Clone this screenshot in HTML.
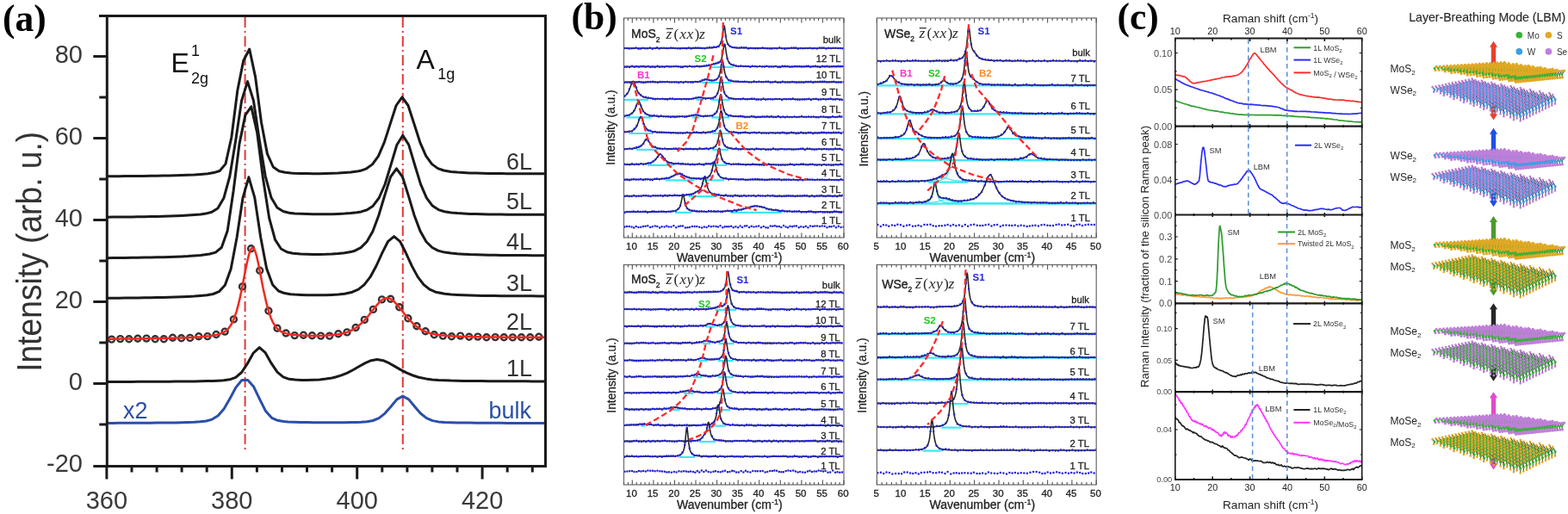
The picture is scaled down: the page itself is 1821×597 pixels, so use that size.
<!DOCTYPE html>
<html><head><meta charset="utf-8"><title>Raman figure</title>
<style>html,body{margin:0;padding:0;background:#fff;overflow:hidden}svg{display:block}</style></head>
<body><svg width="1821" height="597" viewBox="0 0 1821 597">
<rect width="1821" height="597" fill="#fff"/>
<line x1="284.6" y1="20" x2="284.6" y2="523" stroke="#e23a3a" stroke-width="2" stroke-dasharray="12,4,2,4"/>
<line x1="467.8" y1="20" x2="467.8" y2="523" stroke="#e23a3a" stroke-width="2" stroke-dasharray="12,4,2,4"/>
<path d="M123.9,204.8 131.2,204.8 138.4,204.7 145.7,204.6 153.0,204.5 160.2,204.5 167.5,204.4 174.8,204.3 182.1,204.2 189.3,204.0 196.6,203.9 203.9,203.7 211.1,203.5 218.4,203.2 225.7,202.9 232.9,202.4 241.3,201.7 248.2,200.6 255.1,198.5 262.0,190.4 268.9,159.2 275.8,105.2 282.7,70.5 289.7,57.0 296.6,89.4 303.5,142.3 310.4,178.6 317.3,194.0 324.2,198.7 331.1,200.2 338.0,200.9 342.0,201.2 349.3,201.5 356.5,201.6 363.8,201.7 371.1,201.7 378.4,201.5 385.6,201.3 392.9,201.1 400.2,200.6 407.4,200.0 414.7,199.1 418.7,198.3 425.6,195.8 432.5,190.9 439.4,181.3 446.3,165.4 453.2,143.9 460.1,122.5 467.0,112.8 474.0,122.5 480.9,143.8 487.8,165.3 494.7,181.1 501.6,190.6 508.5,195.6 515.4,198.0 523.8,199.4 531.0,200.1 538.3,200.5 545.6,200.9 552.8,201.1 560.1,201.3 567.4,201.4 574.6,201.6 581.9,201.6 589.2,201.7 596.4,201.7 603.7,201.8 611.0,201.8 618.3,201.8 625.5,201.8 632.8,201.8" fill="none" stroke="#1a1a1a" stroke-width="3" stroke-linejoin="round"/>
<path d="M123.9,252.2 131.2,252.1 138.4,252.1 145.7,252.0 153.0,251.9 160.2,251.8 167.5,251.7 174.8,251.5 182.1,251.4 189.3,251.2 196.6,251.0 203.9,250.8 211.1,250.5 218.4,250.1 225.7,249.6 232.9,249.0 239.1,248.1 246.0,246.3 252.9,241.9 259.8,230.3 266.8,205.0 273.7,163.3 280.6,116.9 287.5,94.6 294.4,116.8 301.3,163.0 308.2,204.6 315.1,229.8 322.0,241.2 328.9,245.5 335.8,247.2 342.0,247.9 349.3,248.3 356.5,248.6 363.8,248.8 371.1,248.8 378.4,248.8 385.6,248.7 392.9,248.4 400.2,248.1 407.4,247.6 414.7,246.7 419.4,245.9 426.3,243.8 433.2,239.2 440.1,230.0 447.1,214.0 454.0,191.4 460.9,168.2 467.8,157.3 474.7,168.1 481.6,191.3 488.5,213.9 495.4,229.9 502.3,239.1 509.2,243.6 516.1,245.7 523.8,246.9 531.0,247.6 538.3,248.0 545.6,248.4 552.8,248.6 560.1,248.8 567.4,248.9 574.6,249.0 581.9,249.1 589.2,249.2 596.4,249.2 603.7,249.3 611.0,249.3 618.3,249.3 625.5,249.3 632.8,249.3" fill="none" stroke="#1a1a1a" stroke-width="3" stroke-linejoin="round"/>
<path d="M123.9,299.7 131.2,299.6 138.4,299.5 145.7,299.4 153.0,299.3 160.2,299.2 167.5,299.1 174.8,299.0 182.1,298.8 189.3,298.7 196.6,298.5 203.9,298.2 211.1,297.9 218.4,297.6 225.7,297.1 232.9,296.5 243.5,295.0 250.4,293.1 257.3,287.5 264.2,268.1 271.1,221.8 278.0,167.1 284.9,133.6 291.8,123.8 298.7,154.5 305.6,208.0 312.6,253.0 319.5,278.4 326.4,289.0 333.3,292.8 340.2,294.2 349.3,295.0 356.5,295.3 363.8,295.5 371.1,295.4 378.4,295.3 385.6,295.0 392.9,294.5 400.2,293.8 407.4,292.6 412.2,291.2 419.1,287.6 426.0,280.8 432.9,268.7 439.8,250.3 446.7,227.2 453.6,205.4 460.5,195.8 467.4,205.3 474.3,227.1 481.2,250.3 488.1,268.6 495.0,280.7 501.9,287.5 508.8,291.1 516.5,293.1 523.8,294.1 531.0,294.8 538.3,295.2 545.6,295.6 552.8,295.8 560.1,296.0 567.4,296.2 574.6,296.3 581.9,296.4 589.2,296.5 596.4,296.6 603.7,296.6 611.0,296.6 618.3,296.7 625.5,296.7 632.8,296.7" fill="none" stroke="#1a1a1a" stroke-width="3" stroke-linejoin="round"/>
<path d="M123.9,346.3 131.2,346.2 138.4,346.2 145.7,346.1 153.0,346.0 160.2,345.9 167.5,345.8 174.8,345.7 182.1,345.6 189.3,345.4 196.6,345.3 203.9,345.1 211.1,344.8 218.4,344.5 225.7,344.1 232.9,343.5 240.6,342.7 247.5,341.5 254.4,338.7 261.3,331.2 268.2,312.2 275.1,275.8 282.0,229.8 288.9,205.8 295.8,229.7 302.7,275.5 309.6,311.8 316.6,330.7 323.5,338.0 330.4,340.6 337.3,341.7 342.0,342.1 349.3,342.5 356.5,342.8 363.8,342.8 371.1,342.8 378.4,342.7 385.6,342.4 392.9,342.0 400.2,341.2 409.2,339.2 416.2,336.2 423.1,330.7 430.0,321.7 436.9,309.0 443.8,293.9 450.7,280.3 457.6,274.6 464.5,280.3 471.4,293.8 478.3,308.9 485.2,321.6 492.1,330.6 499.0,336.1 505.9,339.2 516.5,341.3 523.8,342.1 531.0,342.5 538.3,342.8 545.6,343.1 552.8,343.3 560.1,343.4 567.4,343.5 574.6,343.6 581.9,343.7 589.2,343.7 596.4,343.8 603.7,343.8 611.0,343.8 618.3,343.8 625.5,343.9 632.8,343.9" fill="none" stroke="#1a1a1a" stroke-width="3" stroke-linejoin="round"/>
<path d="M123.9,491.4 131.2,491.4 138.4,491.3 145.7,491.3 153.0,491.3 160.2,491.3 167.5,491.2 174.8,491.2 182.1,491.1 189.3,491.1 196.6,491.0 203.9,490.9 211.1,490.7 218.4,490.5 225.7,490.3 232.6,489.8 239.5,489.0 246.4,487.1 253.3,482.8 260.2,474.7 267.1,462.8 274.0,449.9 280.9,441.5 287.8,441.5 294.7,449.3 301.7,463.9 308.6,477.6 315.5,485.3 322.4,488.3 329.3,489.5 334.7,489.9 342.0,490.2 349.3,490.4 356.5,490.6 363.8,490.7 371.1,490.8 378.4,490.8 385.6,490.8 392.9,490.8 400.2,490.7 407.4,490.6 414.7,490.5 419.4,490.3 426.3,489.7 433.2,488.5 440.1,485.6 447.1,480.1 454.0,472.2 460.9,463.9 467.8,460.1 474.7,463.9 481.6,472.2 488.5,480.2 495.4,485.6 502.3,488.6 509.2,489.9 516.1,490.4 523.8,490.7 531.0,490.9 538.3,491.0 545.6,491.1 552.8,491.2 560.1,491.2 567.4,491.3 574.6,491.3 581.9,491.3 589.2,491.4 596.4,491.4 603.7,491.4 611.0,491.4 618.3,491.4 625.5,491.4 632.8,491.4" fill="none" stroke="#2a4fa8" stroke-width="3" stroke-linejoin="round"/>
<path d="M123.9,443.4 131.2,443.4 138.4,443.4 145.7,443.4 153.0,443.4 160.2,443.3 167.5,443.3 174.8,443.3 182.1,443.2 189.3,443.2 196.6,443.2 203.9,443.1 211.1,443.1 218.4,443.0 225.7,442.9 232.9,442.8 240.2,442.6 247.5,442.4 252.9,442.2 259.8,441.8 266.8,440.8 273.7,438.3 280.6,432.5 287.5,422.1 294.4,409.8 301.3,403.6 308.2,409.7 315.1,421.9 322.0,432.2 328.9,437.9 335.8,440.3 342.7,441.1 349.6,441.4 356.5,441.4 363.8,441.2 371.1,440.9 378.4,440.1 385.6,439.0 389.6,438.0 396.5,435.9 403.4,433.1 410.3,429.5 417.2,425.5 424.2,421.6 431.1,418.7 438.0,417.5 444.9,418.7 451.8,421.7 458.7,425.6 465.6,429.6 472.5,433.1 479.4,436.0 486.3,438.2 494.7,439.9 501.9,440.9 509.2,441.5 516.5,441.8 523.8,442.1 531.0,442.2 538.3,442.4 545.6,442.5 552.8,442.5 560.1,442.6 567.4,442.7 574.6,442.7 581.9,442.7 589.2,442.8 596.4,442.8 603.7,442.8 611.0,442.8 618.3,442.9 625.5,442.9 632.8,442.9" fill="none" stroke="#1a1a1a" stroke-width="3" stroke-linejoin="round"/>
<circle cx="129.6" cy="394.1" r="3.5" fill="none" stroke="#333" stroke-width="2.4"/>
<circle cx="139.7" cy="393.6" r="3.5" fill="none" stroke="#333" stroke-width="2.4"/>
<circle cx="149.8" cy="393.7" r="3.5" fill="none" stroke="#333" stroke-width="2.4"/>
<circle cx="160.0" cy="393.3" r="3.5" fill="none" stroke="#333" stroke-width="2.4"/>
<circle cx="170.1" cy="393.1" r="3.5" fill="none" stroke="#333" stroke-width="2.4"/>
<circle cx="180.2" cy="393.8" r="3.5" fill="none" stroke="#333" stroke-width="2.4"/>
<circle cx="190.3" cy="393.7" r="3.5" fill="none" stroke="#333" stroke-width="2.4"/>
<circle cx="200.5" cy="392.2" r="3.5" fill="none" stroke="#333" stroke-width="2.4"/>
<circle cx="210.6" cy="392.8" r="3.5" fill="none" stroke="#333" stroke-width="2.4"/>
<circle cx="220.7" cy="392.4" r="3.5" fill="none" stroke="#333" stroke-width="2.4"/>
<circle cx="230.8" cy="390.7" r="3.5" fill="none" stroke="#333" stroke-width="2.4"/>
<circle cx="241.0" cy="390.6" r="3.5" fill="none" stroke="#333" stroke-width="2.4"/>
<circle cx="251.1" cy="388.5" r="3.5" fill="none" stroke="#333" stroke-width="2.4"/>
<circle cx="261.2" cy="385.1" r="3.5" fill="none" stroke="#333" stroke-width="2.4"/>
<circle cx="271.4" cy="370.9" r="3.5" fill="none" stroke="#333" stroke-width="2.4"/>
<circle cx="281.5" cy="332.9" r="3.5" fill="none" stroke="#333" stroke-width="2.4"/>
<circle cx="291.6" cy="288.8" r="3.5" fill="none" stroke="#333" stroke-width="2.4"/>
<circle cx="301.7" cy="314.2" r="3.5" fill="none" stroke="#333" stroke-width="2.4"/>
<circle cx="311.9" cy="361.0" r="3.5" fill="none" stroke="#333" stroke-width="2.4"/>
<circle cx="322.0" cy="381.3" r="3.5" fill="none" stroke="#333" stroke-width="2.4"/>
<circle cx="332.1" cy="387.0" r="3.5" fill="none" stroke="#333" stroke-width="2.4"/>
<circle cx="342.2" cy="389.6" r="3.5" fill="none" stroke="#333" stroke-width="2.4"/>
<circle cx="352.4" cy="389.3" r="3.5" fill="none" stroke="#333" stroke-width="2.4"/>
<circle cx="362.5" cy="389.8" r="3.5" fill="none" stroke="#333" stroke-width="2.4"/>
<circle cx="372.6" cy="390.1" r="3.5" fill="none" stroke="#333" stroke-width="2.4"/>
<circle cx="382.7" cy="390.1" r="3.5" fill="none" stroke="#333" stroke-width="2.4"/>
<circle cx="392.9" cy="387.8" r="3.5" fill="none" stroke="#333" stroke-width="2.4"/>
<circle cx="403.0" cy="385.9" r="3.5" fill="none" stroke="#333" stroke-width="2.4"/>
<circle cx="413.1" cy="380.5" r="3.5" fill="none" stroke="#333" stroke-width="2.4"/>
<circle cx="423.3" cy="371.4" r="3.5" fill="none" stroke="#333" stroke-width="2.4"/>
<circle cx="433.4" cy="359.4" r="3.5" fill="none" stroke="#333" stroke-width="2.4"/>
<circle cx="443.5" cy="347.9" r="3.5" fill="none" stroke="#333" stroke-width="2.4"/>
<circle cx="453.6" cy="347.3" r="3.5" fill="none" stroke="#333" stroke-width="2.4"/>
<circle cx="463.8" cy="356.7" r="3.5" fill="none" stroke="#333" stroke-width="2.4"/>
<circle cx="473.9" cy="369.8" r="3.5" fill="none" stroke="#333" stroke-width="2.4"/>
<circle cx="484.0" cy="378.8" r="3.5" fill="none" stroke="#333" stroke-width="2.4"/>
<circle cx="494.1" cy="384.7" r="3.5" fill="none" stroke="#333" stroke-width="2.4"/>
<circle cx="504.3" cy="388.8" r="3.5" fill="none" stroke="#333" stroke-width="2.4"/>
<circle cx="514.4" cy="390.1" r="3.5" fill="none" stroke="#333" stroke-width="2.4"/>
<circle cx="524.5" cy="390.8" r="3.5" fill="none" stroke="#333" stroke-width="2.4"/>
<circle cx="534.7" cy="390.1" r="3.5" fill="none" stroke="#333" stroke-width="2.4"/>
<circle cx="544.8" cy="391.2" r="3.5" fill="none" stroke="#333" stroke-width="2.4"/>
<circle cx="554.9" cy="391.1" r="3.5" fill="none" stroke="#333" stroke-width="2.4"/>
<circle cx="565.0" cy="391.8" r="3.5" fill="none" stroke="#333" stroke-width="2.4"/>
<circle cx="575.2" cy="391.6" r="3.5" fill="none" stroke="#333" stroke-width="2.4"/>
<circle cx="585.3" cy="391.8" r="3.5" fill="none" stroke="#333" stroke-width="2.4"/>
<circle cx="595.4" cy="391.9" r="3.5" fill="none" stroke="#333" stroke-width="2.4"/>
<circle cx="605.5" cy="391.7" r="3.5" fill="none" stroke="#333" stroke-width="2.4"/>
<circle cx="615.7" cy="391.7" r="3.5" fill="none" stroke="#333" stroke-width="2.4"/>
<circle cx="625.8" cy="391.2" r="3.5" fill="none" stroke="#333" stroke-width="2.4"/>
<path d="M123.9,393.8 125.7,393.8 127.5,393.7 129.4,393.7 131.2,393.7 133.0,393.7 134.8,393.7 136.6,393.7 138.4,393.7 140.3,393.6 142.1,393.6 143.9,393.6 145.7,393.6 147.5,393.6 149.3,393.5 151.2,393.5 153.0,393.5 154.8,393.5 156.6,393.5 158.4,393.4 160.2,393.4 162.1,393.4 163.9,393.4 165.7,393.4 167.5,393.3 169.3,393.3 171.2,393.3 173.0,393.3 174.8,393.2 176.6,393.2 178.4,393.2 180.2,393.1 182.1,393.1 183.9,393.1 185.7,393.0 187.5,393.0 189.3,393.0 191.1,392.9 193.0,392.9 194.8,392.9 196.6,392.8 198.4,392.8 200.2,392.7 202.1,392.7 203.9,392.6 205.7,392.6 207.5,392.5 209.3,392.5 211.1,392.4 213.0,392.3 214.8,392.3 216.6,392.2 218.4,392.1 220.2,392.0 222.0,391.9 223.9,391.9 225.7,391.7 227.5,391.6 229.3,391.5 231.1,391.4 232.9,391.3 234.8,391.1 236.6,391.0 238.4,390.8 240.2,390.6 242.0,390.4 243.9,390.2 245.7,389.9 247.5,389.6 249.3,389.3 251.1,388.9 252.9,388.5 254.8,388.0 256.6,387.4 258.4,386.7 260.2,385.7 262.0,384.5 263.8,383.0 265.7,381.1 267.5,378.6 269.3,375.5 271.1,371.7 272.9,366.9 274.8,361.3 276.6,354.7 278.4,347.1 280.2,338.7 282.0,329.6 283.8,320.2 285.7,310.8 287.5,302.2 289.3,294.9 291.1,289.9 292.9,287.6 294.7,288.6 296.6,292.5 298.4,298.9 300.2,307.1 302.0,316.2 303.8,325.6 305.6,334.9 307.5,343.5 309.3,351.4 311.1,358.4 312.9,364.4 314.7,369.4 316.6,373.6 318.4,376.9 320.2,379.6 322.0,381.7 323.8,383.3 325.6,384.6 327.5,385.5 329.3,386.3 331.1,386.9 332.9,387.4 334.7,387.8 336.5,388.2 338.4,388.5 340.2,388.7 342.0,388.9 343.8,389.1 345.6,389.3 347.5,389.4 349.3,389.5 351.1,389.6 352.9,389.7 354.7,389.8 356.5,389.8 358.4,389.9 360.2,389.9 362.0,389.9 363.8,389.9 365.6,390.0 367.4,389.9 369.3,389.9 371.1,389.9 372.9,389.9 374.7,389.8 376.5,389.7 378.4,389.7 380.2,389.6 382.0,389.5 383.8,389.3 385.6,389.2 387.4,389.0 389.3,388.8 391.1,388.6 392.9,388.3 394.7,388.0 396.5,387.7 398.3,387.2 400.2,386.8 402.0,386.2 403.8,385.6 405.6,384.9 407.4,384.1 409.2,383.1 411.1,382.1 412.9,381.0 414.7,379.7 416.5,378.3 418.3,376.8 420.2,375.1 422.0,373.3 423.8,371.4 425.6,369.3 427.4,367.2 429.2,364.9 431.1,362.6 432.9,360.3 434.7,358.0 436.5,355.7 438.3,353.6 440.1,351.6 442.0,349.8 443.8,348.3 445.6,347.2 447.4,346.4 449.2,346.1 451.0,346.2 452.9,346.8 454.7,347.8 456.5,349.2 458.3,350.8 460.1,352.8 462.0,354.9 463.8,357.1 465.6,359.4 467.4,361.7 469.2,364.1 471.0,366.3 472.9,368.5 474.7,370.6 476.5,372.6 478.3,374.4 480.1,376.2 481.9,377.8 483.8,379.2 485.6,380.6 487.4,381.8 489.2,382.9 491.0,383.8 492.9,384.7 494.7,385.5 496.5,386.1 498.3,386.7 500.1,387.2 501.9,387.7 503.8,388.1 505.6,388.4 507.4,388.7 509.2,389.0 511.0,389.2 512.8,389.5 514.7,389.6 516.5,389.8 518.3,389.9 520.1,390.1 521.9,390.2 523.8,390.3 525.6,390.4 527.4,390.5 529.2,390.6 531.0,390.7 532.8,390.7 534.7,390.8 536.5,390.9 538.3,390.9 540.1,391.0 541.9,391.0 543.7,391.1 545.6,391.1 547.4,391.2 549.2,391.2 551.0,391.2 552.8,391.3 554.6,391.3 556.5,391.3 558.3,391.4 560.1,391.4 561.9,391.4 563.7,391.5 565.6,391.5 567.4,391.5 569.2,391.5 571.0,391.5 572.8,391.6 574.6,391.6 576.5,391.6 578.3,391.6 580.1,391.6 581.9,391.6 583.7,391.7 585.5,391.7 587.4,391.7 589.2,391.7 591.0,391.7 592.8,391.7 594.6,391.7 596.4,391.7 598.3,391.7 600.1,391.8 601.9,391.8 603.7,391.8 605.5,391.8 607.4,391.8 609.2,391.8 611.0,391.8 612.8,391.8 614.6,391.8 616.4,391.8 618.3,391.8 620.1,391.8 621.9,391.8 623.7,391.8 625.5,391.8 627.3,391.8 629.2,391.8 631.0,391.8 632.8,391.8" fill="none" stroke="#ee2a22" stroke-width="2.5" stroke-linejoin="round"/>
<g stroke="#1a1a1a" stroke-width="3" fill="none" stroke-linecap="butt">
<path d="M115,18.5 H633.5 V541.5 H124.3 V18.5"/>
<line x1="108.3" y1="541.5" x2="124.3" y2="541.5"/>
<line x1="115.3" y1="493.0" x2="124.3" y2="493.0"/>
<line x1="108.3" y1="445.5" x2="124.3" y2="445.5"/>
<line x1="115.3" y1="398.0" x2="124.3" y2="398.0"/>
<line x1="108.3" y1="350.5" x2="124.3" y2="350.5"/>
<line x1="115.3" y1="303.0" x2="124.3" y2="303.0"/>
<line x1="108.3" y1="255.5" x2="124.3" y2="255.5"/>
<line x1="115.3" y1="208.0" x2="124.3" y2="208.0"/>
<line x1="108.3" y1="160.5" x2="124.3" y2="160.5"/>
<line x1="115.3" y1="113.0" x2="124.3" y2="113.0"/>
<line x1="108.3" y1="65.5" x2="124.3" y2="65.5"/>
<line x1="123.9" y1="541.5" x2="123.9" y2="556.5"/>
<line x1="153.0" y1="541.5" x2="153.0" y2="548.5"/>
<line x1="182.1" y1="541.5" x2="182.1" y2="548.5"/>
<line x1="211.1" y1="541.5" x2="211.1" y2="548.5"/>
<line x1="240.2" y1="541.5" x2="240.2" y2="548.5"/>
<line x1="269.3" y1="541.5" x2="269.3" y2="556.5"/>
<line x1="298.4" y1="541.5" x2="298.4" y2="548.5"/>
<line x1="327.5" y1="541.5" x2="327.5" y2="548.5"/>
<line x1="356.5" y1="541.5" x2="356.5" y2="548.5"/>
<line x1="385.6" y1="541.5" x2="385.6" y2="548.5"/>
<line x1="414.7" y1="541.5" x2="414.7" y2="556.5"/>
<line x1="443.8" y1="541.5" x2="443.8" y2="548.5"/>
<line x1="472.9" y1="541.5" x2="472.9" y2="548.5"/>
<line x1="501.9" y1="541.5" x2="501.9" y2="548.5"/>
<line x1="531.0" y1="541.5" x2="531.0" y2="548.5"/>
<line x1="560.1" y1="541.5" x2="560.1" y2="556.5"/>
<line x1="589.2" y1="541.5" x2="589.2" y2="548.5"/>
<line x1="618.3" y1="541.5" x2="618.3" y2="548.5"/>
</g>
<g font-family="Liberation Sans, Arial, sans-serif" font-size="29" fill="#3a3a3a">
<text x="96" y="547.7" text-anchor="end">-20</text>
<text x="96" y="452.7" text-anchor="end">0</text>
<text x="96" y="357.7" text-anchor="end">20</text>
<text x="96" y="262.7" text-anchor="end">40</text>
<text x="96" y="167.7" text-anchor="end">60</text>
<text x="96" y="72.7" text-anchor="end">80</text>
<text x="123.9" y="591" text-anchor="middle">360</text>
<text x="269.3" y="591" text-anchor="middle">380</text>
<text x="414.7" y="591" text-anchor="middle">400</text>
<text x="560.1" y="591" text-anchor="middle">420</text>
</g>
<g font-family="Liberation Sans, Arial, sans-serif" font-size="27" fill="#333">
<text x="618" y="197" text-anchor="end">6L</text>
<text x="618" y="242.5" text-anchor="end">5L</text>
<text x="618" y="290" text-anchor="end">4L</text>
<text x="618" y="337.5" text-anchor="end">3L</text>
<text x="618" y="383" text-anchor="end">2L</text>
<text x="618" y="437" text-anchor="end">1L</text>
</g>
<text x="617" y="486" text-anchor="end" font-family="Liberation Sans, Arial, sans-serif" font-size="27" fill="#2a4fa8">bulk</text>
<text x="143" y="486" font-family="Liberation Sans, Arial, sans-serif" font-size="27" fill="#2a4fa8">x2</text>
<g font-family="Liberation Sans, Arial, sans-serif" fill="#111">
<text x="198.5" y="83.6" font-size="32">E</text>
<text x="222" y="64.8" font-size="18">1</text>
<text x="222" y="97" font-size="18">2g</text>
<text x="483.5" y="79.5" font-size="32">A</text>
<text x="508.3" y="91.6" font-size="18">1g</text>
</g>
<text transform="translate(47.6,292.3) rotate(-90)" text-anchor="middle" font-family="Liberation Sans, Arial, sans-serif" font-size="40.5" fill="#333" textLength="279" lengthAdjust="spacingAndGlyphs">Intensity (arb. u.)</text>
<text x="3" y="36.3" font-family="Liberation Serif, Times New Roman, serif" font-weight="bold" font-size="43.5" fill="#000">(a)</text>
<defs><clipPath id="cb1"><rect x="724.5" y="21" width="255.5" height="255"/></clipPath><clipPath id="cb2"><rect x="1018.4" y="21" width="254.8" height="255"/></clipPath><clipPath id="cb3"><rect x="724.5" y="307.5" width="255.5" height="255.5"/></clipPath><clipPath id="cb4"><rect x="1018.4" y="307.5" width="254.8" height="255.5"/></clipPath></defs>
<g clip-path="url(#cb1)">
<path d="M724.5,56l2.9,0 3,0 2.9,0 3,0 2.9,0 3,0 2.9,0 3,0 2.9,0 3,0 2.9,0 3,0 2.9,0 3,0 2.9,0 3,0 2.9,0 3,0 2.9,0 3,0 2.9,0 3,0 2.9,0 3-.1 2.9,0 2.9,0 3,0 2.9,0 3,0 2.9,0 3-.1 2.9,0 3-.1 2.9-.1 3-.2 2.9-.4 1.1-.2 1-.4 .9-.3 .1-.1 1.1-.7 1-1 .7-1 .3-.6 1.1-2.9 .5-2.1 .5-3 .5-3.7 .1-.5 .4-3.7 .5-3.7 .5-1.6 .6,1.6 .5,3.7 .4,3.7 .1,.5 .5,3.7 .5,3 .5,2.1 .6,1.7 .5,1.2 .3,.6 .7,1 1,1.1 1.1,.6 .1,.1 .9,.3 1,.4 1.1,.2 2.9,.4 3,.2 2.9,.1 3,.1 2.9,0 3,.1 2.9,0 3,0 2.9,0 2.9,0 3,0 2.9,0 3,.1 2.9,0 3,0 2.9,0 3,0 2.9,0 3,0 2.9,0 3,0 2.9,0 3,0 2.9,0 3,0 2.9,0 3,0 2.9,0 3,0 2.9,0 3,0 2.9,0 3,0 2.9,0 3,0 2.9,0 2.9,0 3,0 2.9,0 3,0 2.9,0 3,0 2.9,0" fill="none" stroke="#262626" stroke-width="1.6" stroke-linejoin="round"/>
<path d="M725.5,56.1h0m2.7,0h0m2.5,.3h0m2.9-.2h0m2.5-.2h0m2.6-.4h0m2.9,1.1h0m2.5-.2h0m2.7-.7h0m2.6,.4h0m2.7,0h0m2.8-.7h0m2.8,1.2h0m3-.6h0m2.4-.8h0m2.5,1.3h0m2.6-.8h0m2.9-.1h0m2.8,.2h0m2.4,.2h0m2.9-.6h0m2.5,.3h0m2.5,.2h0m2.9,.2h0m2.7,.3h0m2.5-.5h0m2.6,.1h0m2.5,.2h0m2.4-.8h0m2.9,1h0m2.7-.7h0m2.5-.2h0m2.8-.2h0m2.5,.4h0m2.5,.2h0m2.8,.2h0m2.7-.7h0m2.7-.6h0m2.8,.3h0m2.6-.6h0m2.7,.2h0m2.6-.8h0m2.8-5.1h0m2.7-15.3h0m2.7,8.2h0m2.5,9.3h0m2.7,2.7h0m2.6,1.2h0m2.7,.3h0m2.5,.1h0m3,.1h0m2.4-.5h0m2.8,.2h0m2.4,.1h0m2.7,1.2h0m2.7-.7h0m2.6,.1h0m2.7,.3h0m3,0h0m2.6-.1h0m3-.6h0m2.5,.6h0m2.8,.1h0m2.8,.2h0m2.6,0h0m3-.5h0m2.9,.4h0m3-1h0m2.9,1h0m3,.4h0m2.6-.5h0m2.5-.1h0m2.9-.5h0m2.6-.2h0m2.5,.2h0m2.5,1.1h0m2.9-.8h0m2.9,.4h0m2.7-.4h0m2.8,.2h0m2.5-.3h0m2.8,.4h0m2.5-.1h0m3,.4h0m2.8-1.1h0m2.6,0h0m2.4,.2h0m2.7,.8h0m2.8-.7h0m2.8,.3h0m2.7-.3h0m2.7,.1h0m2.8,.2h0m2.7,0h0m2.7,.3h0" stroke="#2323dc" stroke-width="2.5" stroke-linecap="round" fill="none"/>
<line x1="823.8" y1="78.0" x2="851.8" y2="78.0" stroke="#3de8f4" stroke-width="2.2"/>
<path d="M724.5,77.4l2.9,0 3,0 2.9,0 3,0 2.9,0 3,0 2.9,0 3,0 2.9,0 3,0 2.9,0 3,0 2.9,0 3,0 2.9,0 3,0 2.9-.1 3,0 2.9,0 3,0 2.9,0 3,0 2.9,0 3,0 2.9,0 2.9-.1 3,0 1.5,0 1.4,0 1-.1 2,0 .5,0 2.4-.1 2.5-.1 .5,0 2-.1 .9-.1 1.5-.1 1.5-.2 1-.2 1.2-.3 .7-.2 .5-.1 1.3-.5 1.2-.5 1.2-.5 .3-.1 .9-.3 .3,0 .2-.1 .8,0 .2,0 1-.1 .2,0 .8-.1 .2-.1 .3,0 1-.5 .2-.2 1-1 .2-.3 1-2 .3-.6 .6-2.1 .3-1.6 .3-1.2 .5-2.8 .1-.8 .4-2.4 .2-1.7 .6-3.6 .6-1.5 .7,1.6 .3,2 .3,1.7 .6,4.2 .6,3.6 .6,2.9 .4,1.4 .2,.8 .3,.7 .3,.9 .7,1.2 .9,1.4 .3,.2 .7,.7 .5,.3 1,.6 .2,.1 1.3,.4 .9,.3 .3,.1 1.2,.2 .5,.1 .5,0 2.5,.3 2.9,.2 3,.1 2.9,.1 3,.1 2.9,0 3,0 2.9,.1 2.9,0 3,0 2.9,0 3,0 2.9,0 3,0 2.9,0 3,0 2.9,0 3,.1 2.9,0 3,0 2.9,0 3,0 2.9,0 3,0 2.9,0 3,0 2.9,0 3,0 2.9,0 3,0 2.9,0 3,0 2.9,0 3,0 2.9,0 2.9,0 3,0 2.9,0 3,0 2.9,0 3,0 2.9,0" fill="none" stroke="#262626" stroke-width="1.6" stroke-linejoin="round"/>
<path d="M725.5,77.8h0m2.6,0h0m3,.3h0m2.9-1.3h0m2.9,1h0m2.4-.7h0m2.6,.6h0m2.7-.6h0m2.5-.2h0m2.5,.9h0m3-.8h0m2.8,1h0m2.5-.5h0m2.7,.5h0m2.9-1.3h0m2.5,1.1h0m2.8-.4h0m2.9,.3h0m2.9-.6h0m2.5,.5h0m2.4-.2h0m2.9-.2h0m2.8-.3h0m2.5,.6h0m2.9,.5h0m2.4-.1h0m2.7-.8h0m2.6,.3h0m2.7-.7h0m2.9,.8h0m2.7,0h0m3-.8h0m2.9,.8h0m2.6-.5h0m2.7-.6h0m2.7-.4h0m2.9-.4h0m2.8-.3h0m3-.9h0m2.6-1h0m2.4-.8h0m2.6-1.2h0m2.5-9.5h0m2.7-9.6h0m2.5,15.5h0m2.5,5.3h0m2.6,1.8h0m2.5,.6h0m2.7,1.3h0m2.7,.3h0m2.9-.7h0m2.9,.7h0m2.7,0h0m2.9-.1h0m2.5,.8h0m2.4-1.1h0m2.9,.3h0m2.5,.5h0m3-.4h0m2.9,.4h0m2.8-.1h0m2.4-.6h0m2.8,.8h0m2.5-.1h0m2.6-.1h0m2.7-.5h0m2.6,1.1h0m2.5-.1h0m2.7-1.1h0m2.9-.1h0m2.9,.4h0m3,.6h0m2.6-.2h0m3-.6h0m2.5,.2h0m2.9-.1h0m2.5,.5h0m2.8-.2h0m2.7-.6h0m2.4,0h0m2.5,1.1h0m2.9-.9h0m2.7-.2h0m2.6,.9h0m2.8,.3h0m2.7-1.1h0m2.7,.5h0m2.6-.6h0m2.7,.7h0m2.9-.2h0m2.4-.1h0m2.5,.2h0m2.5-.5h0m2.7,.1h0m2.5,0h0" stroke="#2323dc" stroke-width="2.5" stroke-linecap="round" fill="none"/>
<line x1="814.9" y1="96.0" x2="848.8" y2="96.0" stroke="#3de8f4" stroke-width="2.2"/>
<path d="M724.5,95.4l2.9,0 3,0 2.9,0 3,0 2.9,0 3,0 2.9,0 3,0 2.9,0 3,0 2.9,0 3,0 2.9,0 3,0 2.9,0 3-.1 2.9,0 3,0 2.9,0 3,0 2.9,0 3,0 2.9,0 3-.1 2.9,0 2,0 .9,0 1-.1 2,0 2-.1 .9,0 1-.1 2-.1 2-.2 .9-.2 1-.2 1-.2 1-.4 1-.4 1-.5 .9-.5 1-.2 1,.1 1,.4 1,.4 1,.4 .9,.2 1,.1 1,.1 1,0 .2,0 1.3-.2 .4-.1 .8-.3 .2,0 1-.5 1.2-.9 .8-.8 .5-.7 1.2-2.7 .2-.7 .4-1.3 .6-2.8 .6-3.4 .4-2.4 .3-1.6 .6-3.6 .6-1.4 .5,.9 .1,.6 .6,3.5 .6,4 .6,3.5 .7,2.8 .3,1.3 .3,.7 .6,1.6 .6,1.1 1.2,1.6 .3,.2 1,.7 1.2,.7 .7,.2 .5,.2 1.2,.3 1.3,.2 2.9,.3 3,.2 2.9,.1 3,.1 2.9,.1 3,0 2.9,0 3,.1 2.9,0 2.9,0 3,0 2.9,0 3,0 2.9,0 3,0 2.9,0 3,.1 2.9,0 3,0 2.9,0 3,0 2.9,0 3,0 2.9,0 3,0 2.9,0 3,0 2.9,0 3,0 2.9,0 3,0 2.9,0 3,0 2.9,0 3,0 2.9,0 2.9,0 3,0 2.9,0 3,0 2.9,0 3,0 2.9,0" fill="none" stroke="#262626" stroke-width="1.6" stroke-linejoin="round"/>
<path d="M725.5,95.8h0m2.9-.3h0m2.8,.2h0m2.6-.3h0m2.9,.2h0m2.7,0h0m2.7-.6h0m2.6,.6h0m2.7,.3h0m2.6-.3h0m2.5-.5h0m2.9-.2h0m2.8-.2h0m2.7,.6h0m3,.5h0m2.8-.7h0m2.8-.2h0m2.7,.3h0m2.7-.2h0m2.5,.4h0m2.8,0h0m3,0h0m2.5,.1h0m2.6,.4h0m2.4-.7h0m2.9,.7h0m2.7-.8h0m2.8,.5h0m3-.1h0m2.5,.3h0m2.9-.9h0m2.8,.3h0m3-.5h0m2.4-1.6h0m2.6-.7h0m2.6,.1h0m2.9,.6h0m2.8,.2h0m3-.3h0m2.5-.8h0m2.9-3.7h0m2.8-13h0m2.6,1.8h0m3,12.2h0m2.9,3.8h0m2.7,.1h0m2.8,1h0m2.9,0h0m2.4,.1h0m2.5,.4h0m2.6,0h0m2.7-.2h0m2.7,.3h0m2.4,.5h0m2.7,.1h0m2.9-1h0m2.9,.6h0m2.9-.4h0m2.9,.4h0m2.4,.1h0m3-.6h0m2.6,.1h0m2.4,1h0m2.7-.4h0m3-.6h0m2.9,.9h0m3,.1h0m2.6-1.1h0m3,.9h0m2.8,0h0m2.6,0h0m2.7-.6h0m2.7,.3h0m2.5,.4h0m3-.2h0m2.4-.1h0m2.8,.4h0m2.6-.8h0m2.6-.1h0m2.9-.2h0m2.7,1.1h0m2.4-.9h0m3,.2h0m2.9-.4h0m2.7,0h0m2.5,0h0m2.8,.6h0m2.6,0h0m2.8-.2h0m2.5-.4h0m2.8,.9h0m2.6-.2h0m2.9,0h0m2.9-.2h0" stroke="#2323dc" stroke-width="2.5" stroke-linecap="round" fill="none"/>
<line x1="724.5" y1="115.9" x2="753.0" y2="115.9" stroke="#3de8f4" stroke-width="2.2"/>
<line x1="808.5" y1="115.9" x2="817.4" y2="115.9" stroke="#3de8f4" stroke-width="2.2"/>
<line x1="826.2" y1="115.9" x2="847.8" y2="115.9" stroke="#3de8f4" stroke-width="2.2"/>
<path d="M724.5,112l1.5-.9 1.4-1.3 .9-1 1.2-1.7 .9-1.8 .2-.5 1.2-3 1.2-3.3 .3-1.1 .8-1.9 1.2-1.2 1,.9 .2,.3 1.1,3 1.2,3.3 .4,1.2 .8,1.8 1.1,2.3 1.1,1.6 .1,.1 1.2,1.3 1.1,1 .5,.3 1.9,1 1.1,.4 1.2,.4 1.7,.4 .6,.1 2.4,.3 2.3,.3 .6,0 1.7,.2 1.3,0 2.9,.2 3,.1 2.9,0 3,.1 2.9,0 3,.1 2.9,0 3,0 2.9,0 1.5,0 1.5,0 .9,0 2,0 .5,0 2.5-.1 2.4,0 .5,0 2-.1 .9,0 1.5-.1 1.5-.2 1-.1 1.2-.1 .7-.2 .5-.1 1.3-.3 1.2-.3 1.2-.3 1.3-.1 .4,0 .8,.1 1.2,.2 1,.3 .2,0 1.3,.3 1.2,.1 .2,0 1,.1 1.2,.1 .8,0 .5,0 2.4-.2 .5,0 1.3-.2 .7-.1 .5-.2 1.2-.4 .7-.3 .5-.3 .5-.3 .8-.7 .7-.8 .5-.8 1-2.1 .2-.6 .6-2.2 .2-.5 .5-2.3 .6-3.7 .6-4.1 .2-1.6 .4-2.1 .1-.5 .5-1 .6,1.5 .6,3.7 .7,4.2 .1,.7 .5,2.9 .6,2.9 .6,2.1 .6,1.6 .6,1.2 1.3,1.6 1.2,1 .5,.3 .7,.4 1.2,.4 1,.3 .3,0 1.2,.2 1.5,.2 2.9,.3 3,.1 2.9,.1 3,.1 2.9,.1 3,0 2.9,0 3,.1 2.9,0 2.9,0 3,0 2.9,0 3,0 2.9,0 3,0 2.9,0 3,0 2.9,0 3,0 2.9,.1 3,0 2.9,0 3,0 2.9,0 3,0 2.9,0 3,0 2.9,0 3,0 2.9,0 3,0 2.9,0 3,0 2.9,0 3,0 2.9,0 2.9,0 3,0 2.9,0 3,0 2.9,0 3,0 2.9,0" fill="none" stroke="#262626" stroke-width="1.6" stroke-linejoin="round"/>
<path d="M725.5,111.8h0m2.8-2.9h0m2.6-5.3h0m2.7-6.5h0m2.6-1.8h0m2.7,6.1h0m2.7,6.5h0m2.6,2.4h0m3,2.3h0m2.9,.1h0m2.8,.7h0m2.7,.7h0m2.6,.7h0m2.5,.4h0m2.9-.5h0m3,.2h0m2.9-.1h0m3,.4h0m2.8,.4h0m2.8-1h0m2.8-.1h0m2.7,.8h0m2.5-.4h0m2.5,0h0m2.5,.4h0m2.9-.4h0m2.9,.4h0m2.9-.1h0m2.8-.2h0m2.8-.6h0m2.9-1h0m2.8-.1h0m2.7-.1h0m3,.9h0m2.8,.6h0m2.9-.8h0m2.9,.6h0m2.8-.5h0m2.5-1.4h0m2.5-4h0m2.7-11.9h0m2.7-3.5h0m2.5,14h0m2.5,4.1h0m2.9,2.5h0m2.7,.8h0m2.6,.4h0m2.8,.2h0m2.9-.1h0m2.9,.2h0m2.7-.8h0m2.6,.7h0m2.4,0h0m2.7-.1h0m2.4-.5h0m2.8,.2h0m2.5,.9h0m2.4-.2h0m2.9,.3h0m2.8-1.2h0m2.7,1.1h0m2.6-.4h0m2.9,0h0m2.6,.1h0m2.7-.4h0m2.4-.1h0m3,.1h0m2.6,.9h0m2.5-1h0m2.6,.3h0m2.7-.3h0m2.5,.4h0m2.5-.7h0m2.8,1h0m2.6,.2h0m2.5,0h0m2.8-.3h0m2.5,.1h0m2.5-.3h0m2.7-.6h0m2.6,1.2h0m2.8-.9h0m3-.3h0m2.8,1h0m2.9-.2h0m2.9-.6h0m2.8,.6h0m2.8-.5h0m2.8-.4h0m2.7,.9h0m2.6-.1h0m2.4-.4h0m2.7,.7h0m2.7,.2h0" stroke="#2323dc" stroke-width="2.5" stroke-linecap="round" fill="none"/>
<line x1="727.4" y1="136.3" x2="755.9" y2="136.3" stroke="#3de8f4" stroke-width="2.2"/>
<line x1="803.6" y1="136.3" x2="812.0" y2="136.3" stroke="#3de8f4" stroke-width="2.2"/>
<line x1="826.2" y1="136.3" x2="847.3" y2="136.3" stroke="#3de8f4" stroke-width="2.2"/>
<path d="M724.5,134.7l.5-.1 2.1-.3 .3,0 1.8-.4 1.2-.4 .9-.3 2-1.1 2.1-2 .9-1.2 .2-.3 1-1.9 1.1-2.6 .6-1.8 .4-1 1.1-2.6 1-1 .5,.2 .5,.8 1.1,2.6 1,2.8 .3,.8 .8,1.8 1,1.9 1.1,1.5 .1,.2 .9,.9 1,.9 1,.6 1.1,.5 1.9,.6 .2,.1 2.1,.4 .6,.1 1.5,.2 1.5,.2 .6,0 2.1,.2 .2,0 3,.1 2.9,.1 3,.1 2.9,0 3,.1 2.9,0 2.5,0 .5,0 1.9,0 1,0 1.5,0 1.5,0 .9-.1 2,0 .5,0 2.5-.1 2.4-.1 .5,0 2-.2 .9-.2 .3,0 1.2-.2 1.3-.3 .2-.1 1-.2 1.2-.3 .7-.1 .5-.1 1.3,.2 1.2,.2 1.2,.3 1.3,.3 .4,.1 .8,.1 1.2,.1 1,.1 .2,0 1.3,0 1.4,.1 1,0 2-.1 .5-.1 2.4-.2 1.3-.2 1.2-.3 .5-.1 .7-.3 1.2-.6 1-.8 .3-.2 1.2-1.6 1.2-2.8 .3-.8 .3-1.4 .7-2.8 .6-3.6 .6-4.2 .6-3.7 .1-.5 .5-1 .6,1.5 .6,3.7 .7,4.2 .6,3.6 .6,2.9 .6,2.1 .6,1.6 .6,1.2 .5,.8 .8,.8 1.2,1 1,.6 .2,.1 1.2,.4 1.3,.3 .2,.1 1,.1 2,.3 2.9,.2 3,.2 2.9,.1 3,0 2.9,.1 3,0 2.9,0 3,.1 2.9,0 2.9,0 3,0 2.9,0 3,0 2.9,0 3,0 2.9,0 3,0 2.9,0 3,.1 2.9,0 3,0 2.9,0 3,0 2.9,0 3,0 2.9,0 3,0 2.9,0 3,0 2.9,0 3,0 2.9,0 3,0 2.9,0 3,0 2.9,0 2.9,0 3,0 2.9,0 3,0 2.9,0 3,0 2.9,0" fill="none" stroke="#262626" stroke-width="1.6" stroke-linejoin="round"/>
<path d="M725.5,135.1h0m2.7-1h0m2.6-.3h0m2.8-2.1h0m2.6-3h0m2.6-5.8h0m2.9-5.3h0m2.6,5.2h0m2.5,6.1h0m2.4,2.5h0m2.7,1.5h0m2.6,1.6h0m2.7,.2h0m2.5-.7h0m3,.5h0m2.4,1h0m2.7-1h0m2.8,.8h0m2.9,.1h0m2.5,.1h0m2.9,.5h0m2.6-.5h0m2.4,.5h0m2.5-.4h0m2.9-.3h0m3-.1h0m2.7,.5h0m2.4-.1h0m3-1.2h0m2.8-.3h0m2.5-.4h0m2.8-.4h0m2.6,.4h0m2.8,1h0m2.9,.6h0m2.4-.9h0m2.5,.1h0m2.8,0h0m2.8-.1h0m2.7-2.3h0m2.5-2.3h0m2.7-11.7h0m2.9-5h0m2.5,14.2h0m2.8,5.5h0m2.6,1.5h0m2.7,0h0m2.9,.6h0m2.9,0h0m2.9,.4h0m2.4-.5h0m2.6,.5h0m2.5,.7h0m2.7,.1h0m2.8-.2h0m2.5-1h0m2.6,.6h0m2.4,.7h0m2.6-.2h0m2.4,.1h0m2.6-.5h0m2.8,.2h0m2.5-.5h0m2.7,.4h0m2.4-.4h0m2.4,.8h0m2.8,0h0m2.8-1.1h0m2.6,1.2h0m2.7-.8h0m2.5,.8h0m2.5-.7h0m2.6,.4h0m2.9,.1h0m3-.6h0m2.8,.6h0m2.5-.2h0m2.9-.8h0m2.5,.7h0m2.8,0h0m2.9-.2h0m2.8,.2h0m2.9-.2h0m3,.7h0m2.8,.1h0m2.8-.9h0m3,.1h0m2.6,.4h0m2.7,.5h0m2.6-.1h0m2.7-1h0m2.7,.6h0m2.6-.1h0m2.7-.8h0m2.4,.5h0" stroke="#2323dc" stroke-width="2.5" stroke-linecap="round" fill="none"/>
<line x1="730.4" y1="155.0" x2="757.9" y2="155.0" stroke="#3de8f4" stroke-width="2.2"/>
<line x1="827.2" y1="155.0" x2="847.8" y2="155.0" stroke="#3de8f4" stroke-width="2.2"/>
<path d="M724.5,153.7l2-.2 .9-.1 1-.1 2-.3 2-.5 .9-.3 1-.4 2-1.2 2-2.1 .9-1.5 1-2.1 1-2.7 1-3 1-2.7 1-1.1 .9,1.1 1,2.7 1,3 1,2.7 1,2.1 .9,1.5 1,1.2 1,.9 2,1.2 1.9,.7 1,.2 1,.2 2,.4 1.9,.2 1,.1 1,0 2,.2 2.9,.1 3,.1 2.9,0 3,.1 2.9,0 3,.1 2.9,0 3,0 2.9,0 3,0 2.9,0 2.9,0 3,0 2.9,0 3-.1 2.9,0 3-.1 2.9-.1 3-.2 2.9-.3 .5,0 1.3-.3 1.2-.3 1.2-.4 1.2-.6 .5-.4 .8-.6 1.2-1.6 1-2.1 .2-.7 .6-2.2 .7-2.8 .6-3.7 .6-4.1 .2-1.6 .4-2.1 .6-1.5 .6,1.5 .6,3.7 .7,4.1 .1,.8 .5,2.9 .6,2.8 .6,2.2 .6,1.6 .6,1.2 1.3,1.6 1.2,1 .5,.3 .7,.3 1.2,.4 1,.3 .3,0 1.2,.3 1.5,.2 2.9,.2 3,.2 2.9,.1 3,0 2.9,.1 3,0 2.9,.1 3,0 2.9,0 2.9,0 3,0 2.9,0 3,0 2.9,0 3,0 2.9,0 3,0 2.9,.1 3,0 2.9,0 3,0 2.9,0 3,0 2.9,0 3,0 2.9,0 3,0 2.9,0 3,0 2.9,0 3,0 2.9,0 3,0 2.9,0 3,0 2.9,0 2.9,0 3,0 2.9,0 3,0 2.9,0 3,0 2.9,0" fill="none" stroke="#262626" stroke-width="1.6" stroke-linejoin="round"/>
<path d="M725.5,153.1h0m3,0h0m2.4-.7h0m3,0h0m2.8-2.8h0m2.8-3.7h0m2.5-6.8h0m2.8-2.7h0m2.6,7.3h0m2.7,5.4h0m2.5,2.3h0m2.8,.3h0m2.9,1.7h0m2.6-.3h0m2.4,.6h0m2.6-.3h0m2.7,0h0m2.8,.3h0m2.6,.2h0m2.6,.1h0m2.6,.5h0m2.9-.3h0m2.8,.4h0m2.6,.1h0m2.7-.3h0m2.8,.3h0m2.7-.2h0m2.5-.8h0m2.8,.9h0m2.4-.1h0m2.6-.9h0m2.9-.1h0m2.6,.8h0m2.9,.1h0m2.4-.9h0m2.6,.9h0m2.9-.8h0m2.6,0h0m2.7-1.4h0m2.7,0h0m2.8-3.8h0m2.5-9.9h0m2.9-6.5h0m2.6,13.8h0m2.8,5h0m2.9,2.1h0m2.7,.8h0m2.6-.4h0m2.6,.4h0m2.7,1h0m2.6-.1h0m2.9-.7h0m2.6-.4h0m2.8,.7h0m2.5,.6h0m2.7-.9h0m2.7-.1h0m2.5,.7h0m2.8-.7h0m2.9,.9h0m2.7-.2h0m2.7,.2h0m2.9,0h0m2.7-.4h0m2.5,.3h0m2.8,.1h0m2.7-.4h0m2.5,.3h0m2.8-.8h0m2.5,.5h0m2.5,.8h0m2.4-.5h0m3-.8h0m2.6,.5h0m3,.7h0m2.8-.3h0m2.9-.9h0m2.5,.8h0m2.9,.1h0m3-.8h0m2.5,0h0m2.8,1.1h0m2.5-.7h0m2.7,.1h0m2.5-.1h0m2.4-.6h0m2.7,.1h0m2.8,.5h0m2.7-.2h0m2.9,.1h0m2.9-.4h0m2.8,.1h0m2.9-.2h0m2.9,1.1h0m2.7-1h0" stroke="#2323dc" stroke-width="2.5" stroke-linecap="round" fill="none"/>
<line x1="739.2" y1="173.9" x2="763.3" y2="173.9" stroke="#3de8f4" stroke-width="2.2"/>
<line x1="827.2" y1="173.9" x2="845.9" y2="173.9" stroke="#3de8f4" stroke-width="2.2"/>
<path d="M724.5,173l2.9-.1 1.5-.1 1.5,0 .7-.1 2.2-.1 2.3-.2 .7-.1 1.5-.2 1.4-.3 .8-.2 2.2-.7 2.2-1.3 .7-.6 .4-.4 1.1-1.3 1.1-1.7 .4-.6 .7-1.3 1.1-1.7 1.1-.7 1.1,.7 1.1,1.7 .8,1.3 .3,.6 1.2,1.7 1.1,1.3 .3,.4 .8,.6 1.1,.7 1.1,.6 2.2,.7 .7,.2 1.5,.3 1.5,.2 .7,.1 2.2,.2 2.2,.1 .8,0 1.4,.1 1.5,.1 3,0 2.9,.1 3,0 2.9,.1 3,0 2.9,0 3,0 2.9,0 2.9,0 3,0 2.9,0 3-.1 2.9,0 3-.1 2.9-.1 3-.1 2.4-.3 .5-.1 .8-.1 1.2-.2 1-.3 .2-.1 1.3-.5 1.2-.9 .2-.2 1-1.1 1.2-2.4 .7-1.8 .1-.5 .5-1.9 .6-3.1 .6-3.5 .6-3.1 .6-1.3 .6,1.3 .7,3.1 .6,3.5 .6,3.1 .5,2 .1,.4 .6,1.8 .6,1.4 .6,1 1,1.1 .3,.2 1.2,.9 1.2,.5 .3,.1 1,.3 1.2,.2 .7,.2 .5,0 2.5,.3 2.9,.2 3,.1 2.9,0 3,.1 2.9,0 3,.1 2.9,0 3,0 2.9,0 2.9,0 3,0 2.9,0 3,0 2.9,0 3,.1 2.9,0 3,0 2.9,0 3,0 2.9,0 3,0 2.9,0 3,0 2.9,0 3,0 2.9,0 3,0 2.9,0 3,0 2.9,0 3,0 2.9,0 3,0 2.9,0 3,0 2.9,0 2.9,0 3,0 2.9,0 3,0 2.9,0 3,0 2.9,0" fill="none" stroke="#262626" stroke-width="1.6" stroke-linejoin="round"/>
<path d="M725.5,173.3h0m2.9-.2h0m2.9-.5h0m2.8,.5h0m2.5-1.2h0m2.6-.8h0m2.9-.6h0m2.4-1.3h0m2.7-2.2h0m2.6-4.4h0m3,1h0m2.7,4h0m2.8,2.8h0m2.8,.4h0m2.6,1.7h0m2.7,.3h0m2.9,.2h0m2.8-.5h0m2.7,.8h0m2.7-.3h0m2.4-.1h0m2.7-.4h0m2.6,0h0m3,.1h0m2.8,.2h0m3,.8h0m2.8-.9h0m2.4,.3h0m2.6-.3h0m3,.6h0m2.4-.3h0m2.6,.5h0m2.8-1.2h0m2.7,.6h0m2.6-.1h0m2.5-.6h0m2.6,1h0m2.4-.9h0m2.9-.3h0m2.7-2.1h0m2.7-5.9h0m2.5-11.8h0m2.9,10h0m2.7,6.8h0m2.9,1.9h0m2.5,1.2h0m2.6,.4h0m2.5,.5h0m2.5-.7h0m2.7,1.1h0m2.8,0h0m2.5-.5h0m2.8,0h0m2.6,.6h0m2.5-.1h0m2.6-.5h0m2.8,.8h0m2.5-1.1h0m2.6,.5h0m2.6,.3h0m2.7-.5h0m3,1h0m2.8-.2h0m3,0h0m2.8-1.1h0m2.5,.8h0m2.7,.3h0m2.4-.5h0m2.4-.2h0m2.7,.6h0m2.8-.1h0m2.7-.2h0m2.8,.2h0m2.5,.3h0m2.9-.2h0m2.8-.3h0m2.5-.6h0m2.5-.1h0m2.5,1.4h0m2.8-1.4h0m2.9,.1h0m2.6,.7h0m2.6,.4h0m2.7-.4h0m2.9-.3h0m2.9,.5h0m2.7-.6h0m3,.2h0m2.6,.2h0m2.6-.2h0m2.5,.2h0m2.5-.8h0m2.8,.3h0m2.4-.1h0m2.9,1.1h0" stroke="#2323dc" stroke-width="2.5" stroke-linecap="round" fill="none"/>
<line x1="752.0" y1="191.8" x2="781.5" y2="191.8" stroke="#3de8f4" stroke-width="2.2"/>
<line x1="826.2" y1="191.8" x2="843.9" y2="191.8" stroke="#3de8f4" stroke-width="2.2"/>
<path d="M724.5,191l2.9,0 3-.1 2.9,0 3-.1 2.9-.1 .5,0 2.5-.1 .2,0 2.7-.1 2.7-.2 .3,0 2.4-.3 .5-.1 2.2-.4 .8-.1 1.9-.6 1-.4 1.7-.9 1.3-.9 .1-.1 1.4-1.3 1.3-1.7 .1-.2 1.3-1.7 1.3-1.7 .4-.3 1-.4 1.3,.7 .6,.7 .8,1 1.3,1.9 .9,1.1 .5,.6 1.3,1.3 1.1,.8 .3,.2 1.3,.7 1.4,.6 2.7,.7 .2,.1 2.5,.4 .5,0 2.2,.2 .7,.1 2,.1 1,.1 1.7,.1 1.2,0 1.5,.1 1.5,0 2.9,.1 2.9,0 3,0 2.9,0 3,0 2.9,0 3-.1 2.9-.1 3-.1 1-.1 1.2-.2 .7-.1 .5-.1 1.3-.3 1.2-.5 1.2-.7 1.2-1.2 .5-.7 .8-1.3 .6-1.6 .6-2.1 .6-2.6 .4-1.8 .2-1.3 .6-2.7 .7-1.1 .6,1.1 .6,2.7 .2,1.3 .4,1.8 .6,2.6 .6,2.1 .6,1.6 .7,1.2 .1,.2 .5,.6 1.2,1.2 1.2,.7 1.3,.5 1.2,.3 .5,.1 .7,.2 1.2,.1 1,.1 3,.2 2.9,.1 3,.1 2.9,.1 3,0 2.9,0 3,.1 2.9,0 3,0 2.9,0 2.9,0 3,0 2.9,0 3,0 2.9,0 3,0 2.9,.1 3,0 2.9,0 3,0 2.9,0 3,0 2.9,0 3,0 2.9,0 3,0 2.9,0 3,0 2.9,0 3,0 2.9,0 3,0 2.9,0 3,0 2.9,0 3,0 2.9,0 2.9,0 3,0 2.9,0 3,0 2.9,0 3,0 2.9,0" fill="none" stroke="#262626" stroke-width="1.6" stroke-linejoin="round"/>
<path d="M725.5,190.8h0m2.7,.3h0m2.9,.2h0m2.9-1h0m2.8,.7h0m2.5-.4h0m2.4,.4h0m2.8-1h0m2.8,1h0m2.7-.4h0m2.8-1.2h0m2.7,.2h0m2.9-2h0m2.7-2.4h0m2.9-3.1h0m2.6-3.1h0m3,2.9h0m2.5,2.6h0m2.9,3.6h0m2.5,1.1h0m2.4,0h0m2.7,1.2h0m2.6-.4h0m2.7-.2h0m2.7,.4h0m2.5-.2h0m3,.4h0m2.8,.2h0m2.6,.7h0m2.6-.5h0m2.6,.4h0m3-.5h0m2.4-.5h0m2.8,.9h0m2.4,.3h0m2.7-1.3h0m2.5,.1h0m2.5,.4h0m2.4-1h0m2.7-1.6h0m2.7-7h0m3-7.5h0m2.7,11.2h0m2.8,3.6h0m2.5,1.8h0m2.8,.2h0m2.6,.8h0m2.6-.7h0m2.9,.2h0m2.9-.3h0m2.6,.4h0m2.9,.2h0m3,.5h0m2.8-.5h0m2.8,.3h0m2.6-.7h0m2.6,.6h0m2.6,.1h0m2.6,.4h0m2.5-.2h0m2.8,.4h0m2.9-.6h0m2.5-.7h0m2.8,1.1h0m2.8-.3h0m2.9,.2h0m2.8,.2h0m2.8,.1h0m2.4-.3h0m2.5,.3h0m3-.2h0m2.9-1h0m2.4,.4h0m2.4,.8h0m2.4-.9h0m2.6,.3h0m2.9-.6h0m2.6,0h0m2.8,.6h0m2.5,.2h0m2.5-.7h0m2.9,0h0m2.7,.8h0m2.5,.2h0m2.6-.4h0m2.6,.6h0m2.9-.9h0m2.6,.8h0m3-.2h0m2.9,.3h0m2.5-.1h0m2.8-.6h0m2.6,.4h0m2.8-1.1h0m3,.7h0" stroke="#2323dc" stroke-width="2.5" stroke-linecap="round" fill="none"/>
<line x1="772.7" y1="209.3" x2="806.6" y2="209.3" stroke="#3de8f4" stroke-width="2.2"/>
<line x1="815.9" y1="209.3" x2="840.9" y2="209.3" stroke="#3de8f4" stroke-width="2.2"/>
<path d="M724.5,208.6l2.9,0 3,0 2.9-.1 3,0 2.9,0 3,0 2.9,0 3-.1 1,0 1.9,0 2-.1 1,0 2.9,0 3-.1 1-.1 1.9,0 2-.1 1-.1 2.9-.2 3-.3 1-.2 1.9-.3 2-.4 1-.3 .9-.3 2-.8 2-1 1-.5 .9-.6 2-1 2-.4 1,.1 .9,.3 2,1 2,1.1 1,.5 .9,.4 2,.8 2,.5 .9,.3 1,.1 2,.3 2.9,.3 1,.1 2,0 2,.1 .9-.1 2,0 1-.1 .5-.1 1.5-.1 .9-.2 .5-.1 .5-.2 1-.3 1-.4 .5-.3 1.5-1.2 .9-1.3 .5-.9 .8-1.6 .7-2.2 .7-2.8 .3-1 .5-2.2 .7-2.8 .7-1.1 .8,1.1 .2,.9 .5,2 .8,3.2 .7,2.8 .7,2.2 .3,.6 .5,1 .7,1.3 .7,.9 1,.9 .5,.4 1.5,.7 1,.4 .5,.1 1.4,.4 1,.1 .5,.1 1.5,.2 1,.1 2.9,.2 3,.1 2.9,.1 3,.1 2.9,0 3,.1 2.9,0 3,0 2.9,0 3,.1 2.9,0 2.9,0 3,0 2.9,0 3,0 2.9,0 3,0 2.9,0 3,0 2.9,0 3,0 2.9,0 3,0 2.9,.1 3,0 2.9,0 3,0 2.9,0 3,0 2.9,0 3,0 2.9,0 3,0 2.9,0 3,0 2.9,0 3,0 2.9,0 2.9,0 3,0 2.9,0 3,0 2.9,0 3,0 2.9,0" fill="none" stroke="#262626" stroke-width="1.6" stroke-linejoin="round"/>
<path d="M725.5,208.7h0m2.7-.3h0m2.6,.8h0m2.5-.6h0m2.7-.7h0m2.7,.7h0m2.8,0h0m2.6-.7h0m2.8,1h0m2.6-.7h0m2.9,.1h0m2.8,.6h0m2.7,0h0m2.6-1.2h0m2.5-.2h0m2.8,.8h0m3-.7h0m2.9,0h0m2.6-.9h0m2.7,.1h0m2.5-1.6h0m2.6-1h0m2.5-1.6h0m2.4-.4h0m2.6-.7h0m2.5,.8h0m2.6,2h0m3,1.1h0m2.6,.8h0m2.7,.9h0m2.8-.1h0m2.7,.6h0m2.8-.4h0m2.4,.9h0m2.8-.8h0m2.6-.1h0m2.6-.6h0m2.7-2.3h0m2.4-6.3h0m2.6-9.5h0m2.5,7.8h0m2.5,6.2h0m3,3.4h0m2.9,1h0m2.9,.2h0m3,1.5h0m2.8-.9h0m3,.2h0m2.7,.4h0m3,.3h0m2.9-.3h0m2.5-.1h0m2.8,.7h0m2.8,.1h0m2.8-.4h0m2.6-.3h0m2.9-.3h0m2.8,.1h0m2.4,.5h0m2.8,0h0m3,.5h0m2.8-.2h0m2.9-.5h0m2.9-.4h0m3,.2h0m2.6,.2h0m2.6-.3h0m2.9,1.2h0m3-.5h0m2.5,0h0m2.9-.4h0m2.5,.5h0m2.9-.4h0m2.7,.4h0m2.7,.3h0m2.6-1h0m2.8,1h0m3-1h0m2.6,.1h0m2.7,.1h0m2.9,.2h0m2.8,.3h0m3-.4h0m2.8,.3h0m2.7-.4h0m2.6,.7h0m2.8-.2h0m2.8-.4h0m2.9,.5h0m2.9,.1h0m2.8-.1h0m2.4,.3h0m2.6-1.1h0m2.5,.7h0" stroke="#2323dc" stroke-width="2.5" stroke-linecap="round" fill="none"/>
<line x1="799.7" y1="228.2" x2="831.1" y2="228.2" stroke="#3de8f4" stroke-width="2.2"/>
<path d="M724.5,227.6l2.9,0 3,0 2.9-.1 3,0 2.9,0 3,0 2.9,0 3,0 2.9,0 3,0 2.9,0 3,0 2.9,0 3,0 2.9-.1 3,0 1.9,0 1,0 2.7,0 .3-.1 2.9,0 .5,0 2.5-.1 1.2,0 1.7,0 2-.1 1,0 2.7-.2 .2,0 3-.2 .4-.1 2.5-.2 1.2-.2 1.7-.4 .2,0 1.8-.5 .5-.1 .5-.2 .9-.3 .1,0 1.5-.7 .2-.1 .2-.1 1-.5 .6-.3 .9-.4 .5-.3 .5-.3 .5-.3 1.3-1 .2-.1 .4-.5 1-1.4 .3-.5 .5-1.1 .7-2.1 .5-1.7 .1-.5 .1-.5 .8-3.2 .7-2.8 .3-.6 .4-.5 .5,.7 .3,.7 .6,2.5 .1,.5 .8,3.5 .7,3 .2,.9 .3,.8 .2,.7 .8,1.8 .6,1.2 .1,.2 .7,1 .5,.6 .5,.4 .5,.4 1.5,.9 .5,.2 1,.4 .2,.1 1.2,.3 .5,.1 1,.2 1,.1 .5,.1 .5,.1 2.7,.2 .2,0 3,.2 .5,0 2.4,.1 1.3,.1 1.7,0 1.9,.1 1,0 3,0 2.9,.1 3,0 2.9,0 3,.1 2.9,0 3,0 2.9,0 3,0 2.9,0 2.9,0 3,0 2.9,0 3,0 2.9,0 3,0 2.9,.1 3,0 2.9,0 3,0 2.9,0 3,0 2.9,0 3,0 2.9,0 3,0 2.9,0 3,0 2.9,0 3,0 2.9,0 3,0 2.9,0 3,0 2.9,0 3,0 2.9,0 2.9,0 3,0 2.9,0 3,0 2.9,0 3,0 2.9,0" fill="none" stroke="#262626" stroke-width="1.6" stroke-linejoin="round"/>
<path d="M725.5,227.9h0m2.6-.5h0m2.6,.5h0m3,.2h0m2.5-1.1h0m2.7,1h0m2.9-.2h0m2.9-.1h0m2.7-.8h0m2.9,.2h0m2.6,.5h0m2.6,.5h0m3-1.2h0m2.9,.4h0m2.6,0h0m2.9-.2h0m3,.6h0m2.5-1h0m2.8,.8h0m2.5-.7h0m3,.4h0m2.8-.6h0m2.6,.5h0m2.6,.1h0m3-.2h0m2.9-.2h0m2.9-.7h0m2.6,0h0m2.5-.2h0m2.5-.6h0m2.5-1.7h0m3-1.5h0m2.6-1.9h0m2.7-7h0m2.9-7.9h0m2.5,10.3h0m2.8,7.4h0m2.8,1.9h0m2.8,.3h0m2.5,.8h0m2.5,.1h0m3,1h0m2.8,.3h0m2.4-.8h0m2.5,1.2h0m2.9-.1h0m2.7,.3h0m2.8-1.3h0m2.7,.5h0m2.5,.9h0m2.7-.3h0m2.5-.7h0m2.4,.7h0m2.9-.5h0m2.9,.2h0m2.8-.4h0m2.4,.9h0m3-1h0m2.5,.4h0m2.8,.1h0m3,.3h0m2.7-.9h0m2.8,.7h0m3-.5h0m2.5,.6h0m2.7,.2h0m2.5-.5h0m2.8,.7h0m2.8-.3h0m2.4-.2h0m2.5-.4h0m2.8,.3h0m2.5,0h0m2.7,.5h0m2.5-.5h0m3,.1h0m2.7-.1h0m2.5-.5h0m2.8,.2h0m3,1h0m2.7-.9h0m2.9,.9h0m2.9-.6h0m2.8-.2h0m2.5-.3h0m2.4,.6h0m2.5,.4h0m2.7-.9h0m2.6,.3h0m2.8,.4h0m2.5-.3h0m2.8,.6h0m2.9-1.3h0m2.7,.2h0" stroke="#2323dc" stroke-width="2.5" stroke-linecap="round" fill="none"/>
<line x1="784.0" y1="246.9" x2="803.1" y2="246.9" stroke="#3de8f4" stroke-width="2.2"/>
<line x1="848.3" y1="246.9" x2="907.8" y2="246.9" stroke="#3de8f4" stroke-width="2.2"/>
<path d="M724.5,246.2l2.9,0 3,0 2.9,0 3,0 2.9,0 3,0 2.9,0 3,0 2.9-.1 3,0 2.9,0 3,0 2.9,0 3-.1 2.9,0 3-.1 2.9-.1 3-.1 2.9-.3 .5,0 1.2-.2 1.3-.2 1.2-.4 1.2-.5 .5-.2 .7-.5 1.3-1.3 1-1.6 .2-.5 .6-1.7 .6-2.2 .6-2.8 .7-3.2 .2-1.2 .4-1.6 .6-1.2 .6,1.2 .6,2.8 .6,3.2 .2,.6 .4,2.2 .7,2.2 .6,1.6 .6,1.3 .6,.9 1.2,1.2 1.3,.8 .4,.2 .8,.2 1.2,.4 1,.2 .2,0 .3,0 1,.2 1.4,.1 3,.2 2,0 .9,.1 3,0 2.9,0 .5,0 2.5,0 2.9,0 2,0 1,0 2.9-.1 3-.1 .5,0 2.4,0 3-.1 1.9-.1 1-.1 3-.1 2.9-.2 .5,0 2.5-.2 2.9-.3 2-.3 1-.1 2.7-.5 .2,0 3-.6 .5-.1 2.4-.7 1.2-.3 1.8-.5 1.9-.6 1-.3 2.7-.7 .3-.1 2.9-.3 .5,0 2.4,.2 1.3,.2 1.7,.4 2,.6 .9,.3 2.7,.8 .3,.1 2.9,.8 .5,.1 2.5,.5 1.2,.3 1.7,.2 2,.3 1,.2 2.7,.3 .2,0 3,.3 .5,0 2.4,.2 3,.1 1.9,.1 1,.1 3,.1 2.9,.1 .5,0 2.5,.1 2.9,0 2,.1 1,0 2.9,0 3,.1 .5,0 2.4,0 3,0 1.9,.1 1,0 3,0 2.9,0 .5,0 2.5,0 2.9,.1 2.9,0 3,0 2.9,0 3,0 2.9,0 3,0 2.9,0" fill="none" stroke="#262626" stroke-width="1.6" stroke-linejoin="round"/>
<path d="M725.5,246.9h0m2.5-.9h0m2.6,.1h0m2.5-.2h0m2.5-.3h0m2.5,.3h0m2.8-.4h0m2.9,.6h0m2.9-.4h0m2.8-.2h0m2.5,1.2h0m2.7-.5h0m2.6-.7h0m2.4-.1h0m2.8,.7h0m2.7-.4h0m3-.3h0m2.5,.4h0m2.8,.4h0m3-.4h0m2.6,0h0m2.6-.6h0m2.9-.1h0m2.8-2.4h0m2.7-3.7h0m2.9-12.8h0m2.7,9.7h0m2.4,6.1h0m2.7,1.8h0m2.8,.8h0m2.8,.1h0m2.7,.6h0m3,.1h0m2.7-.2h0m2.9,.4h0m2.7,.5h0m2.7-1.1h0m2.9,.3h0m3-.1h0m2.4,.6h0m2.5-.3h0m2.9,.6h0m2.5-.2h0m3-.7h0m2.7-.5h0m2.5,.4h0m2.7,.3h0m2.6-1.4h0m2.6,.9h0m2.4-1.4h0m2.8,.3h0m2.6-1.4h0m2.7-.5h0m2.6-.7h0m2.7-.7h0m2.5-.8h0m2.8-.4h0m2.7,.2h0m2.9,.6h0m2.6,.4h0m2.8,.2h0m2.8,1.9h0m2.9,.6h0m2.9,.4h0m2.5,.5h0m2.4-.4h0m2.4,.5h0m2.5,1h0m2.8-.6h0m2.6,1h0m2.9,.1h0m2.7-.5h0m3,.9h0m2.8-.6h0m2.8,0h0m2.5-.2h0m2.7,1.2h0m2.8-.3h0m2.9,.3h0m2.9-1.1h0m2.6,0h0m2.8,1.2h0m2.6,.1h0m2.6-.5h0m2.6-.1h0m3,.3h0m2.4,.1h0m3-.1h0m2.8,.3h0m2.8-.1h0m2.4-1.1h0m2.5,.2h0m3,.9h0m2.4,.2h0m2.8-.9h0" stroke="#2323dc" stroke-width="2.5" stroke-linecap="round" fill="none"/>
<path d="M725.5,263.4h0m2.5-.5h0m2.7,0h0m2.9,.7h0m2.6,.9h0m2.5-1.5h0m2.7,1.1h0m2.9-.3h0m2.7-.8h0m2.6-.2h0m2.7-.6h0m2.8,1.8h0m2.6-.8h0m3-.7h0m2.6,.5h0m2.8,1.4h0m2.5-1.1h0m3,.3h0m2.6-1.1h0m2.5,1.1h0m2.8-.1h0m2.9-1.3h0m2.8,2.1h0m2.8-1.2h0m2.4-.5h0m2.6-.1h0m2.9,1.9h0m2.5-.2h0m2.5-.3h0m2.9-.8h0m2.8-.2h0m2.7,.1h0m2.9,.7h0m2.9,.8h0m2.7-1h0m2.8,.4h0m2.5-1.5h0m2.7,.9h0m2.8-.6h0m2.9,.4h0m2.4,.3h0m2.6-1.1h0m2.8,2h0m2.5-1.1h0m2.4,0h0m2.4,.1h0m2.6-.5h0m2.5,1.4h0m2.7-.9h0m2.7,1h0m2.5-1.7h0m2.5,1.5h0m2.8-1.6h0m2.4-.2h0m2.8,1.8h0m2.6-1.4h0m2.8,.7h0m2.9-.5h0m2.8-.3h0m2.8,1.7h0m2.7-1.3h0m2.7,1.3h0m2.5,.2h0m2.8-2.1h0m2.6,.3h0m2.5-.4h0m2.4,.8h0m2.6,0h0m2.5,.8h0m2.7-1.8h0m2.6,1.4h0m2.5,.8h0m2.4-1.6h0m2.6,.6h0m2.4-.9h0m2.5,.2h0m2.8,1.7h0m2.5-1h0m2.9,.4h0m2.6-1h0m2.6,1.6h0m2.7-1.7h0m2.8,.3h0m2.5-.4h0m2.7,0h0m2.9,.4h0m2.7-.3h0m3,.2h0m2.8,1.4h0m2.7-1h0m2.4,0h0m2.9-.8h0m2.5,1.9h0m2.8-1.6h0m2.8,1.3h0m3-.4h0" stroke="#2323dc" stroke-width="2.5" stroke-linecap="round" fill="none"/>
<path d="M839.8,26.0 838.5,70.0 837.0,120.0 836.0,150.0 835.0,175.0 832.0,195.0 826.0,208.0 816.0,220.0 805.0,230.0 793.5,240.0" fill="none" stroke="#ff2a2a" stroke-width="2.3" stroke-dasharray="7,3.5" stroke-linecap="butt"/>
<path d="M828.5,64.3 822.0,90.0 815.0,115.0 809.0,135.0 804.7,150.0 797.0,165.0 786.8,175.9" fill="none" stroke="#ff2a2a" stroke-width="2.3" stroke-dasharray="7,3.5" stroke-linecap="butt"/>
<path d="M735.3,94.8 741.0,118.0 746.0,138.0 751.8,160.0 758.0,172.0 767.7,182.3 778.0,193.0 788.4,203.0 805.0,214.0 821.8,223.6 840.0,231.0 860.0,239.0 878.6,244.1" fill="none" stroke="#ff2a2a" stroke-width="2.3" stroke-dasharray="7,3.5" stroke-linecap="butt"/>
<path d="M847.5,152.8 856.0,163.0 867.1,175.4 880.0,185.0 891.3,192.0 905.0,198.0 915.4,202.5 936.5,208.5" fill="none" stroke="#ff2a2a" stroke-width="2.3" stroke-dasharray="7,3.5" stroke-linecap="butt"/>
</g>
<rect x="724.5" y="21.0" width="255.5" height="255.0" fill="none" stroke="#6a6a6a" stroke-width="1.2"/>
<path d="M724.5,276.0v-3M724.5,21.0v3M729.4,276.0v-3M729.4,21.0v3M734.3,276.0v-5.5M734.3,21.0v5.5M739.2,276.0v-3M739.2,21.0v3M744.2,276.0v-3M744.2,21.0v3M749.1,276.0v-3M749.1,21.0v3M754.0,276.0v-3M754.0,21.0v3M758.9,276.0v-5.5M758.9,21.0v5.5M763.8,276.0v-3M763.8,21.0v3M768.7,276.0v-3M768.7,21.0v3M773.6,276.0v-3M773.6,21.0v3M778.5,276.0v-3M778.5,21.0v3M783.5,276.0v-5.5M783.5,21.0v5.5M788.4,276.0v-3M788.4,21.0v3M793.3,276.0v-3M793.3,21.0v3M798.2,276.0v-3M798.2,21.0v3M803.1,276.0v-3M803.1,21.0v3M808.0,276.0v-5.5M808.0,21.0v5.5M812.9,276.0v-3M812.9,21.0v3M817.9,276.0v-3M817.9,21.0v3M822.8,276.0v-3M822.8,21.0v3M827.7,276.0v-3M827.7,21.0v3M832.6,276.0v-5.5M832.6,21.0v5.5M837.5,276.0v-3M837.5,21.0v3M842.4,276.0v-3M842.4,21.0v3M847.3,276.0v-3M847.3,21.0v3M852.2,276.0v-3M852.2,21.0v3M857.2,276.0v-5.5M857.2,21.0v5.5M862.1,276.0v-3M862.1,21.0v3M867.0,276.0v-3M867.0,21.0v3M871.9,276.0v-3M871.9,21.0v3M876.8,276.0v-3M876.8,21.0v3M881.7,276.0v-5.5M881.7,21.0v5.5M886.6,276.0v-3M886.6,21.0v3M891.6,276.0v-3M891.6,21.0v3M896.5,276.0v-3M896.5,21.0v3M901.4,276.0v-3M901.4,21.0v3M906.3,276.0v-5.5M906.3,21.0v5.5M911.2,276.0v-3M911.2,21.0v3M916.1,276.0v-3M916.1,21.0v3M921.0,276.0v-3M921.0,21.0v3M926.0,276.0v-3M926.0,21.0v3M930.9,276.0v-5.5M930.9,21.0v5.5M935.8,276.0v-3M935.8,21.0v3M940.7,276.0v-3M940.7,21.0v3M945.6,276.0v-3M945.6,21.0v3M950.5,276.0v-3M950.5,21.0v3M955.4,276.0v-5.5M955.4,21.0v5.5M960.3,276.0v-3M960.3,21.0v3M965.3,276.0v-3M965.3,21.0v3M970.2,276.0v-3M970.2,21.0v3M975.1,276.0v-3M975.1,21.0v3M980.0,276.0v-5.5M980.0,21.0v5.5" stroke="#555" stroke-width="1.1" fill="none"/>
<g font-family="Liberation Sans, Arial, sans-serif" font-size="11.5" fill="#222" stroke="#222" stroke-width="0.3" text-anchor="middle">
<text x="733.5" y="289.5">10</text>
<text x="758.1" y="289.5">15</text>
<text x="782.7" y="289.5">20</text>
<text x="807.2" y="289.5">25</text>
<text x="831.8" y="289.5">30</text>
<text x="856.4" y="289.5">35</text>
<text x="880.9" y="289.5">40</text>
<text x="905.5" y="289.5">45</text>
<text x="930.1" y="289.5">50</text>
<text x="954.6" y="289.5">55</text>
<text x="979.2" y="289.5">60</text>
</g>
<text x="847.0" y="304.0" text-anchor="middle" font-family="Liberation Sans, Arial, sans-serif" font-size="14" fill="#222" stroke="#222" stroke-width="0.3">Wavenumber (cm<tspan font-size="9" dy="-5">-1</tspan><tspan dy="5">)</tspan></text>
<text transform="translate(713.6,148.0) rotate(-90)" text-anchor="middle" font-family="Liberation Sans, Arial, sans-serif" font-size="13.8" fill="#222" stroke="#222" stroke-width="0.25">Intensity (a.u.)</text>
<g font-family="Liberation Sans, Arial, sans-serif" font-size="11.3" fill="#222" stroke="#222" stroke-width="0.3" text-anchor="end">
<text x="976.5" y="49.6">bulk</text>
<text x="976.5" y="71.6">12 TL</text>
<text x="976.5" y="90.9">10 TL</text>
<text x="976.5" y="111.3">9 TL</text>
<text x="976.5" y="131.4">8 TL</text>
<text x="976.5" y="150.2">7 TL</text>
<text x="976.5" y="168.8">6 TL</text>
<text x="976.5" y="187.0">5 TL</text>
<text x="976.5" y="204.7">4 TL</text>
<text x="976.5" y="224.0">3 TL</text>
<text x="976.5" y="242.1">2 TL</text>
<text x="976.5" y="259.6">1 TL</text>
</g>
<text x="733.0" y="44.3" font-family="Liberation Sans, Arial, sans-serif" font-size="14" fill="#222" stroke="#222" stroke-width="0.35">MoS<tspan font-size="8.5" dy="4.5">2</tspan></text>
<g font-family="Liberation Serif, Times New Roman, serif" font-style="italic" font-size="17.5" fill="#2a2a2a"><text x="773.5" y="44.5">z</text><line x1="773.7" y1="33.3" x2="781.8" y2="33.3" stroke="#2a2a2a" stroke-width="1.2"/><text x="782.5" y="44.5" font-style="normal">(</text><text x="789.3" y="44.5">x</text><text x="797.5" y="44.5">x</text><text x="806.5" y="44.5" font-style="normal">)</text><text x="812.1" y="44.5">z</text></g>
<text x="848.0" y="40.4" font-family="Liberation Sans, Arial, sans-serif" font-size="11.5" font-weight="bold" fill="#2424ee">S1</text>
<text x="806.5" y="71.5" font-family="Liberation Sans, Arial, sans-serif" font-size="11.5" font-weight="bold" fill="#22c822">S2</text>
<text x="740.0" y="91.3" font-family="Liberation Sans, Arial, sans-serif" font-size="11.5" font-weight="bold" fill="#ff30d0">B1</text>
<text x="854.5" y="149.7" font-family="Liberation Sans, Arial, sans-serif" font-size="11.5" font-weight="bold" fill="#ff8a1e">B2</text>
<g clip-path="url(#cb2)">
<path d="M1018.4,70.8l3.4,0 3.4,0 3.4,0 3.4,0 3.4,0 3.4,0 3.4,0 3.4,0 3.4-.1 3.4,0 3.4,0 3.4,0 3.4,0 3.4,0 3.4,0 3.4,0 3.4,0 3.4,0 3.3-.1 3.4,0 3.4,0 3.4-.1 3.4-.1 3.4,0 3.4-.2 3.4-.2 2.3-.2 1.1-.2 1.2-.1 1.9-.5 .3,0 .9-.3 1.2-.5 .2-.1 1-.6 .1-.1 1.1-.9 .1-.1 1.1-1.4 1.1-2.3 .1-.1 1.2-4.2 .6-3.2 .4-2.8 .2-1.3 .5-5.4 .4-3.7 .2-2.3 .6-5.5 .3-1.7 .3-.7 .6,2 .3,1.8 .3,3.1 .6,5.5 .2,1.8 .4,3 .6,3.6 .1,.7 .5,1.9 .6,1.8 .1,.2 .5,1 .6,.9 .6,.7 .5,.6 .7,.8 .5,.7 .7,.9 .4,.7 .7,1 .4,.4 .8,.9 .4,.4 .8,.7 .3,.2 1.1,.7 1.2,.5 1.1,.5 2.3,.5 1.1,.2 1.1,.2 2.3,.2 2.3,.2 1.1,.1 1.1,0 2.3,.1 3.4,.1 3.4,.1 3.4,.1 3.4,0 3.4,0 3.4,0 3.4,.1 3.4,0 3.4,0 3.4,0 3.4,0 3.4,0 3.4,0 3.4,0 3.4,0 3.4,0 3.3,.1 3.4,0 3.4,0 3.4,0 3.4,0 3.4,0 3.4,0 3.4,0 3.4,0 3.4,0 3.4,0 3.4,0 3.4,0 3.4,0 3.4,0 3.4,0 3.4,0 3.4,0 3.4,0" fill="none" stroke="#262626" stroke-width="1.6" stroke-linejoin="round"/>
<path d="M1019.4,70.7h0m3.4,.7h0m3.4-.6h0m3.5-.5h0m3.4,.6h0m3.6-.7h0m3.2,0h0m3.6,.8h0m3.1,.4h0m3.7-.4h0m3.5-.7h0m3.1,.5h0m3.1-.5h0m3.3-.2h0m3.4,.5h0m3.6,.1h0m3.4,0h0m3.5-.1h0m3.3,.7h0m3.7-.2h0m3.5-.8h0m3.3,0h0m3.1,.6h0m3.4,0h0m3.3,.1h0m3.6-1.5h0m3.2,1h0m3.4-.3h0m3.3-2.1h0m3.5-1h0m3.3-7.3h0m3.3-23.7h0m3.5,15.1h0m3.3,8.2h0m3.1,5h0m3.2,2.9h0m3.4,1.1h0m3.5,.7h0m3.5,.3h0m3.4,.4h0m3.2,1.2h0m3.6-.8h0m3.6-.1h0m3.4,1h0m3.5-1.1h0m3.7,.2h0m3.2,.8h0m3.3-.6h0m3.2-.3h0m3.4,.2h0m3.5,.2h0m3.3,.9h0m3.4-.6h0m3.7-.5h0m3.1,1h0m3.6-.9h0m3.2,.7h0m3.7-.8h0m3.7,1h0m3.4-.6h0m3.2-.6h0m3.7,.3h0m3.5,0h0m3.6,.5h0m3.3-.6h0m3.5-.1h0m3.2,.7h0m3.7,0h0m3.2,.5h0m3.3-1.3h0m3.2,.6h0m3.1-.4h0m3.4,.6h0m3.1-.3h0m3.7,.9h0" stroke="#2323dc" stroke-width="2.5" stroke-linecap="round" fill="none"/>
<line x1="1018.4" y1="99.4" x2="1273.2" y2="99.4" stroke="#3de8f4" stroke-width="2.2"/>
<path d="M1018.4,97.8l1.1-.1 2.3-.4 .3-.1 2.5-.6 .6-.2 2-1 1.3-.9 .1-.2 1.1-1 1.3-1.6 1-1.4 .3-.3 1.2-1.6 1.3-.6 .6,.1 .7,.5 1.3,1.5 1.2,1.8 .2,.2 1.1,1.3 1.3,1.3 1,.7 .3,.2 1.2,.6 1.3,.5 .6,.2 2,.5 1.4,.3 1.1,.1 2.3,.3 .3,0 2.5,.2 .6,0 2,.1 1.4,0 1.1,.1 2.3,0 3.4,.1 3.4,0 3.4,0 3.4,0 3.4,0 2.2-.1 1.1,0 .3-.1 1.4,0 1.5-.1 .2,0 1.2-.2 1.4-.2 .8-.2 .6-.1 1.4-.7 .7-.4 .7-.6 .7-.8 .8-.9 .7-.8 .7-.3 .5,.2 .2,.1 .7,.7 .7,.9 .7,.7 .7,.6 .4,.3 .3,.1 .7,.3 .7,.3 1.5,.2 .2,0 1.2,.1 1.4,0 .8,0 .6,0 1.4-.2 .3,0 1.1-.2 .6-.1 .6-.2 .5-.2 1.2-.4 .5-.3 .6-.4 1.1-.9 .6-.7 .6-.8 .5-1 .6-1.4 .6-1.7 .5-2.4 .6-3.1 .6-4.1 .5-5.3 .6-6 .6-5.4 .5-2.3 .6,2 .6,5.1 .5,5.7 .6,4.9 .5,3.8 .6,2.7 .6,1.9 .5,1.3 .6,.9 .6,.6 .5,.5 .6,.4 .6,.4 .5,.5 .6,.6 .6,.6 .5,.6 .6,.6 .6,.6 .5,.5 .6,.4 1.1,.8 1.2,.6 1.1,.4 1.1,.4 2.3,.4 2.3,.3 1.1,.1 1.1,.1 2.3,.2 2.3,.1 1.1,0 1.1,.1 2.3,0 3.4,.1 3.4,0 3.4,.1 3.4,0 3.4,0 3.4,.1 3.4,0 3.4,0 3.4,0 3.4,0 3.4,0 3.4,0 3.4,0 3.4,0 3.4,0 3.4,0 3.3,0 3.4,.1 3.4,0 3.4,0 3.4,0 3.4,0 3.4,0 3.4,0 3.4,0 3.4,0 3.4,0 3.4,0 3.4,0 3.4,0 3.4,0 3.4,0 3.4,0 3.4,0 3.4,0" fill="none" stroke="#262626" stroke-width="1.6" stroke-linejoin="round"/>
<path d="M1019.4,98h0m3.5-1.4h0m3.1-1.3h0m3.6-1.6h0m3.7-5.7h0m3.5,1.1h0m3.5,4.3h0m3.7,2.2h0m3.4,1.9h0m3.7,.6h0m3.5,.3h0m3.7-.4h0m3.5,.9h0m3.6-.6h0m3.6,.6h0m3.4-.3h0m3.3-.1h0m3.5-.7h0m3.5,1.2h0m3.6-.6h0m3.3-.5h0m3.5-2.3h0m3.6-3h0m3.5,3.3h0m3.5,1.5h0m3.2,.3h0m3.4-.6h0m3.7-2h0m3.1-3.8h0m3.5-20.8h0m3.2,4h0m3.5,14.3h0m3.6,3h0m3.5,3.1h0m3.4,2.4h0m3.6,.9h0m3.4-.1h0m3.3-.4h0m3.4,1.1h0m3.6-.1h0m3.6-.5h0m3.2,.3h0m3.3-.3h0m3.4,.6h0m3.4-.4h0m3.6,.9h0m3.3-1.2h0m3.2,1.1h0m3.1-.2h0m3.4-.6h0m3.6-.4h0m3.2,.7h0m3.1,.5h0m3.2-1h0m3.2,.7h0m3.3,0h0m3.5,.3h0m3.7-.2h0m3.2-.3h0m3.2-.6h0m3.4,1h0m3.2-.7h0m3.3,.6h0m3.4-.1h0m3.6-.3h0m3.6,.7h0m3.1,.1h0m3.5-1.1h0m3.4,.6h0m3.7-.3h0m3.4,.7h0m3.6,.1h0m3.4-.4h0m3.2,.1h0m3.6-.1h0" stroke="#2323dc" stroke-width="2.5" stroke-linecap="round" fill="none"/>
<line x1="1018.4" y1="132.4" x2="1273.2" y2="132.4" stroke="#3de8f4" stroke-width="2.2"/>
<path d="M1018.4,131.4l3.4-.1 3.4-.1 2.8-.2 .6-.1 1.1-.1 1.7-.3 .6-.1 1.1-.2 1.7-.5 .6-.2 1.1-.5 1.7-1.3 .6-.6 1.1-1.6 .9-1.6 .8-2.2 .6-1.8 .3-1 .8-3.2 .9-2.8 .8-1.2 .6,.5 .3,.7 .8,2.8 .9,3.2 .8,2.8 .6,1.5 .3,.7 .8,1.6 .9,1.2 .8,.9 .6,.5 1.1,.8 1.7,.7 .6,.2 1.1,.3 1.7,.3 .6,.1 1.1,.1 1.7,.2 .6,0 .5,0 2,.1 .9,0 1.1,.1 2-.1 .3,0 1.7,0 1.7-.1 .2-.1 2-.2 1.2-.2 .8-.3 1-.3 1-.5 .6-.4 .4-.3 1-.7 1-.6 .9-.3 1,.3 1,.6 1,.7 .4,.3 .6,.3 1,.5 1,.4 .8,.2 .2,.1 1,.1 2,.3 .2,0 1.7,.1 1.7,.1 .3,0 2,0 1.1-.1 .9,0 2-.1 .5,0 3.4-.5 1.2-.2 1.2-.3 1-.4 .1,0 1.2-.7 1.2-.9 .9-1 .3-.4 1.2-2.3 1.2-4 .6-3.1 .1-.8 .5-3.2 .6-5.2 .6-6 .6-5.2 .6-2.2 .5,2 0,.2 .6,5.2 .6,5.9 .6,5.1 .6,4.1 .6,3 .4,1.6 .2,.7 .4,1.1 .2,.6 1.2,2.2 .8,1 .4,.3 .2,.2 1,.6 .7,.4 .5,.2 1.2,.3 .6,.1 .5,0 1.7,.1 .6,0 1.7-.3 1.7-.5 .6-.2 2.2-1.4 .6-.6 .6-.6 1.1-1.5 1.1-2.1 .6-1.1 .6-1.2 1.1-2 1.1-.8 .6,.2 .6,.7 1.1,2 1.1,2.4 .6,1.1 .6,1 1.1,1.6 1.1,1.2 .6,.5 .6,.4 1.1,.7 1.7,.7 .6,.2 2.2,.6 .6,.1 1.7,.3 1.7,.2 .6,0 2.2,.2 .6,0 1.7,.1 1.7,.1 3.4,.1 3.4,.1 3.4,.1 3.4,0 3.4,.1 3.4,0 3.4,0 3.4,0 3.4,.1 3.4,0 3.4,0 3.3,0 3.4,0 3.4,0 3.4,0 3.4,0 3.4,0 3.4,0 3.4,0 3.4,0 3.4,0 3.4,0 3.4,.1 3.4,0 3.4,0 3.4,0 3.4,0 3.4,0 3.4,0 3.4,0" fill="none" stroke="#262626" stroke-width="1.6" stroke-linejoin="round"/>
<path d="M1019.4,131h0m3.6,.9h0m3.7-.8h0m3.6-.6h0m3.6,0h0m3.4-2.6h0m3.3-3.6h0m3.6-11.5h0m3.1,5.5h0m3.1,8.1h0m3.2,2.3h0m3.6,1h0m3.2,1h0m3.5,.7h0m3.6,.2h0m3.3-.1h0m3.2-1.3h0m3.4-.6h0m3.6-1.6h0m3.4-.1h0m3.4,1.4h0m3.3,1.7h0m3.7-.6h0m3.6,1.1h0m3.4-.6h0m3.2-.4h0m3.4-.5h0m3.1-.8h0m3.4-5.2h0m3.6-21.8h0m3.4,9.1h0m3.2,13.7h0m3.3,4h0m3.7-.2h0m3.3-.4h0m3.4-.2h0m3.6-4.2h0m3.3-6.6h0m3.5,3.1h0m3.2,5.5h0m3.1,2h0m3.2,2h0m3.3,.2h0m3.5,.1h0m3.5,.3h0m3.4,.3h0m3.3,.5h0m3.3-.1h0m3.4,.2h0m3.2-.4h0m3.4,.7h0m3.5,.3h0m3.4,0h0m3.3-.1h0m3.6,.2h0m3.2-.8h0m3.7-.1h0m3.7,.9h0m3.2-.9h0m3.5,.1h0m3.2,.8h0m3.3-.1h0m3.2-.5h0m3.5-.5h0m3.2,.9h0m3.7,.4h0m3.2-.6h0m3.5,0h0m3.5-.5h0m3.2-.1h0m3.1,.6h0m3.4,.1h0m3.2-.6h0m3.2,.9h0m3.7,.2h0" stroke="#2323dc" stroke-width="2.5" stroke-linecap="round" fill="none"/>
<line x1="1018.4" y1="161.1" x2="1273.2" y2="161.1" stroke="#3de8f4" stroke-width="2.2"/>
<path d="M1018.4,160.3l3.4-.1 3.4,0 3.4-.1 3.4-.1 3.4-.2 3.4-.2 .6,0 1.6-.2 1.2-.2 .5-.1 1.7-.4 1.2-.3 .5-.2 .6-.2 1.1-.6 1.2-.8 .5-.5 1.7-2.2 .9-1.7 .3-.7 .5-1.6 .6-1.8 .3-1.1 .8-3.2 .9-3 .3-.6 .5-.7 .9,1.1 .8,2.6 .9,2.9 .3,.9 .5,1.6 .6,1.3 .3,.6 .8,1.2 .9,.7 .3,.2 .5,.3 .6,.2 1.1,.5 1.2,.8 .5,.5 .6,.5 1.1,.9 1.2,.8 .5,.3 .6,.3 1.1,.5 1.2,.4 .5,.1 .6,.1 2.3,.4 2.2,.3 1.2,.1 1.1,0 2.2,.1 2.3,.1 1.1,0 1.2,0 2.2,0 3.4,0 3.4-.1 3.4-.1 3.4-.3 2.3-.4 1.1-.3 .1-.1 1.2-.4 1.2-.6 .9-.7 .3-.2 1.1-1.4 1.2-2.3 .8-2.4 .4-1.6 .6-3 .6-4.1 .6-5.2 .6-5.9 .6-5.2 0-.2 .6-2 .6,2.2 .6,5.2 .6,5.9 .6,5.2 .4,3.2 .2,.9 .6,3 .6,2.3 .5,1.7 1.2,2.3 .3,.4 .9,1 1.2,.9 1.2,.6 .1,0 1.1,.4 1.2,.3 1.1,.3 3.4,.4 3.4,.1 3.4,.1 3.4,0 1.7,0 1.7,0 .8,0 2.6-.2 2.5-.1 .9-.1 1.7-.2 1.7-.3 .8-.2 2.6-.7 2.5-1.4 .9-.6 .4-.4 1.3-1.4 1.3-1.7 .4-.7 .8-1.3 1.3-1.8 1.3-.7 1.3,.7 1.2,1.8 .9,1.4 .4,.6 1.3,1.8 1.3,1.3 .4,.4 .8,.7 1.3,.7 1.3,.6 2.5,.8 .9,.2 1.7,.3 1.7,.2 .8,.1 2.6,.2 2.5,.2 .9,0 1.7,.1 1.7,0 3.4,.1 3.4,.1 3.4,0 3.3,.1 3.4,0 3.4,0 3.4,0 3.4,.1 3.4,0 3.4,0 3.4,0 3.4,0 3.4,0 3.4,0 3.4,0 3.4,0 3.4,0 3.4,0 3.4,0 3.4,0 3.4,.1 3.4,0" fill="none" stroke="#262626" stroke-width="1.6" stroke-linejoin="round"/>
<path d="M1019.4,159.6h0m3.7,.6h0m3.5-.3h0m3.4,.2h0m3.4,0h0m3.1,0h0m3.6-1.1h0m3.4,.3h0m3.3-1.8h0m3.2-1.9h0m3.1-5.6h0m3.6-10h0m3.6,10.1h0m3.3,3.1h0m3.4,2.8h0m3.6,1.5h0m3.7,1.8h0m3.5,.6h0m3.4,.3h0m3.6-.1h0m3.6,.1h0m3.3,0h0m3.2-.6h0m3.3-.6h0m3.4,.6h0m3.4-1h0m3.7-.6h0m3.3-3.3h0m3.4-15.6h0m3.4-6.7h0m3.5,20.8h0m3.5,5h0m3.1,.7h0m3.6,.1h0m3.3,0h0m3.2,.5h0m3.2-.1h0m3.6,.4h0m3.4,.5h0m3.5-.2h0m3.5-.6h0m3.1-.9h0m3.6-2.2h0m3.6-3.2h0m3.4-4.9h0m3.4,1.5h0m3.1,5.1h0m3.4,2.3h0m3.5,1.1h0m3.2,1.1h0m3.5-.1h0m3.5,.2h0m3.1,.1h0m3.1,0h0m3.6,.4h0m3.6,.6h0m3.1,.3h0m3.7-1.2h0m3.7,.5h0m3.3,.8h0m3.3-.6h0m3.6,.3h0m3.4,.4h0m3.6-.6h0m3.2,.1h0m3.4-.6h0m3.1,.5h0m3.2-.2h0m3.5,.1h0m3.2,.1h0m3.4,.3h0m3.4,.3h0m3.7-.3h0m3.2-.9h0m3.6,1h0" stroke="#2323dc" stroke-width="2.5" stroke-linecap="round" fill="none"/>
<line x1="1018.4" y1="186.2" x2="1273.2" y2="186.2" stroke="#3de8f4" stroke-width="2.2"/>
<path d="M1018.4,185.4l3.4,0 3.4,0 3.4,0 3.4-.1 3.4,0 3.4-.1 3.4-.1 3.4-.1 3.4-.1 1.1-.1 2.3-.2 2.2-.2 1.2-.1 1.1-.2 2.3-.5 2.2-.7 1.2-.5 1.1-.7 2.3-2 1.1-1.6 1.1-2.1 1.2-2.7 1.1-3 1.1-2.7 1.2-1.1 1.1,1.1 1.1,2.6 1.2,3.1 1.1,2.6 1.1,2.1 1.2,1.6 1.1,1.1 1.1,.9 1.1,.6 1.2,.5 2.2,.7 2.3,.4 1.1,.2 1.2,.1 2.2,.1 2.3,0 1.1,0 3.4-.2 .9-.1 1.3-.2 1.2-.4 1.3-.4 1.3-.8 .8-.7 .5-.4 1.2-1.9 1.3-3.3 .4-1.7 .2-.9 .7-3.4 .6-4.3 .7-5 .6-4.4 .6-1.8 .7,1.9 .6,4.3 .6,5 .7,4.4 .6,3.4 .2,.9 .4,1.6 .7,2 .6,1.4 1.3,1.9 .4,.5 .9,.7 1.2,.8 1.3,.5 1.3,.4 1.3,.2 .8,.2 3.4,.4 3.4,.2 3.4,.1 3.4,.1 3.4,0 3.4,.1 3.4,0 3.4,0 3.4,0 3.4,0 3.4,0 3.4-.1 1.1,0 2.3,0 .5,0 2.9-.1 2.8-.1 .6,0 2.2-.2 1.2-.1 1.7-.1 1.7-.3 1.1-.2 2.3-.5 .5-.2 1.4-.6 1.5-.8 1.4-.9 1.4-1.2 .6-.4 .8-.5 1.4-.5 1.2,.3 .2,.2 1.5,.9 1.4,1.2 .3,.2 1.1,.8 1.4,.7 .9,.4 .5,.2 1.4,.4 1.5,.4 2.8,.4 .5,.1 2.3,.2 1.1,0 1.7,.1 1.7,.1 1.2,.1 2.2,0 .6,0 2.8,.1 3.4,.1 3.4,0 3.4,0 3.4,0 3.4,.1 3.4,0 3.4,0 3.4,0 3.4,0 3.4,0 3.4,0 3.4,0 3.4,0 3.4,0" fill="none" stroke="#262626" stroke-width="1.6" stroke-linejoin="round"/>
<path d="M1019.4,185.2h0m3.3,.5h0m3.4-.2h0m3.5,.2h0m3.2-.7h0m3.7,.8h0m3.6-1.2h0m3.1,.2h0m3.4,.4h0m3.2-.3h0m3.1-.9h0m3.5,.2h0m3.5-1h0m3.4-1.6h0m3.3-2.4h0m3.6-8.7h0m3.2-3.3h0m3.4,8.1h0m3.3,4.7h0m3.2,2.8h0m3.3,.9h0m3.7,.1h0m3.5,.8h0m3.6-.5h0m3.3-.8h0m3.7-.9h0m3.1-1.8h0m3.4-10.1h0m3.3-13.8h0m3.1,18.7h0m3.5,6h0m3.3,2.6h0m3.5,.1h0m3.2,.5h0m3.5,.2h0m3.2,.6h0m3.5,.4h0m3.6,0h0m3.4-.1h0m3.3-.7h0m3.3,.9h0m3.6-.9h0m3.4,.1h0m3.3,0h0m3.3-.3h0m3.4,.8h0m3.5,0h0m3.4-1.1h0m3.6,.7h0m3.2-1.6h0m3.4-.1h0m3.5-1.1h0m3.5-2.9h0m3.1-.4h0m3.6,2h0m3.1,2.5h0m3.7,.1h0m3.5,.5h0m3.5,1h0m3.2-.5h0m3.6,.6h0m3.6-.1h0m3.3,.8h0m3.5-.6h0m3.4,.3h0m3.5,.3h0m3.4-.1h0m3.5,.1h0m3.6,0h0m3.6,.2h0m3.5-.6h0m3.5,.3h0m3.3-.5h0m3.2,.5h0m3.7-.5h0" stroke="#2323dc" stroke-width="2.5" stroke-linecap="round" fill="none"/>
<line x1="1077.9" y1="211.6" x2="1124.3" y2="211.6" stroke="#3de8f4" stroke-width="2.2"/>
<path d="M1018.4,211l.6,0 .5,0 .6,0 .6,0 .5,0 .6-.1 .6,0 .5,0 .6,0 .6,0 .5,0 .6,0 .6,0 .5,0 .6,0 .6,0 .5,0 .6,0 .6,0 .5,0 .6,0 .6,0 .5,0 .6,0 .6,0 .5,0 .6,0 .6,0 .5,0 .6,0 .6,0 .5,0 .6,0 .6,0 .5,0 .6,0 .6,0 .5,0 .6,0 .5,0 .6,0 .6,0 .5,0 .6,0 .6,0 .5,0 .6,0 .6,0 .5,0 .6,0 .6,0 .5,0 .6,0 .6,0 .5,0 .6,0 .6,0 .5,0 .6,0 .6,0 .5,0 .6,0 .6,0 .5,0 .6,0 .6,0 .5,0 .6,0 .6-.1 .5,0 .6,0 .6,0 .5,0 .6,0 .6,0 .5,0 .6,0 .6,0 .5,0 .6,0 .6,0 .5,0 .6,0 .6,0 .5,0 .6,0 .6,0 .5,0 .6-.1 .6,0 .5,0 .6,0 .6,0 .5,0 .6,0 .6,0 .5,0 .6,0 .6-.1 .5,0 .6,0 .6,0 .5,0 .6,0 .6,0 .5-.1 .6,0 .6,0 .5,0 .6,0 .6-.1 .5,0 .6,0 .5,0 .6-.1 .6,0 .5-.1 .6,0 .6,0 .5-.1 .6,0 .6-.1 .5-.1 .6,0 .6-.1 .5-.1 .6-.1 .6-.1 .5-.1 .6-.1 .6-.1 .5-.2 .6-.1 .6-.2 .5-.3 .6-.2 .6-.3 .5-.3 .6-.4 .6-.5 .5-.5 .6-.6 .6-.8 .5-.9 .6-1.1 .6-1.3 .5-1.7 .6-1.9 .6-2.4 .5-2.8 .6-3.2 .6-3.3 .5-3.1 .6-2.3 .6-.8 .5,.8 .6,2.3 .6,3.1 .5,3.3 .6,3.2 .6,2.8 .5,2.4 .6,1.9 .6,1.7 .5,1.3 .6,1.1 .6,.9 .5,.8 .6,.6 .6,.5 .5,.5 .6,.4 .6,.3 .5,.3 .6,.2 .6,.3 .5,.2 .6,.1 .6,.2 .5,.1 .6,.1 .6,.1 .5,.1 .6,.1 .6,.1 .5,.1 .6,0 .5,.1 .6,.1 .6,0 .5,.1 .6,0 .6,0 .5,.1 .6,0 .6,.1 .5,0 .6,0 .6,0 .5,.1 .6,0 .6,0 .5,0 .6,0 .6,.1 .5,0 .6,0 .6,0 .5,0 .6,0 .6,0 .5,.1 .6,0 .6,0 .5,0 .6,0 .6,0 .5,0 .6,0 .6,0 .5,0 .6,.1 .6,0 .5,0 .6,0 .6,0 .5,0 .6,0 .6,0 .5,0 .6,0 .6,0 .5,0 .6,0 .6,0 .5,0 .6,0 .6,0 .5,0 .6,0 .6,0 .5,.1 .6,0 .6,0 .5,0 .6,0 .6,0 .5,0 .6,0 .6,0 .5,0 .6,0 .6,0 .5,0 .6,0 .6,0 .5,0 .6,0 .6,0 .5,0 .6,0 .6,0 .5,0 .6,0 .5,0 .6,0 .6,0 .5,0 .6,0 .6,0 .5,0 .6,0 .6,0 .5,0 .6,0 .6,0 .5,0 .6,0 .6,0 .5,0 .6,0 .6,0 .5,0 .6,0 .6,0 .5,0 .6,0 .6,0 .5,0 .6,0 .6,0 .5,0 .6,0 .6,0 .5,0 .6,0 .6,0 .5,0 .6,0 .6,0 .5,0 .6,0 .6,0 .5,0 .6,.1 .6,0 .5,0 .6,0 .6,0 .5,0 .6,0 .6,0 .5,0 .6,0 .6,0 .5,0 .6,0 .6,0 .5,0 .6,0 .6,0 .5,0 .6,0 .6,0 .5,0 .6,0 .6,0 .5,0 .6,0 .6,0 .5,0 .6,0 .6,0 .5,0 .6,0 .6,0 .5,0 .6,0 .5,0 .6,0 .6,0 .5,0 .6,0 .6,0 .5,0 .6,0 .6,0 .5,0 .6,0 .6,0 .5,0 .6,0 .6,0 .5,0 .6,0 .6,0 .5,0 .6,0 .6,0 .5,0 .6,0 .6,0 .5,0 .6,0 .6,0 .5,0 .6,0 .6,0 .5,0 .6,0 .6,0 .5,0 .6,0 .6,0 .5,0 .6,0 .6,0 .5,0 .6,0 .6,0 .5,0 .6,0 .6,0 .5,0 .6,0 .6,0 .5,0 .6,0 .6,0 .5,0 .6,0 .6,0 .5,0 .6,0 .6,0 .5,0 .6,0 .6,0 .5,0 .6,0 .6,0 .5,0 .6,0 .6,0 .5,0 .6,0 .6,0 .5,0 .6,0 .6,0 .5,0 .6,0 .5,0 .6,0 .6,0 .5,0 .6,0 .6,0 .5,0 .6,0 .6,0 .5,0 .6,0 .6,0 .5,0 .6,0 .6,0 .5,0 .6,0 .6,0 .5,0 .6,0 .6,0 .5,0 .6,0 .6,0 .5,0 .6,0 .6,0 .5,0 .6,0 .6,0 .5,0 .6,0 .6,0 .5,0 .6,0 .6,0 .5,0 .6,0" fill="none" stroke="#3de8f4" stroke-width="1.2"/>
<path d="M1018.4,210.9l.6,0 .5,0 .6,0 .6,0 .5,0 .6,0 .6,0 .5,0 .6,0 .6,0 .5,0 .6,0 .6,0 .5,0 .6,0 .6,0 .5,0 .6,0 .6,0 .5,0 .6,0 .6,0 .5,0 .6,0 .6,0 .5,0 .6,0 .6,0 .5,0 .6,0 .6,0 .5,0 .6,0 .6,0 .5,0 .6,0 .6,0 .5,0 .6,0 .5,0 .6,0 .6,0 .5,0 .6,0 .6,0 .5,0 .6,0 .6,0 .5,0 .6-.1 .6,0 .5,0 .6,0 .6,0 .5,0 .6,0 .6,0 .5,0 .6,0 .6,0 .5,0 .6,0 .6,0 .5,0 .6,0 .6,0 .5,0 .6,0 .6,0 .5-.1 .6,0 .6,0 .5,0 .6,0 .6,0 .5,0 .6,0 .6,0 .5,0 .6,0 .6-.1 .5,0 .6,0 .6,0 .5,0 .6,0 .6,0 .5-.1 .6,0 .6,0 .5,0 .6,0 .6-.1 .5,0 .6,0 .6,0 .5-.1 .6,0 .6,0 .5-.1 .6,0 .6-.1 .5,0 .6,0 .6-.1 .5-.1 .6,0 .6-.1 .5,0 .6-.1 .6-.1 .5-.1 .6-.1 .5-.1 .6-.1 .6-.1 .5-.1 .6-.2 .6-.1 .5-.2 .6-.2 .6-.2 .5-.1 .6-.3 .6-.2 .5-.2 .6-.2 .6-.2 .5-.2 .6-.2 .6-.2 .5-.1 .6-.1 .6-.1 .5,0 .6,0 .6,.1 .5,.1 .6,.1 .6,.2 .5,.2 .6,.2 .6,.2 .5,.2 .6,.2 .6,.2 .5,.3 .6,.1 .6,.2 .5,.2 .6,.2 .6,.1 .5,.2 .6,.1 .6,.1 .5,.1 .6,.1 .6,.1 .5,.1 .6,.1 .6,.1 .5,0 .6,.1 .6,0 .5,.1 .6,.1 .6,0 .5,0 .6,.1 .6,0 .5,.1 .6,0 .6,0 .5,.1 .6,0 .6,0 .5,0 .6,.1 .6,0 .5,0 .6,0 .6,0 .5,.1 .6,0 .6,0 .5,0 .6,0 .5,0 .6,0 .6,.1 .5,0 .6,0 .6,0 .5,0 .6,0 .6,0 .5,0 .6,0 .6,0 .5,0 .6,.1 .6,0 .5,0 .6,0 .6,0 .5,0 .6,0 .6,0 .5,0 .6,0 .6,0 .5,0 .6,0 .6,0 .5,0 .6,0 .6,0 .5,0 .6,0 .6,0 .5,.1 .6,0 .6,0 .5,0 .6,0 .6,0 .5,0 .6,0 .6,0 .5,0 .6,0 .6,0 .5,0 .6,0 .6,0 .5,0 .6,0 .6,0 .5,0 .6,0 .6,0 .5,0 .6,0 .6,0 .5,0 .6,0 .6,0 .5,0 .6,0 .6,0 .5,0 .6,0 .6,0 .5,0 .6,0 .6,0 .5,0 .6,0 .6,0 .5,0 .6,0 .6,0 .5,0 .6,0 .5,0 .6,0 .6,0 .5,0 .6,0 .6,0 .5,0 .6,0 .6,0 .5,0 .6,0 .6,0 .5,0 .6,0 .6,0 .5,0 .6,0 .6,0 .5,0 .6,0 .6,.1 .5,0 .6,0 .6,0 .5,0 .6,0 .6,0 .5,0 .6,0 .6,0 .5,0 .6,0 .6,0 .5,0 .6,0 .6,0 .5,0 .6,0 .6,0 .5,0 .6,0 .6,0 .5,0 .6,0 .6,0 .5,0 .6,0 .6,0 .5,0 .6,0 .6,0 .5,0 .6,0 .6,0 .5,0 .6,0 .6,0 .5,0 .6,0 .6,0 .5,0 .6,0 .6,0 .5,0 .6,0 .6,0 .5,0 .6,0 .6,0 .5,0 .6,0 .6,0 .5,0 .6,0 .5,0 .6,0 .6,0 .5,0 .6,0 .6,0 .5,0 .6,0 .6,0 .5,0 .6,0 .6,0 .5,0 .6,0 .6,0 .5,0 .6,0 .6,0 .5,0 .6,0 .6,0 .5,0 .6,0 .6,0 .5,0 .6,0 .6,0 .5,0 .6,0 .6,0 .5,0 .6,0 .6,0 .5,0 .6,0 .6,0 .5,0 .6,0 .6,0 .5,0 .6,0 .6,0 .5,0 .6,0 .6,0 .5,0 .6,0 .6,0 .5,0 .6,0 .6,0 .5,0 .6,0 .6,0 .5,0 .6,0 .6,0 .5,0 .6,0 .6,0 .5,0 .6,0 .6,0 .5,0 .6,0 .6,0 .5,0 .6,0 .6,0 .5,0 .6,0 .6,0 .5,0 .6,0 .5,0 .6,0 .6,0 .5,0 .6,0 .6,0 .5,0 .6,0 .6,0 .5,0 .6,0 .6,0 .5,0 .6,0 .6,0 .5,0 .6,0 .6,0 .5,0 .6,0 .6,0 .5,0 .6,0 .6,0 .5,0 .6,0 .6,0 .5,0 .6,0 .6,0 .5,0 .6,0 .6,0 .5,0 .6,0 .6,0 .5,0 .6,0" fill="none" stroke="#3de8f4" stroke-width="1.2"/>
<path d="M1018.4,210.9l3.4,0 3.4,0 3.4,0 3.4-.1 3.4,0 3.4,0 3.4,0 3.4,0 3.4-.1 3.4,0 3.4-.1 .8,0 2.6,0 1.7-.1 1.7,0 2.5-.1 .9,0 3.4-.2 3.4-.2 .8,0 2.6-.2 1.7-.2 1.7-.3 2.5-.4 .8-.2 1.3-.4 2.1-.7 2.2-.9 .7-.4 .5-.2 .9-.5 .3-.2 1.7-.9 .1-.1 .4-.2 1.2-.5 .5-.3 1.2-.4 .5-.2 .5-.2 .7-.4 1.4-1 .3-.3 .5-.7 1.2-2 .1-.3 .7-1.9 .9-3.2 .5-2.6 .3-1.5 .9-4.7 .8-4.2 .2-.5 .7-1.1 .5,.9 .3,1.1 .6,2.8 .3,1.7 .8,5.1 .9,4.5 .1,.6 .4,1.8 .3,1.1 .9,2.6 .5,1.4 .3,.6 .9,1.5 .5,.8 1.2,1.2 1.4,1.1 .3,.2 .5,.3 1.2,.6 1.7,.6 .5,.1 1.2,.3 1.7,.3 .5,.1 .9,.1 2.5,.3 1.7,.1 1.7,.1 2.6,.2 .8,0 3.4,.1 3.4,.1 3.4,.1 3.4,.1 3.4,0 3.4,0 3.4,.1 3.4,0 3.4,0 3.4,0 3.4,.1 3.4,0 3.4,0 3.4,0 3.4,0 3.4,0 3.4,0 3.4,0 3.4,0 3.4,0 3.4,0 3.4,0 3.3,0 3.4,0 3.4,0 3.4,.1 3.4,0 3.4,0 3.4,0 3.4,0 3.4,0 3.4,0 3.4,0 3.4,0 3.4,0 3.4,0 3.4,0 3.4,0 3.4,0 3.4,0 3.4,0" fill="none" stroke="#262626" stroke-width="1.6" stroke-linejoin="round"/>
<path d="M1019.4,210.5h0m3.4,.1h0m3.6-.3h0m3.3,0h0m3.5,.9h0m3.2-1h0m3.4,.7h0m3.6-.8h0m3.2,.2h0m3.2,0h0m3.6,.5h0m3.2-.6h0m3.3-.1h0m3.5,.1h0m3.5,.6h0m3.3-.9h0m3.7,.6h0m3.3-.8h0m3.7-.6h0m3.2-1.4h0m3.7-.2h0m3.3-2.1h0m3.4-2.1h0m3.7-1.2h0m3.2-5.4h0m3.4-14.7h0m3.6,6.2h0m3.5,13.2h0m3.1,4.6h0m3.3,2.7h0m3.4,.6h0m3.7,.1h0m3.4,.1h0m3.6,0h0m3.6,1.4h0m3.6-1h0m3.2,1h0m3.2-.3h0m3.4,.7h0m3.4-.1h0m3.3,0h0m3.4,.2h0m3.1-.1h0m3.2-.4h0m3.5-.5h0m3.6,.2h0m3.2-.3h0m3.3,.5h0m3.6-.1h0m3.5-.3h0m3.3,.5h0m3.7,.5h0m3.5-1.2h0m3.3,1h0m3.2-.2h0m3.4-.7h0m3.7,1.1h0m3.2-.3h0m3.3-.3h0m3.4-.1h0m3.3,.1h0m3.5-.2h0m3.3,.7h0m3.3,.3h0m3.4-.3h0m3.3,.1h0m3.2-.9h0m3.1,.7h0m3.5-.7h0m3.4,.9h0m3.4-1h0m3.3,.1h0m3.1,.3h0m3.2,.8h0m3.3-.6h0" stroke="#2323dc" stroke-width="2.5" stroke-linecap="round" fill="none"/>
<line x1="1018.4" y1="236.6" x2="1273.2" y2="236.6" stroke="#3de8f4" stroke-width="2.2"/>
<path d="M1018.4,236l.6,0 .5,0 .6,0 .6,0 .5,0 .6,0 .6,0 .5,0 .6,0 .6,0 .5,0 .6,0 .6,0 .5,0 .6,0 .6,0 .5,0 .6,0 .6,0 .5,0 .6,0 .6,0 .5,0 .6,0 .6-.1 .5,0 .6,0 .6,0 .5,0 .6,0 .6,0 .5,0 .6,0 .6,0 .5,0 .6,0 .6,0 .5,0 .6,0 .5,0 .6,0 .6,0 .5,0 .6,0 .6,0 .5,0 .6,0 .6,0 .5,0 .6,0 .6,0 .5,0 .6,0 .6,0 .5,0 .6,0 .6,0 .5,0 .6,0 .6,0 .5,0 .6,0 .6,0 .5,0 .6-.1 .6,0 .5,0 .6,0 .6,0 .5,0 .6,0 .6,0 .5,0 .6,0 .6,0 .5,0 .6,0 .6-.1 .5,0 .6,0 .6,0 .5,0 .6,0 .6-.1 .5,0 .6,0 .6,0 .5-.1 .6,0 .6,0 .5-.1 .6,0 .6,0 .5-.1 .6,0 .6-.1 .5-.1 .6-.1 .6-.1 .5-.1 .6-.1 .6-.1 .5-.2 .6-.2 .6-.3 .5-.3 .6-.3 .6-.5 .5-.5 .6-.7 .6-.9 .5-1.1 .6-1.5 .5-1.9 .6-2.5 .6-2.9 .5-3.2 .6-2.6 .6-1 .5,1 .6,2.6 .6,3.2 .5,2.9 .6,2.5 .6,1.9 .5,1.5 .6,1.1 .6,.9 .5,.7 .6,.5 .6,.5 .5,.3 .6,.3 .6,.3 .5,.2 .6,.2 .6,.1 .5,.1 .6,.1 .6,.1 .5,.1 .6,.1 .6,.1 .5,0 .6,.1 .6,0 .5,0 .6,.1 .6,0 .5,0 .6,.1 .6,0 .5,0 .6,0 .6,.1 .5,0 .6,0 .6,0 .5,0 .6,0 .6,.1 .5,0 .6,0 .6,0 .5,0 .6,0 .6,0 .5,0 .6,0 .6,0 .5,0 .6,0 .6,0 .5,.1 .6,0 .6,0 .5,0 .6,0 .6,0 .5,0 .6,0 .6,0 .5,0 .6,0 .6,0 .5,0 .6,0 .5,0 .6,0 .6,0 .5,0 .6,0 .6,0 .5,0 .6,0 .6,0 .5,0 .6,0 .6,0 .5,0 .6,0 .6,0 .5,0 .6,0 .6,0 .5,0 .6,0 .6,0 .5,0 .6,0 .6,0 .5,0 .6,0 .6,.1 .5,0 .6,0 .6,0 .5,0 .6,0 .6,0 .5,0 .6,0 .6,0 .5,0 .6,0 .6,0 .5,0 .6,0 .6,0 .5,0 .6,0 .6,0 .5,0 .6,0 .6,0 .5,0 .6,0 .6,0 .5,0 .6,0 .6,0 .5,0 .6,0 .6,0 .5,0 .6,0 .6,0 .5,0 .6,0 .6,0 .5,0 .6,0 .6,0 .5,0 .6,0 .6,0 .5,0 .6,0 .6,0 .5,0 .6,0 .6,0 .5,0 .6,0 .5,0 .6,0 .6,0 .5,0 .6,0 .6,0 .5,0 .6,0 .6,0 .5,0 .6,0 .6,0 .5,0 .6,0 .6,0 .5,0 .6,0 .6,0 .5,0 .6,0 .6,0 .5,0 .6,0 .6,0 .5,0 .6,0 .6,0 .5,0 .6,0 .6,0 .5,0 .6,0 .6,0 .5,0 .6,0 .6,0 .5,0 .6,0 .6,0 .5,0 .6,0 .6,0 .5,0 .6,0 .6,0 .5,0 .6,0 .6,0 .5,0 .6,0 .6,0 .5,0 .6,0 .6,0 .5,0 .6,0 .6,0 .5,0 .6,0 .6,0 .5,0 .6,0 .6,0 .5,0 .6,0 .6,0 .5,0 .6,0 .6,0 .5,0 .6,0 .6,0 .5,0 .6,0 .5,0 .6,0 .6,0 .5,0 .6,0 .6,0 .5,0 .6,0 .6,0 .5,0 .6,0 .6,0 .5,0 .6,0 .6,0 .5,0 .6,0 .6,0 .5,0 .6,0 .6,0 .5,0 .6,0 .6,0 .5,0 .6,0 .6,0 .5,0 .6,0 .6,0 .5,0 .6,0 .6,0 .5,0 .6,0 .6,0 .5,0 .6,0 .6,0 .5,0 .6,0 .6,0 .5,0 .6,0 .6,0 .5,0 .6,0 .6,0 .5,0 .6,0 .6,0 .5,0 .6,0 .6,0 .5,0 .6,0 .6,0 .5,0 .6,0 .6,0 .5,0 .6,0 .6,0 .5,0 .6,0 .6,0 .5,0 .6,0 .6,0 .5,0 .6,0 .6,0 .5,0 .6,0 .5,0 .6,0 .6,0 .5,0 .6,0 .6,0 .5,0 .6,0 .6,0 .5,0 .6,0 .6,0 .5,0 .6,0 .6,0 .5,0 .6,0 .6,0 .5,0 .6,0 .6,0 .5,0 .6,0 .6,0 .5,0 .6,0 .6,0 .5,0 .6,0 .6,0 .5,0 .6,0 .6,0 .5,0 .6,0 .6,0 .5,0 .6,0" fill="none" stroke="#3de8f4" stroke-width="1.2"/>
<path d="M1018.4,236l.6,0 .5,0 .6,0 .6,0 .5,0 .6,0 .6-.1 .5,0 .6,0 .6,0 .5,0 .6,0 .6,0 .5,0 .6,0 .6,0 .5,0 .6,0 .6,0 .5,0 .6,0 .6,0 .5,0 .6,0 .6,0 .5,0 .6,0 .6,0 .5,0 .6,0 .6,0 .5,0 .6,0 .6,0 .5,0 .6,0 .6,0 .5,0 .6,0 .5,0 .6,0 .6,0 .5,0 .6,0 .6,0 .5,0 .6,0 .6,0 .5,0 .6,0 .6,0 .5,0 .6,0 .6,0 .5,0 .6,0 .6,0 .5,0 .6,0 .6,0 .5,0 .6,0 .6,0 .5,0 .6-.1 .6,0 .5,0 .6,0 .6,0 .5,0 .6,0 .6,0 .5,0 .6,0 .6,0 .5,0 .6,0 .6,0 .5,0 .6,0 .6,0 .5-.1 .6,0 .6,0 .5,0 .6,0 .6,0 .5,0 .6,0 .6,0 .5,0 .6-.1 .6,0 .5,0 .6,0 .6,0 .5,0 .6-.1 .6,0 .5,0 .6,0 .6,0 .5-.1 .6,0 .6,0 .5-.1 .6,0 .6,0 .5-.1 .6,0 .6,0 .5-.1 .6,0 .5-.1 .6-.1 .6,0 .5-.1 .6-.1 .6-.1 .5,0 .6-.1 .6-.1 .5-.2 .6-.1 .6-.1 .5-.1 .6-.2 .6-.1 .5-.2 .6-.2 .6-.1 .5-.2 .6-.2 .6-.1 .5-.2 .6-.1 .6-.1 .5-.1 .6-.1 .6,0 .5,0 .6,.1 .6,.1 .5,.1 .6,.1 .6,.2 .5,.1 .6,.2 .6,.2 .5,.1 .6,.2 .6,.2 .5,.1 .6,.2 .6,.1 .5,.1 .6,.1 .6,.2 .5,.1 .6,.1 .6,0 .5,.1 .6,.1 .6,.1 .5,0 .6,.1 .6,.1 .5,0 .6,.1 .6,0 .5,0 .6,.1 .6,0 .5,0 .6,.1 .6,0 .5,0 .6,.1 .6,0 .5,0 .6,0 .6,0 .5,.1 .6,0 .6,0 .5,0 .6,0 .5,0 .6,.1 .6,0 .5,0 .6,0 .6,0 .5,0 .6,0 .6,0 .5,0 .6,0 .6,.1 .5,0 .6,0 .6,0 .5,0 .6,0 .6,0 .5,0 .6,0 .6,0 .5,0 .6,0 .6,0 .5,0 .6,0 .6,0 .5,0 .6,.1 .6,0 .5,0 .6,0 .6,0 .5,0 .6,0 .6,0 .5,0 .6,0 .6,0 .5,0 .6,0 .6,0 .5,0 .6,0 .6,0 .5,0 .6,0 .6,0 .5,0 .6,0 .6,0 .5,0 .6,0 .6,0 .5,0 .6,0 .6,0 .5,0 .6,0 .6,0 .5,0 .6,0 .6,0 .5,0 .6,0 .6,0 .5,0 .6,0 .6,0 .5,0 .6,0 .6,0 .5,0 .6,0 .6,0 .5,0 .6,0 .5,0 .6,0 .6,0 .5,0 .6,0 .6,0 .5,0 .6,0 .6,0 .5,.1 .6,0 .6,0 .5,0 .6,0 .6,0 .5,0 .6,0 .6,0 .5,0 .6,0 .6,0 .5,0 .6,0 .6,0 .5,0 .6,0 .6,0 .5,0 .6,0 .6,0 .5,0 .6,0 .6,0 .5,0 .6,0 .6,0 .5,0 .6,0 .6,0 .5,0 .6,0 .6,0 .5,0 .6,0 .6,0 .5,0 .6,0 .6,0 .5,0 .6,0 .6,0 .5,0 .6,0 .6,0 .5,0 .6,0 .6,0 .5,0 .6,0 .6,0 .5,0 .6,0 .6,0 .5,0 .6,0 .6,0 .5,0 .6,0 .6,0 .5,0 .6,0 .6,0 .5,0 .6,0 .5,0 .6,0 .6,0 .5,0 .6,0 .6,0 .5,0 .6,0 .6,0 .5,0 .6,0 .6,0 .5,0 .6,0 .6,0 .5,0 .6,0 .6,0 .5,0 .6,0 .6,0 .5,0 .6,0 .6,0 .5,0 .6,0 .6,0 .5,0 .6,0 .6,0 .5,0 .6,0 .6,0 .5,0 .6,0 .6,0 .5,0 .6,0 .6,0 .5,0 .6,0 .6,0 .5,0 .6,0 .6,0 .5,0 .6,0 .6,0 .5,0 .6,0 .6,0 .5,0 .6,0 .6,0 .5,0 .6,0 .6,0 .5,0 .6,0 .6,0 .5,0 .6,0 .6,0 .5,0 .6,0 .6,0 .5,0 .6,0 .6,0 .5,0 .6,0 .6,0 .5,0 .6,0 .5,0 .6,0 .6,0 .5,0 .6,0 .6,0 .5,0 .6,0 .6,0 .5,0 .6,0 .6,0 .5,0 .6,0 .6,0 .5,0 .6,0 .6,0 .5,0 .6,0 .6,0 .5,0 .6,0 .6,0 .5,0 .6,0 .6,0 .5,0 .6,0 .6,0 .5,0 .6,0 .6,0 .5,0 .6,0 .6,0 .5,0 .6,0" fill="none" stroke="#3de8f4" stroke-width="1.2"/>
<path d="M1018.4,235.8l3.4,0 3.4,0 3.4,0 3.4-.1 3.4,0 3.4,0 3.4,0 3.4-.1 3.4,0 3.4-.1 2.8,0 .6,0 3.4-.1 .3,0 3.1-.2 1.1,0 2.3-.1 1.9-.1 1.5-.2 2.8-.3 .6-.1 .2,0 1.3-.3 1.3-.3 .6-.2 .2-.1 .5-.1 1.2-.6 1.3-1 .2-.1 1.1-1.3 1.3-2.5 .6-1.9 .3-1.3 .3-1.2 .7-3.1 .6-3.7 .4-2.2 .2-.9 .7-1.5 .5,1 .1,.2 .7,3 .6,3.4 .6,2.9 .7,2.3 .2,.6 .4,1.1 .1,.3 .5,.8 .7,.9 .4,.4 .9,.5 .9,.4 .3,.1 1.3,.1 .8,0 .5,.1 .5,0 .7,0 .5,.1 .8,.1 1.3,.3 .1,.1 2,.6 1.4,.4 .7,.3 2.2,.5 .5,.1 1.6,.3 1.8,.2 .3,0 2.1,.2 1,0 .6,0 .6,0 2.2,0 1.2-.1 .8,0 1.4-.1 1.7-.2 1.2-.2 .5-.1 2.3-.4 1.1-.3 .3-.1 2.5-.8 .6-.2 1.1-.5 2.3-1.3 2-1.5 1.4-1.3 .6-.7 2-2.7 .2-.4 .6-1 1.1-2.2 2-4.6 .3-.7 1.7-4.6 1.7-4.1 .3-.5 2-1.9 1.1,.6 .8,1.3 2,4.7 .6,1.5 1.4,3.8 2,4.6 2,3.6 1.4,2.1 .6,.7 1.9,2 .9,.7 1.1,.8 2.3,1.3 1.7,.8 1.7,.6 2.2,.6 1.2,.3 2.8,.5 .6,.1 3.4,.5 3.4,.3 .5,.1 2.9,.2 1.1,.1 2.3,.1 3.4,.2 3.4,.1 3.4,.1 3.4,.1 3.4,.1 3.3,0 3.4,.1 3.4,0 3.4,.1 3.4,0 3.4,0 3.4,.1 3.4,0 3.4,0 3.4,0 3.4,.1 3.4,0 3.4,0 3.4,0 3.4,0 3.4,0 3.4,0 3.4,0 3.4,.1" fill="none" stroke="#262626" stroke-width="1.6" stroke-linejoin="round"/>
<path d="M1019.4,236.2h0m3.6-.6h0m3.3,0h0m3.1,0h0m3.5,.8h0m3.6-.5h0m3.5-.9h0m3.3,.4h0m3.4-.3h0m3.4,.5h0m3.5,.4h0m3.5-1.1h0m3.6,1h0m3.4-.9h0m3.4-.5h0m3.5,.8h0m3.4-.9h0m3.6-2h0m3.7-3.7h0m3.2-14.8h0m3.3,8.2h0m3.5,6.9h0m3.7,.9h0m3.3,0h0m3.7,1.1h0m3.7,1.6h0m3.4,.6h0m3.3,.8h0m3.6-.2h0m3.5-1.1h0m3.6-.2h0m3.6-.9h0m3.5-.3h0m3.2-2h0m3.1-3.3h0m3.2-2.9h0m3.7-8.2h0m3.3-8.5h0m3.5-3.3h0m3.5,7.8h0m3.1,7h0m3.4,6h0m3.3,4.2h0m3.2,2.2h0m3.3,1.5h0m3.3,1.1h0m3.1,.7h0m3.2,.9h0m3.4-.3h0m3.4,.5h0m3.5,.4h0m3.6-.2h0m3.7,.6h0m3.6-.4h0m3.3,.3h0m3.7,0h0m3.4-.1h0m3.6-.1h0m3.2,.7h0m3.6,0h0m3.5,.1h0m3.2-.2h0m3.2-.7h0m3.4,.6h0m3.3-.6h0m3.5,.7h0m3.3-.3h0m3.3-.1h0m3.1,1h0m3.7-.4h0m3.6-.3h0m3.6-.3h0m3.6,.5h0m3.6-.6h0" stroke="#2323dc" stroke-width="2.5" stroke-linecap="round" fill="none"/>
<path d="M1019.4,260.9h0m3.4,2h0m3.1-1.7h0m3.3,.2h0m3.1,1.3h0m3.6-1.1h0m3.3,.4h0m3.2-1.3h0m3.6,.6h0m3.4,1.5h0m3.7-1.1h0m3.2-.4h0m3.7,1.5h0m3.2-.2h0m3.3-.9h0m3.2,1h0m3.7-1.6h0m3.5,0h0m3.6-.4h0m3.2,1.6h0m3.3,.5h0m3.6-.5h0m3.2,0h0m3.6-.6h0m3.2-.6h0m3.3,1.2h0m3.2-1.3h0m3.2,1.2h0m3.6-.7h0m3.5,1.2h0m3.4-1.6h0m3.3,1.7h0m3.5-1.5h0m3.5-.5h0m3.7,.9h0m3.4,.2h0m3.1,.1h0m3.3-.8h0m3.6-.4h0m3.3,1.6h0m3.2-1.1h0m3.4-.3h0m3.7,2h0m3.1-1.3h0m3.6-.2h0m3.6,.3h0m3.2,.1h0m3.5-.4h0m3.5,1h0m3.4-.7h0m3.6,.4h0m3.4,.7h0m3.2-.4h0m3.2-.4h0m3.3-.4h0m3.5,.8h0m3.6-1.3h0m3.4-.1h0m3.5,.7h0m3.1,.2h0m3.5,0h0m3.6-1h0m3.2-.4h0m3.4,1h0m3.4-.4h0m3.6-.4h0m3.6,1.2h0m3.4,.5h0m3.3-1.5h0m3.3-.3h0m3.2,1.4h0m3.5-.9h0m3.4-.4h0m3.6,.2h0m3.3,0h0" stroke="#2323dc" stroke-width="2.5" stroke-linecap="round" fill="none"/>
<path d="M1125.0,28.3 1123.0,60.0 1120.0,95.0 1117.0,125.0 1113.5,155.0 1108.2,188.1 1095.0,205.0 1074.9,223.6" fill="none" stroke="#ff2a2a" stroke-width="2.3" stroke-dasharray="7,3.5" stroke-linecap="butt"/>
<path d="M1036.3,81.6 1040.0,95.0 1045.5,115.0 1050.0,130.0 1056.3,145.0 1064.0,158.0 1073.0,170.0 1085.0,180.0 1104.0,193.0 1130.0,203.0 1157.0,210.3" fill="none" stroke="#ff2a2a" stroke-width="2.3" stroke-dasharray="7,3.5" stroke-linecap="butt"/>
<path d="M1097.1,88.2 1093.0,105.0 1088.0,118.0 1082.9,130.4 1075.0,142.0 1064.7,154.8" fill="none" stroke="#ff2a2a" stroke-width="2.3" stroke-dasharray="7,3.5" stroke-linecap="butt"/>
<path d="M1128.2,86.0 1134.0,102.0 1146.8,117.0 1158.0,130.0 1171.2,146.0 1185.0,162.0 1205.9,183.7" fill="none" stroke="#ff2a2a" stroke-width="2.3" stroke-dasharray="7,3.5" stroke-linecap="butt"/>
</g>
<rect x="1018.4" y="21.0" width="254.8" height="255.0" fill="none" stroke="#6a6a6a" stroke-width="1.2"/>
<path d="M1018.4,276.0v-5.5M1018.4,21.0v5.5M1024.1,276.0v-3M1024.1,21.0v3M1029.7,276.0v-3M1029.7,21.0v3M1035.4,276.0v-3M1035.4,21.0v3M1041.0,276.0v-3M1041.0,21.0v3M1046.7,276.0v-5.5M1046.7,21.0v5.5M1052.4,276.0v-3M1052.4,21.0v3M1058.0,276.0v-3M1058.0,21.0v3M1063.7,276.0v-3M1063.7,21.0v3M1069.4,276.0v-3M1069.4,21.0v3M1075.0,276.0v-5.5M1075.0,21.0v5.5M1080.7,276.0v-3M1080.7,21.0v3M1086.3,276.0v-3M1086.3,21.0v3M1092.0,276.0v-3M1092.0,21.0v3M1097.7,276.0v-3M1097.7,21.0v3M1103.3,276.0v-5.5M1103.3,21.0v5.5M1109.0,276.0v-3M1109.0,21.0v3M1114.7,276.0v-3M1114.7,21.0v3M1120.3,276.0v-3M1120.3,21.0v3M1126.0,276.0v-3M1126.0,21.0v3M1131.6,276.0v-5.5M1131.6,21.0v5.5M1137.3,276.0v-3M1137.3,21.0v3M1143.0,276.0v-3M1143.0,21.0v3M1148.6,276.0v-3M1148.6,21.0v3M1154.3,276.0v-3M1154.3,21.0v3M1160.0,276.0v-5.5M1160.0,21.0v5.5M1165.6,276.0v-3M1165.6,21.0v3M1171.3,276.0v-3M1171.3,21.0v3M1176.9,276.0v-3M1176.9,21.0v3M1182.6,276.0v-3M1182.6,21.0v3M1188.3,276.0v-5.5M1188.3,21.0v5.5M1193.9,276.0v-3M1193.9,21.0v3M1199.6,276.0v-3M1199.6,21.0v3M1205.3,276.0v-3M1205.3,21.0v3M1210.9,276.0v-3M1210.9,21.0v3M1216.6,276.0v-5.5M1216.6,21.0v5.5M1222.2,276.0v-3M1222.2,21.0v3M1227.9,276.0v-3M1227.9,21.0v3M1233.6,276.0v-3M1233.6,21.0v3M1239.2,276.0v-3M1239.2,21.0v3M1244.9,276.0v-5.5M1244.9,21.0v5.5M1250.6,276.0v-3M1250.6,21.0v3M1256.2,276.0v-3M1256.2,21.0v3M1261.9,276.0v-3M1261.9,21.0v3M1267.5,276.0v-3M1267.5,21.0v3M1273.2,276.0v-5.5M1273.2,21.0v5.5" stroke="#555" stroke-width="1.1" fill="none"/>
<g font-family="Liberation Sans, Arial, sans-serif" font-size="11.5" fill="#222" stroke="#222" stroke-width="0.3" text-anchor="middle">
<text x="1017.6" y="289.5">5</text>
<text x="1045.9" y="289.5">10</text>
<text x="1074.2" y="289.5">15</text>
<text x="1102.5" y="289.5">20</text>
<text x="1130.8" y="289.5">25</text>
<text x="1159.2" y="289.5">30</text>
<text x="1187.5" y="289.5">35</text>
<text x="1215.8" y="289.5">40</text>
<text x="1244.1" y="289.5">45</text>
<text x="1272.4" y="289.5">50</text>
</g>
<text x="1140.8" y="304.0" text-anchor="middle" font-family="Liberation Sans, Arial, sans-serif" font-size="14" fill="#222" stroke="#222" stroke-width="0.3">Wavenumber (cm<tspan font-size="9" dy="-5">-1</tspan><tspan dy="5">)</tspan></text>
<text transform="translate(1007.6,149.7) rotate(-90)" text-anchor="middle" font-family="Liberation Sans, Arial, sans-serif" font-size="13.8" fill="#222" stroke="#222" stroke-width="0.25">Intensity (a.u.)</text>
<g font-family="Liberation Sans, Arial, sans-serif" font-size="11.3" fill="#222" stroke="#222" stroke-width="0.3" text-anchor="end">
<text x="1266.0" y="64.7">bulk</text>
<text x="1266.0" y="95.0">7 TL</text>
<text x="1266.0" y="127.4">6 TL</text>
<text x="1266.0" y="155.0">5 TL</text>
<text x="1266.0" y="180.8">4 TL</text>
<text x="1266.0" y="206.6">3 TL</text>
<text x="1266.0" y="231.3">2 TL</text>
<text x="1266.0" y="257.1">1 TL</text>
</g>
<text x="1027.0" y="43.6" font-family="Liberation Sans, Arial, sans-serif" font-size="14" fill="#222" stroke="#222" stroke-width="0.35">WSe<tspan font-size="8.5" dy="4.5">2</tspan></text>
<g font-family="Liberation Serif, Times New Roman, serif" font-style="italic" font-size="17.5" fill="#2a2a2a"><text x="1067.5" y="43.8">z</text><line x1="1067.7" y1="32.6" x2="1075.8" y2="32.6" stroke="#2a2a2a" stroke-width="1.2"/><text x="1076.5" y="43.8" font-style="normal">(</text><text x="1083.3" y="43.8">x</text><text x="1091.5" y="43.8">x</text><text x="1100.5" y="43.8" font-style="normal">)</text><text x="1106.1" y="43.8">z</text></g>
<text x="1135.5" y="40.2" font-family="Liberation Sans, Arial, sans-serif" font-size="11.5" font-weight="bold" fill="#2424ee">S1</text>
<text x="1045.0" y="88.7" font-family="Liberation Sans, Arial, sans-serif" font-size="11.5" font-weight="bold" fill="#ff30d0">B1</text>
<text x="1077.9" y="89.4" font-family="Liberation Sans, Arial, sans-serif" font-size="11.5" font-weight="bold" fill="#22c822">S2</text>
<text x="1137.0" y="88.7" font-family="Liberation Sans, Arial, sans-serif" font-size="11.5" font-weight="bold" fill="#ff8a1e">B2</text>
<g clip-path="url(#cb3)">
<path d="M724.5,339.6l2.9,0 3,0 2.9,0 3,0 2.9,0 3,0 2.9,0 3,0 2.9,0 3,0 2.9,0 3,0 2.9,0 3,0 2.9,0 3,0 2.9,0 3,0 2.9,0 3,0 2.9,0 3,0 2.9,0 3,0 2.9,0 2.9-.1 3,0 2.9,0 3,0 2.9,0 3,0 2.9,0 3-.1 2.9,0 3-.1 2.9-.2 3-.2 1.5-.2 1-.2 .4-.1 .6-.2 1-.4 1.1-.6 .3-.2 .7-.7 1-1.5 1.1-2.6 .1-.5 .4-1.5 .5-2.6 .5-3.4 .5-3.8 .6-3.4 .5-1.4 .5,1.4 .5,3.4 .5,3.8 .5,3.4 .6,2.6 .3,1.5 .2,.5 .5,1.5 .5,1.1 1,1.5 .8,.7 .3,.2 1,.6 1,.4 .6,.2 .5,.1 1,.2 1.5,.2 2.9,.2 3,.2 2.9,.1 3,0 2.9,.1 3,0 2.9,0 2.9,0 3,0 2.9,0 3,0 2.9,.1 3,0 2.9,0 3,0 2.9,0 3,0 2.9,0 3,0 2.9,0 3,0 2.9,0 3,0 2.9,0 3,0 2.9,0 3,0 2.9,0 3,0 2.9,0 3,0 2.9,0 3,0 2.9,0 2.9,0 3,0 2.9,0 3,0 2.9,0 3,0 2.9,0" fill="none" stroke="#262626" stroke-width="1.6" stroke-linejoin="round"/>
<path d="M725.5,339.6h0m2.8,.2h0m2.5-.9h0m2.6,.4h0m2.9,.6h0m2.8-.2h0m2.7-.6h0m2.7,0h0m3-.1h0m2.8,0h0m2.9,.4h0m2.6,.7h0m2.4-1.1h0m3,.6h0m2.4,.7h0m3-1.3h0m2.6,.1h0m2.6,.7h0m2.5,.1h0m2.5-.8h0m2.8,.3h0m2.7,.3h0m2.7-.3h0m2.4,.5h0m3,.3h0m2.8-.8h0m2.6,.4h0m2.8-.8h0m2.5,.4h0m2.7,.6h0m2.7-1.1h0m2.9,.5h0m2.8-.3h0m2.6,.2h0m2.9-.4h0m2.7,.1h0m2.8-.3h0m2.6,.4h0m2.8-.5h0m2.6,.1h0m2.6,.1h0m3-.5h0m3-2h0m2.9-5.9h0m2.5-14.3h0m3,14.4h0m2.5,6.4h0m2.6,.8h0m2.4,.3h0m2.8,1.7h0m3-.5h0m2.4-.1h0m2.9,.7h0m2.8-.8h0m2.7,.4h0m2.8-.2h0m3,.9h0m2.4-.9h0m3,0h0m2.9,.4h0m2.9,.2h0m2.5-.5h0m2.5,.5h0m2.9-.8h0m2.9,.5h0m2.5,0h0m3,.2h0m2.8,.5h0m3-.3h0m2.6-.2h0m3,.3h0m2.7-.6h0m2.6,.5h0m2.8-1h0m2.8,1.3h0m2.9-.1h0m2.9-.5h0m2.9-.2h0m2.5,0h0m2.5,.8h0m2.9-.6h0m2.7-.5h0m2.7,.8h0m2.7-.7h0m2.6,.1h0m2.8-.2h0m2.5,.2h0m2.8,.7h0m2.8,.2h0m2.6-1.3h0m2.7,.6h0m2.5,.3h0m2.6-.6h0m2.6,1h0" stroke="#2323dc" stroke-width="2.5" stroke-linecap="round" fill="none"/>
<line x1="830.6" y1="359.9" x2="855.2" y2="359.9" stroke="#3de8f4" stroke-width="2.2"/>
<path d="M724.5,359.3l2.9,0 3,0 2.9,0 3,0 2.9,0 3,0 2.9,0 3,0 2.9,0 3,0 2.9,0 3,0 2.9,0 3,0 2.9,0 3,0 2.9,0 3,0 2.9,0 3,0 2.9-.1 3,0 2.9,0 3,0 2.9,0 2.9,0 3,0 2.9,0 3-.1 2.9,0 3,0 .5,0 1.9-.1 .5,0 1.5-.1 1.5,0 .5,0 1.9-.1 .5-.1 1.5-.1 1.5-.2 .5-.1 1.9-.4 .5-.1 .5-.2 1-.4 1-.5 .5-.3 .5-.3 1-.5 .9-.4 .2,0 .3-.1 .5,0 .3,.1 .7,0 .4,.1 .6,0 .5-.1 .5-.2 .6-.3 .3-.3 .8-.9 .2-.4 .5-1 .4-.9 .1-.4 .4-1.5 .6-2.6 .6-3.3 .5-3.8 .4-2.4 .2-.9 .3-1.1 .2-.3 .6,1.4 .5,3.5 .6,3.8 0,.4 .5,3 .6,2.7 .5,2 .4,1 .2,.5 .5,1.1 .8,1.1 .3,.4 .2,.1 .9,.8 1,.6 .1,0 .4,.2 .8,.3 .7,.2 .4,.1 1.1,.2 2.9,.3 3,.2 2.9,.2 3,0 2.9,.1 3,0 2.9,.1 2.9,0 3,0 2.9,0 3,0 2.9,0 3,0 2.9,0 3,.1 2.9,0 3,0 2.9,0 3,0 2.9,0 3,0 2.9,0 3,0 2.9,0 3,0 2.9,0 3,0 2.9,0 3,0 2.9,0 3,0 2.9,0 3,0 2.9,0 2.9,0 3,0 2.9,0 3,0 2.9,0 3,0 2.9,0" fill="none" stroke="#262626" stroke-width="1.6" stroke-linejoin="round"/>
<path d="M725.5,359.1h0m2.6-.2h0m2.6,0h0m3,.4h0m2.8-.5h0m2.7,.6h0m2.9-.5h0m2.7,.9h0m2.9-.9h0m2.7,.7h0m2.6-.1h0m2.8,.4h0m2.7-.4h0m2.7,.1h0m2.6-.3h0m2.6-.3h0m2.4-.1h0m2.8,0h0m2.4,.8h0m2.6,.2h0m2.7-.8h0m3,.7h0m2.5-1.1h0m2.8,1h0m2.8-.1h0m2.6-.2h0m2.6-.3h0m2.6,0h0m2.7,.5h0m2.5-.8h0m2.5,1h0m2.7-1.3h0m2.9,1.1h0m2.9-.7h0m2.9-.1h0m2.5,.7h0m2.9-1.1h0m2.9-.4h0m2.6-.3h0m2.5-.4h0m2.8-1.1h0m2.5-1.4h0m2.6,1h0m2.8-2.4h0m2.8-8.2h0m2.6-7.8h0m2.8,15.3h0m2.7,3.9h0m2.7,1.4h0m2.7,.2h0m2.7,.8h0m2.5,.4h0m2.7,0h0m2.8,.3h0m2.9-.7h0m2.6,.3h0m2.8,.3h0m2.5-1h0m2.5,0h0m2.4-.1h0m2.6,.2h0m2.8,.7h0m3,.5h0m2.8,0h0m2.4-1h0m3,.3h0m2.5,.4h0m2.7-.3h0m2.6-.4h0m2.4,.5h0m3,.5h0m2.8,0h0m2.7-.9h0m2.9,.4h0m2.8-.8h0m2.5,.7h0m2.9,.4h0m2.8-.6h0m2.7,.7h0m3-.5h0m2.5,.2h0m2.7-.4h0m2.5,0h0m2.8-.3h0m2.7,1.1h0m2.9-1h0m2.6-.2h0m2.9,.8h0m2.5-.1h0m2.7,0h0m2.7-.4h0m2.6,1h0m2.6-.7h0m2.6-.5h0m2.7,.1h0" stroke="#2323dc" stroke-width="2.5" stroke-linecap="round" fill="none"/>
<line x1="819.8" y1="379.5" x2="830.1" y2="379.5" stroke="#3de8f4" stroke-width="2.2"/>
<line x1="835.1" y1="379.5" x2="854.2" y2="379.5" stroke="#3de8f4" stroke-width="2.2"/>
<path d="M724.5,378.9l2.9,0 3,0 2.9,0 3,0 2.9,0 3,0 2.9,0 3,0 2.9,0 3,0 2.9,0 3,0 2.9,0 3,0 2.9,0 3,0 2.9,0 3,0 2.9-.1 3,0 2.9,0 3,0 2.9,0 3,0 2.9,0 2.9,0 3-.1 .5,0 2,0 .4,0 1.5-.1 1.5,0 .5,0 2-.1 .4,0 1.5-.1 1.5-.2 .5,0 1.9-.4 .5-.1 .5-.1 1-.4 1-.4 .5-.3 .5-.2 1-.5 .9-.2 .5,.1 .5,.1 1,.4 1,.4 .5,.2 .5,.2 1,.3 .9,.2 .5,0 .5,.1 1,.1 1.5-.1 .5,0 .2,0 1.1-.2 .6-.1 .5-.1 1.1-.3 .4-.2 .7-.4 .8-.5 .3-.4 .2-.1 .9-1.4 1-2.2 .2-.3 .3-1.3 .2-.7 .6-2.6 .5-3.4 .2-1.2 .4-2.6 .5-3.4 .6-1.4 .5,1.4 .6,3.4 .5,3.9 .6,3.3 .5,2.7 .2,.7 .4,1.2 .5,1.5 .6,1.1 1.1,1.5 .4,.4 .7,.5 1.1,.6 1.1,.4 1.1,.3 1.1,.2 .8,.1 2.9,.3 3,.2 2.9,.1 3,.1 2.9,0 3,0 2.9,.1 2.9,0 3,0 2.9,0 3,0 2.9,0 3,0 2.9,.1 3,0 2.9,0 3,0 2.9,0 3,0 2.9,0 3,0 2.9,0 3,0 2.9,0 3,0 2.9,0 3,0 2.9,0 3,0 2.9,0 3,0 2.9,0 3,0 2.9,0 2.9,0 3,0 2.9,0 3,0 2.9,0 3,0 2.9,0" fill="none" stroke="#262626" stroke-width="1.6" stroke-linejoin="round"/>
<path d="M725.5,378.7h0m2.6,.8h0m2.6-.8h0m2.8,0h0m2.7,.4h0m2.4,0h0m2.5-.6h0m2.9,1.1h0m2.8-1.2h0m2.6,.2h0m3-.1h0m2.5,.6h0m2.8-.1h0m2.6,.5h0m2.7,0h0m2.7-.7h0m2.6,.4h0m2.8-.7h0m2.7,.7h0m2.7-.1h0m2.8,.1h0m2.6-.6h0m2.4,.8h0m2.9-.7h0m3,.7h0m2.5-.1h0m2.6-.8h0m2.6,.2h0m2.4-.6h0m2.5,.4h0m2.5-.3h0m2.9,.3h0m2.7,.2h0m2.9-.8h0m2.6,.8h0m2.9-.5h0m2.7-2h0m2.5,0h0m2.9,.6h0m2.9,.4h0m2.7,1h0m2.5-.6h0m2.5-.4h0m2.9-2.9h0m2.6-10.5h0m2.7-6h0m2.7,13.6h0m2.9,5h0m2.8,1.6h0m2.9,.2h0m2.7,.6h0m2.7,.3h0m2.4-.1h0m2.7-.2h0m3-.5h0m2.6,.9h0m2.9-.4h0m2.8,.2h0m3,0h0m2.6-.5h0m2.4-.2h0m2.5,1.2h0m2.4-.5h0m2.5,.5h0m2.7-1.1h0m2.9,1h0m3-.9h0m2.7,.6h0m2.5-.1h0m2.9,.2h0m2.8,0h0m2.6,0h0m2.7-.8h0m2.4,.6h0m2.6-.7h0m2.7,.5h0m2.6,.2h0m2.7-.1h0m3,.5h0m2.6,0h0m2.6,.1h0m2.4-.9h0m3,.5h0m2.8-.6h0m2.5,1h0m2.4-1.1h0m2.7,.9h0m2.8,.3h0m2.8-.8h0m3-.2h0m2.4,.9h0m3-.4h0m2.6-.6h0m2.6-.2h0m2.4,.6h0" stroke="#2323dc" stroke-width="2.5" stroke-linecap="round" fill="none"/>
<line x1="815.9" y1="399.1" x2="825.2" y2="399.1" stroke="#3de8f4" stroke-width="2.2"/>
<line x1="834.6" y1="399.1" x2="852.7" y2="399.1" stroke="#3de8f4" stroke-width="2.2"/>
<path d="M724.5,398.5l2.9,0 3,0 2.9,0 3,0 2.9,0 3,0 2.9,0 3,0 2.9,0 3,0 2.9,0 3,0 2.9,0 3,0 2.9,0 3,0 2.9,0 3-.1 2.9,0 3,0 2.9,0 3,0 2.9,0 3,0 2.9,0 2.5-.1 .4,0 1.5,0 1.5,0 .5-.1 2,0 .4,0 1.5-.1 1.5-.1 .5,0 2-.2 .4-.1 1.5-.3 1-.2 .5-.2 .5-.2 1-.4 .9-.5 .5-.2 .5-.2 1-.2 1,.1 .5,.2 .5,.3 1,.4 .9,.4 .5,.2 .5,.1 1,.2 1,.1 .5,.1 .5,0 1.9,.1 .5,0 1.5-.1 .7-.1 .8-.1 .3-.1 .2,0 1-.2 .9-.3 .2-.1 .3-.1 .8-.5 .7-.5 .4-.3 1.1-1.5 .5-1 .6-1.6 .5-2 .6-2.6 .5-3.3 .2-1.3 .4-2.6 .5-3.4 .6-1.4 .5,1.4 .6,3.4 .4,2.6 .2,1.3 .5,3.3 .6,2.7 .5,2 .6,1.4 .5,1.1 1.1,1.5 1.1,1 .8,.4 .3,.1 1.1,.4 1.1,.3 .4,.1 .8,.1 2.2,.3 2.9,.2 3,.2 2.9,0 3,.1 2.9,0 3,.1 2.9,0 2.9,0 3,0 2.9,0 3,0 2.9,0 3,0 2.9,.1 3,0 2.9,0 3,0 2.9,0 3,0 2.9,0 3,0 2.9,0 3,0 2.9,0 3,0 2.9,0 3,0 2.9,0 3,0 2.9,0 3,0 2.9,0 3,0 2.9,0 2.9,0 3,0 2.9,0 3,0 2.9,0 3,0 2.9,0" fill="none" stroke="#262626" stroke-width="1.6" stroke-linejoin="round"/>
<path d="M725.5,399.1h0m2.7-.4h0m2.7,.2h0m2.8,.3h0m2.9-.5h0m2.8-.7h0m2.7,.4h0m2.5-.3h0m2.6-.1h0m2.8,.2h0m3,.5h0m2.7-.3h0m2.6-.3h0m3,.9h0m2.8-.3h0m2.5-.2h0m2.5-.3h0m2.7-.2h0m2.6,.8h0m2.6,.2h0m2.5-1.1h0m3,.7h0m2.8-.1h0m2.5,.6h0m2.7-.1h0m2.5-.9h0m2.7-.1h0m2.9,0h0m2.5-.2h0m2.6,1.1h0m2.9-.5h0m2.6-1h0m2.9-.1h0m2.6,0h0m2.9-1.4h0m2.4,0h0m2.4,.3h0m2.5,.4h0m2.5,.7h0m3,.7h0m2.7-1.3h0m2.5-.3h0m2.9-.9h0m2.4-5.8h0m3-15.8h0m2.4,13.3h0m3,7.4h0m2.8,1.7h0m2.8,.8h0m2.7,1.1h0m3-.2h0m3,0h0m2.9,.8h0m3-1h0m2.6,.8h0m2.9-.6h0m2.9,.4h0m2.4-.6h0m2.4,.2h0m2.9,.7h0m3,.3h0m2.6-.3h0m2.8,0h0m2.4,.3h0m2.5-.6h0m2.9,.4h0m2.8-.6h0m2.6,.6h0m2.5,.2h0m2.5-.7h0m2.6,.5h0m2.5-.8h0m2.5,0h0m2.8,1.2h0m2.4-.8h0m2.6-.2h0m2.6-.3h0m2.6,.3h0m2.5-.2h0m2.9,.8h0m3,.1h0m2.9-.8h0m2.4,1.1h0m2.8-.4h0m2.5,.1h0m2.7-1h0m2.6,1.2h0m2.7-1.2h0m2.5,.9h0m2.6-.3h0m2.5-.5h0m2.7,.4h0m2.5-.4h0m2.7,0h0m2.4,.5h0" stroke="#2323dc" stroke-width="2.5" stroke-linecap="round" fill="none"/>
<line x1="811.0" y1="419.1" x2="821.3" y2="419.1" stroke="#3de8f4" stroke-width="2.2"/>
<line x1="833.6" y1="419.1" x2="851.8" y2="419.1" stroke="#3de8f4" stroke-width="2.2"/>
<path d="M724.5,418.5l2.9,0 3,0 2.9,0 3,0 2.9,0 3,0 2.9,0 3,0 2.9,0 3,0 2.9,0 3,0 2.9,0 3,0 2.9,0 3-.1 2.9,0 3,0 2.9,0 3,0 2.9,0 3,0 2.9,0 1.5-.1 1.5,0 .7,0 2.2,0 2.2-.1 .7,0 1.5-.1 1.5,0 .7-.1 2.2-.2 2.3-.3 .7-.2 .4-.1 1.1-.3 1.1-.4 .3-.2 .8-.3 1.1-.5 1.1-.2 1.1,.2 1.1,.4 .7,.3 .4,.2 1.1,.4 1.1,.3 .4,.1 .7,.1 1.1,.2 1.1,.1 2.2,0 .8,0 1.5,0 1.4-.1 .8-.1 .5,0 1.1-.2 .6-.2 .5-.1 1.1-.4 .6-.2 .5-.3 .2-.2 .9-.7 .6-.8 .5-.7 1-2.2 .1-.4 .6-2 .5-2.6 .6-3.4 .5-3.8 .6-3.4 0-.3 .5-1.1 .6,1.4 .5,3.4 .6,3.9 .5,3.3 .3,1.3 .3,1.4 .5,2 .6,1.4 .5,1.1 1,1.4 .1,.1 1.1,.9 1.2,.6 .6,.3 .5,.1 1.1,.3 1.1,.2 .2,.1 3,.3 2.9,.2 3,.1 2.9,.1 3,0 2.9,0 3,.1 2.9,0 2.9,0 3,0 2.9,0 3,0 2.9,0 3,0 2.9,.1 3,0 2.9,0 3,0 2.9,0 3,0 2.9,0 3,0 2.9,0 3,0 2.9,0 3,0 2.9,0 3,0 2.9,0 3,0 2.9,0 3,0 2.9,0 3,0 2.9,0 2.9,0 3,0 2.9,0 3,0 2.9,0 3,0 2.9,0" fill="none" stroke="#262626" stroke-width="1.6" stroke-linejoin="round"/>
<path d="M725.5,418.8h0m2.9,0h0m2.9-.8h0m2.7,.4h0m2.4,.6h0m2.5,.2h0m2.8,0h0m2.4-.2h0m3-.1h0m2.7-.2h0m2.7,.3h0m2.8-.5h0m2.6,.1h0m2.8,.5h0m2.8-.9h0m2.8-.1h0m2.7,.4h0m2.9-.7h0m2.5,.2h0m2.7,0h0m2.8,1h0m2.6-1h0m2.8,.3h0m2.6-.4h0m2.9,.2h0m2.9,.2h0m2.9,.6h0m2.9-1.3h0m3,0h0m3,.8h0m2.5-.4h0m2.8-1h0m2.7-1h0m2.8-.4h0m2.4,.8h0m2.9,1.2h0m2.7,0h0m2.5-.4h0m2.9-.2h0m2.9-.3h0m2.7,0h0m2.4-2h0m2.9-7.8h0m2.5-13h0m2.9,16h0m2.8,5.8h0m2.6,1.3h0m2.8,.2h0m2.6,1.3h0m2.5-.5h0m2.7,.5h0m2.9,.1h0m2.8-.3h0m2.4,.1h0m2.7,.3h0m2.6-.9h0m2.6,1.1h0m2.7-.3h0m2.5-.6h0m2.5,.4h0m2.5,.7h0m2.6-1.4h0m2.5,.7h0m2.8,.5h0m2.5,.2h0m2.9-.6h0m2.8-.3h0m2.5-.4h0m2.9,1.2h0m2.7-.4h0m2.7,.1h0m2.4,.1h0m2.5-.2h0m2.8,.4h0m2.8-1h0m2.9,.3h0m2.7,.6h0m3-1h0m2.7,.3h0m2.9,.1h0m2.9,.6h0m2.7,0h0m2.8-.9h0m2.6,0h0m2.9,.3h0m2.5,.5h0m3-.8h0m2.9,.1h0m2.8,.7h0m2.9-.2h0m2.5,.4h0m2.4-.4h0m3-.4h0m2.7,.5h0" stroke="#2323dc" stroke-width="2.5" stroke-linecap="round" fill="none"/>
<line x1="804.6" y1="438.1" x2="815.4" y2="438.1" stroke="#3de8f4" stroke-width="2.2"/>
<line x1="834.1" y1="438.1" x2="851.8" y2="438.1" stroke="#3de8f4" stroke-width="2.2"/>
<path d="M724.5,437.5l2.9,0 3,0 2.9,0 3,0 2.9,0 3,0 2.9,0 3,0 2.9,0 3,0 2.9,0 3,0 2.9-.1 3,0 2.9,0 3,0 2.9,0 3,0 2.9,0 3,0 1.9-.1 1,0 1.5,0 1.5,0 .9,0 2-.1 .5,0 2.5-.1 2.4-.1 .5,0 2-.2 .9-.1 1.5-.2 1.3-.2 .2-.1 1-.3 1.2-.4 .7-.3 .5-.2 1.3-.4 1.2-.2 1.2,.2 1.3,.4 .4,.2 .8,.2 1.2,.5 1,.2 .2,.1 1.3,.2 1.2,.2 .2,0 1,.1 2,.1 .5,0 2.4,.1 2.5-.1 .5,0 1.9-.1 1-.1 1.3-.2 .2,0 .9-.2 .6-.1 .5-.1 .5-.2 .6-.2 1.1-.6 .2-.2 .9-.7 1.1-1.5 1-2.2 .1-.4 .6-2 .5-2.6 .6-3.3 .5-3.9 .6-3.4 0-.2 .5-1.2 .6,1.4 .5,3.4 .6,3.9 .5,3.3 .3,1.3 .3,1.4 .5,2 .6,1.4 .5,1.1 1,1.4 .1,.1 1.1,1 1.2,.5 .6,.3 .5,.1 1.1,.3 1.1,.2 .2,.1 3,.3 2.9,.2 3,.1 2.9,.1 3,0 2.9,0 3,.1 2.9,0 2.9,0 3,0 2.9,0 3,0 2.9,0 3,0 2.9,.1 3,0 2.9,0 3,0 2.9,0 3,0 2.9,0 3,0 2.9,0 3,0 2.9,0 3,0 2.9,0 3,0 2.9,0 3,0 2.9,0 3,0 2.9,0 3,0 2.9,0 2.9,0 3,0 2.9,0 3,0 2.9,0 3,0 2.9,0" fill="none" stroke="#262626" stroke-width="1.6" stroke-linejoin="round"/>
<path d="M725.5,437.2h0m2.6,.8h0m2.9-1h0m2.8,1h0m2.7,0h0m2.6-.8h0m2.9-.1h0m2.5-.1h0m2.9,.9h0m2.6-.1h0m2.5-.2h0m2.4,0h0m2.8-.1h0m2.8-.6h0m2.7,.9h0m2.6,0h0m2.8,.1h0m2.8-.7h0m2.9,.7h0m2.7-.2h0m2.6-.2h0m2.6-.2h0m2.6,.6h0m2.7-.4h0m2.8-.3h0m2.5,.2h0m2.6-.5h0m2.7-.4h0m2.8,.6h0m2.7-1.3h0m2.9-.2h0m2.6-1.7h0m2.8,.5h0m2.9,1.7h0m2.6,.2h0m2.4,0h0m2.8,1.1h0m2.6,.1h0m2.6-1.3h0m2.9,.2h0m2.5-.3h0m2.8-1.3h0m2.5-2h0m2.8-10.7h0m2.5-5.1h0m2.6,13.7h0m3,3.7h0m2.6,1.6h0m2.8,.3h0m2.6,.2h0m2.7,.3h0m3,.9h0m2.8-.6h0m2.9,.3h0m2.9,.6h0m2.4-.3h0m3-.4h0m2.6-.6h0m2.9,.3h0m2.4-.2h0m2.7,.9h0m3,0h0m2.4,.3h0m3-.1h0m2.9,0h0m2.8-.1h0m2.4,.3h0m2.4-.7h0m2.8,.1h0m2.6,0h0m2.6,.2h0m2.4-.4h0m2.8,.1h0m2.4,0h0m2.9,.1h0m2.9-.2h0m3,.2h0m2.9,.2h0m2.8-.4h0m3,.9h0m2.9-.1h0m2.7-.8h0m2.9,.6h0m2.8-.3h0m2.4,0h0m2.4-.1h0m2.5,.1h0m2.5-.4h0m2.9,.4h0m2.5,.6h0m2.4-.8h0m2.8,.2h0m2.8,.5h0m2.5-.6h0m2.5,.1h0" stroke="#2323dc" stroke-width="2.5" stroke-linecap="round" fill="none"/>
<line x1="794.3" y1="456.8" x2="805.1" y2="456.8" stroke="#3de8f4" stroke-width="2.2"/>
<line x1="832.6" y1="456.8" x2="850.3" y2="456.8" stroke="#3de8f4" stroke-width="2.2"/>
<path d="M724.5,456.2l2.9,0 3,0 2.9,0 3,0 2.9,0 3,0 2.9,0 3,0 2.9-.1 3,0 2.9,0 3,0 2.9,0 3,0 2.9,0 1.5,0 1.5,0 1.4,0 1.5-.1 1.5,0 1.5,0 1.4,0 1.5,0 1.5-.1 1.5,0 1.4-.1 1.5-.1 1.5,0 1.5-.2 1.4-.1 1.5-.2 1.5-.3 1.5-.4 1.4-.4 1.5-.3 1.5-.2 1.4,.2 1.5,.3 1.5,.4 1.5,.4 1.4,.2 1.5,.2 1.5,.2 1.5,.1 1.4,0 1.5,.1 1.5,0 1.5,0 1.4,.1 1.5,0 1.5-.1 1.5,0 1.4,0 1.5-.1 1.5-.1 1.5-.1 1.2-.2 .2-.1 .9-.1 1.1-.3 1-.3 .1-.1 1.1-.6 1.1-.9 .6-.7 .5-.8 1.1-2.5 .6-2 .5-2.7 .3-1.4 .3-1.9 .5-3.9 .6-3.4 .5-1.3 .6,1.4 .4,2.5 .1,.9 .6,3.8 .6,3.4 .5,2.6 .6,2 .5,1.4 .1,.2 .5,1 1.1,1.5 1.1,.9 .2,.1 .9,.5 1.1,.4 1,.2 .1,0 1.1,.2 1.7,.3 3,.2 2.9,.1 3,.1 2.9,.1 3,0 2.9,.1 3,0 2.9,0 2.9,0 3,0 2.9,0 3,0 2.9,0 3,.1 2.9,0 3,0 2.9,0 3,0 2.9,0 3,0 2.9,0 3,0 2.9,0 3,0 2.9,0 3,0 2.9,0 3,0 2.9,0 3,0 2.9,0 3,0 2.9,0 3,0 2.9,0 2.9,0 3,0 2.9,0 3,0 2.9,0 3,0 2.9,0" fill="none" stroke="#262626" stroke-width="1.6" stroke-linejoin="round"/>
<path d="M725.5,456.4h0m2.9-.2h0m2.6,.1h0m2.5,.4h0m2.7-.5h0m2.9,.4h0m3-.1h0m2.7-.4h0m2.9,.2h0m2.4-.1h0m2.8-.3h0m2.9,.6h0m2.9-.7h0m2.8,.4h0m2.6-.4h0m2.4,.8h0m2.6-.7h0m2.6,.2h0m2.7,.5h0m2.4-.8h0m2.9,.6h0m2.5-.6h0m2.9,.7h0m2.6-.5h0m2.6-1.2h0m3-.3h0m3-.3h0m2.9-.6h0m2.9,.7h0m2.5-.3h0m2.5,1.3h0m2.5-.5h0m2.6,.2h0m2.6,.9h0m2.5,.3h0m2.6-.6h0m2.6,.6h0m2.5-.1h0m2.4,.1h0m2.8-.6h0m2.7-.7h0m2.8-2.3h0m2.5-3.5h0m2.5-15.1h0m2.5,7.5h0m2.8,9.5h0m3,2.7h0m2.6,1.4h0m2.6,.1h0m2.7,.9h0m2.5-.7h0m3,.2h0m2.5,1h0m3-1h0m2.7,1h0m2.6-.8h0m2.4-.2h0m2.7,.5h0m2.9-.1h0m2.6,0h0m2.5,.1h0m2.8-.4h0m2.8,1.1h0m2.8-.9h0m2.8-.3h0m2.4,1h0m2.9-.3h0m2.7-.3h0m2.9,.2h0m2.9,.3h0m2.6,.1h0m2.6-.3h0m2.9,.5h0m2.8-1h0m2.5,.8h0m2.6-.9h0m2.7,.4h0m2.8-.4h0m2.8,1.1h0m2.5-.8h0m2.6-.3h0m2.5,.2h0m2.7-.2h0m2.8,.3h0m2.6,.7h0m2.8-.6h0m2.6,.1h0m2.8,.4h0m2.8-1.1h0m2.5,1.4h0m2.7-.7h0m2.5,.4h0m2.8-.7h0m2.6-.3h0m2.6,.6h0" stroke="#2323dc" stroke-width="2.5" stroke-linecap="round" fill="none"/>
<line x1="777.6" y1="476.1" x2="789.4" y2="476.1" stroke="#3de8f4" stroke-width="2.2"/>
<line x1="830.6" y1="476.1" x2="848.3" y2="476.1" stroke="#3de8f4" stroke-width="2.2"/>
<path d="M724.5,475.5l2.9,0 3-.1 2.9,0 3,0 2.9,0 3,0 2.9,0 3,0 1,0 1.9,0 1.5,0 1.5,0 1.9-.1 1,0 2.5,0 .5,0 2.9-.1 3,0 .5-.1 2.4-.1 1,0 2-.2 1.4-.1 1.5-.2 .3,0 1.7-.3 1-.2 .7-.1 1.7-.4 .5-.1 1.2-.3 1.8-.1 1.7,.1 1.2,.2 .5,.2 1.7,.4 .8,.1 .9,.2 1.8,.3 .2,0 1.5,.2 1.5,.1 .2,0 1.7,.1 1,.1 2.5,.1 .4,0 3,.1 2.9,0 .5,0 2.5,0 1,0 1.9,0 1.5,0 1.5,0 2,0 .9-.1 3,0 2.9-.2 3-.3 .7-.1 1.1-.2 1.1-.3 1.1-.4 1.1-.5 .8-.6 .3-.4 1.2-1.4 1.1-2.6 .3-1.3 .2-.7 .6-2.6 .5-3.4 .6-3.8 .5-3.4 .6-1.4 .5,1.4 .6,3.4 .5,3.8 .6,3.4 .5,2.6 .2,.7 .4,1.3 .5,1.5 .6,1.1 1.1,1.5 .4,.3 .7,.6 1.1,.6 1.1,.4 1.1,.2 1.1,.3 .8,.1 2.9,.2 3,.2 2.9,.1 3,.1 2.9,0 3,0 2.9,.1 3,0 2.9,0 2.9,0 3,0 2.9,0 3,0 2.9,0 3,.1 2.9,0 3,0 2.9,0 3,0 2.9,0 3,0 2.9,0 3,0 2.9,0 3,0 2.9,0 3,0 2.9,0 3,0 2.9,0 3,0 2.9,0 3,0 2.9,0 3,0 2.9,0 2.9,0 3,0 2.9,0 3,0 2.9,0 3,0 2.9,0" fill="none" stroke="#262626" stroke-width="1.6" stroke-linejoin="round"/>
<path d="M725.5,474.8h0m2.5,.3h0m2.9,1h0m2.9-.7h0m2.6,.6h0m2.8-.4h0m2.9,.4h0m2.7-.9h0m2.8,.9h0m2.6-.8h0m2.8,.6h0m2.4,0h0m2.6-1h0m2.4,.4h0m2.7-.4h0m2.8-.1h0m3,1h0m2.6-1.5h0m2.4,.5h0m2.6-.1h0m2.7-1.3h0m2.5,.5h0m2.8-.5h0m2.6,.1h0m2.8,.9h0m2.6,0h0m2.9-.1h0m2.8,1.1h0m2.7-.1h0m2.9-.3h0m2.9,.6h0m2.8-.9h0m2.8,.4h0m2.5,.8h0m2.6-.7h0m2.6-.5h0m2.5,.6h0m2.8,0h0m2.5-.9h0m2.9-.3h0m2.8-1.5h0m2.7-5.2h0m2.9-14.6h0m2.8,11.6h0m2.8,7.8h0m2.6,1.4h0m2.9,.7h0m2.8,0h0m2.4,.2h0m2.6,1.3h0m2.7-.5h0m2.5,.2h0m2.5-.7h0m2.6,.3h0m2.9,.5h0m2.7-.4h0m2.7-.2h0m2.6,1.2h0m2.8-.9h0m2.7,.8h0m2.9-.5h0m2.5-.7h0m2.5,1.1h0m2.8-.2h0m2.9-.7h0m2.7-.2h0m2.4,.8h0m2.4-.3h0m2.6,.7h0m2.7-.9h0m2.8-.1h0m2.9,1.1h0m3-.5h0m2.5-.5h0m2.9,.3h0m2.8-.3h0m2.7,.9h0m2.6-.1h0m2.5-.2h0m2.4-.6h0m2.5,0h0m2.7,.8h0m2.9,.2h0m2.5,0h0m2.7-.4h0m2.8-.5h0m2.6,.2h0m2.6,.4h0m2.9-.1h0m2.4,.2h0m2.9,.3h0m2.5-.1h0m2.6-.5h0m2.6-.5h0m2.6,.5h0" stroke="#2323dc" stroke-width="2.5" stroke-linecap="round" fill="none"/>
<line x1="744.2" y1="494.7" x2="749.1" y2="494.7" stroke="#3de8f4" stroke-width="2.2"/>
<line x1="825.2" y1="494.7" x2="842.9" y2="494.7" stroke="#3de8f4" stroke-width="2.2"/>
<path d="M724.5,493.8l2.5,0 .4,0 3-.1 1.5-.1 1.4,0 1-.1 2-.1 .5-.1 2.4-.2 2.5-.2 .5-.1 2-.1 .9-.1 1.5,0 1.5,0 1,.1 1.9,.1 .5,.1 2.5,.2 2.4,.2 .5,.1 2,.1 1,0 1.5,.1 1.4,.1 1,0 2,.1 .5,0 2.4,0 2.5,.1 .5,0 2.9,0 1.5,0 1.5,0 2.9,0 .5,0 2.5,.1 2.4,0 .5,0 3,0 1.4,0 1.5,0 3,0 .4,0 2.5,0 2.9-.1 3,0 2.9,0 3,0 2.9-.1 3-.1 2.9-.1 3-.3 1.2-.1 1.1-.3 .6-.1 .5-.1 1.1-.4 1.1-.6 .3-.2 .8-.7 1.1-1.5 1-2.2 .2-.4 .5-2 .6-2.6 .5-3.4 .6-3.8 .5-3.4 .1-.3 .5-1.1 .5,1.4 .6,3.4 .5,3.8 .6,3.4 .2,1.2 .3,1.4 .6,2 .5,1.5 .6,1.1 1,1.3 .1,.2 1.1,.9 1.1,.6 .6,.2 .5,.2 1.1,.3 1.1,.2 .3,0 2.9,.3 3,.2 2.9,.1 3,.1 2.9,0 3,.1 2.9,0 3,0 2.9,0 3,0 2.9,0 2.9,0 3,0 2.9,.1 3,0 2.9,0 3,0 2.9,0 3,0 2.9,0 3,0 2.9,0 3,0 2.9,0 3,0 2.9,0 3,0 2.9,0 3,0 2.9,0 3,0 2.9,0 3,0 2.9,0 3,0 2.9,0 3,0 2.9,0 2.9,0 3,0 2.9,0 3,0 2.9,0 3,0 2.9,0" fill="none" stroke="#262626" stroke-width="1.6" stroke-linejoin="round"/>
<path d="M725.5,493.9h0m2.7-.5h0m2.7,0h0m2.5-.2h0m2.6,.4h0m2.5,.1h0m2.4-.1h0m2.4-1.1h0m2.6,.3h0m2.5-.6h0m2.9,1.2h0m2.4-.9h0m2.6,.6h0m2.8,1h0m2.8-.7h0m2.5-.3h0m2.5,1.2h0m2.9-.6h0m2.5,.7h0m2.6-.6h0m2.9-.5h0m2.6,.2h0m2.7,1.1h0m3-.3h0m2.9-.5h0m2.8,.5h0m2.9-.5h0m3-.3h0m2.7,1.1h0m2.9-.3h0m2.5-.6h0m2.7,.6h0m2.5-.4h0m2.9,.1h0m2.5-.9h0m2.7,0h0m2.7,.3h0m2.4,.1h0m3-2.1h0m2.5-1.6h0m2.5-9.9h0m2.6-7.1h0m2.4,13.4h0m2.9,5.2h0m2.6,1.4h0m2.9,.4h0m2.5,.5h0m2.9-.6h0m2.8,.6h0m2.5-.1h0m2.4,.7h0m2.8-.5h0m2.9,.6h0m2.6-1.1h0m2.8,.3h0m2.7-.1h0m2.9,1h0m2.5,0h0m2.5-1h0m2.7,.2h0m2.6,.2h0m2.9,.5h0m2.9-.7h0m2.6,.8h0m2.6-1h0m2.7,.2h0m2.8,.2h0m2.5,.5h0m2.9-.8h0m2.6,.5h0m2.5,.6h0m2.6-1.2h0m2.6,.2h0m2.5,.5h0m2.9-.3h0m2.8,.8h0m2.7-.8h0m2.9,.4h0m2.6,.2h0m2.6-1h0m2.5,.4h0m2.9-.2h0m2.5-.2h0m2.9,.6h0m2.9-.2h0m2.5-.3h0m2.9,.5h0m2.9,.6h0m2.7-1.2h0m2.9,1.1h0m2.7-.5h0m2.9-.2h0m2.4,.8h0m2.7-.8h0m2.9,.8h0" stroke="#2323dc" stroke-width="2.5" stroke-linecap="round" fill="none"/>
<line x1="811.5" y1="513.0" x2="831.6" y2="513.0" stroke="#3de8f4" stroke-width="2.2"/>
<path d="M724.5,512.4l2.9,0 3,0 2.9,0 3,0 2.9,0 3,0 2.9,0 3,0 2.9,0 3,0 2.9,0 3,0 2.9,0 3,0 2.9,0 3-.1 2.9,0 3,0 2.9,0 3,0 2.9,0 3,0 2.9-.1 3,0 2.9-.1 2.9,0 2-.1 1-.1 .5,0 1.5-.1 .9-.1 .5,0 1.5-.2 1-.2 .5-.1 1.2-.4 .3,0 .8-.4 .1-.1 .5-.2 .5-.4 .3-.2 .7-.6 .1-.2 .6-.7 .3-.3 .2-.4 .3-.3 .7-1.2 .1-.1 .7-.8 .4-.6 .3-.3 .2-.2 .5-.7 .2-.3 .5-1.2 .1-.2 .5-1.7 .2-1 .3-1.6 .4-2.3 .2-.7 .1-.7 .4-2 .1-.2 .5-.9 .2,.4 .3,1 .5,2.4 .1,.7 .5,3.5 .3,1.7 .3,1.3 .2,1.2 .3,1.2 .6,1.8 .5,1.3 .1,.2 .5,.8 .5,.7 .5,.6 .1,.1 1.1,.9 .2,.1 .9,.4 .1,.1 .5,.1 .5,.2 1,.2 .1,.1 .9,.1 .2,.1 2.7,.3 3,.2 2.9,.1 3,.1 2.9,0 3,0 2.9,.1 3,0 2.9,0 3,0 2.9,0 3,0 2.9,0 3,.1 2.9,0 2.9,0 3,0 2.9,0 3,0 2.9,0 3,0 2.9,0 3,0 2.9,0 3,0 2.9,0 3,0 2.9,0 3,0 2.9,0 3,0 2.9,0 3,0 2.9,0 3,0 2.9,0 3,0 2.9,0 3,0 2.9,0 3,0 2.9,0 2.9,0 3,0 2.9,0 3,0 2.9,0 3,0 2.9,0" fill="none" stroke="#262626" stroke-width="1.6" stroke-linejoin="round"/>
<path d="M725.5,512.7h0m3-.3h0m2.7,.6h0m2.5-.3h0m2.5-.6h0m2.9-.3h0m2.9,.9h0m3,.2h0m2.7-.7h0m2.5,.8h0m2.9-.9h0m2.5,.9h0m2.6-1.1h0m2.6,.8h0m2.9-.7h0m2.8,.5h0m2.8-.6h0m2.8-.1h0m2.5,.7h0m2.9,.1h0m3,.2h0m2.8,.1h0m2.9-.1h0m2.5-.8h0m2.7,.3h0m2.7,.5h0m2.8,0h0m3-1.3h0m2.5,1.2h0m2.5-1h0m2.5,.2h0m2.7-.1h0m2.9-1h0m2.6-2.6h0m3-4.3h0m2.7-7h0m2.7-1.8h0m2.8,11.5h0m2.4,3.8h0m2.8,.6h0m3,.2h0m2.4,0h0m2.7,.5h0m2.8,1.1h0m2.7-.2h0m2.5-.1h0m2.5,.2h0m2.7-.6h0m2.7-.2h0m2.8,.4h0m2.5-.3h0m2.6,0h0m2.5,.4h0m2.8-.8h0m2.8,.3h0m2.7,.9h0m2.6,0h0m2.5-.7h0m2.4-.2h0m2.8,1.1h0m2.9-1h0m2.7,.6h0m2.6-.8h0m2.9,1.2h0m2.6-1.2h0m2.9,.1h0m2.4,1.2h0m2.5-1.1h0m2.8,.7h0m2.8-.8h0m3,.3h0m2.5,.6h0m2.5-.5h0m2.6,.1h0m2.8-.5h0m3,.5h0m2.9-.1h0m2.7,.2h0m2.4-.5h0m2.5-.1h0m2.5,0h0m3-.1h0m2.5,0h0m2.8,1.1h0m2.7-.7h0m2.9,.3h0m2.8,.2h0m2.6-.9h0m2.6,.2h0m2.8,.9h0m2.4-.4h0m2.8-.2h0m2.5,.8h0m2.9-.3h0m2.9,.2h0" stroke="#2323dc" stroke-width="2.5" stroke-linecap="round" fill="none"/>
<line x1="788.4" y1="530.9" x2="807.0" y2="530.9" stroke="#3de8f4" stroke-width="2.2"/>
<path d="M724.5,530.3l2.9,0 3,0 2.9,0 3,0 2.9,0 3,0 2.9,0 3-.1 2.9,0 3,0 2.9,0 3,0 2.9,0 3,0 2.9-.1 3,0 2.9,0 3-.1 2.9-.1 3-.2 2.9-.4 1.5-.3 1-.3 .5-.2 .4-.2 1-.6 1-.8 .5-.6 .5-.7 1-2.1 1-3.7 .5-2.8 .4-3.7 .5-4.8 .5-5.4 .5-4.8 .5-2 .5,2 .5,4.8 .5,5.4 .5,4.8 .5,3.7 .5,2.8 .4,2.1 .5,1.6 1,2.1 1,1.3 .5,.5 .5,.3 1,.6 1,.4 .4,.2 .5,.1 2.5,.5 2.9,.2 3,.2 2.9,.1 3,.1 2.9,0 3,.1 2.9,0 3,0 2.9,0 3,0 2.9,0 3,0 2.9,0 3,.1 2.9,0 3,0 2.9,0 3,0 2.9,0 3,0 2.9,0 3,0 2.9,0 2.9,0 3,0 2.9,0 3,0 2.9,0 3,0 2.9,0 3,0 2.9,0 3,0 2.9,0 3,0 2.9,0 3,0 2.9,0 3,0 2.9,0 3,0 2.9,0 3,0 2.9,0 3,0 2.9,0 3,0 2.9,0 3,0 2.9,0 2.9,0 3,0 2.9,0 3,0 2.9,0 3,0 2.9,0" fill="none" stroke="#262626" stroke-width="1.6" stroke-linejoin="round"/>
<path d="M725.5,530.7h0m2.8-1.1h0m2.6,.4h0m2.9-.4h0m2.8,.6h0m2.5-.1h0m2.5,.4h0m2.6-.6h0m2.9,.2h0m2.8-.4h0m2.7,.1h0m2.5,.4h0m2.9,0h0m2.9-.2h0m2.5,.7h0m2.6-.8h0m2.8,.9h0m2.7-.7h0m2.5-.6h0m2.6,.1h0m2.8-.2h0m2.5,.1h0m2.4,.5h0m2.7-.5h0m2.8-.9h0m2.7-3h0m2.8-8.9h0m2.5-19.8h0m3,23.9h0m2.9,6.3h0m2.9,1.8h0m2.9,.1h0m2.6,.1h0m2.6,1.4h0m2.7-.8h0m2.8,.1h0m2.8,.6h0m2.8-.1h0m2.6-.6h0m2.5-.1h0m2.6,1.1h0m2.9-.9h0m2.9,.2h0m2.6,.8h0m2.8-.5h0m2.9-.3h0m2.6-.3h0m2.6,.9h0m2.4-.3h0m2.5,0h0m2.4,.2h0m2.7,.3h0m2.5-1h0m2.8,.2h0m3,.5h0m2.9-.1h0m2.8-.5h0m2.7,0h0m2.8,.3h0m3,.2h0m2.8-.7h0m3,1h0m2.5-.2h0m2.8-.4h0m2.6-.4h0m2.5,.4h0m2.6-.2h0m2.9,0h0m2.6-.2h0m2.7,0h0m2.5,1.1h0m2.7-.3h0m2.8-.1h0m2.5-.8h0m2.7,.3h0m2.4,.9h0m2.8-.1h0m2.5-.8h0m2.9,0h0m2.6,1h0m2.8-.2h0m2.9-1h0m2.4,.2h0m3,1h0m2.5-.6h0m2.4,0h0m2.9-.1h0m2.5-.3h0m2.9,.4h0m2.4-.4h0m2.5,.3h0m2.5,0h0m2.4,.8h0m2.9-1.3h0m2.8,0h0" stroke="#2323dc" stroke-width="2.5" stroke-linecap="round" fill="none"/>
<path d="M725.5,547.8h0m2.9-.3h0m2.8-.2h0m2.8-.3h0m2.5,1.1h0m2.9-.2h0m2.6-1h0m2.5,.6h0m2.6-.4h0m2.8,.4h0m2.5-.9h0m2.8,.2h0m2.8-.1h0m2.6,.5h0m2.9-.4h0m2.9,.4h0m2.6,.4h0m2.9,.2h0m2.5,.8h0m2.5-.3h0m2.9,.4h0m3-.8h0m2.8,.5h0m2.9-1.2h0m2.9,.6h0m2.8-.5h0m2.7,.1h0m2.6,.5h0m2.5-.4h0m2.9,.6h0m2.5,.6h0m2.4-1.8h0m2.4,1.6h0m2.6-1.9h0m2.6,1.3h0m2.6-1.4h0m2.6,1.4h0m2.9,.7h0m3-.9h0m2.5-.5h0m2.9,.7h0m2.8,.4h0m2.6-.9h0m2.7-.6h0m2.9,1.4h0m2.6-.2h0m2.6-1.2h0m2.4,.4h0m2.6,1.2h0m2.8,.2h0m2.8-1.5h0m2.7,1.4h0m2.5-1.7h0m2.5,1.3h0m3,.4h0m2.9-1.5h0m3,.2h0m2.6,0h0m3,0h0m2.8-.2h0m2.9,1.6h0m2.7-.5h0m2.9-1.1h0m2.7,.1h0m2.5-.5h0m2.7,.1h0m2.7,1.2h0m2.6,.3h0m2.5,0h0m2.8-1.3h0m2.7-.5h0m2.8,.5h0m3-.4h0m2.7,.9h0m2.7,1h0m2.6-.3h0m3,.4h0m2.8,.3h0m2.9-1.3h0m2.5-.8h0m2.5,1.3h0m2.7-.4h0m2.5-.2h0m2.6-.9h0m2.7,.4h0m2.6,.5h0m2.6-.5h0m2.9,1.8h0m2.7-.1h0m3-2.1h0m2.8,2.3h0m2.6-.6h0m2.7,.5h0m2.7-.2h0" stroke="#2323dc" stroke-width="2.5" stroke-linecap="round" fill="none"/>
<path d="M844.3,315.0 843.0,360.0 841.0,400.0 839.5,440.0 837.6,477.5 832.0,490.0 823.0,499.7 812.0,506.0 799.9,510.8" fill="none" stroke="#ff2a2a" stroke-width="2.3" stroke-dasharray="7,3.5" stroke-linecap="butt"/>
<path d="M837.6,351.0 832.0,365.0 826.5,377.7 820.0,398.0 815.4,417.6 809.0,437.0 802.1,453.1 791.0,466.0 777.7,477.5 762.0,487.0 746.6,495.3" fill="none" stroke="#ff2a2a" stroke-width="2.3" stroke-dasharray="7,3.5" stroke-linecap="butt"/>
</g>
<rect x="724.5" y="307.5" width="255.5" height="255.5" fill="none" stroke="#6a6a6a" stroke-width="1.2"/>
<path d="M724.5,563.0v-3M724.5,307.5v3M729.4,563.0v-3M729.4,307.5v3M734.3,563.0v-5.5M734.3,307.5v5.5M739.2,563.0v-3M739.2,307.5v3M744.2,563.0v-3M744.2,307.5v3M749.1,563.0v-3M749.1,307.5v3M754.0,563.0v-3M754.0,307.5v3M758.9,563.0v-5.5M758.9,307.5v5.5M763.8,563.0v-3M763.8,307.5v3M768.7,563.0v-3M768.7,307.5v3M773.6,563.0v-3M773.6,307.5v3M778.5,563.0v-3M778.5,307.5v3M783.5,563.0v-5.5M783.5,307.5v5.5M788.4,563.0v-3M788.4,307.5v3M793.3,563.0v-3M793.3,307.5v3M798.2,563.0v-3M798.2,307.5v3M803.1,563.0v-3M803.1,307.5v3M808.0,563.0v-5.5M808.0,307.5v5.5M812.9,563.0v-3M812.9,307.5v3M817.9,563.0v-3M817.9,307.5v3M822.8,563.0v-3M822.8,307.5v3M827.7,563.0v-3M827.7,307.5v3M832.6,563.0v-5.5M832.6,307.5v5.5M837.5,563.0v-3M837.5,307.5v3M842.4,563.0v-3M842.4,307.5v3M847.3,563.0v-3M847.3,307.5v3M852.2,563.0v-3M852.2,307.5v3M857.2,563.0v-5.5M857.2,307.5v5.5M862.1,563.0v-3M862.1,307.5v3M867.0,563.0v-3M867.0,307.5v3M871.9,563.0v-3M871.9,307.5v3M876.8,563.0v-3M876.8,307.5v3M881.7,563.0v-5.5M881.7,307.5v5.5M886.6,563.0v-3M886.6,307.5v3M891.6,563.0v-3M891.6,307.5v3M896.5,563.0v-3M896.5,307.5v3M901.4,563.0v-3M901.4,307.5v3M906.3,563.0v-5.5M906.3,307.5v5.5M911.2,563.0v-3M911.2,307.5v3M916.1,563.0v-3M916.1,307.5v3M921.0,563.0v-3M921.0,307.5v3M926.0,563.0v-3M926.0,307.5v3M930.9,563.0v-5.5M930.9,307.5v5.5M935.8,563.0v-3M935.8,307.5v3M940.7,563.0v-3M940.7,307.5v3M945.6,563.0v-3M945.6,307.5v3M950.5,563.0v-3M950.5,307.5v3M955.4,563.0v-5.5M955.4,307.5v5.5M960.3,563.0v-3M960.3,307.5v3M965.3,563.0v-3M965.3,307.5v3M970.2,563.0v-3M970.2,307.5v3M975.1,563.0v-3M975.1,307.5v3M980.0,563.0v-5.5M980.0,307.5v5.5" stroke="#555" stroke-width="1.1" fill="none"/>
<g font-family="Liberation Sans, Arial, sans-serif" font-size="11.5" fill="#222" stroke="#222" stroke-width="0.3" text-anchor="middle">
<text x="733.5" y="576.5">10</text>
<text x="758.1" y="576.5">15</text>
<text x="782.7" y="576.5">20</text>
<text x="807.2" y="576.5">25</text>
<text x="831.8" y="576.5">30</text>
<text x="856.4" y="576.5">35</text>
<text x="880.9" y="576.5">40</text>
<text x="905.5" y="576.5">45</text>
<text x="930.1" y="576.5">50</text>
<text x="954.6" y="576.5">55</text>
<text x="979.2" y="576.5">60</text>
</g>
<text x="847.3" y="591.0" text-anchor="middle" font-family="Liberation Sans, Arial, sans-serif" font-size="14" fill="#222" stroke="#222" stroke-width="0.3">Wavenumber (cm<tspan font-size="9" dy="-5">-1</tspan><tspan dy="5">)</tspan></text>
<text transform="translate(715.1,436.0) rotate(-90)" text-anchor="middle" font-family="Liberation Sans, Arial, sans-serif" font-size="13.8" fill="#222" stroke="#222" stroke-width="0.25">Intensity (a.u.)</text>
<g font-family="Liberation Sans, Arial, sans-serif" font-size="11.3" fill="#222" stroke="#222" stroke-width="0.3" text-anchor="end">
<text x="975.6" y="334.8">bulk</text>
<text x="975.6" y="357.0">12 TL</text>
<text x="975.6" y="376.3">10 TL</text>
<text x="975.6" y="395.5">9 TL</text>
<text x="975.6" y="414.8">8 TL</text>
<text x="975.6" y="434.9">7 TL</text>
<text x="975.6" y="453.3">6 TL</text>
<text x="975.6" y="472.5">5 TL</text>
<text x="975.6" y="491.8">4 TL</text>
<text x="975.6" y="510.2">3 TL</text>
<text x="975.6" y="527.6">2 TL</text>
<text x="975.6" y="545.2">1 TL</text>
</g>
<text x="733.0" y="329.3" font-family="Liberation Sans, Arial, sans-serif" font-size="14" fill="#222" stroke="#222" stroke-width="0.35">MoS<tspan font-size="8.5" dy="4.5">2</tspan></text>
<g font-family="Liberation Serif, Times New Roman, serif" font-style="italic" font-size="17.5" fill="#2a2a2a"><text x="773.5" y="329.5">z</text><line x1="773.7" y1="318.3" x2="781.8" y2="318.3" stroke="#2a2a2a" stroke-width="1.2"/><text x="782.5" y="329.5" font-style="normal">(</text><text x="789.3" y="329.5">x</text><text x="797.5" y="329.5">y</text><text x="806.5" y="329.5" font-style="normal">)</text><text x="812.1" y="329.5">z</text></g>
<text x="855.4" y="329.0" font-family="Liberation Sans, Arial, sans-serif" font-size="11.5" font-weight="bold" fill="#2424ee">S1</text>
<text x="811.0" y="356.6" font-family="Liberation Sans, Arial, sans-serif" font-size="11.5" font-weight="bold" fill="#22c822">S2</text>
<g clip-path="url(#cb4)">
<path d="M1018.4,356.6l3.4,0 3.4,0 3.4,0 3.4,0 3.4,0 3.4,0 3.4,0 3.4,0 3.4,0 3.4,0 3.4,0 3.4,0 3.4,0 3.4-.1 3.4,0 3.4,0 3.4,0 3.4,0 3.3,0 3.4,0 3.4-.1 3.4,0 3.4-.1 3.4,0 3.4-.2 3.4-.2 3.4-.3 2.3-.5 1.1-.4 1-.4 1.1-.7 1.1-.9 .2-.3 .9-1.2 1-2.5 1.1-4.3 .4-2.3 .2-.9 .5-4.4 .5-5.5 .6-6.3 .5-5.6 .6-2.3 .5,2.3 0,.3 .5,5.3 .6,6.3 .5,5.5 .5,4.4 .6,3.2 .5,2.5 .2,.7 .4,1.1 1,2.5 1.1,1.5 .9,.8 .2,.1 1.1,.7 1,.4 1.1,.4 3.4,.6 3.4,.3 3.4,.2 3.4,.1 3.4,.1 3.4,0 3.4,0 3.4,.1 3.4,0 3.4,0 3.4,0 3.4,0 3.4,0 3.4,0 3.4,.1 3.4,0 3.4,0 3.4,0 3.4,0 3.4,0 3.4,0 3.4,0 3.3,0 3.4,0 3.4,0 3.4,0 3.4,0 3.4,0 3.4,0 3.4,0 3.4,0 3.4,0 3.4,0 3.4,0 3.4,0 3.4,0 3.4,0 3.4,0 3.4,0 3.4,0 3.4,0" fill="none" stroke="#262626" stroke-width="1.6" stroke-linejoin="round"/>
<path d="M1019.4,356.2h0m3.5,.6h0m3.6-.7h0m3.3,0h0m3.2,.8h0m3.2-.3h0m3.2-.3h0m3.4,.7h0m3.4-1.1h0m3.3,.2h0m3.6,.9h0m3.6,0h0m3.5,.2h0m3.6-1h0m3.6,.3h0m3.6,.1h0m3.3-.3h0m3.4,0h0m3.2,.6h0m3.5,.3h0m3.6-.7h0m3.5-.6h0m3.5,.4h0m3.2-.4h0m3.4,0h0m3.4,.3h0m3.4-.9h0m3.3-.4h0m3.3-1.3h0m3.3-4.1h0m3.5-20.6h0m3.3,6.6h0m3.7,15.4h0m3.2,3.9h0m3.6,.8h0m3.2,.1h0m3.6,1h0m3.6-.9h0m3.6,.4h0m3.5-.3h0m3.7,.7h0m3.5-.5h0m3.5,.5h0m3.5-.3h0m3.5,0h0m3.3-.2h0m3.5-.1h0m3.2-.1h0m3.5,.7h0m3.4-.7h0m3.4,.4h0m3.2-.4h0m3.7,.1h0m3.2,.2h0m3.5-.2h0m3.4,.4h0m3.6-.5h0m3.3,.7h0m3.7,0h0m3.3,.2h0m3.3-.9h0m3.4,1.3h0m3.6-1h0m3.5,.9h0m3.2-.4h0m3.3-.5h0m3.3,0h0m3.3-.3h0m3.4,.1h0m3.5,.7h0m3.1,.3h0m3.2-.4h0m3.5-.2h0m3.2,.1h0m3.2,.6h0" stroke="#2323dc" stroke-width="2.5" stroke-linecap="round" fill="none"/>
<line x1="1018.4" y1="388.2" x2="1273.2" y2="388.2" stroke="#3de8f4" stroke-width="2.2"/>
<path d="M1018.4,387.6l3.4,0 3.4-.1 3.4,0 3.4,0 3.4,0 3.4,0 3.4,0 3.4,0 3.4,0 3.4,0 3.4-.1 3.4,0 3.4,0 3.4-.1 3.4,0 3.4-.2 1.9,0 1.5-.1 .5-.1 2-.1 .9-.1 1.1-.2 2-.3 .2-.1 1.7-.6 1.7-.8 .3-.2 1-.8 1-1 1-1.4 .1-.2 .9-1.3 1-1.4 1-.6 .5,.2 .5,.4 1,1.3 .9,1.5 1,1.3 1,1 1,.8 1,.5 .4,.2 .6,.2 2,.5 .8,.1 1.2,.1 1.9,0 .3,0 1.7-.2 1.2-.2 .5-.2 .3,0 .2-.1 1.1-.5 .7-.3 .4-.3 .7-.7 .4-.3 1-1.6 1.1-2.6 .9-3.6 .2-.9 .5-3.4 .6-4.6 .5-5.9 .5-6.7 .6-5.9 .5-2.5 .6,2.5 .5,5.9 .5,6.7 .6,5.9 .5,4.7 .5,3.4 .2,.9 .4,1.7 .5,2 1.1,2.6 1.1,1.6 .3,.3 .8,.7 1,.7 1.1,.5 .5,.2 .6,.2 2.8,.6 3.4,.4 3.4,.2 3.4,.1 3.4,.1 3.4,0 3.4,.1 3.4,0 3.4,.1 3.4,0 3.4,0 3.4,0 3.4,0 3.4,0 3.4,0 3.4,0 3.4,0 3.4,0 3.4,.1 3.4,0 3.4,0 3.4,0 3.4,0 3.3,0 3.4,0 3.4,0 3.4,0 3.4,0 3.4,0 3.4,0 3.4,0 3.4,0 3.4,0 3.4,0 3.4,0 3.4,0 3.4,0 3.4,0 3.4,0 3.4,0 3.4,0 3.4,0" fill="none" stroke="#262626" stroke-width="1.6" stroke-linejoin="round"/>
<path d="M1019.4,388h0m3.2-.7h0m3.4-.4h0m3.1,.4h0m3.4,.8h0m3.7-1.2h0m3.4,.1h0m3.6,.3h0m3.6,.3h0m3.2-.8h0m3.3,1.2h0m3.2-.6h0m3.3-.2h0m3.6-.2h0m3.5,.5h0m3.6-.2h0m3.7-.3h0m3.4,0h0m3.6,0h0m3.2-1.9h0m3.4-1.2h0m3.5-5.4h0m3.6,1.5h0m3.2,3.3h0m3.1,2.4h0m3.2,.5h0m3.6,.3h0m3.6-1.8h0m3.4-2.9h0m3.6-20.1h0m3.5,.7h0m3.3,19.4h0m3.4,2.8h0m3.6,1.5h0m3.1-.1h0m3.2,.7h0m3.7,.1h0m3.6,1h0m3.4,.2h0m3.5-.6h0m3.3,0h0m3.6,.1h0m3.2-.2h0m3.4-.3h0m3.5-.2h0m3.5,.3h0m3.2,.5h0m3.3,.5h0m3.4-.5h0m3.6-.5h0m3.5,.7h0m3.4,.4h0m3.1-.1h0m3.2-.1h0m3.2-1.1h0m3.4,1.3h0m3.2-.7h0m3.5-.3h0m3.4-.3h0m3.4,1h0m3.3-.7h0m3.1,.7h0m3.4,.3h0m3.5-1.2h0m3.7,1.2h0m3.6-.2h0m3.5-.1h0m3.5-.2h0m3.2-.6h0m3.6,.6h0m3.1,.1h0m3.5-.2h0m3.5,.5h0m3.4-.1h0m3.4-.3h0" stroke="#2323dc" stroke-width="2.5" stroke-linecap="round" fill="none"/>
<line x1="1018.4" y1="415.6" x2="1273.2" y2="415.6" stroke="#3de8f4" stroke-width="2.2"/>
<path d="M1018.4,414.9l3.4,0 3.4,0 3.4,0 3.4,0 3.4,0 3.4,0 3.4,0 3.4,0 3.4-.1 3.4,0 2.8,0 .6,0 2-.1 1.4,0 1.1,0 2.3-.1 .2,0 2.6-.2 .6,0 1.9-.2 1.5-.1 1.1-.2 2.3-.5 .2,0 1.3-.4 1.3-.6 .6-.3 .7-.4 1.2-.8 1.3-.7 .2-.1 1.1-.2 1.3,.3 .9,.5 .3,.1 1.3,.8 1.3,.7 .5,.3 .8,.3 1.2,.4 1.3,.2 .1,.1 1.2,.2 2.2,.2 .3,0 2.6,.1 .5,0 2,.1 1.4-.1 1.2,0 2.2-.1 .3-.1 2.6-.3 .5-.1 1.2-.2 1-.4 1.1-.5 .1,0 1-.6 1.1-1 1-1.6 .3-.5 .8-2 1.1-4.4 .5-3.4 .6-4.5 .4-4.8 .1-.9 .5-6.6 .6-5.8 .5-2.4 .6,2.4 .5,5.8 .5,6.6 .1,1 .5,4.7 .5,4.5 .5,3.4 .6,2.5 .5,1.9 .8,2 .3,.6 1.1,1.5 1.1,1 .9,.7 .1,0 1.1,.5 1.1,.4 1.1,.2 3.4,.6 3.4,.2 3.4,.2 3.4,.1 3.4,0 3.4,.1 3.4,0 3.4,.1 3.4,0 3.4,0 3.4,0 3.4,0 3.4,0 3.4,0 3.4,0 3.4,0 3.4,0 3.4,.1 3.4,0 3.4,0 3.4,0 3.4,0 3.4,0 3.3,0 3.4,0 3.4,0 3.4,0 3.4,0 3.4,0 3.4,0 3.4,0 3.4,0 3.4,0 3.4,0 3.4,0 3.4,0 3.4,0 3.4,0 3.4,0 3.4,0 3.4,0 3.4,0" fill="none" stroke="#262626" stroke-width="1.6" stroke-linejoin="round"/>
<path d="M1019.4,415.6h0m3.4,0h0m3.3-.4h0m3.6,0h0m3.3-.9h0m3.4,.5h0m3.6,.5h0m3.7-.5h0m3.4,.1h0m3.5-.7h0m3.2,.1h0m3.3,.1h0m3.7-.2h0m3.7,0h0m3.2,.7h0m3.1-1.6h0m3.2-.8h0m3.4-1.5h0m3.2-1.8h0m3.5,1.5h0m3.2,2.3h0m3.6,1h0m3.6,.4h0m3.5,.3h0m3.2-1.2h0m3.5,.4h0m3.4-.3h0m3.2-1.7h0m3.4-6.5h0m3.2-27.9h0m3.5,22h0m3.6,11h0m3.5,2h0m3.5,.9h0m3.7,1.6h0m3.2-.1h0m3.2-.5h0m3.2,.2h0m3.2,.4h0m3.4-.3h0m3.5-.2h0m3.3,.2h0m3.1,.7h0m3.2-1.1h0m3.6,1.1h0m3.3-.6h0m3.2-.6h0m3.4,.4h0m3.2,.9h0m3.1-.7h0m3.6,.5h0m3.1,0h0m3.5-.2h0m3.7,.3h0m3.4-.1h0m3.4-.3h0m3.6,.1h0m3.3-.8h0m3.6,.4h0m3.4,0h0m3.4,.1h0m3.6,.3h0m3.4,.3h0m3.4-.4h0m3.5,.3h0m3.6,.2h0m3.4-.4h0m3.2-.5h0m3.4,.4h0m3.6-.7h0m3.3,1h0m3.4,.2h0m3.2-.1h0m3.4-.3h0m3.1-.2h0" stroke="#2323dc" stroke-width="2.5" stroke-linecap="round" fill="none"/>
<line x1="1018.4" y1="441.2" x2="1273.2" y2="441.2" stroke="#3de8f4" stroke-width="2.2"/>
<path d="M1018.4,440.5l3.4,0 3.4,0 3.4,0 3.4-.1 3.4,0 1.7,0 1.7,0 1.1-.1 2.3,0 .5,0 2.9-.1 2.8-.1 .6-.1 2.2-.1 1.2-.1 1.7-.2 1.7-.3 1.1-.3 1.4-.4 .9-.3 .5-.3 1.4-.7 1.5-.8 1.4-.7 1.4-.3 .6,.1 .8,.2 1.4,.7 1.2,.7 .2,.1 1.5,.7 1.4,.6 .3,.1 1.1,.3 1.4,.3 .9,.1 .5,.1 2.9,.3 2.8,.2 .5,0 2.3,0 1.1,.1 1.7,0 1.7,0 1.2,0 2.2,0 .6,0 2.8-.1 3.4-.1 3.4-.3 2.9-.6 .5-.1 .5-.2 1.1-.4 1.1-.6 .7-.6 .4-.4 1-1.4 1.1-2.4 .9-3.2 .2-.9 .5-3.1 .6-4.2 .5-5.3 .5-6.1 .6-5.3 .5-2.3 .6,2.3 .5,5.3 .5,6.1 .6,5.3 .5,4.2 .6,3.2 .1,.8 .4,1.5 .5,1.7 1.1,2.4 1.1,1.5 .3,.3 .8,.6 1,.6 1.1,.5 .5,.1 .6,.2 2.8,.5 3.4,.4 3.4,.2 3.4,.1 3.4,0 3.4,.1 3.4,0 3.4,.1 3.4,0 3.4,0 3.4,0 3.4,0 3.4,0 3.4,0 3.4,0 3.4,0 3.4,.1 3.4,0 3.4,0 3.4,0 3.4,0 3.4,0 3.4,0 3.4,0 3.3,0 3.4,0 3.4,0 3.4,0 3.4,0 3.4,0 3.4,0 3.4,0 3.4,0 3.4,0 3.4,0 3.4,0 3.4,0 3.4,0 3.4,0 3.4,0 3.4,0 3.4,0 3.4,0" fill="none" stroke="#262626" stroke-width="1.6" stroke-linejoin="round"/>
<path d="M1019.4,440.8h0m3.4-.4h0m3.2,.4h0m3.3,0h0m3.5-.5h0m3.6-.4h0m3.7-.1h0m3.7,.6h0m3.3,.3h0m3.5-.8h0m3.1,.1h0m3.5-1.4h0m3.1-.9h0m3.7-1.4h0m3.4-.9h0m3.6,2.2h0m3.5,1.5h0m3.7,.1h0m3.6,1h0m3.1-.1h0m3.3,.3h0m3.6-.1h0m3.4-.1h0m3.3-.3h0m3.2,.2h0m3.1-.7h0m3.2-.9h0m3.1-3.2h0m3.5-12.1h0m3.6-10h0m3.7,20.9h0m3.5,4.4h0m3.2,.3h0m3.3,1h0m3.5,.6h0m3.5-.8h0m3.5,.7h0m3.2,.2h0m3.3-.4h0m3.3,.7h0m3.2-.4h0m3.2,.3h0m3.6-.5h0m3.6,.3h0m3.2-.3h0m3.4,.8h0m3.5-1.2h0m3.5,.9h0m3.4-.5h0m3.4,.6h0m3.2-.8h0m3.7,.5h0m3.1,.6h0m3.2-.7h0m3.4,.4h0m3.7-.7h0m3.4,1h0m3.4-.2h0m3.4,0h0m3.6-.5h0m3.6,0h0m3.6,.5h0m3.6,.2h0m3.5,.1h0m3.2-.5h0m3.1,0h0m3.5-.4h0m3.6,.2h0m3.3-.3h0m3.4,.2h0m3.1-.1h0m3.7,.2h0m3.5,0h0m3.2,.2h0m3.2-.6h0" stroke="#2323dc" stroke-width="2.5" stroke-linecap="round" fill="none"/>
<line x1="1102.2" y1="469.0" x2="1124.8" y2="469.0" stroke="#3de8f4" stroke-width="2.2"/>
<path d="M1018.4,468.4l3.4,0 3.4,0 3.4,0 3.4,0 3.4,0 3.4,0 3.4,0 3.4,0 3.4,0 3.4-.1 3.4,0 3.4,0 3.4,0 3.4,0 3.4,0 3.4,0 3.4,0 3.4-.1 3.3,0 3.4-.1 3.4,0 3.4-.2 3.4-.2 3.4-.3 2.9-.6 .5-.2 .5-.2 1.1-.5 1.1-.7 .7-.6 .4-.4 1-1.6 1.1-2.6 .9-3.6 .2-.9 .5-3.5 .6-4.6 .5-5.9 .5-6.7 .6-5.9 .5-2.5 .6,2.5 .5,5.9 .5,6.7 .6,5.9 .5,4.6 .6,3.5 .1,.9 .4,1.7 .5,1.9 1.1,2.6 1.1,1.6 .3,.4 .8,.6 1,.7 1.1,.5 .5,.2 .6,.2 2.8,.6 3.4,.3 3.4,.2 3.4,.2 3.4,0 3.4,.1 3.4,0 3.4,.1 3.4,0 3.4,0 3.4,0 3.4,0 3.4,0 3.4,0 3.4,0 3.4,.1 3.4,0 3.4,0 3.4,0 3.4,0 3.4,0 3.4,0 3.4,0 3.4,0 3.4,0 3.3,0 3.4,0 3.4,0 3.4,0 3.4,0 3.4,0 3.4,0 3.4,0 3.4,0 3.4,0 3.4,0 3.4,0 3.4,0 3.4,0 3.4,0 3.4,0 3.4,0 3.4,0 3.4,0" fill="none" stroke="#262626" stroke-width="1.6" stroke-linejoin="round"/>
<path d="M1019.4,468.6h0m3.1,.4h0m3.1-1.1h0m3.3,.9h0m3.6-.1h0m3.3,.2h0m3.2,.1h0m3.1-1.1h0m3.6,.8h0m3.5-.7h0m3.6,.4h0m3.2-.6h0m3.7-.1h0m3.3,.4h0m3.6,.7h0m3.6-.3h0m3.1,.1h0m3.2,.3h0m3.7-1.3h0m3.5,.2h0m3.2,.9h0m3.4-.9h0m3.4-.5h0m3.4,.6h0m3.6-1.2h0m3.6-1h0m3.2-2.3h0m3.2-11.2h0m3.5-21.9h0m3.2,28.4h0m3.2,6.4h0m3.7,1.6h0m3.3,.6h0m3.4,.3h0m3.2,.1h0m3.5,.3h0m3.1-.4h0m3.6,.4h0m3.6,.4h0m3.5-.3h0m3.5,.1h0m3.4,.7h0m3.1-1h0m3.7,1h0m3.6-.1h0m3.1-.2h0m3.2,.2h0m3.3-.5h0m3.4-.4h0m3.5,1h0m3.4-.6h0m3.3-.4h0m3.2,.9h0m3.7-.6h0m3.3-.1h0m3.6-.1h0m3.2,.1h0m3.2-.2h0m3.2,.7h0m3.7-.6h0m3.2,.5h0m3.2-.7h0m3.4,.5h0m3.3,0h0m3.1-.2h0m3.2-.1h0m3.2,.8h0m3.1-.5h0m3.2-.3h0m3.6,1h0m3.6-.8h0m3.5,.1h0m3.1,0h0m3.5-.1h0m3.5,.1h0m3.3,.6h0" stroke="#2323dc" stroke-width="2.5" stroke-linecap="round" fill="none"/>
<line x1="1093.1" y1="496.6" x2="1116.9" y2="496.6" stroke="#3de8f4" stroke-width="2.2"/>
<path d="M1018.4,496l3.4,0 3.4,0 3.4,0 3.4,0 3.4,0 3.4,0 3.4-.1 3.4,0 3.4,0 3.4,0 3.4,0 3.4,0 3.4,0 3.4,0 3.4-.1 3.4,0 3.4-.1 3.4,0 3.3-.1 3.4-.2 3.4-.3 3.4-.6 .6-.1 1.1-.4 1.2-.4 .5-.4 .6-.3 1.1-1 1.2-1.6 .5-1.1 .6-1.5 1.1-4.5 .6-3.4 .6-4.5 .5-5.9 .6-6.6 .6-5.9 .5-2.4 .6,2.4 .6,5.9 .5,6.6 .6,5.8 .6,4.6 .5,3.4 .6,2.6 .6,1.9 .5,1.5 .6,1.1 1.1,1.6 1.2,1 .5,.3 .6,.4 1.1,.4 1.2,.4 .5,.1 3.4,.6 3.4,.3 3.4,.2 3.4,.1 3.4,0 3.4,.1 3.4,0 3.4,.1 3.4,0 3.4,0 3.4,0 3.4,0 3.4,0 3.4,0 3.4,0 3.4,.1 3.4,0 3.4,0 3.4,0 3.4,0 3.4,0 3.4,0 3.4,0 3.4,0 3.4,0 3.4,0 3.4,0 3.3,0 3.4,0 3.4,0 3.4,0 3.4,0 3.4,0 3.4,0 3.4,0 3.4,0 3.4,0 3.4,0 3.4,0 3.4,0 3.4,0 3.4,0 3.4,0 3.4,0 3.4,0 3.4,0" fill="none" stroke="#262626" stroke-width="1.6" stroke-linejoin="round"/>
<path d="M1019.4,495.6h0m3.6,.3h0m3.5,0h0m3.6,.4h0m3.4-.5h0m3.5,.6h0m3.5,.1h0m3.4-.7h0m3.3-.2h0m3.2,.9h0m3.4-1.2h0m3.3,.5h0m3.5,.6h0m3.6-.8h0m3.4,.9h0m3.3-.5h0m3.1-.2h0m3.4,.5h0m3.7-.3h0m3.3,0h0m3.7-1.3h0m3.3,.3h0m3.3-1.3h0m3.6-2.3h0m3.4-9.2h0m3.4-27h0m3.1,26.1h0m3.6,11.1h0m3.4,1.4h0m3.3,1.4h0m3.4,0h0m3.6-.3h0m3.3,1.3h0m3.6-.5h0m3.6,.6h0m3.4-1h0m3.2,.8h0m3.3-.2h0m3.1,.6h0m3.3-.4h0m3.5-.4h0m3.2,.3h0m3.3-.7h0m3.2,0h0m3.6,.2h0m3.7,.6h0m3.6-.2h0m3.3-.5h0m3.5,.8h0m3.5,.3h0m3.1-.3h0m3.6,.4h0m3.2,0h0m3.1-.5h0m3.3-.1h0m3.2-.2h0m3.3,.1h0m3.4-.3h0m3.2,.3h0m3.7,.6h0m3.2-.3h0m3.2-.5h0m3.7,.1h0m3.1,.3h0m3.5-.1h0m3.6,0h0m3.4-.4h0m3.4,.7h0m3.4-.5h0m3.3,.7h0m3.6-.4h0m3.6-.4h0m3.2-.3h0m3.4,1.2h0m3.6-.4h0" stroke="#2323dc" stroke-width="2.5" stroke-linecap="round" fill="none"/>
<line x1="1071.6" y1="523.6" x2="1093.1" y2="523.6" stroke="#3de8f4" stroke-width="2.2"/>
<path d="M1018.4,523l3.4-.1 3.4,0 3.4,0 3.4,0 3.4,0 3.4,0 3.4,0 3.4,0 3.4-.1 3.4,0 3.4-.1 3.4,0 3.4-.2 3.4-.2 3.4-.4 1.7-.3 1.1-.3 .6-.2 .5-.2 1.2-.6 1.1-.9 .6-.6 .5-.8 1.2-2.2 1.1-3.9 .6-2.9 .5-4 .6-5 .6-5.8 .5-5.1 .6-2.1 .5,2.1 .6,5.1 .6,5.8 .5,5 .6,4 .6,2.9 .5,2.2 .6,1.7 1.1,2.2 1.2,1.4 .5,.5 .6,.4 1.1,.6 1.2,.4 .5,.2 .6,.1 2.8,.5 3.4,.3 3.4,.2 3.4,.1 3.4,.1 3.4,0 3.4,0 3.4,.1 3.4,0 3.4,0 3.4,0 3.4,0 3.4,0 3.4,0 3.4,.1 3.4,0 3.4,0 3.4,0 3.4,0 3.4,0 3.4,0 3.4,0 3.4,0 3.4,0 3.4,0 3.4,0 3.4,0 3.4,0 3.4,0 3.4,0 3.4,0 3.4,0 3.4,0 3.4,0 3.3,0 3.4,0 3.4,0 3.4,0 3.4,0 3.4,0 3.4,0 3.4,0 3.4,0 3.4,0 3.4,0 3.4,0 3.4,0 3.4,0 3.4,0 3.4,0 3.4,0 3.4,0 3.4,0" fill="none" stroke="#262626" stroke-width="1.6" stroke-linejoin="round"/>
<path d="M1019.4,522.8h0m3.4-.2h0m3.6,.6h0m3.4,.1h0m3.6-1h0m3.2,.6h0m3.6-.4h0m3.3,.6h0m3.3,0h0m3.2-.4h0m3.4,.6h0m3.4-.4h0m3.5-.1h0m3.4-.6h0m3.2,.6h0m3.6-.8h0m3.5-1.7h0m3.2-3.1h0m3.4-16.2h0m3.6,.1h0m3.3,16.4h0m3.7,3.4h0m3.4,1.5h0m3.7-.8h0m3.7,.4h0m3.4,.7h0m3.7-.3h0m3.1,1h0m3.4-.6h0m3.3-.2h0m3.2,.4h0m3.2-.1h0m3.7,.7h0m3.3-.9h0m3.1,.4h0m3.3-.7h0m3.6,.6h0m3.6-.4h0m3.2,.5h0m3.6-.6h0m3.4,.6h0m3.4-.4h0m3.3-.3h0m3.2,0h0m3.6,.2h0m3.5-.2h0m3.6-.1h0m3.6,.7h0m3.6,.5h0m3.2-1.1h0m3.2-.1h0m3.6,.2h0m3.5,1.1h0m3.6,.1h0m3.4-.9h0m3.7-.2h0m3.5,.3h0m3.4-.2h0m3.7,1h0m3.5-.7h0m3.6,.6h0m3.2-.1h0m3.1-1.1h0m3.3,.4h0m3.4,.8h0m3.2-.4h0m3.4-.7h0m3.7,1.1h0m3.3-.1h0m3.4-.3h0m3.6,0h0m3.3-.8h0m3.4,.7h0m3.3,0h0m3.1-.5h0" stroke="#2323dc" stroke-width="2.5" stroke-linecap="round" fill="none"/>
<path d="M1019.4,549.3h0m3.5-.6h0m3.3,1.2h0m3.3-1.4h0m3.4,.4h0m3.5,1.5h0m3.7-.4h0m3.7,0h0m3.3,.3h0m3.1-1.7h0m3.5-.2h0m3.4,1h0m3.2,.5h0m3.2-.6h0m3.3,1.1h0m3.1-1.4h0m3.6-.2h0m3.6-.4h0m3.1-.3h0m3.4,1.2h0m3.5-.1h0m3.6-.6h0m3.2,.1h0m3.6,1.3h0m3.1-1.9h0m3.7,2.3h0m3.3-1h0m3.1-.1h0m3.2,.4h0m3.2-.2h0m3.3-.2h0m3.7,.1h0m3.7,.4h0m3.2-1.1h0m3.6,1.3h0m3.2,0h0m3.3-.5h0m3.6,.8h0m3.2-1.9h0m3.3,1.2h0m3.7,.1h0m3.5,.4h0m3.4-1.1h0m3.6,.6h0m3.6,.9h0m3.4-1.6h0m3.2,.6h0m3.3-.6h0m3.4,.9h0m3.5-.6h0m3.5,.4h0m3.6,.1h0m3.6-1h0m3.6-.6h0m3.6,0h0m3.5,.7h0m3.2,1.1h0m3.2-.2h0m3.1-1.1h0m3.3,.9h0m3.5-.5h0m3.7-.8h0m3.2,.8h0m3.4,.7h0m3.7-.8h0m3.5,.9h0m3.2-.8h0m3.3,.5h0m3.4-1.1h0m3.3,.5h0m3.1,1.1h0m3.6-.1h0m3.3-.4h0m3.1-.9h0m3.3,.9h0" stroke="#2323dc" stroke-width="2.5" stroke-linecap="round" fill="none"/>
<path d="M1121.5,313.3 1119.5,360.0 1117.0,400.0 1113.5,433.2 1108.0,450.0 1103.8,462.0 1092.0,478.0 1077.1,493.1" fill="none" stroke="#ff2a2a" stroke-width="2.3" stroke-dasharray="7,3.5" stroke-linecap="butt"/>
<path d="M1094.9,373.2 1089.0,390.0 1081.6,406.5 1072.0,422.0 1059.4,437.6" fill="none" stroke="#ff2a2a" stroke-width="2.3" stroke-dasharray="7,3.5" stroke-linecap="butt"/>
</g>
<rect x="1018.4" y="307.5" width="254.8" height="255.5" fill="none" stroke="#6a6a6a" stroke-width="1.2"/>
<path d="M1018.4,563.0v-5.5M1018.4,307.5v5.5M1024.1,563.0v-3M1024.1,307.5v3M1029.7,563.0v-3M1029.7,307.5v3M1035.4,563.0v-3M1035.4,307.5v3M1041.0,563.0v-3M1041.0,307.5v3M1046.7,563.0v-5.5M1046.7,307.5v5.5M1052.4,563.0v-3M1052.4,307.5v3M1058.0,563.0v-3M1058.0,307.5v3M1063.7,563.0v-3M1063.7,307.5v3M1069.4,563.0v-3M1069.4,307.5v3M1075.0,563.0v-5.5M1075.0,307.5v5.5M1080.7,563.0v-3M1080.7,307.5v3M1086.3,563.0v-3M1086.3,307.5v3M1092.0,563.0v-3M1092.0,307.5v3M1097.7,563.0v-3M1097.7,307.5v3M1103.3,563.0v-5.5M1103.3,307.5v5.5M1109.0,563.0v-3M1109.0,307.5v3M1114.7,563.0v-3M1114.7,307.5v3M1120.3,563.0v-3M1120.3,307.5v3M1126.0,563.0v-3M1126.0,307.5v3M1131.6,563.0v-5.5M1131.6,307.5v5.5M1137.3,563.0v-3M1137.3,307.5v3M1143.0,563.0v-3M1143.0,307.5v3M1148.6,563.0v-3M1148.6,307.5v3M1154.3,563.0v-3M1154.3,307.5v3M1160.0,563.0v-5.5M1160.0,307.5v5.5M1165.6,563.0v-3M1165.6,307.5v3M1171.3,563.0v-3M1171.3,307.5v3M1176.9,563.0v-3M1176.9,307.5v3M1182.6,563.0v-3M1182.6,307.5v3M1188.3,563.0v-5.5M1188.3,307.5v5.5M1193.9,563.0v-3M1193.9,307.5v3M1199.6,563.0v-3M1199.6,307.5v3M1205.3,563.0v-3M1205.3,307.5v3M1210.9,563.0v-3M1210.9,307.5v3M1216.6,563.0v-5.5M1216.6,307.5v5.5M1222.2,563.0v-3M1222.2,307.5v3M1227.9,563.0v-3M1227.9,307.5v3M1233.6,563.0v-3M1233.6,307.5v3M1239.2,563.0v-3M1239.2,307.5v3M1244.9,563.0v-5.5M1244.9,307.5v5.5M1250.6,563.0v-3M1250.6,307.5v3M1256.2,563.0v-3M1256.2,307.5v3M1261.9,563.0v-3M1261.9,307.5v3M1267.5,563.0v-3M1267.5,307.5v3M1273.2,563.0v-5.5M1273.2,307.5v5.5" stroke="#555" stroke-width="1.1" fill="none"/>
<g font-family="Liberation Sans, Arial, sans-serif" font-size="11.5" fill="#222" stroke="#222" stroke-width="0.3" text-anchor="middle">
<text x="1017.6" y="576.5">5</text>
<text x="1045.9" y="576.5">10</text>
<text x="1074.2" y="576.5">15</text>
<text x="1102.5" y="576.5">20</text>
<text x="1130.8" y="576.5">25</text>
<text x="1159.2" y="576.5">30</text>
<text x="1187.5" y="576.5">35</text>
<text x="1215.8" y="576.5">40</text>
<text x="1244.1" y="576.5">45</text>
<text x="1272.4" y="576.5">50</text>
</g>
<text x="1140.8" y="591.0" text-anchor="middle" font-family="Liberation Sans, Arial, sans-serif" font-size="14" fill="#222" stroke="#222" stroke-width="0.3">Wavenumber (cm<tspan font-size="9" dy="-5">-1</tspan><tspan dy="5">)</tspan></text>
<text transform="translate(1006.4,436.0) rotate(-90)" text-anchor="middle" font-family="Liberation Sans, Arial, sans-serif" font-size="13.8" fill="#222" stroke="#222" stroke-width="0.25">Intensity (a.u.)</text>
<g font-family="Liberation Sans, Arial, sans-serif" font-size="11.3" fill="#222" stroke="#222" stroke-width="0.3" text-anchor="end">
<text x="1265.0" y="352.4">bulk</text>
<text x="1265.0" y="383.3">7 TL</text>
<text x="1265.0" y="411.5">6 TL</text>
<text x="1265.0" y="436.2">5 TL</text>
<text x="1265.0" y="463.7">4 TL</text>
<text x="1265.0" y="491.5">3 TL</text>
<text x="1265.0" y="518.6">2 TL</text>
<text x="1265.0" y="544.7">1 TL</text>
</g>
<text x="1024.2" y="334.5" font-family="Liberation Sans, Arial, sans-serif" font-size="14" fill="#222" stroke="#222" stroke-width="0.35">WSe<tspan font-size="8.5" dy="4.5">2</tspan></text>
<g font-family="Liberation Serif, Times New Roman, serif" font-style="italic" font-size="17.5" fill="#2a2a2a"><text x="1063.0" y="334.7">z</text><line x1="1063.2" y1="323.5" x2="1071.3" y2="323.5" stroke="#2a2a2a" stroke-width="1.2"/><text x="1072.0" y="334.7" font-style="normal">(</text><text x="1078.8" y="334.7">x</text><text x="1087.0" y="334.7">y</text><text x="1096.0" y="334.7" font-style="normal">)</text><text x="1101.6" y="334.7">z</text></g>
<text x="1129.5" y="325.7" font-family="Liberation Sans, Arial, sans-serif" font-size="11.5" font-weight="bold" fill="#2424ee">S1</text>
<text x="1072.7" y="376.3" font-family="Liberation Sans, Arial, sans-serif" font-size="11.5" font-weight="bold" fill="#22c822">S2</text>
<text x="663.5" y="34.3" font-family="Liberation Serif, Times New Roman, serif" font-weight="bold" font-size="43.5" fill="#000">(b)</text>
<defs><clipPath id="cc"><rect x="1365" y="44.5" width="216.5" height="512.5"/></clipPath></defs>
<g clip-path="url(#cc)" fill="none" stroke-linejoin="round">
<path d="M1364.9,116.7l.9,.4 1.2,.6 1.5,.5 1.6,.6 1.7,.5 1.8,.7 1.7,.5 1.7,.3 1.7,.7 1.7,.3 1.8,.8 1.8,.5 1.7,.2 1.8,.4 1.7,.6 1.7,.2 1.6,.4 1.5,.4 1.5,.4 1.5,.5 1.4,.5 1.5,0 1.5,.7 1.6,.1 1.6,.5 1.7,.3 1.8,0 1.7,.5 1.8,0 1.8,.3 1.7,.4 1.7,.4 1.7,.2 1.7,.1 1.6,.5 1.7,.3 1.6,0 1.6,.3 1.7,.3 1.6,.4 1.6-.1 1.5,.3 1.5,.4 1.5,0 1.6,.3 1.6,.2 1.7,0 1.8,0 1.9,.2 2,.1 2-.1 2.1,.3 2.2-.2 2.3,.1 2.3,.1 2.4,0 2.6,.1 2.7-.1 2.9-.1 2.9,.2 2.9,0 2.8,0 2.6,.1 2.3-.1 2.1,.1 1.8,.1 1.7-.1 1.6,.3 1.5,.2 1.5-.2 1.5,.4 1.6,.1 1.6-.1 1.6,.1 1.6,.3 1.6,0 1.6,.2 1.6,.2 1.5,.1 1.6,.2 1.5,0 1.6,0 1.5,0 1.5,.1 1.5,.1 1.5,.2 1.6,.2 1.6-.1 1.6,.2 1.7,.3 1.8-.1 1.7,.2 1.7,.1 1.8,.1 1.6,.1 1.7,.1 1.6,.2 1.6,0 1.5,.4 1.5,.2 1.5-.2 1.5,.3 1.6,.2 1.6,.1 1.7,.3 1.7,.4 1.8,0 1.7,.2 1.8,.6 1.7,0 1.6,.2 1.6,.2 1.4,.1 1.4,.2 1.3,0 1.2,.3 1.2,0 1.3,0 1.3,.2 1.3,.2 1.5,.3 1.6,0 1.7,.2 1.7-.1 1.6,.1 1.5,.2 1.2-.1 .9,.4" stroke="#2aa02a" stroke-width="1.7"/>
<path d="M1364.9,91.4l.5,.2 .6,.7 .7,.4 .8,.4 .9,.6 .9,.4 .9,.5 .8,.5 .8,.6 .7,.2 .8,.7 .7,.1 .8,.4 .9,.4 1,.7 1.2,.3 1.4,.6 1.5,.6 1.7,.7 1.8,.6 1.7,.5 1.8,.7 1.6,.5 1.5,.4 1.3,.8 1.2,.3 1.1,.3 1,.4 1.1,.1 1,.3 1.2,.3 1.2,.4 1.3,.5 1.4,.1 1.4,.6 1.4,.5 1.5,.3 1.5,.4 1.5,.7 1.6,.3 1.6,.8 1.6,.5 1.7,.6 1.7,.7 1.8,.6 1.7,.8 1.7,.8 1.6,.7 1.6,.5 1.7,.7 1.7,.6 1.6,.6 1.6,.8 1.6,.3 1.4,.7 1.4,.4 1.2,.3 1.2,0 1,.2 1,.2 .9,.2 1,.4 1,0 1.1,.1 1.1-.1 1.2,.3 1.2,.1 1.2,.1 1.2,.1 1.2-.2 1.4,.1 1.3,.3 1.4,.1 1.4,.2 1.5-.1 1.6,.4 1.5-.2 1.6,.5 1.6,.1 1.6-.1 1.7,.1 1.8,.3 1.8,.3 1.9,0 1.8,.1 1.7,.3 1.6,.4 1.4-.1 1.2,.6 1.1,0 1,.3 .9,.2 .9,.7 .7,.2 .8,.1 .7,.1 .6,.5 .5,.3 .4-.1 .4,.5 .5,.3 .5,0 .6,.2 .9,.3 1.1,0 1.2,.2 1.3,.3 1.5,.1 1.5,.1 1.6,.1 1.7,.4 1.7-.2 1.7,.3 1.9,.1 1.8-.1 2-.1 2,.1 2,0 2.1,.2 2.2,0 2.2,.3 2.4,.1 2.4,.2 2.4,.2 2.5,.2 2.5,.1 2.4,.1 2.5,.3 2.5,.1 2.6,0 2.6,.4 2.7,.1 2.5,.3 2.4,.2 2.3,0 2,.2 1.7,0 1.5,0 1.3-.1 1.2,0 1.1,.4 1.1-.2 1.2-.1 1.3,0 1.5-.3 1.6,0 1.7,0 1.7-.3 1.6-.3 1.5,0 1.2-.1 .9-.5" stroke="#2b2bff" stroke-width="1.7"/>
<path d="M1364.9,86.9l.4,.2 .5-.1 .6,.3 .6,0 .8,0 .7,.3 .8,.1 .7-.1 .8,.4 .8,.2 .9,.1 .8,.4 .9,.1 .9,.1 .8,.3 .7,.3 .7,.6 .5,.4 .6,.5 .5,.4 .5,.6 .5,.4 .6,.6 .5,.4 .5,.6 .6,.5 .5,.5 .5,.3 .6,.3 .6,.5 .6,.4 .8,.1 .9,.2 .9-.2 1-.2 1,0 1.1-.5 1.1-.3 1.2,0 1.1-.2 1.2-.3 1.2-.2 1.2-.3 1.3-.1 1.3-.2 1.2-.2 1.2-.3 1.2-.3 1.1,0 1-.4 1-.2 1-.1 1-.3 1-.3 1-.1 1.1-.3 1.2-.1 1.2-.4 1.3-.3 1.3-.2 1.3-.4 1.3-.4 1.2,0 1.2-.2 1.1-.5 1.1-.2 1,.2 .9-.1 1-.3 1-.1 .9,0 1,0 1-.5 1,0 1-.1 1-.3 .9-.1 1-.3 .9-.2 .8-.4 .8-.4 .7-.3 .7-.6 .7-.5 .6-.5 .6-.5 .7-.7 .6-.5 .6-.9 .7-.9 .6-1 .7-.9 .6-.8 .6-1.2 .6-.9 .6-.9 .6-.9 .6-1.2 .5-.9 .6-1.1 .5-1.1 .6-1.1 .5-.9 .6-.6 .6-1 .5-.8 .5-.9 .6-.9 .5-1 .6-.8 .6-.3 .6-.2 .6,.3 .7,.5 .7,.7 .6,.7 .7,1.1 .8,.8 .7,.9 .7,1 .7,.7 .8,1.1 .8,1 .8,1 .7,.7 .8,1 .8,1.3 .8,.7 .8,1 .8,1 .7,.8 .8,1.1 .8,.9 .8,.7 .8,.8 .8,1.2 .8,.7 .9,.8 .8,.9 .9,.8 .9,1.2 .8,.7 .8,1 .8,1 .7,.6 .7,.9 .6,.4 .7,1 .6,.8 .6,.8 .7,.3 .7,.9 .7,.8 .8,.7 .8,.7 .8,.7 .8,1 .9,.7 .8,.6 .8,.7 .8,.4 .8,.3 .8,.7 .8,.2 .8,.7 .9,.4 .8,.3 .9,.5 .9,.4 .9,.6 1,.9 1,.2 1,.8 .9,.2 1,.5 1,.5 1,.3 .9,.6 1,0 1,.3 .9,.1 1,.2 1,.5 1,0 1,.3 1,.3 1.1-.1 1,.1 1.1,.4 1.1,.3 1.1-.2 1.1,.3 1.1,.3 1.1,.1 1.2,.1 1.1,0 1.2,.2 1.2-.2 1.3,.3 1.4,.3 1.5,.1 1.5,.3 1.6,.2 1.7,.3 1.7,.5 1.7,.3 1.7,0 1.6,.2 1.6,.4 1.7,.1 1.7,.1 1.7,0 1.6,.2 1.6,0 1.6,0 1.5,0 1.4,.1 1.4,.4 1.2,.1 1.3,.2 1.2-.1 1.3,.3 1.3,.2 1.3-.1 1.5,.1 1.6,.2 1.7,.2 1.7,.3 1.6,.3 1.5,.1 1.2,.1 .9,.2" stroke="#ff2b2b" stroke-width="1.7"/>
<path d="M1364.7,214.2l.5-.4 .6,0 .8-.2 .8-.5 .9-.3 .9,0 .9-.5 .9-.2 .9,0 .9-.3 1-.7 1-.3 1-.2 .9,.1 .9-.6 .8,.1 .7-.1 .7,.2 .5,.4 .6,0 .5,.4 .5,.5 .6,.3 .5,.1 .6,.4 .5,.2 .6,.5 .6,0 .6,.4 .5,.3 .5,.4 .5-.1 .5-.2 .4-.2 .4-.2 .4-.3 .4,.1 .3-.4 .4-.3 .3-.6 .3-.2 .3-.4 .3,0 .3-.4 .3-.2 .3-.6 .2-.9 .3-.8 .2-2 .3-1.6 .2-2.4 .2-2.7 .2-2.4 .2-2.3 .2-2.4 .2-2.5 .2-2 .2-2.2 .3-2.3 .2-2 .2-1.9 .2-1.9 .2-1.4 .2-1.5 .2-1 .2-1.2 .1-.5 .2-.7 .1-.1 .2-.1 .1-.3 .2,0 .2,.2 .1,.1 .2,.4 .1,.7 .2,.7 .1,.7 .2,1 .2,1 .2,1.5 .2,1.6 .2,1.6 .2,2.1 .3,2 .2,1.8 .2,2.2 .2,1.4 .2,2 .2,1.4 .2,1.8 .2,1.9 .1,1.2 .2,1.9 .2,1.6 .2,1.3 .2,1.1 .1,1 .1,1 .2,1.1 .1,.6 .2,.8 .3,1.1 .3,.5 .4,.2 .5,.5 .6,.2 .6,.4 .6-.2 .6,.3 .6,.2 .6-.1 .6,.2 .5,.3 .6,.1 .5,.3 .6,0 .6,.4 .5,0 .6,0 .6,.5 .5,.3 .5,.1 .6,.1 .5,.4 .6,.2 .6-.3 .6,.5 .6,0 .7,.4 .7,.3 .7,.4 .7,.4 .7,.3 .8-.2 .7,0 .8,.4 .7-.3 .8-.4 .8-.5 .8-.4 .8,.2 .8-.5 .9-.1 .9-.2 1-.2 1,0 1-.4 1-.1 1-.1 .9-.1 .9-.4 .8-.5 .7-.7 .7-.8 .7-.9 .6-.6 .6-.9 .6-.8 .6-.7 .6-.6 .5-.7 .5-1.1 .5-.7 .5-.5 .5-.6 .4-.9 .5-.3 .5-.8 .5-.5 .4-1.1 .5-.5 .5-.7 .4,0 .5-.5 .4,0 .4-.2 .4,0 .4,.2 .4,.4 .4,.3 .4,.4 .5,.8 .4,.4 .5,.7 .4,.7 .5,.5 .4,.9 .5,.7 .6,1 .5,1.1 .6,.8 .6,1.4 .7,1.3 .7,1.8 .8,1.5 .7,1.9 .8,1.3 .7,1.4 .8,1 .7,1 .8,.5 .7,.5 .8,0 .7,.4 .8,.6 .8,.1 .9,.7 .9,.4 1,.6 1,.5 1,.6 1,.4 1,.8 1,.3 .9,.5 .9,.5 .8,.7 .8,1 .7,.5 .8,.4 .7,.6 .8,.9 .7,.6 .8,.6 .7,.5 .7,.7 .8,1 .7,.5 .7,.6 .8,.2 .7,.6 .7-.1 .7,.1 .7,.3 .7-.5 .7-.1 .8-.1 .8,.3 .9,.1 1,.3 1.1,.5 1.1,.4 1.2,.8 1.2,.5 1.2,.3 1.1,.6 1.2,.6 1.1,.4 1.1,.7 1.1,.4 1.1,.5 1.2,.3 1.1,.2 1.1,.6 1.2,.4 1.2,.1 1.2,.3 1.2-.1 1.2,.1 1.3,.3 1.2,.2 1.3,0 1.4-.1 1.4-.1 1.5-.5 1.6-.3 1.5-.3 1.6-.2 1.6-.4 1.5-.3 1.4,0 1.4,0 1.3,.4 1.2,.2 1.3,.2 1.2,.1 1.2-.2 1.3,.3 1.2,.3 1.3-.2 1.3-.2 1.3-.7 1.4-.4 1.2-.4 1.3-.1 1.1-.2 1.1,0 .9,0 .8,.3 .7,.7 .6,.8 .7,.4 .7,.5 .8,0 .9,.3 1.1-.3 1.1-.3 1.2-.6 1.3-.5 1.3-.9 1.4-.4 1.3-.9 1.3-.3 1.4,.2 1.5,0 1.5-.2 1.6,.1 1.4,.5 1.4,0 1.1-.1 .8,.5" stroke="#2b2bff" stroke-width="1.7"/>
<path d="M1364.7,342l.9,0 1.3,0 1.5-.3 1.6,.3 1.8,.6 1.8,.3 1.7-.6 1.7,.4 1.6,.9 1.7-.6 1.6,.7 1.7-.1 1.7,.5 1.7,.4 1.7-.1 1.7,0 1.7,.1 1.7,.4 1.7,.2 1.7-.1 1.8,.2 1.7,.2 1.6-.2 1.7,.1 1.6,.5 1.6-.3 1.7,.6 1.5,.4 1.6,.1 1.6-.5 1.5,.3 1.5,.5 1.5-.5 1.4,.6 1.4-.9 1.4,.6 1.4-.9 1.4,.5 1.4,.1 1.5-.4 1.6,.1 1.6,.2 1.7,0 1.6-.8 1.7,.2 1.6-.5 1.5,.3 1.4-.4 1.3,0 1.1,.3 1.1-.6 1-.1 .9-.2 1,.6 .9-.7 1-.3 1,.3 1-.1 1.1-.3 1-.3 1-.3 .9-.1 1-.7 .8,.2 .8-.4 .7-.2 .6-.3 .7-.4 .6-.7 .6-.4 .6-.2 .6-.5 .6-1 .6,.5 .6-1.2 .6-.1 .6-.5 .6-.8 .7,.1 .7-.4 .8-.2 .8-.6 .9-.8 .9-.1 1,0 .8-.7 .9,0 .7-1 .7,.6 .5-.4 .6,0 .5,.4 .5,0 .4,.1 .5,.4 .5,.2 .5,.3 .5,.7 .5-.4 .5,.3 .4,.2 .5,.7 .6,0 .5,.6 .6,.1 .6,.3 .6,.6 .6,0 .6,1.2 .7,0 .6,.2 .7,.4 .7,.8 .7-.2 .7,.2 .7,.1 .8,.4 .7,.6 .8,.1 .8-.1 .8,.8 .8-.6 .8,.4 .8,.5 .9,.3 .9-.4 1-.3 1.1,.7 1.2-.1 1.2-.2 1.3,.4 1.3,.6 1.4-.7 1.5,.2 1.5,.1 1.6,.8 1.7-.3 1.8,.5 1.8,.2 1.9-.5 2,.6 1.9-.1 2,.9 1.9-.1 1.9,.1 1.8,.6 1.8,.2 1.9-.6 1.8,.2 1.9,.5 2,.1 2.1,.3 2.2,.2 2.2,.7 2.2-.1 2.4,.4 2.4-.2 2.4-.2 2.5,.5 2.5-.2 2.7,.6 3.1-.3 3.2,1 3.2-.5 3,.8 2.8-.5 2.3,.1 1.7,.1" stroke="#ff9a2e" stroke-width="1.7"/>
<path d="M1364.7,339.9l.6-.4 .7,.6 .9,.3 .9-.4 1.1,.6 1-.2 1.1,.1 1,.3 1,.6 .9-.3 1,.7 1-.1 1,0 1.1,.4 1.1,.2 1.3,.2 1.4,.5 1.4,.1 1.6-.7 1.6,.8 1.6-.4 1.7,.3 1.7-.1 1.6-.3 1.7-.2 1.8,.7 1.9,.2 1.9-.3 1.8-.5 1.7,.8 1.5-.1 1.2,0 1-.1 .7-.2 .6-.5 .4-.6 .4-.2 .3-.3 .3-.2 .3-.6 .4-.2 .3-.6 .2-.3 .3,0 .2-.7 .2-.6 .2-1.2 .2-2 .2-1.4 .2-2.2 .1-2.4 .2-2.6 .2-2.8 .1-2.5 .1-2.7 .2-3 .2-3.3 .1-4.1 .2-4.5 .1-3.9 .2-4.2 .1-3 .2-4.2 .1-2.8 .1-3.1 .2-2.5 .1-2.1 .1-2.5 .2-2.6 .1-1.3 .1-1.9 .1-.9 .1-2 .1-1.1 0-.2 .1-1.2 .1-.9 0,.3 .1-.1 .1-.6 .1-.3 .1,.8 .1-.1 .2,.3 .1,.4 .1,1.4 .2,0 .1,.4 .1,.8 .1,.8 .2,.8 .1-.2 .1,1 .1,.3 .2,1.4 .1,.6 .1,1.3 .1,1.3 .2,1 .1,1.3 .1,1 .1,1.6 .2,2.1 .1,1.6 .1,1.3 .1,.9 .2,2.2 .1,1.7 .1,1.6 .1,1.6 .2,1.8 .1,1.6 .2,2.2 .1,2.3 .2,2.9 .2,2.3 .1,3.1 .2,2.1 .2,2.5 .2,2.2 .2,2.5 .2,2.7 .2,2.3 .1,2.3 .2,1.2 .2,2.6 .3,1.7 .2,1.3 .3,2 .2,.9 .3,.6 .3,1.4 .4,.4 .3,.7 .3,.6 .3,.7 .3,.1 .3,1.3 .2-.1 .3,.5 .3,0 .3,.7 .4-.2 .5,.2 .5,.5 .6,1 .7,0 .6,.3 .8-.3 .7,.5 .7,.5 .8,.2 .8-.1 .7-.1 .8,.4 .8,.8 .8,0 .9-.1 .9-.2 1,.2 1-.1 1.1-.2 1.1,.2 1.2-.5 1.2-.7 1.2,.4 1.2-.3 1.3-.8 1.3,.2 1.4,.2 1.4-.5 1.4-.2 1.4-.5 1.3-.3 1.4,.3 1.2-.9 1.2-.1 1-.6 1.1,.1 1-.2 1-.2 .9,0 1-1 1-.4 1-.1 1-.3 1,.2 1-1 .9,0 1,.2 1-.9 .9-.2 .9-.4 1-.5 .9-.3 .9,.1 .9-1.2 .9-.3 .9,.4 .8-.5 .8-.7 .8-.3 .8-.4 .8-.7 .7-.2 .7-.4 .7-.1 .7-.6 .6,0 .6-.7 .6,.7 .5-1.1 .6,.3 .5-.2 .5-.3 .6,.9 .6-.5 .5-.2 .5,.3 .6,0 .5,.6 .6,.7 .6,.2 .6-.5 .7,.8 .7,.2 .7,.6 .8-.1 .8,.3 .8,.5 .7,1.2 .8-.4 .7,.3 .7,.8 .7,0 .7,.5 .7,1.1 .8-.4 .8,1 .9,.4 1,0 1,.4 1.1,.2 1.1,.5 1.1,.5 1.2,.5 1.3,.3 1.2,.2 1.3,.8 1.4-.1 1.4,.3 1.4,.4 1.4,.7 1.5,0 1.4,.5 1.3,.3 1.3-.2 1.3,.6 1.2-.4 1.2,.6 1.2,.2 1.2,.1 1.3,0 1.2,.8 1.2-.3 1.2,.2 1.2-.1 1.2,.9 1.2,.2 1.3-.5 1.4,.3 1.5,.1 1.6,.1 1.7,.8 1.9,0 1.8,.4 2,0 1.9-.1 2,.6 1.9-.5 2.1,.7 2.2,.1 2.3-.2 2.3,.4 2.2,.5 2-.2 1.7,.1 1.2,.6" stroke="#2c9a2c" stroke-width="1.7"/>
<path d="M1364.7,421.6l.2,.4 .4-.6 .4,1.2 .4,.2 .4-.3 .5,1 .5,.3 .5-.3 .5,1 .5-.4 .5,.3 .5,.4 .5,.3 .6,.2 .6-.3 .6,.4 .6-.2 .7,.3 .7,.3 .7-.2 .7,.3 .8,.5 .7-.4 .8,.3 .8-.2 .8,.8 .8-.4 .9,.2 .8,.7 .8-.2 .8,.2 .7,.1 .7-.1 .6-.1 .6-.3 .6,0 .5-.1 .6-.1 .5,0 .5,.4 .5-.8 .5-.2 .4,0 .5-.2 .4,.4 .4-.1 .3-.6 .4-.3 .3-.9 .3-.8 .3-.8 .3-.6 .2-1.3 .2-.7 .3-1.2 .2-.9 .2-1.1 .2-1.6 .2-1.8 .2-1.1 .2-1.5 .2-1.9 .2-2.3 .2-2 .2-1.8 .2-2.2 .2-2.8 .2-2.5 .3-2.9 .2-2.4 .2-3.2 .2-1.8 .2-2.4 .2-3 .2-2.3 .3-2.2 .2-1.7 .2-2 .2-2.1 .2-.7 .2-1.2 .2,.1 .2-.7 .2-.1 .1,.4 .2,.4 .2,.3 .2,.2 .2-.3 .2,.1 .2-.3 .2,.9 .1-.3 .2,.1 .2,.4 .2,1.3 .2,.7 .2,1.7 .2,2.2 .1,1.9 .2,2.2 .2,2.3 .2,1.6 .2,2.4 .2,2 .2,2.1 .1,1.7 .2,2.3 .2,1.4 .2,2.2 .2,2.4 .2,2 .2,2.2 .2,2.1 .2,1.9 .3,2.5 .2,2.1 .2,2.5 .3,1.5 .2,2.1 .2,1.2 .3,1.1 .2,1.2 .2,1.2 .3,.3 .3,.5 .3,1.4 .4,.1 .4,1.1 .5,.2 .5,.3 .6,.7 .6-.3 .6,1 .6-.2 .7,.7 .7,.6 .8,.2 .9,0 .8,.9 .9,0 .9,.1 .8,.4 .8,.1 .7,.9 .7,.1 .7,.4 .6,.6 .6-.1 .7,0 .7,.8 .7-.1 .8,.9 .8,.4 .8,.5 .9,.7 .9,0 .8,.6 .8,.2 .8,.2 .7,0 .7,0 .7,.5 .6-.2 .6-.5 .7-.2 .7-.9 .7,.1 .8,.1 .8,0 .8-1 .9,.6 .9-.2 .8-1 .9,.1 .8,.3 .8-.7 .8-.3 .8,.2 .8-.1 .8-.1 .8-.6 .7,.1 .8-.4 .7,.6 .8-.2 .7-.2 .7-.9 .7-.1 .7,.5 .8-.3 .7,.4 .7,0 .8-.3 .7,.3 .8,.9 .7,0 .8,.5 .8,.6 .9-.1 .9,.4 .9,.8 .9,0 1,.7 1,.5 1,.2 1,.4 1.1,1 1.1,.4 1.1,.2 1.1,.3 1.1,.8 1.2,0 1.1,.1 1.3,.7 1.2,.4 1.3,.4 1.2,.3 1.3,.5 1.3,0 1.4,1 1.4,.5 1.5,.2 1.5,.4 1.6,.4 1.7-.3 1.7,.1 1.7,.5 1.8-.4 1.9,.2 1.8,.4 1.9-.4 1.9,1 1.9,0 2-.3 1.9,.2 2.1-.1 2,.2 2.1-.3 2.2,.4 2.2-.1 2.4,.3 2.4,.3 2.4,.3 2.4-.6 2.4,.1 2.4,.5 2.3,.4 2.3-.2 2.2,0 2.3,.5 2.2-.5 2.1,0 2.1,.5 2.1,.1 1.9-.4 1.8,.4 1.7-.2 1.7,.1 1.5-.6 1.6-.5 1.5-.1 1.5-.3 1.5-.3 1.6-.1 1.7-.9 1.8,0 1.7-1.4 1.6,0 1.5-1.2 1.2,.1 .9-.9" stroke="#222222" stroke-width="1.7"/>
<path d="M1364.9,484l.4,1.1 .5,1.3 .6,.2 .7,.4 .7,.6 .7,.6 .8,2.4 .7,.4 .7-.1 .8,1.5 .8,1.1 .9,1.3 .8-.3 .8,.9 .8,.6 .8,1.4 .7,1.1 .7,.2 .7-.7 .7,.8 .6-.1 .7,.5 .7,.9 .8-.2 .8,.6 .9,.3 .9,.7 .9,1.2 1-.8 .9,1.1 .9,0 .8,.2 .8,.5 .7,1.3 .8,.6 .7,.3 .7,.8 .7,.2 .7-.2 .8,.3 .8,1.1 .8,.5 .8,.8 .9,.7 .8,.3 .9,.7 .9,0 .9,.4 .9,.7 1-.1 1,1 1,.6 1.1-.3 1,.2 1.1,.5 1.1,.9 1.2,.4 1.2,.4 1.2,.3 1.3,1.1 1.3,.4 1.2,1 1.2,.5 1.1-1.2 1,1.2 1,1 .9,.1 .9,.5 .8-.2 .9,.7 .9,1.4 .9,.2 1,1.1 .9,.9 1,.8 1,.9 1,.9 1,.9 1,.8 1-.3 1,.6 1,.5 1,1 .9,.7 1-.2 1.1-.1 1-.4 1.1,.4 1.1,.2 1.2,.5 1.1,0 1.2,.9 1.2,.1 1.3,1.4 1.3-1.2 1.3,.2 1.4,1.7 1.5,.3 1.5-.5 1.5,.3 1.6-.1 1.6,.4 1.6,.1 1.6-.1 1.6,1.8 1.7,0 1.7,.2 1.8-1.1 1.7,1.1 1.6-.9 1.6,1.4 1.5-.9 1.4,1.3 1.3-.5 1.2,1.8 1.2,.2 1.1-.5 1.2,1.2 1.2,.1 1.2-.8 1.3,1.6 1.2,.4 1.2-.8 1.3,1.1 1.3-.4 1.4-.2 1.4,1.1 1.5-.4 1.6,1.5 1.7-.1 1.7-.7 1.9,.4 1.8-.6 1.9,.6 1.9,.5 1.9,.5 1.9,.3 1.9-.5 2-.3 2,.8 2-.4 2,.4 2.1-.7 2.2,1 2.2-1.2 2.3,.5 2.4-.2 2.3,.3 2.5,.5 2.4,.7 2.4-1.5 2.4,1 2.5-.5 2.6,1.2 2.6,0 2.6,.5 2.6,.1 2.4-.5 2.1-.7 1.9,.8 1.5-.6 1.3-.5 1-.6 .8,1.2 .8-1.1 .7-.9 .7-.2 .9-.5 1-.5 1,.9 1-.9 1-.8 1-.4 .8-.4 .8,.1 .5-.2" stroke="#222222" stroke-width="1.7"/>
<path d="M1364.9,457l.3,1.8 .4,.7 .5-.1 .6,.6 .5,.8 .6,.7 .6,1.1 .6,.9 .6,1.9 .5-.4 .6,.8 .6,2.1 .6,.8 .7-.7 .6,1.3 .6,2.1 .6-.1 .7,1.4 .6,1.2 .7,1 .6,.1 .7,2.3 .7,1.2 .6,.4 .6,.9 .6,1.7 .6,1.6 .7,1 .6-.3 .6,2 .6,.4 .7,1.7 .7,.6 .7-.3 .7,1.2 .8,.4 .8-1.1 .7,.9 .8,1.3 .8-.9 .8,.8 .8,.7 .9-.1 .8,1.1 .9-.7 .8,1.1 .9,.2 .8-.6 .8,1.8 .8,.4 .8,.5 .8-.8 .7,1 .8-.3 .8,1.4 .8,.2 .8,.9 .9-1 .8,.6 .9,.1 .8,2 .8-.1 .8-.6 .7,1.5 .7-.1 .6,.3 .5,1.1 .6,.4 .5-.1 .5,.1 .6,.6 .5,.4 .6,.1 .5,.5 .6,1.2 .5,1.2 .6-.2 .5,0 .6-.4 .5,1.7 .5-1.3 .5-.5 .5,.2 .4-.4 .5-2 .5-.7 .4-.2 .5,1.2 .5-.8 .5-.6 .4,1.3 .5,.2 .5-.3 .4,.4 .5,1 .5,1.4 .5-.6 .4,1.4 .5-.8 .4,.3 .5-.1 .5,1.2 .5-.6 .5,1.6 .6-.5 .6-1 .6,1.1 .7-.2 .6,.2 .7-.2 .7-1.1 .6,.4 .6-.2 .7-1.4 .6,.8 .7-.9 .6-1.6 .6-1 .7-.1 .6-.3 .6-.7 .7-1.6 .6,.2 .7-.8 .6-1.5 .7-.2 .6-.6 .6-.7 .6-2 .5-1.1 .6,.1 .5-.5 .6-1.9 .5-.5 .5-2 .6-1.5 .6-.3 .6-1.9 .5-.2 .6-1.5 .6-2.5 .6-.7 .5-.2 .5-2.3 .4-.6 .5-1.1 .3,.5 .4-.1 .3-1.1 .4-.2 .3-1.8 .4,.7 .4-.2 .3-.8 .4-1.6 .3-.2 .4,.8 .3-.7 .4-.6 .4-.2 .4-.2 .4,1.8 .5,.2 .4-.2 .5,.7 .4,2.4 .5,.6 .5-.8 .5,1.1 .6,2.2 .5,.1 .6,1.7 .5,.4 .6,.8 .6,2.1 .6-.1 .6,2.2 .6,.8 .6,0 .7,2.6 .6,1.2 .6-.3 .7,2 .6,1.1 .6,.8 .6,2 .7,1.6 .6,1.1 .6,1.1 .7,.6 .7,1.6 .7,1.6 .8,.3 .7,2.1 .9,.6 .8,2.1 .9,.3 .8,1.6 1,1.2 .9,.8 1,2 1.1,2 1.1,1.4 1.2,2.2 1.1,1.3 1.1,.2 1,1.9 .9,.9 .7,0 .7,2.1 .5-.2 .5-.4 .5,.7 .5,.2 .5,.3 .6,.4 .6-.3 .7,.1 .7,.3 .7-.5 .7-.2 .7,1.5 .8,.1 .8-.9 .8,.6 .9,0 .9-.1 .9,1.2 .9-.4 1,.1 .9,.9 1,.2 1-.7 .9,.6 1-.4 .9,.1 1,.2 1,.2 1.1,0 1.1,0 1.2,1.8 1.2-.4 1.3-.1 1.4,.7 1.3,1.2 1.3-1.2 1.2,1.7 1.2-.8 1.1-.2 1,1.9 1-1 1,1.4 1-1.4 .9,.3 1,1.2 .9-.8 .9,1.3 .9-.6 .9,1.1 .8-.9 .9,.6 .9-.5 1,.2 1.1,.5 1.2-.3 1.2,.8 1.4-.3 1.4,.7 1.3-.5 1.4,.6 1.4,.3 1.3,.5 1.3,1.2 1.3,.2 1.3-.6 1.3,.7 1.3,.5 1.2,.4 1.1-.3 1-.8 .9,.8 .7-.7 .7-.7 .6-.3 .6,.7 .5-1.2 .6-.3 .6-.1 .6-.4 .6,.2 .6-.8 .6-.4 .6,.7 .6-1.2 .7,1.3 .7,0 .8-1.5 1,.9 1,.5 1.1-1 1,1.5 .9-.9 .7-.5 .6,.1" stroke="#ff33ff" stroke-width="1.7"/>
</g>
<line x1="1449.8" y1="45.5" x2="1449.8" y2="145.7" stroke="#5a8dd6" stroke-width="1.5" stroke-dasharray="5.5,4"/>
<line x1="1494.7" y1="45.5" x2="1494.7" y2="145.7" stroke="#5a8dd6" stroke-width="1.5" stroke-dasharray="5.5,4"/>
<line x1="1449.8" y1="147.7" x2="1449.8" y2="248.5" stroke="#5a8dd6" stroke-width="1.5" stroke-dasharray="5.5,4"/>
<line x1="1494.7" y1="147.7" x2="1494.7" y2="248.5" stroke="#5a8dd6" stroke-width="1.5" stroke-dasharray="5.5,4"/>
<line x1="1494.5" y1="250.5" x2="1494.5" y2="351.4" stroke="#5a8dd6" stroke-width="1.5" stroke-dasharray="5.5,4"/>
<line x1="1454.7" y1="353.4" x2="1454.7" y2="454.1" stroke="#5a8dd6" stroke-width="1.5" stroke-dasharray="5.5,4"/>
<line x1="1494.5" y1="353.4" x2="1494.5" y2="454.1" stroke="#5a8dd6" stroke-width="1.5" stroke-dasharray="5.5,4"/>
<line x1="1454.6" y1="456.1" x2="1454.6" y2="556.0" stroke="#5a8dd6" stroke-width="1.5" stroke-dasharray="5.5,4"/>
<line x1="1494.8" y1="456.1" x2="1494.8" y2="556.0" stroke="#5a8dd6" stroke-width="1.5" stroke-dasharray="5.5,4"/>
<g stroke="#1a1a1a" fill="none">
<path d="M1364.8,44.5V557.0M1581.7,44.5V557.0" stroke-width="1.6"/>
<line x1="1364.0" y1="44.5" x2="1582.5" y2="44.5" stroke-width="2.2"/>
<line x1="1364.0" y1="146.7" x2="1582.5" y2="146.7" stroke-width="2.2"/>
<line x1="1364.0" y1="249.5" x2="1582.5" y2="249.5" stroke-width="2.2"/>
<line x1="1364.0" y1="352.4" x2="1582.5" y2="352.4" stroke-width="2.2"/>
<line x1="1364.0" y1="455.1" x2="1582.5" y2="455.1" stroke-width="2.2"/>
<line x1="1364.0" y1="557.0" x2="1582.5" y2="557.0" stroke-width="2.2"/>
<path d="M1364.8,44.5V48.1M1386.5,44.5V46.5M1408.2,44.5V48.1M1429.9,44.5V46.5M1451.6,44.5V48.1M1473.2,44.5V46.5M1494.9,44.5V48.1M1516.6,44.5V46.5M1538.3,44.5V48.1M1560.0,44.5V46.5M1581.7,44.5V48.1M1364.8,144.1V149.29999999999998M1386.5,145.29999999999998V148.1M1408.2,144.1V149.29999999999998M1429.9,145.29999999999998V148.1M1451.6,144.1V149.29999999999998M1473.2,145.29999999999998V148.1M1494.9,144.1V149.29999999999998M1516.6,145.29999999999998V148.1M1538.3,144.1V149.29999999999998M1560.0,145.29999999999998V148.1M1581.7,144.1V149.29999999999998M1364.8,246.9V252.1M1386.5,248.1V250.9M1408.2,246.9V252.1M1429.9,248.1V250.9M1451.6,246.9V252.1M1473.2,248.1V250.9M1494.9,246.9V252.1M1516.6,248.1V250.9M1538.3,246.9V252.1M1560.0,248.1V250.9M1581.7,246.9V252.1M1364.8,349.79999999999995V355.0M1386.5,351.0V353.79999999999995M1408.2,349.79999999999995V355.0M1429.9,351.0V353.79999999999995M1451.6,349.79999999999995V355.0M1473.2,351.0V353.79999999999995M1494.9,349.79999999999995V355.0M1516.6,351.0V353.79999999999995M1538.3,349.79999999999995V355.0M1560.0,351.0V353.79999999999995M1581.7,349.79999999999995V355.0M1364.8,452.5V457.70000000000005M1386.5,453.70000000000005V456.5M1408.2,452.5V457.70000000000005M1429.9,453.70000000000005V456.5M1451.6,452.5V457.70000000000005M1473.2,453.70000000000005V456.5M1494.9,452.5V457.70000000000005M1516.6,453.70000000000005V456.5M1538.3,452.5V457.70000000000005M1560.0,453.70000000000005V456.5M1581.7,452.5V457.70000000000005M1364.8,553.4V557.0M1386.5,555.0V557.0M1408.2,553.4V557.0M1429.9,555.0V557.0M1451.6,553.4V557.0M1473.2,555.0V557.0M1494.9,553.4V557.0M1516.6,555.0V557.0M1538.3,553.4V557.0M1560.0,555.0V557.0M1581.7,553.4V557.0" stroke-width="1.6"/>
</g>
<text x="1361.3" y="150.7" text-anchor="end" font-family="Liberation Sans, Arial, sans-serif" font-size="11" fill="#4a4a4a">0.00</text>
<text x="1361.3" y="108.1" text-anchor="end" font-family="Liberation Sans, Arial, sans-serif" font-size="11" fill="#4a4a4a">0.05</text>
<text x="1361.3" y="65.5" text-anchor="end" font-family="Liberation Sans, Arial, sans-serif" font-size="11" fill="#4a4a4a">0.10</text>
<text x="1361.3" y="253.5" text-anchor="end" font-family="Liberation Sans, Arial, sans-serif" font-size="11" fill="#4a4a4a">0.00</text>
<text x="1361.3" y="212.5" text-anchor="end" font-family="Liberation Sans, Arial, sans-serif" font-size="11" fill="#4a4a4a">0.04</text>
<text x="1361.3" y="171.5" text-anchor="end" font-family="Liberation Sans, Arial, sans-serif" font-size="11" fill="#4a4a4a">0.08</text>
<text x="1361.3" y="356.4" text-anchor="end" font-family="Liberation Sans, Arial, sans-serif" font-size="11" fill="#4a4a4a">0.0</text>
<text x="1361.3" y="330.6" text-anchor="end" font-family="Liberation Sans, Arial, sans-serif" font-size="11" fill="#4a4a4a">0.1</text>
<text x="1361.3" y="304.8" text-anchor="end" font-family="Liberation Sans, Arial, sans-serif" font-size="11" fill="#4a4a4a">0.2</text>
<text x="1361.3" y="279.0" text-anchor="end" font-family="Liberation Sans, Arial, sans-serif" font-size="11" fill="#4a4a4a">0.3</text>
<text x="1361.3" y="458.4" text-anchor="end" font-family="Liberation Sans, Arial, sans-serif" font-size="9.3" fill="#4a4a4a">0.00</text>
<text x="1361.3" y="421.7" text-anchor="end" font-family="Liberation Sans, Arial, sans-serif" font-size="9.3" fill="#4a4a4a">0.05</text>
<text x="1361.3" y="385.0" text-anchor="end" font-family="Liberation Sans, Arial, sans-serif" font-size="9.3" fill="#4a4a4a">0.10</text>
<text x="1361.3" y="560.3" text-anchor="end" font-family="Liberation Sans, Arial, sans-serif" font-size="9.3" fill="#4a4a4a">0.00</text>
<text x="1361.3" y="502.3" text-anchor="end" font-family="Liberation Sans, Arial, sans-serif" font-size="9.3" fill="#4a4a4a">0.04</text>
<path d="M1364.8,146.7h3M1581.7,146.7h-3M1364.8,125.4h1.8M1581.7,125.4h-1.8M1364.8,104.1h3M1581.7,104.1h-3M1364.8,82.8h1.8M1581.7,82.8h-1.8M1364.8,61.5h3M1581.7,61.5h-3M1364.8,249.5h3M1581.7,249.5h-3M1364.8,229.0h1.8M1581.7,229.0h-1.8M1364.8,208.5h3M1581.7,208.5h-3M1364.8,188.0h1.8M1581.7,188.0h-1.8M1364.8,167.5h3M1581.7,167.5h-3M1364.8,352.4h3M1581.7,352.4h-3M1364.8,339.5h1.8M1581.7,339.5h-1.8M1364.8,326.6h3M1581.7,326.6h-3M1364.8,313.7h1.8M1581.7,313.7h-1.8M1364.8,300.8h3M1581.7,300.8h-3M1364.8,287.9h1.8M1581.7,287.9h-1.8M1364.8,275.0h3M1581.7,275.0h-3M1364.8,262.1h1.8M1581.7,262.1h-1.8M1364.8,455.1h3M1581.7,455.1h-3M1364.8,436.8h1.8M1581.7,436.8h-1.8M1364.8,418.4h3M1581.7,418.4h-3M1364.8,400.1h1.8M1581.7,400.1h-1.8M1364.8,381.7h3M1581.7,381.7h-3M1364.8,363.4h1.8M1581.7,363.4h-1.8M1364.8,557.0h3M1581.7,557.0h-3M1364.8,528.0h1.8M1581.7,528.0h-1.8M1364.8,499.0h3M1581.7,499.0h-3M1364.8,470.0h1.8M1581.7,470.0h-1.8" stroke="#1a1a1a" stroke-width="1.2"/>
<g font-family="Liberation Sans, Arial, sans-serif" font-size="10.8" fill="#222" text-anchor="middle">
<text x="1364.8" y="40.3">10</text>
<text x="1364.8" y="569.9">10</text>
<text x="1408.2" y="40.3">20</text>
<text x="1408.2" y="569.9">20</text>
<text x="1451.6" y="40.3">30</text>
<text x="1451.6" y="569.9">30</text>
<text x="1494.9" y="40.3">40</text>
<text x="1494.9" y="569.9">40</text>
<text x="1538.3" y="40.3">50</text>
<text x="1538.3" y="569.9">50</text>
<text x="1581.7" y="40.3">60</text>
<text x="1581.7" y="569.9">60</text>
</g>
<text x="1420" y="26.2" font-family="Liberation Sans, Arial, sans-serif" font-size="13.6" fill="#222">Raman shift (cm<tspan font-size="8.5" dy="-5">-1</tspan><tspan dy="5">)</tspan></text>
<text x="1420" y="591.4" font-family="Liberation Sans, Arial, sans-serif" font-size="13.6" fill="#222">Raman shift (cm<tspan font-size="8.5" dy="-5">-1</tspan><tspan dy="5">)</tspan></text>
<text transform="translate(1334.3,298) rotate(-90)" text-anchor="middle" font-family="Liberation Sans, Arial, sans-serif" font-size="12.6" fill="#222" textLength="304" lengthAdjust="spacingAndGlyphs">Raman Intensity (fraction of the silicon Raman peak)</text>
<g font-family="Liberation Sans, Arial, sans-serif" font-size="9.3" fill="#333">
<text x="1463.5" y="61">LBM</text>
<text x="1404.5" y="178.2">SM</text>
<text x="1455.7" y="196.9">LBM</text>
<text x="1425.6" y="273">SM</text>
<text x="1462.8" y="324.4">LBM</text>
<text x="1408.5" y="376">SM</text>
<text x="1461.8" y="431.4">LBM</text>
<text x="1469.3" y="478.1">LBM</text>
</g>
<line x1="1502.5" y1="55.3" x2="1522" y2="55.3" stroke="#2aa02a" stroke-width="2"/>
<text x="1525.3" y="58.5" font-family="Liberation Sans, Arial, sans-serif" font-size="8.8" fill="#333">1L MoS<tspan font-size="6" dy="2.2">2</tspan><tspan dy="-2.2"></tspan></text>
<line x1="1502.5" y1="69.6" x2="1522" y2="69.6" stroke="#2b2bff" stroke-width="2"/>
<text x="1525.3" y="72.8" font-family="Liberation Sans, Arial, sans-serif" font-size="8.8" fill="#333">1L WSe<tspan font-size="6" dy="2.2">2</tspan><tspan dy="-2.2"></tspan></text>
<line x1="1502.5" y1="84.4" x2="1522" y2="84.4" stroke="#ff2b2b" stroke-width="2"/>
<text x="1525.3" y="87.60000000000001" font-family="Liberation Sans, Arial, sans-serif" font-size="8.8" fill="#333">MoS<tspan font-size="6" dy="2.2">2</tspan><tspan dy="-2.2"></tspan> / WSe<tspan font-size="6" dy="2.2">2</tspan><tspan dy="-2.2"></tspan></text>
<line x1="1504" y1="168.7" x2="1523" y2="168.7" stroke="#2b2bff" stroke-width="2"/>
<text x="1526" y="171.89999999999998" font-family="Liberation Sans, Arial, sans-serif" font-size="8.8" fill="#333">2L WSe<tspan font-size="6" dy="2.2">2</tspan><tspan dy="-2.2"></tspan></text>
<line x1="1484" y1="269.5" x2="1504" y2="269.5" stroke="#2c9a2c" stroke-width="2"/>
<text x="1507" y="272.7" font-family="Liberation Sans, Arial, sans-serif" font-size="8.8" fill="#333">2L MoS<tspan font-size="6" dy="2.2">2</tspan><tspan dy="-2.2"></tspan></text>
<line x1="1484" y1="283.2" x2="1504" y2="283.2" stroke="#ff9a2e" stroke-width="2"/>
<text x="1507" y="286.4" font-family="Liberation Sans, Arial, sans-serif" font-size="8.8" fill="#333">Twisted 2L MoS<tspan font-size="6" dy="2.2">2</tspan><tspan dy="-2.2"></tspan></text>
<line x1="1502" y1="376.1" x2="1522" y2="376.1" stroke="#222" stroke-width="2"/>
<text x="1525" y="379.3" font-family="Liberation Sans, Arial, sans-serif" font-size="8.8" fill="#333">2L MoSe<tspan font-size="6" dy="2.2">2</tspan><tspan dy="-2.2"></tspan></text>
<line x1="1502.4" y1="476" x2="1521.5" y2="476" stroke="#222" stroke-width="2"/>
<text x="1525.3" y="479.2" font-family="Liberation Sans, Arial, sans-serif" font-size="8.8" fill="#333">1L MoSe<tspan font-size="6" dy="2.2">2</tspan><tspan dy="-2.2"></tspan></text>
<line x1="1502.4" y1="490.8" x2="1521.5" y2="490.8" stroke="#ff33ff" stroke-width="2"/>
<text x="1525.3" y="494.0" font-family="Liberation Sans, Arial, sans-serif" font-size="8.8" fill="#333">MoSe<tspan font-size="6" dy="2.2">2</tspan><tspan dy="-2.2"></tspan>/MoS<tspan font-size="6" dy="2.2">2</tspan><tspan dy="-2.2"></tspan></text>
<text x="1297.5" y="34.3" font-family="Liberation Serif, Times New Roman, serif" font-weight="bold" font-size="43.5" fill="#000">(c)</text>
<text x="1636.2" y="24.5" font-family="Liberation Sans, Arial, sans-serif" font-size="14.5" fill="#2a2a2a" stroke="#2a2a2a" stroke-width="0.15" textLength="182" lengthAdjust="spacingAndGlyphs">Layer-Breathing Mode (LBM)</text>
<circle cx="1764.3" cy="40.800000000000004" r="3.8" fill="#36b236"/>
<text x="1773.8" y="44.900000000000006" font-family="Liberation Sans, Arial, sans-serif" font-size="10" fill="#333">Mo</text>
<circle cx="1798.4" cy="40.800000000000004" r="3.8" fill="#e0a824"/>
<text x="1807.9" y="44.900000000000006" font-family="Liberation Sans, Arial, sans-serif" font-size="10" fill="#333">S</text>
<circle cx="1764.3" cy="59.9" r="3.8" fill="#3a9fe4"/>
<text x="1773.8" y="64.0" font-family="Liberation Sans, Arial, sans-serif" font-size="10" fill="#333">W</text>
<circle cx="1798.4" cy="59.9" r="3.8" fill="#bf7fd8"/>
<text x="1807.9" y="64.0" font-family="Liberation Sans, Arial, sans-serif" font-size="10" fill="#333">Se</text>
<path d="M1734.5,139.6L1739.1,132.6H1737.2V118H1731.8V132.6H1729.9Z" fill="#e8402e"/>
<path d="M1709.6,91.7l2.4,2.8m0,0l-.8,2.8m-5.4-4.8l2.4,2.8m0,0l-.9,2.8m-5.3-4.8l2.3,2.8m0,0l-.8,2.8m9.8-5.7l2.4,2.9m0,0l-.8,2.9m-16.8-4.9l2.4,2.8m0,0l-.8,2.8m21.1-5.9l2.5,3.1m0,0l-.8,3.1m-13-5.9l2.4,2.9m0,0l-.8,2.9m-16.8-5l2.4,2.8m0,0l-.9,2.8m9.9-5.6l2.4,2.9m0,0l-.8,2.9m9.7-6l2.5,3.1m0,0l-.8,3.1m-28.2-5.2l2.3,2.8m0,0l-.8,2.8m32.6-6l2.4,3.2m0,0l-.7,3.2m-24.4-5.9l2.4,2.9m0,0l-.8,2.9m9.7-6l2.5,3.1m0,0l-.8,3.1m-28.3-5.4l2.4,2.8m0,0l-.8,2.8m43.9-6.2l2.5,3.4m0,0l-.7,3.4m-35.9-6l2.4,2.9m0,0l-.7,2.9m21-6.1l2.5,3.2m0,0l-.7,3.2m-13.1-6.2l2.5,3.1m0,0l-.8,3.1m-28.3-5.5l2.4,2.8m0,0l-.9,2.8m44-6l2.5,3.4m0,0l-.7,3.4m-35.9-6.1l2.4,2.9m0,0l-.8,2.9m21.1-6.1l2.5,3.2m0,0l-.7,3.2m-13.1-6.2l2.4,3.1m0,0l-.7,3.1m-28.3-5.6l2.3,2.8m0,0l-.8,2.8m55.3-6.2l2.5,3.5m0,0l-.6,3.5m-47.3-6.1l2.4,2.9m0,0l-.8,2.9m32.5-6.2l2.5,3.4m0,0l-.7,3.4m-24.5-6.4l2.4,3.1m0,0l-.7,3.1m9.6-6.3l2.5,3.2m0,0l-.7,3.2m-39.8-5.8l2.4,2.8m0,0l-.8,2.8m66.6-6.4l2.6,3.6m0,0l-.6,3.6m-13.3-6.7l2.6,3.5m0,0l-.7,3.5m-47.3-6.3l2.4,2.9m0,0l-.8,2.9m9.8-5.8l2.4,3.1m0,0l-.7,3.1m21-6.5l2.5,3.4m0,0l-.7,3.4m-51.2-6.1l2.4,2.8m0,0l-.9,2.8m36.5-6l2.5,3.2m0,0l-.7,3.2m28.4-6.5l2.6,3.6m0,0l-.6,3.6m-58.8-6.3l2.4,2.9m0,0l-.7,2.9m43.8-6.2l2.6,3.5m0,0l-.7,3.5m-62.6-6.2l2.3,2.8m0,0l-.8,2.8m25.2-5.9l2.4,3.1m0,0l-.8,3.1m21.1-6.4l2.5,3.4m0,0l-.7,3.4m28.3-7.2l2.6,3.8m0,0l-.5,3.8m-43.6-6.9l2.5,3.2m0,0l-.7,3.2m-28.4-5.7l2.4,2.9m0,0l-.8,2.9m55.2-6.5l2.6,3.6m0,0l-.6,3.6m16.8-7.4l2.7,3.9m0,0l-.5,3.9m-93.1-6.6l2.4,2.8m0,0l-.8,2.8m25.1-5.8l2.5,3.1m0,0l-.8,3.1m32.4-6.5l2.6,3.5m0,0l-.6,3.5m-24.7-6.6l2.5,3.2m0,0l-.7,3.2m9.6-6.6l2.5,3.4m0,0l-.7,3.4m28.3-7l2.7,3.8m0,0l-.6,3.8m-70.2-6.6l2.4,2.9m0,0l-.8,2.9m9.8-5.6l2.5,3.1m0,0l-.8,3.1m43.8-6.7l2.6,3.6m0,0l-.6,3.6m16.7-7.3l2.7,3.9m0,0l-.5,3.9m-55-7l2.5,3.2m0,0l-.7,3.2m20.9-6.7l2.6,3.5m0,0l-.6,3.5m-13.3-6.8l2.5,3.4m0,0l-.7,3.4m-39.8-6.2l2.4,2.9m0,0l-.8,2.9m66.6-6.5l2.6,3.8m0,0l-.5,3.8m16.6-7.9l2.8,4.1m0,0l-.5,4.1m-77.8-7l2.5,3.1m0,0l-.8,3.1m43.8-6.5l2.6,3.6m0,0l-.6,3.6m-36.1-6.6l2.5,3.2m0,0l-.7,3.2m69.8-7.4l2.8,4.2m0,0l-.5,4.2m-62.5-7.5l2.5,3.4m0,0l-.6,3.4m9.5-6.9l2.5,3.5m0,0l-.6,3.5m28.2-7.4l2.7,3.9m0,0l-.6,3.9m-70.2-6.5l2.4,3.1m0,0l-.7,3.1m55.1-6.9l2.7,3.8m0,0l-.6,3.8m16.7-7.7l2.7,4.1m0,0l-.5,4.1m-66.4-7.2l2.5,3.2m0,0l-.7,3.2m32.3-6.7l2.6,3.6m0,0l-.6,3.6m-24.7-6.9l2.5,3.4m0,0l-.6,3.4m9.5-6.9l2.5,3.5m0,0l-.6,3.5m47-7.5l2.7,4.2m0,0l-.4,4.2m-21.1-8l2.7,3.9m0,0l-.5,3.9m-70.3-6.9l2.4,3.1m0,0l-.7,3.1m9.7-5.9l2.5,3.2m0,0l-.7,3.2m43.6-7l2.7,3.8m0,0l-.6,3.8m35.5-8.2l2.8,4.4m0,0l-.4,4.4m-74-7.6l2.5,3.4m0,0l-.6,3.4m20.8-7l2.6,3.6m0,0l-.6,3.6m28.1-7.7l2.8,4.1m0,0l-.5,4.1m-43.7-7.5l2.6,3.5m0,0l-.7,3.5m65.7-7.9l2.9,4.5m0,0l-.4,4.5m-39.9-8l2.7,3.9m0,0l-.6,3.9m16.6-8.1l2.8,4.2m0,0l-.4,4.2m-77.9-7.2l2.5,3.2m0,0l-.7,3.2m43.7-6.8l2.6,3.8m0,0l-.5,3.8m-36.2-7.1l2.5,3.4m0,0l-.6,3.4m9.5-6.8l2.6,3.5m0,0l-.7,3.5m9.5-7.1l2.6,3.6m0,0l-.6,3.6m46.8-8l2.8,4.4m0,0l-.4,4.4m-21.1-8.4l2.7,4.1m0,0l-.5,4.1m24-8.2l2.8,4.5m0,0l-.3,4.5m-40-8.3l2.7,3.9m0,0l-.5,3.9m16.6-7.9l2.8,4.2m0,0l-.5,4.2m-66.5-7.5l2.6,3.4m0,0l-.7,3.4m32.2-7.1l2.7,3.8m0,0l-.6,3.8m54.2-8.4l2.9,4.6m0,0l-.4,4.6m-81.5-8l2.6,3.5m0,0l-.7,3.5m9.5-7.1l2.6,3.6m0,0l-.6,3.6m28.2-7.4l2.7,4.1m0,0l-.5,4.1m16.5-8.5l2.8,4.4m0,0l-.4,4.4m23.7-9.2l3,4.8m0,0l-.3,4.8m-104.3-7.7l2.6,3.4m0,0l-.7,3.4m43.6-7.3l2.6,3.9m0,0l-.5,3.9m35.4-8.3l2.8,4.5m0,0l-.3,4.5m-74.1-7.8l2.6,3.5m0,0l-.6,3.5m20.8-7.3l2.6,3.8m0,0l-.6,3.8m28.1-8l2.7,4.2m0,0l-.4,4.2m-43.8-7.7l2.6,3.6m0,0l-.6,3.6m65.7-8l2.9,4.6m0,0l-.4,4.6m-40-8.4l2.7,4.1m0,0l-.5,4.1m16.6-8.4l2.8,4.4m0,0l-.4,4.4m23.7-9.1l3,4.8m0,0l-.3,4.8m-58.9-8.6l2.7,3.9m0,0l-.5,3.9m-36.2-7.2l2.5,3.5m0,0l-.6,3.5m9.4-7l2.6,3.6m0,0l-.6,3.6m9.4-7.4l2.6,3.8m0,0l-.5,3.8m72.9-8.7l3,4.9m0,0l-.3,4.9m-28.8-9.3l2.8,4.5m0,0l-.3,4.5m-21.3-8.6l2.8,4.2m0,0l-.4,4.2m50-9.2l3,5.1m0,0l-.3,5.1m-66.3-8.8l2.7,4.1m0,0l-.5,4.1m35.3-8.7l2.8,4.6m0,0l-.3,4.6m-21.2-8.8l2.8,4.4m0,0l-.4,4.4m-32.5-8.2l2.6,3.9m0,0l-.5,3.9m-24.8-7.4l2.6,3.6m0,0l-.6,3.6m9.3-7.3l2.7,3.8m0,0l-.6,3.8m65.6-8.6l2.9,4.8m0,0l-.3,4.8m-40.1-8.7l2.8,4.2m0,0l-.5,4.2m16.5-8.6l2.8,4.5m0,0l-.4,4.5m23.7-9.3l3,4.9m0,0l-.3,4.9m-58.9-8.7l2.7,4.1m0,0l-.4,4.1m61.4-9.1l3,5.1m0,0l-.2,5.1m-28.9-9.6l2.8,4.6m0,0l-.3,4.6m-74.1-8.1l2.6,3.6m0,0l-.6,3.6m20.7-7.5l2.7,3.9m0,0l-.5,3.9m-13.5-7.6l2.6,3.8m0,0l-.6,3.8m39.4-8.2l2.8,4.4m0,0l-.4,4.4m49.9-9.6l3.1,5.2m0,0l-.2,5.2m-28.9-9.6l2.9,4.8m0,0l-.3,4.8m-40.1-8.9l2.7,4.2m0,0l-.4,4.2m16.5-8.5l2.8,4.5m0,0l-.4,4.5m-32.5-8.4l2.7,4.1m0,0l-.5,4.1m54-9l3,4.9m0,0l-.3,4.9m-70.3-8.6l2.7,3.9m0,0l-.5,3.9m-13.5-7.6l2.6,3.8m0,0l-.5,3.8m39.4-8l2.8,4.4m0,0l-.4,4.4m16.4-9l2.8,4.6m0,0l-.3,4.6m23.6-9.7l3,5.1m0,0l-.2,5.1m4.7-9.9l3,5.2m0,0l-.2,5.2m-66.5-9.3l2.8,4.2m0,0l-.5,4.2m35.3-8.9l2.9,4.8m0,0l-.3,4.8m-51.5-8.7l2.7,4.1m0,0l-.4,4.1m27.8-8.6l2.9,4.5m0,0l-.4,4.5m-43.9-8.2l2.7,3.9m0,0l-.5,3.9m65.5-8.6l2.9,4.9m0,0l-.2,4.9m-40.2-9.1l2.8,4.4m0,0l-.4,4.4m16.4-8.8l2.8,4.6m0,0l-.3,4.6m23.6-9.6l3,5.1m0,0l-.2,5.1m-59-9.1l2.8,4.2m0,0l-.5,4.2m-13.6-8l2.7,4.1m0,0l-.5,4.1m46.7-8.9l2.9,4.8m0,0l-.3,4.8m23.5-10l3,5.2m0,0l-.1,5.2m-89.3-9l2.7,3.9m0,0l-.5,3.9m39.3-8.4l2.9,4.5m0,0l-.4,4.5m-13.7-8.3l2.8,4.4m0,0l-.5,4.4m35.2-9.3l2.9,4.9m0,0l-.2,4.9m-21.5-9.3l2.9,4.6m0,0l-.3,4.6m-32.6-8.6l2.7,4.2m0,0l-.4,4.2m-13.7-8.1l2.8,4.1m0,0l-.5,4.1m65.4-9.2l2.9,5.1m0,0l-.2,5.1m-40.2-9.3l2.8,4.5m0,0l-.3,4.5m16.3-9.2l2.9,4.8m0,0l-.3,4.8m23.5-9.9l3.1,5.2m0,0l-.2,5.2m-59.1-9.3l2.8,4.4m0,0l-.4,4.4m-13.7-8.3l2.8,4.2m0,0l-.5,4.2m46.6-9.1l2.9,4.9m0,0l-.2,4.9m-21.5-9.4l2.9,4.6m0,0l-.3,4.6m23.7-9.2l3,5.1m0,0l-.2,5.1m-40.3-9.5l2.8,4.5m0,0l-.3,4.5m16.3-9.1l2.9,4.8m0,0l-.3,4.8m-32.7-9l2.8,4.4m0,0l-.4,4.4m53.9-9.5l3,5.2m0,0l-.2,5.2m-70.4-9.2l2.7,4.2m0,0l-.4,4.2m27.8-8.6l2.9,4.6m0,0l-.3,4.6m16.2-9.5l2.9,4.9m0,0l-.2,4.9m-32.7-8.8l2.8,4.5m0,0l-.4,4.5m35.1-9.5l3,5.1m0,0l-.2,5.1m-21.5-9.7l2.9,4.8m0,0l-.3,4.8m-32.7-9.1l2.8,4.4m0,0l-.4,4.4m53.9-9.2l3,5.2m0,0l-.1,5.2m-40.4-9.6l2.9,4.6m0,0l-.3,4.6m16.2-9.4l3,4.9m0,0l-.3,4.9m-32.7-9l2.8,4.5m0,0l-.4,4.5m16.4-8.9l2.9,4.8m0,0l-.3,4.8m16.1-9.9l3,5.1m0,0l-.2,5.1m-32.8-9.1l2.9,4.6m0,0l-.3,4.6m34.9-9.8l3.1,5.2m0,0l-.2,5.2m-21.6-9.8l3,4.9m0,0l-.3,4.9m-32.8-9.2l2.9,4.5m0,0l-.4,4.5m16.4-8.8l2.9,4.8m0,0l-.3,4.8m16.2-9.8l2.9,5.1m0,0l-.2,5.1m-32.8-9.2l2.9,4.6m0,0l-.3,4.6m35-9.6l3,5.2m0,0l-.2,5.2m-21.6-9.9l3,4.9m0,0l-.3,4.9m-13.9-9.1l2.9,4.8m0,0l-.3,4.8m16.2-9.7l3,5.1m0,0l-.2,5.1m-14.1-9.2l3,4.9m0,0l-.2,4.9m16-10.1l3,5.2m0,0l-.1,5.2m-32.9-9.3l2.9,4.8m0,0l-.3,4.8m16.2-9.6l3,5.1m0,0l-.2,5.1m-14-9.3l2.9,4.9m0,0l-.2,4.9m16-10l3.1,5.2m0,0l-.2,5.2m-14.1-9.4l3,5.1m0,0l-.2,5.1m4.8-9.4l3,5.2m0,0l-.2,5.2m-14.1-9.5l3,5.1m0,0l-.2,5.1m4.8-9.3l3,5.2m0,0l-.1,5.2" stroke="#45454f" stroke-width="1.1" fill="none"/>
<g fill="none" stroke-linecap="round">
<path d="M1711.2,97.3h0m-3.9,.8h0m-3.8,.8h0m11.4,.1h0m-15.2,.7h0m22.8,.3h0m-11.4-.1h0m-15.3,.6h0m11.5,.2h0m11.4,.2h0m-26.7,.4h0m34.3,.4h0m-22.8-.1h0m11.4,.2h0m-26.7,.2h0m45.7,.6h0m-34.2-.2h0m22.8,.3h0m-11.4,0h0m-26.8,.1h0m45.8,.8h0m-34.3-.3h0m22.9,.3h0m-11.4,0h0m-26.8,0h0m57.2,.8h0m-45.7-.3h0m34.3,.6h0m-22.8-.2h0m11.4,.1h0m-38.2-.2h0m68.6,.8h0m-11.4,.3h0m-45.7-.5h0m11.5,.4h0m22.8,.3h0m-49.7-.5h0m38.3,.4h0m30.4,.7h0m-57.1-.5h0m45.7,.8h0m-61.1-.6h0m26.8,.3h0m22.9,.4h0m30.4,.4h0m-41.8-.5h0m-26.8,.1h0m57.2,.7h0m19,.4h0m-91.5-1h0m26.8,.4h0m34.4,.5h0m-22.9-.2h0m11.4,.2h0m30.4,.6h0m-68.6-.8h0m11.5,.6h0m45.8,.5h0m18.9,.5h0m-53.2-.6h0m22.9,.3h0m-11.5,0h0m-38.2-.4h0m68.7,1.1h0m18.9,.3h0m-76.1-.8h0m45.8,.7h0m-34.3-.2h0m72.1,1h0m-60.6-.7h0m11.4,.1h0m30.3,.4h0m-68.5-.3h0m57.2,.7h0m18.9,.5h0m-64.6-.8h0m34.3,.5h0m-22.8-.1h0m11.4,.1h0m49.3,.9h0m-18.9-.2h0m-68.6-.7h0m11.5,.5h0m45.7,.6h0m37.9,.6h0m-72.1-.8h0m22.8,.2h0m30.4,.5h0m-41.8-.5h0m68.2,1.1h0m-37.8-.2h0m19,.3h0m-76.1-.8h0m45.8,.8h0m-34.3-.3h0m11.4,.2h0m11.5,.1h0m49.2,.8h0m-18.9-.2h0m26.5,.8h0m-37.8-.5h0m18.9,.5h0m-64.6-.7h0m34.3,.5h0m56.7,.8h0m-79.6-1h0m11.5,.1h0m30.4,.8h0m18.9,.3h0m26.4,.4h0m-102.4-.9h0m45.7,.5h0m37.9,.7h0m-72.1-.8h0m22.8,.3h0m30.4,.4h0m-41.8-.5h0m68.2,1.2h0m-37.8-.2h0m19,.4h0m26.4,.5h0m-56.7-.8h0m-34.3-.2h0m11.4,.2h0m11.5,.2h0m75.6,1.1h0m-26.3-.3h0m-18.9-.2h0m52.7,1h0m-64.1-.6h0m37.8,.5h0m-18.8,0h0m-30.4-.4h0m-22.8-.2h0m11.4,.3h0m68.2,1h0m-37.8-.3h0m18.9,.4h0m26.4,.5h0m-56.6-.5h0m64.2,1.1h0m-26.4-.4h0m-72.1-.9h0m22.9,.3h0m-11.5,0h0m41.8,.6h0m52.8,.8h0m-26.3,0h0m-37.8-.5h0m18.9,.5h0m-30.3-.2h0m56.7,.8h0m-68.1-.8h0m-11.4,0h0m41.8,.8h0m18.9,.2h0m26.4,.5h0m7.5,.5h0m-64.2-.9h0m37.9,.7h0m-49.2-.5h0m30.3,.4h0m-41.7-.4h0m68.2,1.2h0m-37.8-.3h0m18.9,.4h0m26.4,.6h0m-56.7-.7h0m-11.4,.2h0m49.3,.7h0m26.4,.4h0m-87.1-1.2h0m41.8,.6h0m-11.4,.5h0m37.9,.5h0m-18.9-.1h0m-30.3-.2h0m-11.4,.1h0m68.1,1h0m-37.7-.3h0m18.9,.4h0m26.4,.5h0m-56.7-.5h0m-11.4,.1h0m49.3,.7h0m-18.9-.2h0m26.5,1h0m-37.8-.5h0m18.9,.5h0m-30.3-.2h0m56.7,.9h0m-68.1-.8h0m30.4,.6h0m18.9,.3h0m-30.3,.2h0m37.9,.7h0m-18.9-.1h0m-30.3-.3h0m56.8,1.2h0m-37.8-.4h0m18.9,.4h0m-30.3,0h0m19,.7h0m18.9,.3h0m-30.2,.1h0m37.8,.6h0m-18.9,0h0m-30.3-.2h0m19,.8h0m18.9,.4h0m-30.2,0h0m37.8,.8h0m-18.9-.1h0m-11.3,.5h0m19,.5h0m-11.3,.6h0m18.9,.3h0m-30.3,.3h0m19,.6h0m-11.3,.5h0m18.9,.4h0m-11.3,.8h0m7.6,1h0m-11.3,.7h0m7.7,1.1h0" stroke="#bf7fd8" stroke-width="2.7"/>
<path d="M1712,94.5h0m-3.8,.8h0m-3.9,.8h0m11.4,0h0m-15.2,.8h0m22.8,0h0m-11.4,.1h0m-15.2,.7h0m11.4,.1h0m11.4,0h0m-26.7,.7h0m34.2,0h0m-22.7,.2h0m11.4,0h0m-26.7,.5h0m45.6,0h0m-34.2,.3h0m22.8,0h0m-11.3,.1h0m-26.7,.4h0m45.6,.2h0m-34.2,.2h0m22.8,0h0m-11.4,.1h0m-26.7,.3h0m57,.1h0m-45.5,.3h0m34.2,.1h0m-22.8,.1h0m11.4,0h0m-38.1,.2h0m68.4,0h0m-11.3,.4h0m-45.6,.1h0m11.4,.2h0m22.8,0h0m-49.5,.1h0m38.1,0h0m30.3,.3h0m-57,.2h0m45.7,.2h0m-61,.1h0m26.8,0h0m22.8,.1h0m30.2,0h0m-41.6,.1h0m-26.7,.4h0m57,0h0m18.9,.1h0m-91.2,.1h0m26.8,.1h0m34.2,.1h0m-22.8,.1h0m11.4,0h0m30.3,.2h0m-68.4,.1h0m11.5,.4h0m45.6,0h0m18.8,.2h0m-53,.1h0m22.8,0h0m-11.4,.1h0m-38.1,.1h0m68.4,.2h0m18.9,0h0m-75.8,.2h0m45.6,.2h0m-34.2,.2h0m71.9,0h0m-60.5,.1h0m11.4,0h0m30.3,0h0m-68.4,.5h0m57.1,0h0m18.8,.2h0m-64.4,.1h0m34.2,.1h0m-22.8,.1h0m11.4,0h0m49.1,.2h0m-18.8,.1h0m-68.4,.1h0m11.5,.4h0m45.6,0h0m37.7,0h0m-71.9,.2h0m22.8,0h0m30.3,0h0m-41.6,.1h0m67.9,.1h0m-37.6,.4h0m18.8,0h0m-75.8,.2h0m45.6,.2h0m-34.2,.1h0m11.5,.1h0m11.4,0h0m49,0h0m-18.8,.1h0m26.3,.4h0m-37.6,.1h0m18.9,.2h0m-64.4,.1h0m34.2,.1h0m56.5,0h0m-79.3,.1h0m11.4,0h0m30.3,.3h0m18.8,0h0m26.3,0h0m-102,.5h0m45.5,0h0m37.7,.1h0m-71.8,.2h0m22.8,0h0m30.2,0h0m-41.6,.1h0m68,.2h0m-37.7,.3h0m18.9,.1h0m26.3,.1h0m-56.5,.1h0m-34.2,.2h0m11.4,.1h0m11.4,0h0m75.4,0h0m-26.3,.1h0m-18.8,.1h0m52.6,.1h0m-63.9,.4h0m37.6,0h0m-18.7,.2h0m-30.3,.1h0m-22.7,.1h0m11.4,.1h0m67.9,0h0m-37.6,.3h0m18.8,.1h0m26.3,.1h0m-56.5,.3h0m64,.1h0m-26.3,.1h0m-71.8,.1h0m22.8,0h0m-11.4,.1h0m41.6,0h0m52.6,0h0m-26.2,.4h0m-37.7,.1h0m18.9,.2h0m-30.2,.2h0m56.5,0h0m-67.9,.2h0m-11.4,.1h0m41.7,.2h0m18.8,0h0m26.3,0h0m7.5,.4h0m-63.9,.1h0m37.7,.1h0m-49.1,.2h0m30.3,0h0m-41.6,.2h0m67.9,.2h0m-37.6,.2h0m18.8,.2h0m26.3,.1h0m-56.4,.2h0m-11.4,.3h0m49.1,0h0m26.2,0h0m-86.7,.1h0m41.7,0h0m-11.3,.6h0m37.6,0h0m-18.8,.2h0m-30.2,.2h0m-11.3,.2h0m67.8,0h0m-37.6,.3h0m18.9,.1h0m26.3,.1h0m-56.5,.3h0m-11.3,.3h0m49,0h0m-18.8,.1h0m26.4,.5h0m-37.7,.1h0m18.9,.2h0m-30.2,.2h0m56.5,.1h0m-67.9,.2h0m30.3,.2h0m18.8,0h0m-30.1,.6h0m37.7,.1h0m-18.8,.2h0m-30.2,.1h0m56.5,.4h0m-37.6,.2h0m18.9,.1h0m-30.2,.4h0m18.9,.4h0m18.8,0h0m-30.1,.6h0m37.7,0h0m-18.8,.3h0m-30.2,.2h0m18.9,.5h0m18.8,.1h0m-30.1,.5h0m37.7,.2h0m-18.8,.2h0m-11.3,.6h0m18.9,.2h0m-11.3,.8h0m18.8,0h0m-30.1,.7h0m18.9,.3h0m-11.3,.7h0m18.9,.1h0m-11.3,.9h0m7.6,.9h0m-11.3,.8h0m7.6,1h0" stroke="#3a9fe4" stroke-width="3.0"/>
<path d="M1709.6,91.7h0m-3.8,.8h0m-3.8,.8h0m11.3-.1h0m-15.2,.9h0m22.7-.3h0m-11.3,.3h0m-15.2,.8h0m11.4,0h0m11.3-.2h0m-26.5,1h0m34.1-.4h0m-22.7,.5h0m11.3-.2h0m-26.6,.8h0m45.5-.6h0m-34.1,.8h0m22.7-.3h0m-11.3,.2h0m-26.6,.7h0m45.5-.4h0m-34.1,.7h0m22.7-.3h0m-11.3,.2h0m-26.6,.6h0m56.8-.6h0m-45.4,.9h0m34.1-.4h0m-22.7,.4h0m11.3-.1h0m-38,.6h0m68.2-.8h0m-11.3,.5h0m-45.4,.7h0m11.4,0h0m22.7-.3h0m-49.4,.7h0m38-.4h0m30.2-.1h0m-56.8,.9h0m45.5-.4h0m-60.7,.8h0m26.7-.3h0m22.7-.2h0m30.1-.4h0m-41.5,.7h0m-26.6,.7h0m56.8-.7h0m18.8-.2h0m-90.9,1.2h0m26.7-.2h0m34.1-.3h0m-22.7,.4h0m11.4-.2h0m30.1-.2h0m-68.1,1h0m11.4,.2h0m45.5-.5h0m18.7-.1h0m-52.8,.8h0m22.7-.3h0m-11.3,.2h0m-38,.6h0m68.2-.7h0m18.7-.3h0m-75.5,1.2h0m45.5-.3h0m-34.1,.6h0m71.6-1h0m-60.2,.9h0m11.4-.1h0m30.1-.4h0m-68.1,1.3h0m56.8-.7h0m18.8-.1h0m-64.2,1h0m34.1-.3h0m-22.7,.3h0m11.4-.1h0m48.9-.5h0m-18.8,.4h0m-68.1,.9h0m11.4,.3h0m45.4-.6h0m37.6-.6h0m-71.6,1.2h0m22.7-.2h0m30.1-.5h0m-41.4,.7h0m67.6-.9h0m-37.4,1h0m18.7-.3h0m-75.5,1.2h0m45.5-.4h0m-34.1,.5h0m11.4,0h0m11.4-.1h0m48.8-.8h0m-18.7,.4h0m26.2,0h0m-37.5,.7h0m18.8-.1h0m-64.2,.9h0m34.1-.3h0m56.3-.8h0m-79,1.2h0m11.4-.1h0m30.2-.2h0m18.7-.3h0m26.1-.4h0m-101.6,1.9h0m45.5-.5h0m37.5-.5h0m-71.6,1.2h0m22.8-.3h0m30.1-.4h0m-41.5,.7h0m67.7-.8h0m-37.5,.8h0m18.8-.2h0m26.1-.3h0m-56.2,1h0m-34,.6h0m11.3,0h0m11.4-.2h0m75-1.1h0m-26.1,.5h0m-18.8,.4h0m52.4-.8h0m-63.6,1.4h0m37.5-.5h0m-18.7,.4h0m-30.1,.6h0m-22.7,.4h0m11.3-.1h0m67.7-1h0m-37.5,.9h0m18.8-.2h0m26.1-.3h0m-56.2,1.1h0m63.7-.9h0m-26.1,.6h0m-71.6,1.1h0m22.7-.3h0m-11.3,.2h0m41.4-.6h0m52.3-.8h0m-26,.8h0m-37.5,.7h0m18.8-.1h0m-30.1,.6h0m56.2-.8h0m-67.6,1.2h0m-11.3,.2h0m41.5-.4h0m18.8-.2h0m26.1-.5h0m7.5,.3h0m-63.7,1.1h0m37.6-.5h0m-48.9,.9h0m30.1-.4h0m-41.4,.8h0m67.7-.8h0m-37.5,.7h0m18.8,0h0m26.1-.4h0m-56.2,1.1h0m-11.3,.4h0m48.9-.7h0m26.1-.4h0m-86.4,1.4h0m41.5-.6h0m-11.2,.7h0m37.5-.5h0m-18.8,.5h0m-30,.6h0m-11.4,.3h0m67.7-1h0m-37.5,.9h0m18.8-.2h0m26.1-.3h0m-56.2,1.1h0m-11.3,.5h0m48.9-.7h0m-18.8,.4h0m26.3,0h0m-37.5,.7h0m18.8-.1h0m-30.1,.6h0m56.3-.7h0m-67.6,1.2h0m30.1-.2h0m18.8-.3h0m-30,1h0m37.5-.5h0m-18.7,.5h0m-30.1,.5h0m56.3-.4h0m-37.5,.8h0m18.8-.2h0m-30,.8h0m18.8,.1h0m18.7-.3h0m-30,1.1h0m37.5-.6h0m-18.7,.6h0m-30.1,.6h0m18.9,.2h0m18.8-.2h0m-30.1,1h0m37.6-.4h0m-18.8,.5h0m-11.2,.7h0m18.8-.1h0m-11.3,1h0m18.8-.3h0m-30,1.1h0m18.8,0h0m-11.2,.9h0m18.7-.2h0m-11.2,1h0m7.6,.8h0m-11.3,.9h0m7.6,.9h0" stroke="#bf7fd8" stroke-width="2.7"/>
</g>
<path d="M1734.5,47.7L1739.1,54.7H1737.2V80H1731.8V54.7H1729.9Z" fill="#e8402e"/>
<path d="M1747.2,72.4l-2.2,2.1m0,0l1,2.1m-3-3.9l-2.2,2.1m0,0l1.1,2.1m-3-4l-2.2,2.1m0,0l1,2.1m-3-3.9l-2.2,2.1m0,0l1,2.1m-3-3.9l-2.1,2.1m0,0l1,2.1m-3-4l-2.2,2.1m0,0l1,2.1m26.9-4.4l-2.2,2.3m0,0l1,2.3m-2.8-4.4l-2.2,2.3m0,0l.9,2.3m-24.6-4.3l-2.1,2.1m0,0l1,2.1m-3-4l-2.2,2.1m0,0l1,2.1m27.2-4.4l-2.3,2.3m0,0l1,2.3m-28.9-4.1l-2.2,2.1m0,0l1.1,2.1m27.2-4.4l-2.2,2.3m0,0l1,2.3m-2.8-4.4l-2.2,2.3m0,0l1,2.3m26.3-4.8l-2.3,2.5m0,0l.9,2.5m-49.9-4.5l-2.2,2.1m0,0l1,2.1m-3-4l-2.2,2.1m0,0l1,2.1m27.6-4.4l-2.2,2.3m0,0l.9,2.3m26.5-4.8l-2.3,2.5m0,0l.9,2.5m-2.5-4.8l-2.3,2.5m0,0l.9,2.5m-50.5-4.5l-2.1,2.1m0,0l1,2.1m27.7-4.4l-2.3,2.3m0,0l1,2.3m-2.8-4.4l-2.2,2.3m0,0l1,2.3m26.7-4.8l-2.3,2.5m0,0l.9,2.5m-50.7-4.5l-2.2,2.1m0,0l1,2.1m-3-4l-2.2,2.1m0,0l1.1,2.1m27.9-4.4l-2.2,2.3m0,0l.9,2.3m26.9-4.8l-2.3,2.5m0,0l.9,2.5m-2.5-4.8l-2.3,2.5m0,0l.9,2.5m25.9-5.1l-2.3,2.6m0,0l.9,2.6m-75.7-4.6l-2.2,2.1m0,0l1,2.1m28.1-4.4l-2.2,2.3m0,0l.9,2.3m-29.8-4.2l-2.2,2.1m0,0l1.1,2.1m28.2-4.4l-2.3,2.3m0,0l1,2.3m27.1-4.8l-2.3,2.5m0,0l1,2.5m26-5.1l-2.3,2.6m0,0l.8,2.6m-2.3-5l-2.3,2.6m0,0l.9,2.6m-76.5-4.6l-2.2,2.1m0,0l1,2.1m28.3-4.4l-2.2,2.3m0,0l1,2.3m27.2-4.8l-2.3,2.5m0,0l1,2.5m-2.6-4.8l-2.3,2.5m0,0l1,2.5m26.3-5.1l-2.4,2.6m0,0l.9,2.6m-76.9-4.6l-2.2,2.1m0,0l1,2.1m28.5-4.4l-2.2,2.3m0,0l.9,2.3m72.5-5l-2.4,2.8m0,0l.8,2.8m-101.1-4.8l-2.1,2.1m0,0l1,2.1m28.6-4.4l-2.3,2.3m0,0l1,2.3m27.5-4.8l-2.3,2.5m0,0l1,2.5m26.4-5.1l-2.3,2.6m0,0l.8,2.6m-2.3-5l-2.3,2.6m0,0l.9,2.6m25.4-5.4l-2.3,2.8m0,0l.8,2.8m-101.6-4.8l-2.2,2.1m0,0l1,2.1m28.7-4.4l-2.2,2.3m0,0l1,2.3m27.6-4.8l-2.2,2.5m0,0l.9,2.5m46.9-5.2l-2.4,2.8m0,0l.9,2.8m-22.6-5.3l-2.4,2.6m0,0l.9,2.6m-50.4-4.8l-2.2,2.3m0,0l1,2.3m27.7-4.8l-2.2,2.5m0,0l.9,2.5m47.2-5.2l-2.4,2.8m0,0l.8,2.8m-74.8-5l-2.2,2.3m0,0l.9,2.3m27.9-4.8l-2.2,2.5m0,0l.9,2.5m26.8-5.1l-2.3,2.6m0,0l.9,2.6m22-5.2l-2.3,2.8m0,0l.8,2.8m-75.2-5l-2.3,2.3m0,0l1,2.3m28-4.8l-2.2,2.5m0,0l.9,2.5m26.9-5.1l-2.3,2.6m0,0l.9,2.6m45.6-5.5l-2.4,3m0,0l.7,3m-46.2-5.5l-2.4,2.6m0,0l.9,2.6m26-5.4l-2.4,2.8m0,0l.9,2.8m-75.7-5l-2.2,2.3m0,0l1,2.3m28.2-4.8l-2.3,2.5m0,0l.9,2.5m48-5.2l-2.4,2.8m0,0l.8,2.8m25.1-5.8l-2.5,3m0,0l.8,3m-72.3-5.4l-2.3,2.5m0,0l.9,2.5m27.2-5.1l-2.3,2.6m0,0l.9,2.6m46.1-5.5l-2.4,3m0,0l.7,3m-21.9-5.7l-2.4,2.8m0,0l.8,2.8m-49.2-5.2l-2.3,2.5m0,0l.9,2.5m27.3-5.1l-2.3,2.6m0,0l.9,2.6m46.4-5.5l-2.5,3m0,0l.8,3m-47-5.5l-2.3,2.6m0,0l.8,2.6m26.4-5.4l-2.4,2.8m0,0l.9,2.8m-49.5-5.2l-2.3,2.5m0,0l.9,2.5m95.4-5.7l-2.5,3.2m0,0l.7,3.2m-20.9-6.1l-2.4,3m0,0l.7,3m-73.5-5.4l-2.3,2.5m0,0l.9,2.5m27.6-5.1l-2.3,2.6m0,0l.9,2.6m26.5-5.4l-2.4,2.8m0,0l.8,2.8m44.8-5.9l-2.5,3.2m0,0l.8,3.2m-45.1-5.9l-2.4,2.8m0,0l.8,2.8m25.6-5.8l-2.5,3m0,0l.8,3m-73.9-5.4l-2.3,2.5m0,0l.9,2.5m27.8-5.1l-2.4,2.6m0,0l.9,2.6m47.2-5.5l-2.4,3m0,0l.7,3m24.6-6.2l-2.4,3.2m0,0l.7,3.2m-45.4-5.9l-2.3,2.8m0,0l.8,2.8m-23.8-5.3l-2.3,2.6m0,0l.8,2.6m70.6-5.8l-2.5,3.2m0,0l.7,3.2m-21.3-6.1l-2.5,3m0,0l.8,3m-48.1-5.5l-2.3,2.6m0,0l.9,2.6m26.9-5.4l-2.4,2.8m0,0l.8,2.8m45.6-5.9l-2.5,3.2m0,0l.8,3.2m-21.5-6.1l-2.5,3m0,0l.8,3m-48.3-5.5l-2.4,2.6m0,0l.9,2.6m27.1-5.4l-2.4,2.8m0,0l.8,2.8m68-6.2l-2.5,3.4m0,0l.7,3.4m-20.4-6.5l-2.4,3.2m0,0l.7,3.2m-46.2-5.9l-2.3,2.8m0,0l.8,2.8m26.1-5.8l-2.5,3m0,0l.8,3m-48.6-5.5l-2.3,2.6m0,0l.9,2.6m94-6l-2.6,3.4m0,0l.7,3.4m-20.4-6.5l-2.5,3.2m0,0l.7,3.2m-46.4-5.9l-2.4,2.8m0,0l.9,2.8m26.2-5.8l-2.4,3m0,0l.7,3m44.2-6.3l-2.5,3.4m0,0l.7,3.4m-44.2-6.3l-2.5,3m0,0l.8,3m25.3-6.2l-2.5,3.2m0,0l.7,3.2m-46.6-5.9l-2.4,2.8m0,0l.8,2.8m69.2-6.2l-2.5,3.4m0,0l.6,3.4m-20.7-6.5l-2.4,3.2m0,0l.7,3.2m-22-6.1l-2.4,3m0,0l.7,3m66.3-6.5l-2.6,3.5m0,0l.6,3.5m-87.6-6.2l-2.3,2.8m0,0l.8,2.8m69.6-6.2l-2.6,3.4m0,0l.7,3.4m-20.8-6.5l-2.5,3.2m0,0l.7,3.2m-47.2-5.9l-2.4,2.8m0,0l.9,2.8m26.6-5.8l-2.5,3m0,0l.8,3m66.7-6.5l-2.6,3.5m0,0l.6,3.5m-19.7-6.8l-2.5,3.4m0,0l.7,3.4m-21-6.5l-2.5,3.2m0,0l.7,3.2m-47.4-5.9l-2.4,2.8m0,0l.8,2.8m26.8-5.8l-2.4,3m0,0l.7,3m67.1-6.5l-2.6,3.5m0,0l.6,3.5m-19.8-6.8l-2.5,3.4m0,0l.6,3.4m-45.2-6.3l-2.5,3m0,0l.8,3m25.8-6.2l-2.5,3.2m0,0l.8,3.2m43.4-6.6l-2.6,3.5m0,0l.6,3.5m-43-6.6l-2.5,3.2m0,0l.7,3.2m24.8-6.6l-2.5,3.4m0,0l.7,3.4m-45.5-6.3l-2.4,3m0,0l.7,3m67.9-6.5l-2.6,3.5m0,0l.6,3.5m-20.1-6.8l-2.5,3.4m0,0l.7,3.4m-21.4-6.5l-2.5,3.2m0,0l.7,3.2m64.9-6.9l-2.6,3.7m0,0l.6,3.7m-85.5-6.6l-2.5,3m0,0l.8,3m68.2-6.5l-2.5,3.5m0,0l.6,3.5m-20.2-6.8l-2.5,3.4m0,0l.6,3.4m-21.5-6.5l-2.5,3.2m0,0l.8,3.2m65.3-6.9l-2.7,3.7m0,0l.6,3.7m-86-6.6l-2.4,3m0,0l.7,3m68.6-6.5l-2.5,3.5m0,0l.6,3.5m-20.4-6.8l-2.5,3.4m0,0l.7,3.4m-21.7-6.5l-2.4,3.2m0,0l.7,3.2m65.7-6.9l-2.6,3.7m0,0l.5,3.7m-19.2-7.1l-2.5,3.5m0,0l.6,3.5m-20.5-6.8l-2.5,3.4m0,0l.7,3.4m-21.8-6.5l-2.5,3.2m0,0l.7,3.2m66.1-6.9l-2.6,3.7m0,0l.6,3.7m-19.4-7.1l-2.5,3.5m0,0l.6,3.5m40.7-7.4l-2.7,3.9m0,0l.5,3.9m-82.9-7l-2.5,3.2m0,0l.8,3.2m25.5-6.6l-2.6,3.4m0,0l.7,3.4m42.8-7.1l-2.6,3.7m0,0l.6,3.7m-19.5-7l-2.5,3.5m0,0l.6,3.5m40.9-7.4l-2.6,3.9m0,0l.5,3.9m-83.5-7l-2.4,3.2m0,0l.7,3.2m25.6-6.6l-2.5,3.4m0,0l.7,3.4m43.1-7.1l-2.7,3.7m0,0l.6,3.7m-19.6-7.1l-2.6,3.5m0,0l.7,3.5m-20.9-6.8l-2.5,3.4m0,0l.6,3.4m64-7.3l-2.7,3.9m0,0l.5,3.9m-83.9-7l-2.5,3.2m0,0l.7,3.2m67.3-6.9l-2.6,3.7m0,0l.5,3.7m-19.7-7.1l-2.6,3.5m0,0l.7,3.5m-21-6.8l-2.6,3.4m0,0l.7,3.4m64.3-7.3l-2.6,3.9m0,0l.5,3.9m-18.6-7.5l-2.6,3.7m0,0l.6,3.7m-19.9-7.1l-2.6,3.5m0,0l.7,3.5m-21.2-6.8l-2.5,3.4m0,0l.7,3.4m64.7-7.3l-2.7,3.9m0,0l.6,3.9m-18.8-7.5l-2.6,3.7m0,0l.6,3.7m-20-7.1l-2.6,3.5m0,0l.7,3.5m42-7.4l-2.7,3.9m0,0l.5,3.9m-61.1-7.2l-2.5,3.4m0,0l.6,3.4m44.2-7l-2.7,3.7m0,0l.6,3.7m-20.1-7.1l-2.6,3.5m0,0l.7,3.5m42.2-7.4l-2.7,3.9m0,0l.6,3.9m-61.6-7.2l-2.5,3.4m0,0l.7,3.4m44.4-7l-2.6,3.7m0,0l.6,3.7m-20.3-7.1l-2.6,3.5m0,0l.6,3.5m42.6-7.4l-2.7,3.9m0,0l.5,3.9m-19.1-7.5l-2.6,3.7m0,0l.6,3.7m-20.4-7.1l-2.6,3.5m0,0l.6,3.5m42.8-7.3l-2.6,3.9m0,0l.5,3.9m-19.2-7.5l-2.7,3.7m0,0l.6,3.7m-20.5-7.1l-2.6,3.5m0,0l.6,3.5m43.1-7.3l-2.7,3.9m0,0l.5,3.9m-19.3-7.5l-2.6,3.7m0,0l.5,3.7m-20.6-7.1l-2.6,3.5m0,0l.6,3.5m43.4-7.3l-2.7,3.9m0,0l.5,3.9m-19.5-7.5l-2.6,3.7m0,0l.6,3.7m-20.8-7.1l-2.6,3.5m0,0l.6,3.5m43.6-7.3l-2.7,3.9m0,0l.6,3.9m-19.7-7.5l-2.6,3.7m0,0l.6,3.7m21-7.4l-2.7,3.9m0,0l.5,3.9m-19.7-7.5l-2.7,3.7m0,0l.6,3.7m21.1-7.4l-2.6,3.9m0,0l.5,3.9m-19.9-7.5l-2.6,3.7m0,0l.5,3.7m21.3-7.4l-2.7,3.9m0,0l.5,3.9m-20-7.5l-2.6,3.7m0,0l.6,3.7m21.3-7.5l-2.6,3.9m0,0l.5,3.9m-.7-7.5l-2.7,3.9m0,0l.6,3.9m-.7-7.5l-2.7,3.9m0,0l.5,3.9m-.7-7.5l-2.7,3.9m0,0l.6,3.9m-.7-7.5l-2.7,3.9m0,0l.5,3.9" stroke="#45454f" stroke-width="1.1" fill="none"/>
<g fill="none" stroke-linecap="round">
<path d="M1746,76.6h0m-4.1,.3h0m-4.2,.2h0m-4.2,.3h0m-4.1,.3h0m-4.2,.2h0m25.7,.2h0m-4.1,.2h0m-25.7-.1h0m-4.2,.2h0m25.9,.2h0m-30,.1h0m26,.2h0m-4,.2h0m24.9,.2h0m-51.1-.3h0m-4.2,.2h0m26.3,.2h0m25.1,.2h0m-3.9,.2h0m-51.6-.3h0m26.4,.2h0m-4,.2h0m25.3,.2h0m-51.9-.3h0m-4.1,.2h0m26.6,.2h0m25.5,.2h0m-3.9,.2h0m24.5,.1h0m-76.9-.4h0m26.8,.2h0m-30.9,0h0m26.9,.2h0m25.8,.2h0m24.5,.1h0m-3.7,.2h0m-77.7-.4h0m27.1,.2h0m25.9,.2h0m-3.9,.2h0m24.8,.1h0m-78.1-.4h0m27.2,.2h0m70.9,.6h0m-102.2-.6h0m27.3,.2h0m26.2,.2h0m24.9,.1h0m-3.7,.2h0m23.9,.2h0m-102.8-.6h0m27.5,.2h0m26.3,.2h0m45.4,.4h0m-24.1-.1h0m-51.6-.2h0m26.4,.2h0m45.6,.4h0m-76.1-.4h0m26.6,.2h0m25.4,.1h0m20.5,.4h0m-76.5-.4h0m26.7,.2h0m25.5,.1h0m43.9,.5h0m-47.7-.3h0m24.5,.2h0m-76.9-.4h0m26.8,.2h0m46.4,.4h0m23.4,.2h0m-73.7-.4h0m25.8,.1h0m44.4,.5h0m-23.5-.1h0m-50.6-.2h0m25.9,.1h0m44.7,.5h0m-48.5-.3h0m24.9,.2h0m-50.9-.2h0m93.6,.7h0m-22.6-.1h0m-74.9-.4h0m26.2,.1h0m24.9,.2h0m43.1,.5h0m-46.7-.3h0m23.9,.2h0m-75.3-.4h0m26.3,.1h0m45.5,.5h0m22.9,.2h0m-46.9-.3h0m-25.3-.1h0m68.8,.6h0m-23-.1h0m-49.5-.3h0m25.3,.2h0m43.9,.5h0m-23.2-.1h0m-49.8-.3h0m25.5,.2h0m66.2,.6h0m-22.1-.1h0m-47.7-.3h0m24.4,.2h0m-50-.3h0m92.1,.8h0m-22.2-.1h0m-47.9-.3h0m24.5,.2h0m42.4,.5h0m-45.9-.3h0m23.5,.2h0m-48.2-.3h0m67.3,.6h0m-22.4-.1h0m-23.7-.1h0m64.3,.5h0m-89.1-.6h0m67.7,.6h0m-22.6-.1h0m-48.7-.3h0m24.9,.2h0m64.7,.5h0m-21.5,0h0m-22.8-.1h0m-49-.3h0m25.1,.2h0m65.1,.5h0m-21.7,0h0m-46.9-.3h0m24.1,.2h0m41.4,.4h0m-44.8-.2h0m23,.2h0m-47.2-.3h0m65.9,.5h0m-21.9,0h0m-23.2-.1h0m62.9,.5h0m-87.2-.6h0m66.3,.5h0m-22.1,0h0m-23.2-.1h0m63.2,.5h0m-87.7-.6h0m66.7,.5h0m-22.2,0h0m-23.4-.1h0m63.6,.5h0m-21.1-.1h0m-22.3,0h0m-23.6-.1h0m64.1,.5h0m-21.3-.1h0m38.5,.4h0m-84.6-.6h0m23.6,.2h0m40.8,.3h0m-21.4,0h0m38.8,.4h0m-85.2-.6h0m23.8,.2h0m41,.3h0m-21.5-.1h0m-22.8,0h0m61.8,.5h0m-85.7-.6h0m65.2,.5h0m-21.6-.1h0m-22.9,0h0m62.2,.5h0m-20.6-.1h0m-21.8-.1h0m-23,0h0m62.6,.5h0m-20.8-.1h0m-21.9-.1h0m39.8,.4h0m-63-.4h0m42.1,.4h0m-22-.1h0m40.1,.4h0m-63.4-.4h0m42.4,.4h0m-22.3-.1h0m40.4,.4h0m-21.1-.1h0m-22.4-.1h0m40.7,.5h0m-21.3-.1h0m-22.5-.1h0m40.9,.5h0m-21.4-.1h0m-22.6-.1h0m41.2,.5h0m-21.5-.1h0m-22.8-.1h0m41.5,.5h0m-21.7-.1h0m18.8,.4h0m-21.8-.1h0m19,.4h0m-22-.1h0m19.1,.4h0m-22-.1h0m19.2,.3h0m-2.8,.3h0m-2.9,.3h0m-2.8,.3h0m-2.9,.3h0" stroke="#e0a824" stroke-width="3.2"/>
<path d="M1745,74.5h0m-4.2,.3h0m-4.1,.2h0m-4.2,.3h0m-4.1,.3h0m-4.2,.2h0m25.7,0h0m-4,.2h0m-25.8,.1h0m-4.2,.2h0m25.9,0h0m-30.1,.3h0m26.1,0h0m-4,.2h0m25,0h0m-51.2,.1h0m-4.2,.2h0m26.4,0h0m25.1,0h0m-3.9,.2h0m-51.7,.1h0m26.4,0h0m-4,.2h0m25.4,0h0m-52,.1h0m-4.2,.2h0m26.8,0h0m25.5,0h0m-3.9,.2h0m24.5,0h0m-77,.1h0m26.9,0h0m-31.1,.2h0m27,0h0m25.8,0h0m24.7,0h0m-3.8,.2h0m-77.8,.1h0m27.1,0h0m25.9,0h0m-3.9,.2h0m24.9,0h0m-78.2,.1h0m27.3,0h0m71,.1h0m-102.4,.1h0m27.3,0h0m26.2,0h0m25.1,0h0m-3.8,.2h0m24,0h0m-103,.1h0m27.5,0h0m26.4,0h0m45.4,.1h0m-24.1,.1h0m-51.7,.1h0m26.5,0h0m45.7,.1h0m-76.2,.1h0m26.6,0h0m25.4,0h0m20.6,.2h0m-76.7,.1h0m26.8,0h0m25.5,0h0m44.1,.1h0m-47.9,.1h0m24.5,0h0m-77,.1h0m26.9,0h0m46.5,.1h0m23.4,0h0m-73.8,.1h0m25.8,0h0m44.6,.1h0m-23.6,.1h0m-50.7,.1h0m25.9,0h0m44.8,.1h0m-48.5,.1h0m24.8,0h0m-50.9,.1h0m93.8,0h0m-22.6,.1h0m-75.1,.1h0m26.2,0h0m25,0h0m43.1,.1h0m-46.7,.1h0m23.9,0h0m-75.4,.1h0m26.3,0h0m45.7,.1h0m22.9,0h0m-47,.1h0m-25.3,.1h0m68.9,0h0m-23.1,.1h0m-49.6,.1h0m25.4,0h0m43.9,.1h0m-23.2,.1h0m-49.9,.1h0m25.6,0h0m66.3,0h0m-22.1,.1h0m-47.8,.1h0m24.4,0h0m-50.1,.1h0m92.3,0h0m-22.2,.1h0m-48.1,.1h0m24.7,0h0m42.4,.1h0m-46,.1h0m23.6,0h0m-48.3,.1h0m67.5,0h0m-22.5,.1h0m-23.7,.1h0m64.4,0h0m-89.3,.1h0m67.8,0h0m-22.6,.1h0m-48.9,.1h0m25,0h0m64.9,0h0m-21.6,.1h0m-22.8,.1h0m-49.1,.1h0m25.2,0h0m65.2,0h0m-21.7,.1h0m-47.1,.1h0m24.1,0h0m41.6,.1h0m-44.9,.1h0m23,0h0m-47.2,.1h0m66,0h0m-22,.1h0m-23.2,.1h0m63,0h0m-87.4,.1h0m66.5,0h0m-22.1,.1h0m-23.4,.1h0m63.4,0h0m-87.8,.1h0m66.8,0h0m-22.3,.1h0m-23.4,.1h0m63.8,0h0m-21.2,.1h0m-22.4,.1h0m-23.6,.1h0m64.2,0h0m-21.3,.1h0m38.6,0h0m-84.9,.1h0m23.7,0h0m40.9,0h0m-21.4,.2h0m38.9,0h0m-85.4,.1h0m23.8,0h0m41.1,0h0m-21.6,.1h0m-22.7,.1h0m61.9,0h0m-85.9,.1h0m65.4,0h0m-21.8,.1h0m-22.9,.1h0m62.4,0h0m-20.7,.1h0m-21.9,.1h0m-23,.1h0m62.7,0h0m-20.8,.1h0m-22,.1h0m40,0h0m-63.1,.1h0m42.1,.1h0m-22.1,.1h0m40.2,0h0m-63.5,.1h0m42.5,.1h0m-22.3,.1h0m40.5,0h0m-21.2,.1h0m-22.4,.1h0m40.8,.1h0m-21.4,.1h0m-22.5,.1h0m41,.1h0m-21.4,.1h0m-22.7,.1h0m41.3,.1h0m-21.6,.1h0m-22.8,.1h0m41.5,.1h0m-21.7,.1h0m18.9,.2h0m-21.9,.1h0m19.1,.2h0m-22,.1h0m19.1,.2h0m-22.1,.1h0m19.3,.1h0m-2.9,.3h0m-2.8,.3h0m-2.9,.3h0m-2.8,.3h0" stroke="#36b236" stroke-width="2.8"/>
<path d="M1747.2,72.4h0m-4.2,.3h0m-4.1,.2h0m-4.2,.3h0m-4.2,.3h0m-4.1,.2h0m25.7-.2h0m-4,.2h0m-25.9,.3h0m-4.1,.2h0m26-.2h0m-30.2,.5h0m26.1-.2h0m-4,.2h0m25.1-.2h0m-51.3,.5h0m-4.2,.2h0m26.4-.2h0m25.2-.2h0m-3.9,.2h0m-51.9,.5h0m26.6-.2h0m-4.1,.2h0m25.5-.2h0m-52.1,.5h0m-4.2,.2h0m26.8-.2h0m25.6-.2h0m-3.9,.2h0m24.5-.1h0m-77.1,.6h0m26.9-.2h0m-31.1,.4h0m27.1-.2h0m25.8-.2h0m24.7-.1h0m-3.8,.2h0m-77.9,.6h0m27.1-.2h0m26-.2h0m-3.9,.2h0m25-.1h0m-78.4,.6h0m27.3-.2h0m71.2-.4h0m-102.7,.8h0m27.5-.2h0m26.2-.2h0m25.1-.1h0m-3.8,.2h0m24-.2h0m-103.1,.8h0m27.5-.2h0m26.4-.2h0m45.6-.2h0m-24.1,.3h0m-51.9,.4h0m26.5-.2h0m45.9-.2h0m-76.4,.6h0m26.6-.2h0m25.5-.1h0m20.6,0h0m-76.7,.6h0m26.7-.2h0m25.6-.1h0m44.2-.3h0m-47.9,.5h0m24.5-.2h0m-77.2,.6h0m27-.2h0m46.6-.2h0m23.5-.2h0m-74,.6h0m25.8-.1h0m44.7-.3h0m-23.6,.3h0m-50.8,.4h0m25.9-.1h0m45-.3h0m-48.7,.5h0m24.9-.2h0m-51,.4h0m94-.7h0m-22.7,.3h0m-75.2,.6h0m26.2-.1h0m25.1-.2h0m43.2-.3h0m-46.8,.5h0m24-.2h0m-75.6,.6h0m26.4-.1h0m45.7-.3h0m22.9-.2h0m-47.1,.5h0m-25.3,.3h0m69.1-.6h0m-23.1,.3h0m-49.8,.5h0m25.5-.2h0m44-.3h0m-23.2,.3h0m-50,.5h0m25.6-.2h0m66.4-.6h0m-22.2,.3h0m-47.9,.5h0m24.6-.2h0m-50.3,.5h0m92.6-.8h0m-22.3,.3h0m-48.2,.5h0m24.7-.2h0m42.5-.3h0m-46,.5h0m23.6-.2h0m-48.4,.5h0m67.6-.6h0m-22.6,.3h0m-23.7,.3h0m64.6-.5h0m-89.6,.8h0m68.1-.6h0m-22.7,.3h0m-49,.5h0m25.1-.2h0m65-.5h0m-21.7,.2h0m-22.8,.3h0m-49.2,.5h0m25.2-.2h0m65.4-.5h0m-21.8,.2h0m-47.1,.5h0m24.1-.2h0m41.7-.2h0m-45,.4h0m23-.2h0m-47.3,.5h0m66.2-.5h0m-22.1,.2h0m-23.2,.3h0m63.1-.5h0m-87.5,.8h0m66.5-.5h0m-22.1,.2h0m-23.4,.3h0m63.6-.5h0m-88.1,.8h0m66.9-.5h0m-22.3,.2h0m-23.5,.3h0m64-.5h0m-21.3,.3h0m-22.4,.2h0m-23.6,.3h0m64.3-.5h0m-21.4,.3h0m38.8-.4h0m-85.1,.8h0m23.8-.2h0m40.9-.3h0m-21.5,.4h0m39-.4h0m-85.6,.8h0m23.9-.2h0m41.3-.3h0m-21.7,.3h0m-22.8,.2h0m62.1-.5h0m-86.1,.8h0m65.5-.5h0m-21.8,.3h0m-22.9,.2h0m62.4-.5h0m-20.7,.3h0m-21.9,.3h0m-23.1,.2h0m62.9-.5h0m-20.9,.3h0m-22,.3h0m40.1-.4h0m-63.3,.6h0m42.3-.2h0m-22.2,.3h0m40.3-.4h0m-63.7,.6h0m42.6-.2h0m-22.3,.3h0m40.6-.4h0m-21.3,.3h0m-22.4,.3h0m40.8-.3h0m-21.3,.3h0m-22.6,.3h0m41.1-.3h0m-21.5,.3h0m-22.7,.3h0m41.4-.3h0m-21.7,.3h0m-22.8,.3h0m41.6-.3h0m-21.8,.3h0m19,0h0m-21.9,.3h0m19,0h0m-22,.3h0m19.2,0h0m-22.2,.3h0m19.3-.1h0m-2.8,.3h0m-2.8,.3h0m-2.9,.3h0m-2.8,.3h0" stroke="#e0a824" stroke-width="3.2"/>
</g>
<text x="1614.6" y="84.1" font-family="Liberation Sans, Arial, sans-serif" font-size="12" fill="#222">MoS<tspan font-size="8" dy="2.5">2</tspan></text>
<text x="1614.6" y="108.7" font-family="Liberation Sans, Arial, sans-serif" font-size="12" fill="#222">WSe<tspan font-size="8" dy="2.5">2</tspan></text>
<path d="M1734.5,240.3L1739.1,233.3H1737.2V219H1731.8V233.3H1729.9Z" fill="#1f4fe6"/>
<path d="M1709.6,192.7l2.4,2.8m0,0l-.8,2.8m-5.4-4.8l2.4,2.8m0,0l-.9,2.8m-5.3-4.8l2.3,2.8m0,0l-.8,2.8m9.8-5.7l2.4,2.9m0,0l-.8,2.9m-16.8-4.9l2.4,2.8m0,0l-.8,2.8m21.1-5.9l2.5,3.1m0,0l-.8,3.1m-13-5.9l2.4,2.9m0,0l-.8,2.9m-16.8-5l2.4,2.8m0,0l-.9,2.8m9.9-5.6l2.4,2.9m0,0l-.8,2.9m9.7-6l2.5,3.1m0,0l-.8,3.1m-28.2-5.2l2.3,2.8m0,0l-.8,2.8m32.6-6l2.4,3.2m0,0l-.7,3.2m-24.4-5.9l2.4,2.9m0,0l-.8,2.9m9.7-6l2.5,3.1m0,0l-.8,3.1m-28.3-5.4l2.4,2.8m0,0l-.8,2.8m43.9-6.2l2.5,3.4m0,0l-.7,3.4m-35.9-6l2.4,2.9m0,0l-.7,2.9m21-6.1l2.5,3.2m0,0l-.7,3.2m-13.1-6.2l2.5,3.1m0,0l-.8,3.1m-28.3-5.5l2.4,2.8m0,0l-.9,2.8m44-6l2.5,3.4m0,0l-.7,3.4m-35.9-6.1l2.4,2.9m0,0l-.8,2.9m21.1-6.1l2.5,3.2m0,0l-.7,3.2m-13.1-6.2l2.4,3.1m0,0l-.7,3.1m-28.3-5.6l2.3,2.8m0,0l-.8,2.8m55.3-6.2l2.5,3.5m0,0l-.6,3.5m-47.3-6.1l2.4,2.9m0,0l-.8,2.9m32.5-6.2l2.5,3.4m0,0l-.7,3.4m-24.5-6.4l2.4,3.1m0,0l-.7,3.1m9.6-6.3l2.5,3.2m0,0l-.7,3.2m-39.8-5.8l2.4,2.8m0,0l-.8,2.8m66.6-6.4l2.6,3.6m0,0l-.6,3.6m-13.3-6.7l2.6,3.5m0,0l-.7,3.5m-47.3-6.3l2.4,2.9m0,0l-.8,2.9m9.8-5.8l2.4,3.1m0,0l-.7,3.1m21-6.5l2.5,3.4m0,0l-.7,3.4m-51.2-6.1l2.4,2.8m0,0l-.9,2.8m36.5-6l2.5,3.2m0,0l-.7,3.2m28.4-6.5l2.6,3.6m0,0l-.6,3.6m-58.8-6.3l2.4,2.9m0,0l-.7,2.9m43.8-6.2l2.6,3.5m0,0l-.7,3.5m-62.6-6.2l2.3,2.8m0,0l-.8,2.8m25.2-5.9l2.4,3.1m0,0l-.8,3.1m21.1-6.4l2.5,3.4m0,0l-.7,3.4m28.3-7.2l2.6,3.8m0,0l-.5,3.8m-43.6-6.9l2.5,3.2m0,0l-.7,3.2m-28.4-5.7l2.4,2.9m0,0l-.8,2.9m55.2-6.5l2.6,3.6m0,0l-.6,3.6m16.8-7.4l2.7,3.9m0,0l-.5,3.9m-93.1-6.6l2.4,2.8m0,0l-.8,2.8m25.1-5.8l2.5,3.1m0,0l-.8,3.1m32.4-6.5l2.6,3.5m0,0l-.6,3.5m-24.7-6.6l2.5,3.2m0,0l-.7,3.2m9.6-6.6l2.5,3.4m0,0l-.7,3.4m28.3-7l2.7,3.8m0,0l-.6,3.8m-70.2-6.6l2.4,2.9m0,0l-.8,2.9m9.8-5.6l2.5,3.1m0,0l-.8,3.1m43.8-6.7l2.6,3.6m0,0l-.6,3.6m16.7-7.3l2.7,3.9m0,0l-.5,3.9m-55-7l2.5,3.2m0,0l-.7,3.2m20.9-6.7l2.6,3.5m0,0l-.6,3.5m-13.3-6.8l2.5,3.4m0,0l-.7,3.4m-39.8-6.2l2.4,2.9m0,0l-.8,2.9m66.6-6.5l2.6,3.8m0,0l-.5,3.8m16.6-7.9l2.8,4.1m0,0l-.5,4.1m-77.8-7l2.5,3.1m0,0l-.8,3.1m43.8-6.5l2.6,3.6m0,0l-.6,3.6m-36.1-6.6l2.5,3.2m0,0l-.7,3.2m69.8-7.4l2.8,4.2m0,0l-.5,4.2m-62.5-7.5l2.5,3.4m0,0l-.6,3.4m9.5-6.9l2.5,3.5m0,0l-.6,3.5m28.2-7.4l2.7,3.9m0,0l-.6,3.9m-70.2-6.5l2.4,3.1m0,0l-.7,3.1m55.1-6.9l2.7,3.8m0,0l-.6,3.8m16.7-7.7l2.7,4.1m0,0l-.5,4.1m-66.4-7.2l2.5,3.2m0,0l-.7,3.2m32.3-6.7l2.6,3.6m0,0l-.6,3.6m-24.7-6.9l2.5,3.4m0,0l-.6,3.4m9.5-6.9l2.5,3.5m0,0l-.6,3.5m47-7.5l2.7,4.2m0,0l-.4,4.2m-21.1-8l2.7,3.9m0,0l-.5,3.9m-70.3-6.9l2.4,3.1m0,0l-.7,3.1m9.7-5.9l2.5,3.2m0,0l-.7,3.2m43.6-7l2.7,3.8m0,0l-.6,3.8m35.5-8.2l2.8,4.4m0,0l-.4,4.4m-74-7.6l2.5,3.4m0,0l-.6,3.4m20.8-7l2.6,3.6m0,0l-.6,3.6m28.1-7.7l2.8,4.1m0,0l-.5,4.1m-43.7-7.5l2.6,3.5m0,0l-.7,3.5m65.7-7.9l2.9,4.5m0,0l-.4,4.5m-39.9-8l2.7,3.9m0,0l-.6,3.9m16.6-8.1l2.8,4.2m0,0l-.4,4.2m-77.9-7.2l2.5,3.2m0,0l-.7,3.2m43.7-6.8l2.6,3.8m0,0l-.5,3.8m-36.2-7.1l2.5,3.4m0,0l-.6,3.4m9.5-6.8l2.6,3.5m0,0l-.7,3.5m9.5-7.1l2.6,3.6m0,0l-.6,3.6m46.8-8l2.8,4.4m0,0l-.4,4.4m-21.1-8.4l2.7,4.1m0,0l-.5,4.1m24-8.2l2.8,4.5m0,0l-.3,4.5m-40-8.3l2.7,3.9m0,0l-.5,3.9m16.6-7.9l2.8,4.2m0,0l-.5,4.2m-66.5-7.5l2.6,3.4m0,0l-.7,3.4m32.2-7.1l2.7,3.8m0,0l-.6,3.8m54.2-8.4l2.9,4.6m0,0l-.4,4.6m-81.5-8l2.6,3.5m0,0l-.7,3.5m9.5-7.1l2.6,3.6m0,0l-.6,3.6m28.2-7.4l2.7,4.1m0,0l-.5,4.1m16.5-8.5l2.8,4.4m0,0l-.4,4.4m23.7-9.2l3,4.8m0,0l-.3,4.8m-104.3-7.7l2.6,3.4m0,0l-.7,3.4m43.6-7.3l2.6,3.9m0,0l-.5,3.9m35.4-8.3l2.8,4.5m0,0l-.3,4.5m-74.1-7.8l2.6,3.5m0,0l-.6,3.5m20.8-7.3l2.6,3.8m0,0l-.6,3.8m28.1-8l2.7,4.2m0,0l-.4,4.2m-43.8-7.7l2.6,3.6m0,0l-.6,3.6m65.7-8l2.9,4.6m0,0l-.4,4.6m-40-8.4l2.7,4.1m0,0l-.5,4.1m16.6-8.4l2.8,4.4m0,0l-.4,4.4m23.7-9.1l3,4.8m0,0l-.3,4.8m-58.9-8.6l2.7,3.9m0,0l-.5,3.9m-36.2-7.2l2.5,3.5m0,0l-.6,3.5m9.4-7l2.6,3.6m0,0l-.6,3.6m9.4-7.4l2.6,3.8m0,0l-.5,3.8m72.9-8.7l3,4.9m0,0l-.3,4.9m-28.8-9.3l2.8,4.5m0,0l-.3,4.5m-21.3-8.6l2.8,4.2m0,0l-.4,4.2m50-9.2l3,5.1m0,0l-.3,5.1m-66.3-8.8l2.7,4.1m0,0l-.5,4.1m35.3-8.7l2.8,4.6m0,0l-.3,4.6m-21.2-8.8l2.8,4.4m0,0l-.4,4.4m-32.5-8.2l2.6,3.9m0,0l-.5,3.9m-24.8-7.4l2.6,3.6m0,0l-.6,3.6m9.3-7.3l2.7,3.8m0,0l-.6,3.8m65.6-8.6l2.9,4.8m0,0l-.3,4.8m-40.1-8.7l2.8,4.2m0,0l-.5,4.2m16.5-8.6l2.8,4.5m0,0l-.4,4.5m23.7-9.3l3,4.9m0,0l-.3,4.9m-58.9-8.7l2.7,4.1m0,0l-.4,4.1m61.4-9.1l3,5.1m0,0l-.2,5.1m-28.9-9.6l2.8,4.6m0,0l-.3,4.6m-74.1-8.1l2.6,3.6m0,0l-.6,3.6m20.7-7.5l2.7,3.9m0,0l-.5,3.9m-13.5-7.6l2.6,3.8m0,0l-.6,3.8m39.4-8.2l2.8,4.4m0,0l-.4,4.4m49.9-9.6l3.1,5.2m0,0l-.2,5.2m-28.9-9.6l2.9,4.8m0,0l-.3,4.8m-40.1-8.9l2.7,4.2m0,0l-.4,4.2m16.5-8.5l2.8,4.5m0,0l-.4,4.5m-32.5-8.4l2.7,4.1m0,0l-.5,4.1m54-9l3,4.9m0,0l-.3,4.9m-70.3-8.6l2.7,3.9m0,0l-.5,3.9m-13.5-7.6l2.6,3.8m0,0l-.5,3.8m39.4-8l2.8,4.4m0,0l-.4,4.4m16.4-9l2.8,4.6m0,0l-.3,4.6m23.6-9.7l3,5.1m0,0l-.2,5.1m4.7-9.9l3,5.2m0,0l-.2,5.2m-66.5-9.3l2.8,4.2m0,0l-.5,4.2m35.3-8.9l2.9,4.8m0,0l-.3,4.8m-51.5-8.7l2.7,4.1m0,0l-.4,4.1m27.8-8.6l2.9,4.5m0,0l-.4,4.5m-43.9-8.2l2.7,3.9m0,0l-.5,3.9m65.5-8.6l2.9,4.9m0,0l-.2,4.9m-40.2-9.1l2.8,4.4m0,0l-.4,4.4m16.4-8.8l2.8,4.6m0,0l-.3,4.6m23.6-9.6l3,5.1m0,0l-.2,5.1m-59-9.1l2.8,4.2m0,0l-.5,4.2m-13.6-8l2.7,4.1m0,0l-.5,4.1m46.7-8.9l2.9,4.8m0,0l-.3,4.8m23.5-10l3,5.2m0,0l-.1,5.2m-89.3-9l2.7,3.9m0,0l-.5,3.9m39.3-8.4l2.9,4.5m0,0l-.4,4.5m-13.7-8.3l2.8,4.4m0,0l-.5,4.4m35.2-9.3l2.9,4.9m0,0l-.2,4.9m-21.5-9.3l2.9,4.6m0,0l-.3,4.6m-32.6-8.6l2.7,4.2m0,0l-.4,4.2m-13.7-8.1l2.8,4.1m0,0l-.5,4.1m65.4-9.2l2.9,5.1m0,0l-.2,5.1m-40.2-9.3l2.8,4.5m0,0l-.3,4.5m16.3-9.2l2.9,4.8m0,0l-.3,4.8m23.5-9.9l3.1,5.2m0,0l-.2,5.2m-59.1-9.3l2.8,4.4m0,0l-.4,4.4m-13.7-8.3l2.8,4.2m0,0l-.5,4.2m46.6-9.1l2.9,4.9m0,0l-.2,4.9m-21.5-9.4l2.9,4.6m0,0l-.3,4.6m23.7-9.2l3,5.1m0,0l-.2,5.1m-40.3-9.5l2.8,4.5m0,0l-.3,4.5m16.3-9.1l2.9,4.8m0,0l-.3,4.8m-32.7-9l2.8,4.4m0,0l-.4,4.4m53.9-9.5l3,5.2m0,0l-.2,5.2m-70.4-9.2l2.7,4.2m0,0l-.4,4.2m27.8-8.6l2.9,4.6m0,0l-.3,4.6m16.2-9.5l2.9,4.9m0,0l-.2,4.9m-32.7-8.8l2.8,4.5m0,0l-.4,4.5m35.1-9.5l3,5.1m0,0l-.2,5.1m-21.5-9.7l2.9,4.8m0,0l-.3,4.8m-32.7-9.1l2.8,4.4m0,0l-.4,4.4m53.9-9.2l3,5.2m0,0l-.1,5.2m-40.4-9.6l2.9,4.6m0,0l-.3,4.6m16.2-9.4l3,4.9m0,0l-.3,4.9m-32.7-9l2.8,4.5m0,0l-.4,4.5m16.4-8.9l2.9,4.8m0,0l-.3,4.8m16.1-9.9l3,5.1m0,0l-.2,5.1m-32.8-9.1l2.9,4.6m0,0l-.3,4.6m34.9-9.8l3.1,5.2m0,0l-.2,5.2m-21.6-9.8l3,4.9m0,0l-.3,4.9m-32.8-9.2l2.9,4.5m0,0l-.4,4.5m16.4-8.8l2.9,4.8m0,0l-.3,4.8m16.2-9.8l2.9,5.1m0,0l-.2,5.1m-32.8-9.2l2.9,4.6m0,0l-.3,4.6m35-9.6l3,5.2m0,0l-.2,5.2m-21.6-9.9l3,4.9m0,0l-.3,4.9m-13.9-9.1l2.9,4.8m0,0l-.3,4.8m16.2-9.7l3,5.1m0,0l-.2,5.1m-14.1-9.2l3,4.9m0,0l-.2,4.9m16-10.1l3,5.2m0,0l-.1,5.2m-32.9-9.3l2.9,4.8m0,0l-.3,4.8m16.2-9.6l3,5.1m0,0l-.2,5.1m-14-9.3l2.9,4.9m0,0l-.2,4.9m16-10l3.1,5.2m0,0l-.2,5.2m-14.1-9.4l3,5.1m0,0l-.2,5.1m4.8-9.4l3,5.2m0,0l-.2,5.2m-14.1-9.5l3,5.1m0,0l-.2,5.1m4.8-9.3l3,5.2m0,0l-.1,5.2" stroke="#45454f" stroke-width="1.1" fill="none"/>
<g fill="none" stroke-linecap="round">
<path d="M1711.2,198.3h0m-3.9,.8h0m-3.8,.8h0m11.4,.1h0m-15.2,.7h0m22.8,.3h0m-11.4-.1h0m-15.3,.6h0m11.5,.2h0m11.4,.2h0m-26.7,.4h0m34.3,.4h0m-22.8-.1h0m11.4,.2h0m-26.7,.2h0m45.7,.6h0m-34.2-.2h0m22.8,.3h0m-11.4,0h0m-26.8,.1h0m45.8,.8h0m-34.3-.3h0m22.9,.3h0m-11.4,0h0m-26.8,0h0m57.2,.8h0m-45.7-.3h0m34.3,.6h0m-22.8-.2h0m11.4,.1h0m-38.2-.2h0m68.6,.8h0m-11.4,.3h0m-45.7-.5h0m11.5,.4h0m22.8,.3h0m-49.7-.5h0m38.3,.4h0m30.4,.7h0m-57.1-.5h0m45.7,.8h0m-61.1-.6h0m26.8,.3h0m22.9,.4h0m30.4,.4h0m-41.8-.5h0m-26.8,.1h0m57.2,.7h0m19,.4h0m-91.5-1h0m26.8,.4h0m34.4,.5h0m-22.9-.2h0m11.4,.2h0m30.4,.6h0m-68.6-.8h0m11.5,.6h0m45.8,.5h0m18.9,.5h0m-53.2-.6h0m22.9,.3h0m-11.5,0h0m-38.2-.4h0m68.7,1.1h0m18.9,.3h0m-76.1-.8h0m45.8,.7h0m-34.3-.2h0m72.1,1h0m-60.6-.7h0m11.4,.1h0m30.3,.4h0m-68.5-.3h0m57.2,.7h0m18.9,.5h0m-64.6-.8h0m34.3,.5h0m-22.8-.1h0m11.4,.1h0m49.3,.9h0m-18.9-.2h0m-68.6-.7h0m11.5,.5h0m45.7,.6h0m37.9,.6h0m-72.1-.8h0m22.8,.2h0m30.4,.5h0m-41.8-.5h0m68.2,1.1h0m-37.8-.2h0m19,.3h0m-76.1-.8h0m45.8,.8h0m-34.3-.3h0m11.4,.2h0m11.5,.1h0m49.2,.8h0m-18.9-.2h0m26.5,.8h0m-37.8-.5h0m18.9,.5h0m-64.6-.7h0m34.3,.5h0m56.7,.8h0m-79.6-1h0m11.5,.1h0m30.4,.8h0m18.9,.3h0m26.4,.4h0m-102.4-.9h0m45.7,.5h0m37.9,.7h0m-72.1-.8h0m22.8,.3h0m30.4,.4h0m-41.8-.5h0m68.2,1.2h0m-37.8-.2h0m19,.4h0m26.4,.5h0m-56.7-.8h0m-34.3-.2h0m11.4,.2h0m11.5,.2h0m75.6,1.1h0m-26.3-.3h0m-18.9-.2h0m52.7,1h0m-64.1-.6h0m37.8,.5h0m-18.8,0h0m-30.4-.4h0m-22.8-.2h0m11.4,.3h0m68.2,1h0m-37.8-.3h0m18.9,.4h0m26.4,.5h0m-56.6-.5h0m64.2,1.1h0m-26.4-.4h0m-72.1-.9h0m22.9,.3h0m-11.5,0h0m41.8,.6h0m52.8,.8h0m-26.3,0h0m-37.8-.5h0m18.9,.5h0m-30.3-.2h0m56.7,.8h0m-68.1-.8h0m-11.4,0h0m41.8,.8h0m18.9,.2h0m26.4,.5h0m7.5,.5h0m-64.2-.9h0m37.9,.7h0m-49.2-.5h0m30.3,.4h0m-41.7-.4h0m68.2,1.2h0m-37.8-.3h0m18.9,.4h0m26.4,.6h0m-56.7-.7h0m-11.4,.2h0m49.3,.7h0m26.4,.4h0m-87.1-1.2h0m41.8,.6h0m-11.4,.5h0m37.9,.5h0m-18.9-.1h0m-30.3-.2h0m-11.4,.1h0m68.1,1h0m-37.7-.3h0m18.9,.4h0m26.4,.5h0m-56.7-.5h0m-11.4,.1h0m49.3,.7h0m-18.9-.2h0m26.5,1h0m-37.8-.5h0m18.9,.5h0m-30.3-.2h0m56.7,.9h0m-68.1-.8h0m30.4,.6h0m18.9,.3h0m-30.3,.2h0m37.9,.7h0m-18.9-.1h0m-30.3-.3h0m56.8,1.2h0m-37.8-.4h0m18.9,.4h0m-30.3,0h0m19,.7h0m18.9,.3h0m-30.2,.1h0m37.8,.6h0m-18.9,0h0m-30.3-.2h0m19,.8h0m18.9,.4h0m-30.2,0h0m37.8,.8h0m-18.9-.1h0m-11.3,.5h0m19,.5h0m-11.3,.6h0m18.9,.3h0m-30.3,.3h0m19,.6h0m-11.3,.5h0m18.9,.4h0m-11.3,.8h0m7.6,1h0m-11.3,.7h0m7.7,1.1h0" stroke="#bf7fd8" stroke-width="2.7"/>
<path d="M1712,195.5h0m-3.8,.8h0m-3.9,.8h0m11.4,0h0m-15.2,.8h0m22.8,0h0m-11.4,.1h0m-15.2,.7h0m11.4,.1h0m11.4,0h0m-26.7,.7h0m34.2,0h0m-22.7,.2h0m11.4,0h0m-26.7,.5h0m45.6,0h0m-34.2,.3h0m22.8,0h0m-11.3,.1h0m-26.7,.4h0m45.6,.2h0m-34.2,.2h0m22.8,0h0m-11.4,.1h0m-26.7,.3h0m57,.1h0m-45.5,.3h0m34.2,.1h0m-22.8,.1h0m11.4,0h0m-38.1,.2h0m68.4,0h0m-11.3,.4h0m-45.6,.1h0m11.4,.2h0m22.8,0h0m-49.5,.1h0m38.1,0h0m30.3,.3h0m-57,.2h0m45.7,.2h0m-61,.1h0m26.8,0h0m22.8,.1h0m30.2,0h0m-41.6,.1h0m-26.7,.4h0m57,0h0m18.9,.1h0m-91.2,.1h0m26.8,.1h0m34.2,.1h0m-22.8,.1h0m11.4,0h0m30.3,.2h0m-68.4,.1h0m11.5,.4h0m45.6,0h0m18.8,.2h0m-53,.1h0m22.8,0h0m-11.4,.1h0m-38.1,.1h0m68.4,.2h0m18.9,0h0m-75.8,.2h0m45.6,.2h0m-34.2,.2h0m71.9,0h0m-60.5,.1h0m11.4,0h0m30.3,0h0m-68.4,.5h0m57.1,0h0m18.8,.2h0m-64.4,.1h0m34.2,.1h0m-22.8,.1h0m11.4,0h0m49.1,.2h0m-18.8,.1h0m-68.4,.1h0m11.5,.4h0m45.6,0h0m37.7,0h0m-71.9,.2h0m22.8,0h0m30.3,0h0m-41.6,.1h0m67.9,.1h0m-37.6,.4h0m18.8,0h0m-75.8,.2h0m45.6,.2h0m-34.2,.1h0m11.5,.1h0m11.4,0h0m49,0h0m-18.8,.1h0m26.3,.4h0m-37.6,.1h0m18.9,.2h0m-64.4,.1h0m34.2,.1h0m56.5,0h0m-79.3,.1h0m11.4,0h0m30.3,.3h0m18.8,0h0m26.3,0h0m-102,.5h0m45.5,0h0m37.7,.1h0m-71.8,.2h0m22.8,0h0m30.2,0h0m-41.6,.1h0m68,.2h0m-37.7,.3h0m18.9,.1h0m26.3,.1h0m-56.5,.1h0m-34.2,.2h0m11.4,.1h0m11.4,0h0m75.4,0h0m-26.3,.1h0m-18.8,.1h0m52.6,.1h0m-63.9,.4h0m37.6,0h0m-18.7,.2h0m-30.3,.1h0m-22.7,.1h0m11.4,.1h0m67.9,0h0m-37.6,.3h0m18.8,.1h0m26.3,.1h0m-56.5,.3h0m64,.1h0m-26.3,.1h0m-71.8,.1h0m22.8,0h0m-11.4,.1h0m41.6,0h0m52.6,0h0m-26.2,.4h0m-37.7,.1h0m18.9,.2h0m-30.2,.2h0m56.5,0h0m-67.9,.2h0m-11.4,.1h0m41.7,.2h0m18.8,0h0m26.3,0h0m7.5,.4h0m-63.9,.1h0m37.7,.1h0m-49.1,.2h0m30.3,0h0m-41.6,.2h0m67.9,.2h0m-37.6,.2h0m18.8,.2h0m26.3,.1h0m-56.4,.2h0m-11.4,.3h0m49.1,0h0m26.2,0h0m-86.7,.1h0m41.7,0h0m-11.3,.6h0m37.6,0h0m-18.8,.2h0m-30.2,.2h0m-11.3,.2h0m67.8,0h0m-37.6,.3h0m18.9,.1h0m26.3,.1h0m-56.5,.3h0m-11.3,.3h0m49,0h0m-18.8,.1h0m26.4,.5h0m-37.7,.1h0m18.9,.2h0m-30.2,.2h0m56.5,.1h0m-67.9,.2h0m30.3,.2h0m18.8,0h0m-30.1,.6h0m37.7,.1h0m-18.8,.2h0m-30.2,.1h0m56.5,.4h0m-37.6,.2h0m18.9,.1h0m-30.2,.4h0m18.9,.4h0m18.8,0h0m-30.1,.6h0m37.7,0h0m-18.8,.3h0m-30.2,.2h0m18.9,.5h0m18.8,.1h0m-30.1,.5h0m37.7,.2h0m-18.8,.2h0m-11.3,.6h0m18.9,.2h0m-11.3,.8h0m18.8,0h0m-30.1,.7h0m18.9,.3h0m-11.3,.7h0m18.9,.1h0m-11.3,.9h0m7.6,.9h0m-11.3,.8h0m7.6,1h0" stroke="#3a9fe4" stroke-width="3.0"/>
<path d="M1709.6,192.7h0m-3.8,.8h0m-3.8,.8h0m11.3-.1h0m-15.2,.9h0m22.7-.3h0m-11.3,.3h0m-15.2,.8h0m11.4,0h0m11.3-.2h0m-26.5,1h0m34.1-.4h0m-22.7,.5h0m11.3-.2h0m-26.6,.8h0m45.5-.6h0m-34.1,.8h0m22.7-.3h0m-11.3,.2h0m-26.6,.7h0m45.5-.4h0m-34.1,.7h0m22.7-.3h0m-11.3,.2h0m-26.6,.6h0m56.8-.6h0m-45.4,.9h0m34.1-.4h0m-22.7,.4h0m11.3-.1h0m-38,.6h0m68.2-.8h0m-11.3,.5h0m-45.4,.7h0m11.4,0h0m22.7-.3h0m-49.4,.7h0m38-.4h0m30.2-.1h0m-56.8,.9h0m45.5-.4h0m-60.7,.8h0m26.7-.3h0m22.7-.2h0m30.1-.4h0m-41.5,.7h0m-26.6,.7h0m56.8-.7h0m18.8-.2h0m-90.9,1.2h0m26.7-.2h0m34.1-.3h0m-22.7,.4h0m11.4-.2h0m30.1-.2h0m-68.1,1h0m11.4,.2h0m45.5-.5h0m18.7-.1h0m-52.8,.8h0m22.7-.3h0m-11.3,.2h0m-38,.6h0m68.2-.7h0m18.7-.3h0m-75.5,1.2h0m45.5-.3h0m-34.1,.6h0m71.6-1h0m-60.2,.9h0m11.4-.1h0m30.1-.4h0m-68.1,1.3h0m56.8-.7h0m18.8-.1h0m-64.2,1h0m34.1-.3h0m-22.7,.3h0m11.4-.1h0m48.9-.5h0m-18.8,.4h0m-68.1,.9h0m11.4,.3h0m45.4-.6h0m37.6-.6h0m-71.6,1.2h0m22.7-.2h0m30.1-.5h0m-41.4,.7h0m67.6-.9h0m-37.4,1h0m18.7-.3h0m-75.5,1.2h0m45.5-.4h0m-34.1,.5h0m11.4,0h0m11.4-.1h0m48.8-.8h0m-18.7,.4h0m26.2,0h0m-37.5,.7h0m18.8-.1h0m-64.2,.9h0m34.1-.3h0m56.3-.8h0m-79,1.2h0m11.4-.1h0m30.2-.2h0m18.7-.3h0m26.1-.4h0m-101.6,1.9h0m45.5-.5h0m37.5-.5h0m-71.6,1.2h0m22.8-.3h0m30.1-.4h0m-41.5,.7h0m67.7-.8h0m-37.5,.8h0m18.8-.2h0m26.1-.3h0m-56.2,1h0m-34,.6h0m11.3,0h0m11.4-.2h0m75-1.1h0m-26.1,.5h0m-18.8,.4h0m52.4-.8h0m-63.6,1.4h0m37.5-.5h0m-18.7,.4h0m-30.1,.6h0m-22.7,.4h0m11.3-.1h0m67.7-1h0m-37.5,.9h0m18.8-.2h0m26.1-.3h0m-56.2,1.1h0m63.7-.9h0m-26.1,.6h0m-71.6,1.1h0m22.7-.3h0m-11.3,.2h0m41.4-.6h0m52.3-.8h0m-26,.8h0m-37.5,.7h0m18.8-.1h0m-30.1,.6h0m56.2-.8h0m-67.6,1.2h0m-11.3,.2h0m41.5-.4h0m18.8-.2h0m26.1-.5h0m7.5,.3h0m-63.7,1.1h0m37.6-.5h0m-48.9,.9h0m30.1-.4h0m-41.4,.8h0m67.7-.8h0m-37.5,.7h0m18.8,0h0m26.1-.4h0m-56.2,1.1h0m-11.3,.4h0m48.9-.7h0m26.1-.4h0m-86.4,1.4h0m41.5-.6h0m-11.2,.7h0m37.5-.5h0m-18.8,.5h0m-30,.6h0m-11.4,.3h0m67.7-1h0m-37.5,.9h0m18.8-.2h0m26.1-.3h0m-56.2,1.1h0m-11.3,.5h0m48.9-.7h0m-18.8,.4h0m26.3,0h0m-37.5,.7h0m18.8-.1h0m-30.1,.6h0m56.3-.7h0m-67.6,1.2h0m30.1-.2h0m18.8-.3h0m-30,1h0m37.5-.5h0m-18.7,.5h0m-30.1,.5h0m56.3-.4h0m-37.5,.8h0m18.8-.2h0m-30,.8h0m18.8,.1h0m18.7-.3h0m-30,1.1h0m37.5-.6h0m-18.7,.6h0m-30.1,.6h0m18.9,.2h0m18.8-.2h0m-30.1,1h0m37.6-.4h0m-18.8,.5h0m-11.2,.7h0m18.8-.1h0m-11.3,1h0m18.8-.3h0m-30,1.1h0m18.8,0h0m-11.2,.9h0m18.7-.2h0m-11.2,1h0m7.6,.8h0m-11.3,.9h0m7.6,.9h0" stroke="#bf7fd8" stroke-width="2.7"/>
</g>
<path d="M1734.5,148.8L1739.1,155.8H1737.2V181H1731.8V155.8H1729.9Z" fill="#1f4fe6"/>
<path d="M1747.2,173.4l-2.2,2.1m0,0l1,2.1m-3-3.9l-2.2,2.1m0,0l1.1,2.1m-3-4l-2.2,2.1m0,0l1,2.1m-3-3.9l-2.2,2.1m0,0l1,2.1m-3-3.9l-2.1,2.1m0,0l1,2.1m-3-4l-2.2,2.1m0,0l1,2.1m26.9-4.4l-2.2,2.3m0,0l1,2.3m-2.8-4.4l-2.2,2.3m0,0l.9,2.3m-24.6-4.3l-2.1,2.1m0,0l1,2.1m-3-4l-2.2,2.1m0,0l1,2.1m27.2-4.4l-2.3,2.3m0,0l1,2.3m-28.9-4.1l-2.2,2.1m0,0l1.1,2.1m27.2-4.4l-2.2,2.3m0,0l1,2.3m-2.8-4.4l-2.2,2.3m0,0l1,2.3m26.3-4.8l-2.3,2.5m0,0l.9,2.5m-49.9-4.5l-2.2,2.1m0,0l1,2.1m-3-4l-2.2,2.1m0,0l1,2.1m27.6-4.4l-2.2,2.3m0,0l.9,2.3m26.5-4.8l-2.3,2.5m0,0l.9,2.5m-2.5-4.8l-2.3,2.5m0,0l.9,2.5m-50.5-4.5l-2.1,2.1m0,0l1,2.1m27.7-4.4l-2.3,2.3m0,0l1,2.3m-2.8-4.4l-2.2,2.3m0,0l1,2.3m26.7-4.8l-2.3,2.5m0,0l.9,2.5m-50.7-4.5l-2.2,2.1m0,0l1,2.1m-3-4l-2.2,2.1m0,0l1.1,2.1m27.9-4.4l-2.2,2.3m0,0l.9,2.3m26.9-4.8l-2.3,2.5m0,0l.9,2.5m-2.5-4.8l-2.3,2.5m0,0l.9,2.5m25.9-5.1l-2.3,2.6m0,0l.9,2.6m-75.7-4.6l-2.2,2.1m0,0l1,2.1m28.1-4.4l-2.2,2.3m0,0l.9,2.3m-29.8-4.2l-2.2,2.1m0,0l1.1,2.1m28.2-4.4l-2.3,2.3m0,0l1,2.3m27.1-4.8l-2.3,2.5m0,0l1,2.5m26-5.1l-2.3,2.6m0,0l.8,2.6m-2.3-5l-2.3,2.6m0,0l.9,2.6m-76.5-4.6l-2.2,2.1m0,0l1,2.1m28.3-4.4l-2.2,2.3m0,0l1,2.3m27.2-4.8l-2.3,2.5m0,0l1,2.5m-2.6-4.8l-2.3,2.5m0,0l1,2.5m26.3-5.1l-2.4,2.6m0,0l.9,2.6m-76.9-4.6l-2.2,2.1m0,0l1,2.1m28.5-4.4l-2.2,2.3m0,0l.9,2.3m72.5-5l-2.4,2.8m0,0l.8,2.8m-101.1-4.8l-2.1,2.1m0,0l1,2.1m28.6-4.4l-2.3,2.3m0,0l1,2.3m27.5-4.8l-2.3,2.5m0,0l1,2.5m26.4-5.1l-2.3,2.6m0,0l.8,2.6m-2.3-5l-2.3,2.6m0,0l.9,2.6m25.4-5.4l-2.3,2.8m0,0l.8,2.8m-101.6-4.8l-2.2,2.1m0,0l1,2.1m28.7-4.4l-2.2,2.3m0,0l1,2.3m27.6-4.8l-2.2,2.5m0,0l.9,2.5m46.9-5.2l-2.4,2.8m0,0l.9,2.8m-22.6-5.3l-2.4,2.6m0,0l.9,2.6m-50.4-4.8l-2.2,2.3m0,0l1,2.3m27.7-4.8l-2.2,2.5m0,0l.9,2.5m47.2-5.2l-2.4,2.8m0,0l.8,2.8m-74.8-5l-2.2,2.3m0,0l.9,2.3m27.9-4.8l-2.2,2.5m0,0l.9,2.5m26.8-5.1l-2.3,2.6m0,0l.9,2.6m22-5.2l-2.3,2.8m0,0l.8,2.8m-75.2-5l-2.3,2.3m0,0l1,2.3m28-4.8l-2.2,2.5m0,0l.9,2.5m26.9-5.1l-2.3,2.6m0,0l.9,2.6m45.6-5.5l-2.4,3m0,0l.7,3m-46.2-5.5l-2.4,2.6m0,0l.9,2.6m26-5.4l-2.4,2.8m0,0l.9,2.8m-75.7-5l-2.2,2.3m0,0l1,2.3m28.2-4.8l-2.3,2.5m0,0l.9,2.5m48-5.2l-2.4,2.8m0,0l.8,2.8m25.1-5.8l-2.5,3m0,0l.8,3m-72.3-5.4l-2.3,2.5m0,0l.9,2.5m27.2-5.1l-2.3,2.6m0,0l.9,2.6m46.1-5.5l-2.4,3m0,0l.7,3m-21.9-5.7l-2.4,2.8m0,0l.8,2.8m-49.2-5.2l-2.3,2.5m0,0l.9,2.5m27.3-5.1l-2.3,2.6m0,0l.9,2.6m46.4-5.5l-2.5,3m0,0l.8,3m-47-5.5l-2.3,2.6m0,0l.8,2.6m26.4-5.4l-2.4,2.8m0,0l.9,2.8m-49.5-5.2l-2.3,2.5m0,0l.9,2.5m95.4-5.7l-2.5,3.2m0,0l.7,3.2m-20.9-6.1l-2.4,3m0,0l.7,3m-73.5-5.4l-2.3,2.5m0,0l.9,2.5m27.6-5.1l-2.3,2.6m0,0l.9,2.6m26.5-5.4l-2.4,2.8m0,0l.8,2.8m44.8-5.9l-2.5,3.2m0,0l.8,3.2m-45.1-5.9l-2.4,2.8m0,0l.8,2.8m25.6-5.8l-2.5,3m0,0l.8,3m-73.9-5.4l-2.3,2.5m0,0l.9,2.5m27.8-5.1l-2.4,2.6m0,0l.9,2.6m47.2-5.5l-2.4,3m0,0l.7,3m24.6-6.2l-2.4,3.2m0,0l.7,3.2m-45.4-5.9l-2.3,2.8m0,0l.8,2.8m-23.8-5.3l-2.3,2.6m0,0l.8,2.6m70.6-5.8l-2.5,3.2m0,0l.7,3.2m-21.3-6.1l-2.5,3m0,0l.8,3m-48.1-5.5l-2.3,2.6m0,0l.9,2.6m26.9-5.4l-2.4,2.8m0,0l.8,2.8m45.6-5.9l-2.5,3.2m0,0l.8,3.2m-21.5-6.1l-2.5,3m0,0l.8,3m-48.3-5.5l-2.4,2.6m0,0l.9,2.6m27.1-5.4l-2.4,2.8m0,0l.8,2.8m68-6.2l-2.5,3.4m0,0l.7,3.4m-20.4-6.5l-2.4,3.2m0,0l.7,3.2m-46.2-5.9l-2.3,2.8m0,0l.8,2.8m26.1-5.8l-2.5,3m0,0l.8,3m-48.6-5.5l-2.3,2.6m0,0l.9,2.6m94-6l-2.6,3.4m0,0l.7,3.4m-20.4-6.5l-2.5,3.2m0,0l.7,3.2m-46.4-5.9l-2.4,2.8m0,0l.9,2.8m26.2-5.8l-2.4,3m0,0l.7,3m44.2-6.3l-2.5,3.4m0,0l.7,3.4m-44.2-6.3l-2.5,3m0,0l.8,3m25.3-6.2l-2.5,3.2m0,0l.7,3.2m-46.6-5.9l-2.4,2.8m0,0l.8,2.8m69.2-6.2l-2.5,3.4m0,0l.6,3.4m-20.7-6.5l-2.4,3.2m0,0l.7,3.2m-22-6.1l-2.4,3m0,0l.7,3m66.3-6.5l-2.6,3.5m0,0l.6,3.5m-87.6-6.2l-2.3,2.8m0,0l.8,2.8m69.6-6.2l-2.6,3.4m0,0l.7,3.4m-20.8-6.5l-2.5,3.2m0,0l.7,3.2m-47.2-5.9l-2.4,2.8m0,0l.9,2.8m26.6-5.8l-2.5,3m0,0l.8,3m66.7-6.5l-2.6,3.5m0,0l.6,3.5m-19.7-6.8l-2.5,3.4m0,0l.7,3.4m-21-6.5l-2.5,3.2m0,0l.7,3.2m-47.4-5.9l-2.4,2.8m0,0l.8,2.8m26.8-5.8l-2.4,3m0,0l.7,3m67.1-6.5l-2.6,3.5m0,0l.6,3.5m-19.8-6.8l-2.5,3.4m0,0l.6,3.4m-45.2-6.3l-2.5,3m0,0l.8,3m25.8-6.2l-2.5,3.2m0,0l.8,3.2m43.4-6.6l-2.6,3.5m0,0l.6,3.5m-43-6.6l-2.5,3.2m0,0l.7,3.2m24.8-6.6l-2.5,3.4m0,0l.7,3.4m-45.5-6.3l-2.4,3m0,0l.7,3m67.9-6.5l-2.6,3.5m0,0l.6,3.5m-20.1-6.8l-2.5,3.4m0,0l.7,3.4m-21.4-6.5l-2.5,3.2m0,0l.7,3.2m64.9-6.9l-2.6,3.7m0,0l.6,3.7m-85.5-6.6l-2.5,3m0,0l.8,3m68.2-6.5l-2.5,3.5m0,0l.6,3.5m-20.2-6.8l-2.5,3.4m0,0l.6,3.4m-21.5-6.5l-2.5,3.2m0,0l.8,3.2m65.3-6.9l-2.7,3.7m0,0l.6,3.7m-86-6.6l-2.4,3m0,0l.7,3m68.6-6.5l-2.5,3.5m0,0l.6,3.5m-20.4-6.8l-2.5,3.4m0,0l.7,3.4m-21.7-6.5l-2.4,3.2m0,0l.7,3.2m65.7-6.9l-2.6,3.7m0,0l.5,3.7m-19.2-7.1l-2.5,3.5m0,0l.6,3.5m-20.5-6.8l-2.5,3.4m0,0l.7,3.4m-21.8-6.5l-2.5,3.2m0,0l.7,3.2m66.1-6.9l-2.6,3.7m0,0l.6,3.7m-19.4-7.1l-2.5,3.5m0,0l.6,3.5m40.7-7.4l-2.7,3.9m0,0l.5,3.9m-82.9-7l-2.5,3.2m0,0l.8,3.2m25.5-6.6l-2.6,3.4m0,0l.7,3.4m42.8-7.1l-2.6,3.7m0,0l.6,3.7m-19.5-7l-2.5,3.5m0,0l.6,3.5m40.9-7.4l-2.6,3.9m0,0l.5,3.9m-83.5-7l-2.4,3.2m0,0l.7,3.2m25.6-6.6l-2.5,3.4m0,0l.7,3.4m43.1-7.1l-2.7,3.7m0,0l.6,3.7m-19.6-7.1l-2.6,3.5m0,0l.7,3.5m-20.9-6.8l-2.5,3.4m0,0l.6,3.4m64-7.3l-2.7,3.9m0,0l.5,3.9m-83.9-7l-2.5,3.2m0,0l.7,3.2m67.3-6.9l-2.6,3.7m0,0l.5,3.7m-19.7-7.1l-2.6,3.5m0,0l.7,3.5m-21-6.8l-2.6,3.4m0,0l.7,3.4m64.3-7.3l-2.6,3.9m0,0l.5,3.9m-18.6-7.5l-2.6,3.7m0,0l.6,3.7m-19.9-7.1l-2.6,3.5m0,0l.7,3.5m-21.2-6.8l-2.5,3.4m0,0l.7,3.4m64.7-7.3l-2.7,3.9m0,0l.6,3.9m-18.8-7.5l-2.6,3.7m0,0l.6,3.7m-20-7.1l-2.6,3.5m0,0l.7,3.5m42-7.4l-2.7,3.9m0,0l.5,3.9m-61.1-7.2l-2.5,3.4m0,0l.6,3.4m44.2-7l-2.7,3.7m0,0l.6,3.7m-20.1-7.1l-2.6,3.5m0,0l.7,3.5m42.2-7.4l-2.7,3.9m0,0l.6,3.9m-61.6-7.2l-2.5,3.4m0,0l.7,3.4m44.4-7l-2.6,3.7m0,0l.6,3.7m-20.3-7.1l-2.6,3.5m0,0l.6,3.5m42.6-7.4l-2.7,3.9m0,0l.5,3.9m-19.1-7.5l-2.6,3.7m0,0l.6,3.7m-20.4-7.1l-2.6,3.5m0,0l.6,3.5m42.8-7.3l-2.6,3.9m0,0l.5,3.9m-19.2-7.5l-2.7,3.7m0,0l.6,3.7m-20.5-7.1l-2.6,3.5m0,0l.6,3.5m43.1-7.3l-2.7,3.9m0,0l.5,3.9m-19.3-7.5l-2.6,3.7m0,0l.5,3.7m-20.6-7.1l-2.6,3.5m0,0l.6,3.5m43.4-7.3l-2.7,3.9m0,0l.5,3.9m-19.5-7.5l-2.6,3.7m0,0l.6,3.7m-20.8-7.1l-2.6,3.5m0,0l.6,3.5m43.6-7.3l-2.7,3.9m0,0l.6,3.9m-19.7-7.5l-2.6,3.7m0,0l.6,3.7m21-7.4l-2.7,3.9m0,0l.5,3.9m-19.7-7.5l-2.7,3.7m0,0l.6,3.7m21.1-7.4l-2.6,3.9m0,0l.5,3.9m-19.9-7.5l-2.6,3.7m0,0l.5,3.7m21.3-7.4l-2.7,3.9m0,0l.5,3.9m-20-7.5l-2.6,3.7m0,0l.6,3.7m21.3-7.5l-2.6,3.9m0,0l.5,3.9m-.7-7.5l-2.7,3.9m0,0l.6,3.9m-.7-7.5l-2.7,3.9m0,0l.5,3.9m-.7-7.5l-2.7,3.9m0,0l.6,3.9m-.7-7.5l-2.7,3.9m0,0l.5,3.9" stroke="#45454f" stroke-width="1.1" fill="none"/>
<g fill="none" stroke-linecap="round">
<path d="M1746,177.6h0m-4.1,.3h0m-4.2,.2h0m-4.2,.3h0m-4.1,.3h0m-4.2,.2h0m25.7,.2h0m-4.1,.2h0m-25.7-.1h0m-4.2,.2h0m25.9,.2h0m-30,.1h0m26,.2h0m-4,.2h0m24.9,.2h0m-51.1-.3h0m-4.2,.2h0m26.3,.2h0m25.1,.2h0m-3.9,.2h0m-51.6-.3h0m26.4,.2h0m-4,.2h0m25.3,.2h0m-51.9-.3h0m-4.1,.2h0m26.6,.2h0m25.5,.2h0m-3.9,.2h0m24.5,.1h0m-76.9-.4h0m26.8,.2h0m-30.9,0h0m26.9,.2h0m25.8,.2h0m24.5,.1h0m-3.7,.2h0m-77.7-.4h0m27.1,.2h0m25.9,.2h0m-3.9,.2h0m24.8,.1h0m-78.1-.4h0m27.2,.2h0m70.9,.6h0m-102.2-.6h0m27.3,.2h0m26.2,.2h0m24.9,.1h0m-3.7,.2h0m23.9,.2h0m-102.8-.6h0m27.5,.2h0m26.3,.2h0m45.4,.4h0m-24.1-.1h0m-51.6-.2h0m26.4,.2h0m45.6,.4h0m-76.1-.4h0m26.6,.2h0m25.4,.1h0m20.5,.4h0m-76.5-.4h0m26.7,.2h0m25.5,.1h0m43.9,.5h0m-47.7-.3h0m24.5,.2h0m-76.9-.4h0m26.8,.2h0m46.4,.4h0m23.4,.2h0m-73.7-.4h0m25.8,.1h0m44.4,.5h0m-23.5-.1h0m-50.6-.2h0m25.9,.1h0m44.7,.5h0m-48.5-.3h0m24.9,.2h0m-50.9-.2h0m93.6,.7h0m-22.6-.1h0m-74.9-.4h0m26.2,.1h0m24.9,.2h0m43.1,.5h0m-46.7-.3h0m23.9,.2h0m-75.3-.4h0m26.3,.1h0m45.5,.5h0m22.9,.2h0m-46.9-.3h0m-25.3-.1h0m68.8,.6h0m-23-.1h0m-49.5-.3h0m25.3,.2h0m43.9,.5h0m-23.2-.1h0m-49.8-.3h0m25.5,.2h0m66.2,.6h0m-22.1-.1h0m-47.7-.3h0m24.4,.2h0m-50-.3h0m92.1,.8h0m-22.2-.1h0m-47.9-.3h0m24.5,.2h0m42.4,.5h0m-45.9-.3h0m23.5,.2h0m-48.2-.3h0m67.3,.6h0m-22.4-.1h0m-23.7-.1h0m64.3,.5h0m-89.1-.6h0m67.7,.6h0m-22.6-.1h0m-48.7-.3h0m24.9,.2h0m64.7,.5h0m-21.5,0h0m-22.8-.1h0m-49-.3h0m25.1,.2h0m65.1,.5h0m-21.7,0h0m-46.9-.3h0m24.1,.2h0m41.4,.4h0m-44.8-.2h0m23,.2h0m-47.2-.3h0m65.9,.5h0m-21.9,0h0m-23.2-.1h0m62.9,.5h0m-87.2-.6h0m66.3,.5h0m-22.1,0h0m-23.2-.1h0m63.2,.5h0m-87.7-.6h0m66.7,.5h0m-22.2,0h0m-23.4-.1h0m63.6,.5h0m-21.1-.1h0m-22.3,0h0m-23.6-.1h0m64.1,.5h0m-21.3-.1h0m38.5,.4h0m-84.6-.6h0m23.6,.2h0m40.8,.3h0m-21.4,0h0m38.8,.4h0m-85.2-.6h0m23.8,.2h0m41,.3h0m-21.5-.1h0m-22.8,0h0m61.8,.5h0m-85.7-.6h0m65.2,.5h0m-21.6-.1h0m-22.9,0h0m62.2,.5h0m-20.6-.1h0m-21.8-.1h0m-23,0h0m62.6,.5h0m-20.8-.1h0m-21.9-.1h0m39.8,.4h0m-63-.4h0m42.1,.4h0m-22-.1h0m40.1,.4h0m-63.4-.4h0m42.4,.4h0m-22.3-.1h0m40.4,.4h0m-21.1-.1h0m-22.4-.1h0m40.7,.5h0m-21.3-.1h0m-22.5-.1h0m40.9,.5h0m-21.4-.1h0m-22.6-.1h0m41.2,.5h0m-21.5-.1h0m-22.8-.1h0m41.5,.5h0m-21.7-.1h0m18.8,.4h0m-21.8-.1h0m19,.4h0m-22-.1h0m19.1,.4h0m-22-.1h0m19.2,.3h0m-2.8,.3h0m-2.9,.3h0m-2.8,.3h0m-2.9,.3h0" stroke="#bf7fd8" stroke-width="3.2"/>
<path d="M1745,175.5h0m-4.2,.3h0m-4.1,.2h0m-4.2,.3h0m-4.1,.3h0m-4.2,.2h0m25.7,0h0m-4,.2h0m-25.8,.1h0m-4.2,.2h0m25.9,0h0m-30.1,.3h0m26.1,0h0m-4,.2h0m25,0h0m-51.2,.1h0m-4.2,.2h0m26.4,0h0m25.1,0h0m-3.9,.2h0m-51.7,.1h0m26.4,0h0m-4,.2h0m25.4,0h0m-52,.1h0m-4.2,.2h0m26.8,0h0m25.5,0h0m-3.9,.2h0m24.5,0h0m-77,.1h0m26.9,0h0m-31.1,.2h0m27,0h0m25.8,0h0m24.7,0h0m-3.8,.2h0m-77.8,.1h0m27.1,0h0m25.9,0h0m-3.9,.2h0m24.9,0h0m-78.2,.1h0m27.3,0h0m71,.1h0m-102.4,.1h0m27.3,0h0m26.2,0h0m25.1,0h0m-3.8,.2h0m24,0h0m-103,.1h0m27.5,0h0m26.4,0h0m45.4,.1h0m-24.1,.1h0m-51.7,.1h0m26.5,0h0m45.7,.1h0m-76.2,.1h0m26.6,0h0m25.4,0h0m20.6,.2h0m-76.7,.1h0m26.8,0h0m25.5,0h0m44.1,.1h0m-47.9,.1h0m24.5,0h0m-77,.1h0m26.9,0h0m46.5,.1h0m23.4,0h0m-73.8,.1h0m25.8,0h0m44.6,.1h0m-23.6,.1h0m-50.7,.1h0m25.9,0h0m44.8,.1h0m-48.5,.1h0m24.8,0h0m-50.9,.1h0m93.8,0h0m-22.6,.1h0m-75.1,.1h0m26.2,0h0m25,0h0m43.1,.1h0m-46.7,.1h0m23.9,0h0m-75.4,.1h0m26.3,0h0m45.7,.1h0m22.9,0h0m-47,.1h0m-25.3,.1h0m68.9,0h0m-23.1,.1h0m-49.6,.1h0m25.4,0h0m43.9,.1h0m-23.2,.1h0m-49.9,.1h0m25.6,0h0m66.3,0h0m-22.1,.1h0m-47.8,.1h0m24.4,0h0m-50.1,.1h0m92.3,0h0m-22.2,.1h0m-48.1,.1h0m24.7,0h0m42.4,.1h0m-46,.1h0m23.6,0h0m-48.3,.1h0m67.5,0h0m-22.5,.1h0m-23.7,.1h0m64.4,0h0m-89.3,.1h0m67.8,0h0m-22.6,.1h0m-48.9,.1h0m25,0h0m64.9,0h0m-21.6,.1h0m-22.8,.1h0m-49.1,.1h0m25.2,0h0m65.2,0h0m-21.7,.1h0m-47.1,.1h0m24.1,0h0m41.6,.1h0m-44.9,.1h0m23,0h0m-47.2,.1h0m66,0h0m-22,.1h0m-23.2,.1h0m63,0h0m-87.4,.1h0m66.5,0h0m-22.1,.1h0m-23.4,.1h0m63.4,0h0m-87.8,.1h0m66.8,0h0m-22.3,.1h0m-23.4,.1h0m63.8,0h0m-21.2,.1h0m-22.4,.1h0m-23.6,.1h0m64.2,0h0m-21.3,.1h0m38.6,0h0m-84.9,.1h0m23.7,0h0m40.9,0h0m-21.4,.2h0m38.9,0h0m-85.4,.1h0m23.8,0h0m41.1,0h0m-21.6,.1h0m-22.7,.1h0m61.9,0h0m-85.9,.1h0m65.4,0h0m-21.8,.1h0m-22.9,.1h0m62.4,0h0m-20.7,.1h0m-21.9,.1h0m-23,.1h0m62.7,0h0m-20.8,.1h0m-22,.1h0m40,0h0m-63.1,.1h0m42.1,.1h0m-22.1,.1h0m40.2,0h0m-63.5,.1h0m42.5,.1h0m-22.3,.1h0m40.5,0h0m-21.2,.1h0m-22.4,.1h0m40.8,.1h0m-21.4,.1h0m-22.5,.1h0m41,.1h0m-21.4,.1h0m-22.7,.1h0m41.3,.1h0m-21.6,.1h0m-22.8,.1h0m41.5,.1h0m-21.7,.1h0m18.9,.2h0m-21.9,.1h0m19.1,.2h0m-22,.1h0m19.1,.2h0m-22.1,.1h0m19.3,.1h0m-2.9,.3h0m-2.8,.3h0m-2.9,.3h0m-2.8,.3h0" stroke="#3a9fe4" stroke-width="2.8"/>
<path d="M1747.2,173.4h0m-4.2,.3h0m-4.1,.2h0m-4.2,.3h0m-4.2,.3h0m-4.1,.2h0m25.7-.2h0m-4,.2h0m-25.9,.3h0m-4.1,.2h0m26-.2h0m-30.2,.5h0m26.1-.2h0m-4,.2h0m25.1-.2h0m-51.3,.5h0m-4.2,.2h0m26.4-.2h0m25.2-.2h0m-3.9,.2h0m-51.9,.5h0m26.6-.2h0m-4.1,.2h0m25.5-.2h0m-52.1,.5h0m-4.2,.2h0m26.8-.2h0m25.6-.2h0m-3.9,.2h0m24.5-.1h0m-77.1,.6h0m26.9-.2h0m-31.1,.4h0m27.1-.2h0m25.8-.2h0m24.7-.1h0m-3.8,.2h0m-77.9,.6h0m27.1-.2h0m26-.2h0m-3.9,.2h0m25-.1h0m-78.4,.6h0m27.3-.2h0m71.2-.4h0m-102.7,.8h0m27.5-.2h0m26.2-.2h0m25.1-.1h0m-3.8,.2h0m24-.2h0m-103.1,.8h0m27.5-.2h0m26.4-.2h0m45.6-.2h0m-24.1,.3h0m-51.9,.4h0m26.5-.2h0m45.9-.2h0m-76.4,.6h0m26.6-.2h0m25.5-.1h0m20.6,0h0m-76.7,.6h0m26.7-.2h0m25.6-.1h0m44.2-.3h0m-47.9,.5h0m24.5-.2h0m-77.2,.6h0m27-.2h0m46.6-.2h0m23.5-.2h0m-74,.6h0m25.8-.1h0m44.7-.3h0m-23.6,.3h0m-50.8,.4h0m25.9-.1h0m45-.3h0m-48.7,.5h0m24.9-.2h0m-51,.4h0m94-.7h0m-22.7,.3h0m-75.2,.6h0m26.2-.1h0m25.1-.2h0m43.2-.3h0m-46.8,.5h0m24-.2h0m-75.6,.6h0m26.4-.1h0m45.7-.3h0m22.9-.2h0m-47.1,.5h0m-25.3,.3h0m69.1-.6h0m-23.1,.3h0m-49.8,.5h0m25.5-.2h0m44-.3h0m-23.2,.3h0m-50,.5h0m25.6-.2h0m66.4-.6h0m-22.2,.3h0m-47.9,.5h0m24.6-.2h0m-50.3,.5h0m92.6-.8h0m-22.3,.3h0m-48.2,.5h0m24.7-.2h0m42.5-.3h0m-46,.5h0m23.6-.2h0m-48.4,.5h0m67.6-.6h0m-22.6,.3h0m-23.7,.3h0m64.6-.5h0m-89.6,.8h0m68.1-.6h0m-22.7,.3h0m-49,.5h0m25.1-.2h0m65-.5h0m-21.7,.2h0m-22.8,.3h0m-49.2,.5h0m25.2-.2h0m65.4-.5h0m-21.8,.2h0m-47.1,.5h0m24.1-.2h0m41.7-.2h0m-45,.4h0m23-.2h0m-47.3,.5h0m66.2-.5h0m-22.1,.2h0m-23.2,.3h0m63.1-.5h0m-87.5,.8h0m66.5-.5h0m-22.1,.2h0m-23.4,.3h0m63.6-.5h0m-88.1,.8h0m66.9-.5h0m-22.3,.2h0m-23.5,.3h0m64-.5h0m-21.3,.3h0m-22.4,.2h0m-23.6,.3h0m64.3-.5h0m-21.4,.3h0m38.8-.4h0m-85.1,.8h0m23.8-.2h0m40.9-.3h0m-21.5,.4h0m39-.4h0m-85.6,.8h0m23.9-.2h0m41.3-.3h0m-21.7,.3h0m-22.8,.2h0m62.1-.5h0m-86.1,.8h0m65.5-.5h0m-21.8,.3h0m-22.9,.2h0m62.4-.5h0m-20.7,.3h0m-21.9,.3h0m-23.1,.2h0m62.9-.5h0m-20.9,.3h0m-22,.3h0m40.1-.4h0m-63.3,.6h0m42.3-.2h0m-22.2,.3h0m40.3-.4h0m-63.7,.6h0m42.6-.2h0m-22.3,.3h0m40.6-.4h0m-21.3,.3h0m-22.4,.3h0m40.8-.3h0m-21.3,.3h0m-22.6,.3h0m41.1-.3h0m-21.5,.3h0m-22.7,.3h0m41.4-.3h0m-21.7,.3h0m-22.8,.3h0m41.6-.3h0m-21.8,.3h0m19,0h0m-21.9,.3h0m19,0h0m-22,.3h0m19.2,0h0m-22.2,.3h0m19.3-.1h0m-2.8,.3h0m-2.8,.3h0m-2.9,.3h0m-2.8,.3h0" stroke="#bf7fd8" stroke-width="3.2"/>
</g>
<text x="1614.6" y="185.1" font-family="Liberation Sans, Arial, sans-serif" font-size="12" fill="#222">WSe<tspan font-size="8" dy="2.5">2</tspan></text>
<text x="1614.6" y="209.7" font-family="Liberation Sans, Arial, sans-serif" font-size="12" fill="#222">WSe<tspan font-size="8" dy="2.5">2</tspan></text>
<path d="M1734.5,343.5L1739.1,336.5H1737.2V323H1731.8V336.5H1729.9Z" fill="#4c9a2e"/>
<path d="M1709.6,296.7l2.4,2.8m0,0l-.8,2.8m-5.4-4.8l2.4,2.8m0,0l-.9,2.8m-5.3-4.8l2.3,2.8m0,0l-.8,2.8m9.8-5.7l2.4,2.9m0,0l-.8,2.9m-16.8-4.9l2.4,2.8m0,0l-.8,2.8m21.1-5.9l2.5,3.1m0,0l-.8,3.1m-13-5.9l2.4,2.9m0,0l-.8,2.9m-16.8-5l2.4,2.8m0,0l-.9,2.8m9.9-5.6l2.4,2.9m0,0l-.8,2.9m9.7-6l2.5,3.1m0,0l-.8,3.1m-28.2-5.2l2.3,2.8m0,0l-.8,2.8m32.6-6l2.4,3.2m0,0l-.7,3.2m-24.4-5.9l2.4,2.9m0,0l-.8,2.9m9.7-6l2.5,3.1m0,0l-.8,3.1m-28.3-5.4l2.4,2.8m0,0l-.8,2.8m43.9-6.2l2.5,3.4m0,0l-.7,3.4m-35.9-6l2.4,2.9m0,0l-.7,2.9m21-6.1l2.5,3.2m0,0l-.7,3.2m-13.1-6.2l2.5,3.1m0,0l-.8,3.1m-28.3-5.5l2.4,2.8m0,0l-.9,2.8m44-6l2.5,3.4m0,0l-.7,3.4m-35.9-6.1l2.4,2.9m0,0l-.8,2.9m21.1-6.1l2.5,3.2m0,0l-.7,3.2m-13.1-6.2l2.4,3.1m0,0l-.7,3.1m-28.3-5.6l2.3,2.8m0,0l-.8,2.8m55.3-6.2l2.5,3.5m0,0l-.6,3.5m-47.3-6.1l2.4,2.9m0,0l-.8,2.9m32.5-6.2l2.5,3.4m0,0l-.7,3.4m-24.5-6.4l2.4,3.1m0,0l-.7,3.1m9.6-6.3l2.5,3.2m0,0l-.7,3.2m-39.8-5.8l2.4,2.8m0,0l-.8,2.8m66.6-6.4l2.6,3.6m0,0l-.6,3.6m-13.3-6.7l2.6,3.5m0,0l-.7,3.5m-47.3-6.3l2.4,2.9m0,0l-.8,2.9m9.8-5.8l2.4,3.1m0,0l-.7,3.1m21-6.5l2.5,3.4m0,0l-.7,3.4m-51.2-6.1l2.4,2.8m0,0l-.9,2.8m36.5-6l2.5,3.2m0,0l-.7,3.2m28.4-6.5l2.6,3.6m0,0l-.6,3.6m-58.8-6.3l2.4,2.9m0,0l-.7,2.9m43.8-6.2l2.6,3.5m0,0l-.7,3.5m-62.6-6.2l2.3,2.8m0,0l-.8,2.8m25.2-5.9l2.4,3.1m0,0l-.8,3.1m21.1-6.4l2.5,3.4m0,0l-.7,3.4m28.3-7.2l2.6,3.8m0,0l-.5,3.8m-43.6-6.9l2.5,3.2m0,0l-.7,3.2m-28.4-5.7l2.4,2.9m0,0l-.8,2.9m55.2-6.5l2.6,3.6m0,0l-.6,3.6m16.8-7.4l2.7,3.9m0,0l-.5,3.9m-93.1-6.6l2.4,2.8m0,0l-.8,2.8m25.1-5.8l2.5,3.1m0,0l-.8,3.1m32.4-6.5l2.6,3.5m0,0l-.6,3.5m-24.7-6.6l2.5,3.2m0,0l-.7,3.2m9.6-6.6l2.5,3.4m0,0l-.7,3.4m28.3-7l2.7,3.8m0,0l-.6,3.8m-70.2-6.6l2.4,2.9m0,0l-.8,2.9m9.8-5.6l2.5,3.1m0,0l-.8,3.1m43.8-6.7l2.6,3.6m0,0l-.6,3.6m16.7-7.3l2.7,3.9m0,0l-.5,3.9m-55-7l2.5,3.2m0,0l-.7,3.2m20.9-6.7l2.6,3.5m0,0l-.6,3.5m-13.3-6.8l2.5,3.4m0,0l-.7,3.4m-39.8-6.2l2.4,2.9m0,0l-.8,2.9m66.6-6.5l2.6,3.8m0,0l-.5,3.8m16.6-7.9l2.8,4.1m0,0l-.5,4.1m-77.8-7l2.5,3.1m0,0l-.8,3.1m43.8-6.5l2.6,3.6m0,0l-.6,3.6m-36.1-6.6l2.5,3.2m0,0l-.7,3.2m69.8-7.4l2.8,4.2m0,0l-.5,4.2m-62.5-7.5l2.5,3.4m0,0l-.6,3.4m9.5-6.9l2.5,3.5m0,0l-.6,3.5m28.2-7.4l2.7,3.9m0,0l-.6,3.9m-70.2-6.5l2.4,3.1m0,0l-.7,3.1m55.1-6.9l2.7,3.8m0,0l-.6,3.8m16.7-7.7l2.7,4.1m0,0l-.5,4.1m-66.4-7.2l2.5,3.2m0,0l-.7,3.2m32.3-6.7l2.6,3.6m0,0l-.6,3.6m-24.7-6.9l2.5,3.4m0,0l-.6,3.4m9.5-6.9l2.5,3.5m0,0l-.6,3.5m47-7.5l2.7,4.2m0,0l-.4,4.2m-21.1-8l2.7,3.9m0,0l-.5,3.9m-70.3-6.9l2.4,3.1m0,0l-.7,3.1m9.7-5.9l2.5,3.2m0,0l-.7,3.2m43.6-7l2.7,3.8m0,0l-.6,3.8m35.5-8.2l2.8,4.4m0,0l-.4,4.4m-74-7.6l2.5,3.4m0,0l-.6,3.4m20.8-7l2.6,3.6m0,0l-.6,3.6m28.1-7.7l2.8,4.1m0,0l-.5,4.1m-43.7-7.5l2.6,3.5m0,0l-.7,3.5m65.7-7.9l2.9,4.5m0,0l-.4,4.5m-39.9-8l2.7,3.9m0,0l-.6,3.9m16.6-8.1l2.8,4.2m0,0l-.4,4.2m-77.9-7.2l2.5,3.2m0,0l-.7,3.2m43.7-6.8l2.6,3.8m0,0l-.5,3.8m-36.2-7.1l2.5,3.4m0,0l-.6,3.4m9.5-6.8l2.6,3.5m0,0l-.7,3.5m9.5-7.1l2.6,3.6m0,0l-.6,3.6m46.8-8l2.8,4.4m0,0l-.4,4.4m-21.1-8.4l2.7,4.1m0,0l-.5,4.1m24-8.2l2.8,4.5m0,0l-.3,4.5m-40-8.3l2.7,3.9m0,0l-.5,3.9m16.6-7.9l2.8,4.2m0,0l-.5,4.2m-66.5-7.5l2.6,3.4m0,0l-.7,3.4m32.2-7.1l2.7,3.8m0,0l-.6,3.8m54.2-8.4l2.9,4.6m0,0l-.4,4.6m-81.5-8l2.6,3.5m0,0l-.7,3.5m9.5-7.1l2.6,3.6m0,0l-.6,3.6m28.2-7.4l2.7,4.1m0,0l-.5,4.1m16.5-8.5l2.8,4.4m0,0l-.4,4.4m23.7-9.2l3,4.8m0,0l-.3,4.8m-104.3-7.7l2.6,3.4m0,0l-.7,3.4m43.6-7.3l2.6,3.9m0,0l-.5,3.9m35.4-8.3l2.8,4.5m0,0l-.3,4.5m-74.1-7.8l2.6,3.5m0,0l-.6,3.5m20.8-7.3l2.6,3.8m0,0l-.6,3.8m28.1-8l2.7,4.2m0,0l-.4,4.2m-43.8-7.7l2.6,3.6m0,0l-.6,3.6m65.7-8l2.9,4.6m0,0l-.4,4.6m-40-8.4l2.7,4.1m0,0l-.5,4.1m16.6-8.4l2.8,4.4m0,0l-.4,4.4m23.7-9.1l3,4.8m0,0l-.3,4.8m-58.9-8.6l2.7,3.9m0,0l-.5,3.9m-36.2-7.2l2.5,3.5m0,0l-.6,3.5m9.4-7l2.6,3.6m0,0l-.6,3.6m9.4-7.4l2.6,3.8m0,0l-.5,3.8m72.9-8.7l3,4.9m0,0l-.3,4.9m-28.8-9.3l2.8,4.5m0,0l-.3,4.5m-21.3-8.6l2.8,4.2m0,0l-.4,4.2m50-9.2l3,5.1m0,0l-.3,5.1m-66.3-8.8l2.7,4.1m0,0l-.5,4.1m35.3-8.7l2.8,4.6m0,0l-.3,4.6m-21.2-8.8l2.8,4.4m0,0l-.4,4.4m-32.5-8.2l2.6,3.9m0,0l-.5,3.9m-24.8-7.4l2.6,3.6m0,0l-.6,3.6m9.3-7.3l2.7,3.8m0,0l-.6,3.8m65.6-8.6l2.9,4.8m0,0l-.3,4.8m-40.1-8.7l2.8,4.2m0,0l-.5,4.2m16.5-8.6l2.8,4.5m0,0l-.4,4.5m23.7-9.3l3,4.9m0,0l-.3,4.9m-58.9-8.7l2.7,4.1m0,0l-.4,4.1m61.4-9.1l3,5.1m0,0l-.2,5.1m-28.9-9.6l2.8,4.6m0,0l-.3,4.6m-74.1-8.1l2.6,3.6m0,0l-.6,3.6m20.7-7.5l2.7,3.9m0,0l-.5,3.9m-13.5-7.6l2.6,3.8m0,0l-.6,3.8m39.4-8.2l2.8,4.4m0,0l-.4,4.4m49.9-9.6l3.1,5.2m0,0l-.2,5.2m-28.9-9.6l2.9,4.8m0,0l-.3,4.8m-40.1-8.9l2.7,4.2m0,0l-.4,4.2m16.5-8.5l2.8,4.5m0,0l-.4,4.5m-32.5-8.4l2.7,4.1m0,0l-.5,4.1m54-9l3,4.9m0,0l-.3,4.9m-70.3-8.6l2.7,3.9m0,0l-.5,3.9m-13.5-7.6l2.6,3.8m0,0l-.5,3.8m39.4-8l2.8,4.4m0,0l-.4,4.4m16.4-9l2.8,4.6m0,0l-.3,4.6m23.6-9.7l3,5.1m0,0l-.2,5.1m4.7-9.9l3,5.2m0,0l-.2,5.2m-66.5-9.3l2.8,4.2m0,0l-.5,4.2m35.3-8.9l2.9,4.8m0,0l-.3,4.8m-51.5-8.7l2.7,4.1m0,0l-.4,4.1m27.8-8.6l2.9,4.5m0,0l-.4,4.5m-43.9-8.2l2.7,3.9m0,0l-.5,3.9m65.5-8.6l2.9,4.9m0,0l-.2,4.9m-40.2-9.1l2.8,4.4m0,0l-.4,4.4m16.4-8.8l2.8,4.6m0,0l-.3,4.6m23.6-9.6l3,5.1m0,0l-.2,5.1m-59-9.1l2.8,4.2m0,0l-.5,4.2m-13.6-8l2.7,4.1m0,0l-.5,4.1m46.7-8.9l2.9,4.8m0,0l-.3,4.8m23.5-10l3,5.2m0,0l-.1,5.2m-89.3-9l2.7,3.9m0,0l-.5,3.9m39.3-8.4l2.9,4.5m0,0l-.4,4.5m-13.7-8.3l2.8,4.4m0,0l-.5,4.4m35.2-9.3l2.9,4.9m0,0l-.2,4.9m-21.5-9.3l2.9,4.6m0,0l-.3,4.6m-32.6-8.6l2.7,4.2m0,0l-.4,4.2m-13.7-8.1l2.8,4.1m0,0l-.5,4.1m65.4-9.2l2.9,5.1m0,0l-.2,5.1m-40.2-9.3l2.8,4.5m0,0l-.3,4.5m16.3-9.2l2.9,4.8m0,0l-.3,4.8m23.5-9.9l3.1,5.2m0,0l-.2,5.2m-59.1-9.3l2.8,4.4m0,0l-.4,4.4m-13.7-8.3l2.8,4.2m0,0l-.5,4.2m46.6-9.1l2.9,4.9m0,0l-.2,4.9m-21.5-9.4l2.9,4.6m0,0l-.3,4.6m23.7-9.2l3,5.1m0,0l-.2,5.1m-40.3-9.5l2.8,4.5m0,0l-.3,4.5m16.3-9.1l2.9,4.8m0,0l-.3,4.8m-32.7-9l2.8,4.4m0,0l-.4,4.4m53.9-9.5l3,5.2m0,0l-.2,5.2m-70.4-9.2l2.7,4.2m0,0l-.4,4.2m27.8-8.6l2.9,4.6m0,0l-.3,4.6m16.2-9.5l2.9,4.9m0,0l-.2,4.9m-32.7-8.8l2.8,4.5m0,0l-.4,4.5m35.1-9.5l3,5.1m0,0l-.2,5.1m-21.5-9.7l2.9,4.8m0,0l-.3,4.8m-32.7-9.1l2.8,4.4m0,0l-.4,4.4m53.9-9.2l3,5.2m0,0l-.1,5.2m-40.4-9.6l2.9,4.6m0,0l-.3,4.6m16.2-9.4l3,4.9m0,0l-.3,4.9m-32.7-9l2.8,4.5m0,0l-.4,4.5m16.4-8.9l2.9,4.8m0,0l-.3,4.8m16.1-9.9l3,5.1m0,0l-.2,5.1m-32.8-9.1l2.9,4.6m0,0l-.3,4.6m34.9-9.8l3.1,5.2m0,0l-.2,5.2m-21.6-9.8l3,4.9m0,0l-.3,4.9m-32.8-9.2l2.9,4.5m0,0l-.4,4.5m16.4-8.8l2.9,4.8m0,0l-.3,4.8m16.2-9.8l2.9,5.1m0,0l-.2,5.1m-32.8-9.2l2.9,4.6m0,0l-.3,4.6m35-9.6l3,5.2m0,0l-.2,5.2m-21.6-9.9l3,4.9m0,0l-.3,4.9m-13.9-9.1l2.9,4.8m0,0l-.3,4.8m16.2-9.7l3,5.1m0,0l-.2,5.1m-14.1-9.2l3,4.9m0,0l-.2,4.9m16-10.1l3,5.2m0,0l-.1,5.2m-32.9-9.3l2.9,4.8m0,0l-.3,4.8m16.2-9.6l3,5.1m0,0l-.2,5.1m-14-9.3l2.9,4.9m0,0l-.2,4.9m16-10l3.1,5.2m0,0l-.2,5.2m-14.1-9.4l3,5.1m0,0l-.2,5.1m4.8-9.4l3,5.2m0,0l-.2,5.2m-14.1-9.5l3,5.1m0,0l-.2,5.1m4.8-9.3l3,5.2m0,0l-.1,5.2" stroke="#45454f" stroke-width="1.1" fill="none"/>
<g fill="none" stroke-linecap="round">
<path d="M1711.2,302.3h0m-3.9,.8h0m-3.8,.8h0m11.4,.1h0m-15.2,.7h0m22.8,.3h0m-11.4-.1h0m-15.3,.6h0m11.5,.2h0m11.4,.2h0m-26.7,.4h0m34.3,.4h0m-22.8-.1h0m11.4,.2h0m-26.7,.2h0m45.7,.6h0m-34.2-.2h0m22.8,.3h0m-11.4,0h0m-26.8,.1h0m45.8,.8h0m-34.3-.3h0m22.9,.3h0m-11.4,0h0m-26.8,0h0m57.2,.8h0m-45.7-.3h0m34.3,.6h0m-22.8-.2h0m11.4,.1h0m-38.2-.2h0m68.6,.8h0m-11.4,.3h0m-45.7-.5h0m11.5,.4h0m22.8,.3h0m-49.7-.5h0m38.3,.4h0m30.4,.7h0m-57.1-.5h0m45.7,.8h0m-61.1-.6h0m26.8,.3h0m22.9,.4h0m30.4,.4h0m-41.8-.5h0m-26.8,.1h0m57.2,.7h0m19,.4h0m-91.5-1h0m26.8,.4h0m34.4,.5h0m-22.9-.2h0m11.4,.2h0m30.4,.6h0m-68.6-.8h0m11.5,.6h0m45.8,.5h0m18.9,.5h0m-53.2-.6h0m22.9,.3h0m-11.5,0h0m-38.2-.4h0m68.7,1.1h0m18.9,.3h0m-76.1-.8h0m45.8,.7h0m-34.3-.2h0m72.1,1h0m-60.6-.7h0m11.4,.1h0m30.3,.4h0m-68.5-.3h0m57.2,.7h0m18.9,.5h0m-64.6-.8h0m34.3,.5h0m-22.8-.1h0m11.4,.1h0m49.3,.9h0m-18.9-.2h0m-68.6-.7h0m11.5,.5h0m45.7,.6h0m37.9,.6h0m-72.1-.8h0m22.8,.2h0m30.4,.5h0m-41.8-.5h0m68.2,1.1h0m-37.8-.2h0m19,.3h0m-76.1-.8h0m45.8,.8h0m-34.3-.3h0m11.4,.2h0m11.5,.1h0m49.2,.8h0m-18.9-.2h0m26.5,.8h0m-37.8-.5h0m18.9,.5h0m-64.6-.7h0m34.3,.5h0m56.7,.8h0m-79.6-1h0m11.5,.1h0m30.4,.8h0m18.9,.3h0m26.4,.4h0m-102.4-.9h0m45.7,.5h0m37.9,.7h0m-72.1-.8h0m22.8,.3h0m30.4,.4h0m-41.8-.5h0m68.2,1.2h0m-37.8-.2h0m19,.4h0m26.4,.5h0m-56.7-.8h0m-34.3-.2h0m11.4,.2h0m11.5,.2h0m75.6,1.1h0m-26.3-.3h0m-18.9-.2h0m52.7,1h0m-64.1-.6h0m37.8,.5h0m-18.8,0h0m-30.4-.4h0m-22.8-.2h0m11.4,.3h0m68.2,1h0m-37.8-.3h0m18.9,.4h0m26.4,.5h0m-56.6-.5h0m64.2,1.1h0m-26.4-.4h0m-72.1-.9h0m22.9,.3h0m-11.5,0h0m41.8,.6h0m52.8,.8h0m-26.3,0h0m-37.8-.5h0m18.9,.5h0m-30.3-.2h0m56.7,.8h0m-68.1-.8h0m-11.4,0h0m41.8,.8h0m18.9,.2h0m26.4,.5h0m7.5,.5h0m-64.2-.9h0m37.9,.7h0m-49.2-.5h0m30.3,.4h0m-41.7-.4h0m68.2,1.2h0m-37.8-.3h0m18.9,.4h0m26.4,.6h0m-56.7-.7h0m-11.4,.2h0m49.3,.7h0m26.4,.4h0m-87.1-1.2h0m41.8,.6h0m-11.4,.5h0m37.9,.5h0m-18.9-.1h0m-30.3-.2h0m-11.4,.1h0m68.1,1h0m-37.7-.3h0m18.9,.4h0m26.4,.5h0m-56.7-.5h0m-11.4,.1h0m49.3,.7h0m-18.9-.2h0m26.5,1h0m-37.8-.5h0m18.9,.5h0m-30.3-.2h0m56.7,.9h0m-68.1-.8h0m30.4,.6h0m18.9,.3h0m-30.3,.2h0m37.9,.7h0m-18.9-.1h0m-30.3-.3h0m56.8,1.2h0m-37.8-.4h0m18.9,.4h0m-30.3,0h0m19,.7h0m18.9,.3h0m-30.2,.1h0m37.8,.6h0m-18.9,0h0m-30.3-.2h0m19,.8h0m18.9,.4h0m-30.2,0h0m37.8,.8h0m-18.9-.1h0m-11.3,.5h0m19,.5h0m-11.3,.6h0m18.9,.3h0m-30.3,.3h0m19,.6h0m-11.3,.5h0m18.9,.4h0m-11.3,.8h0m7.6,1h0m-11.3,.7h0m7.7,1.1h0" stroke="#e0a824" stroke-width="2.7"/>
<path d="M1712,299.5h0m-3.8,.8h0m-3.9,.8h0m11.4,0h0m-15.2,.8h0m22.8,0h0m-11.4,.1h0m-15.2,.7h0m11.4,.1h0m11.4,0h0m-26.7,.7h0m34.2,0h0m-22.7,.2h0m11.4,0h0m-26.7,.5h0m45.6,0h0m-34.2,.3h0m22.8,0h0m-11.3,.1h0m-26.7,.4h0m45.6,.2h0m-34.2,.2h0m22.8,0h0m-11.4,.1h0m-26.7,.3h0m57,.1h0m-45.5,.3h0m34.2,.1h0m-22.8,.1h0m11.4,0h0m-38.1,.2h0m68.4,0h0m-11.3,.4h0m-45.6,.1h0m11.4,.2h0m22.8,0h0m-49.5,.1h0m38.1,0h0m30.3,.3h0m-57,.2h0m45.7,.2h0m-61,.1h0m26.8,0h0m22.8,.1h0m30.2,0h0m-41.6,.1h0m-26.7,.4h0m57,0h0m18.9,.1h0m-91.2,.1h0m26.8,.1h0m34.2,.1h0m-22.8,.1h0m11.4,0h0m30.3,.2h0m-68.4,.1h0m11.5,.4h0m45.6,0h0m18.8,.2h0m-53,.1h0m22.8,0h0m-11.4,.1h0m-38.1,.1h0m68.4,.2h0m18.9,0h0m-75.8,.2h0m45.6,.2h0m-34.2,.2h0m71.9,0h0m-60.5,.1h0m11.4,0h0m30.3,0h0m-68.4,.5h0m57.1,0h0m18.8,.2h0m-64.4,.1h0m34.2,.1h0m-22.8,.1h0m11.4,0h0m49.1,.2h0m-18.8,.1h0m-68.4,.1h0m11.5,.4h0m45.6,0h0m37.7,0h0m-71.9,.2h0m22.8,0h0m30.3,0h0m-41.6,.1h0m67.9,.1h0m-37.6,.4h0m18.8,0h0m-75.8,.2h0m45.6,.2h0m-34.2,.1h0m11.5,.1h0m11.4,0h0m49,0h0m-18.8,.1h0m26.3,.4h0m-37.6,.1h0m18.9,.2h0m-64.4,.1h0m34.2,.1h0m56.5,0h0m-79.3,.1h0m11.4,0h0m30.3,.3h0m18.8,0h0m26.3,0h0m-102,.5h0m45.5,0h0m37.7,.1h0m-71.8,.2h0m22.8,0h0m30.2,0h0m-41.6,.1h0m68,.2h0m-37.7,.3h0m18.9,.1h0m26.3,.1h0m-56.5,.1h0m-34.2,.2h0m11.4,.1h0m11.4,0h0m75.4,0h0m-26.3,.1h0m-18.8,.1h0m52.6,.1h0m-63.9,.4h0m37.6,0h0m-18.7,.2h0m-30.3,.1h0m-22.7,.1h0m11.4,.1h0m67.9,0h0m-37.6,.3h0m18.8,.1h0m26.3,.1h0m-56.5,.3h0m64,.1h0m-26.3,.1h0m-71.8,.1h0m22.8,0h0m-11.4,.1h0m41.6,0h0m52.6,0h0m-26.2,.4h0m-37.7,.1h0m18.9,.2h0m-30.2,.2h0m56.5,0h0m-67.9,.2h0m-11.4,.1h0m41.7,.2h0m18.8,0h0m26.3,0h0m7.5,.4h0m-63.9,.1h0m37.7,.1h0m-49.1,.2h0m30.3,0h0m-41.6,.2h0m67.9,.2h0m-37.6,.2h0m18.8,.2h0m26.3,.1h0m-56.4,.2h0m-11.4,.3h0m49.1,0h0m26.2,0h0m-86.7,.1h0m41.7,0h0m-11.3,.6h0m37.6,0h0m-18.8,.2h0m-30.2,.2h0m-11.3,.2h0m67.8,0h0m-37.6,.3h0m18.9,.1h0m26.3,.1h0m-56.5,.3h0m-11.3,.3h0m49,0h0m-18.8,.1h0m26.4,.5h0m-37.7,.1h0m18.9,.2h0m-30.2,.2h0m56.5,.1h0m-67.9,.2h0m30.3,.2h0m18.8,0h0m-30.1,.6h0m37.7,.1h0m-18.8,.2h0m-30.2,.1h0m56.5,.4h0m-37.6,.2h0m18.9,.1h0m-30.2,.4h0m18.9,.4h0m18.8,0h0m-30.1,.6h0m37.7,0h0m-18.8,.3h0m-30.2,.2h0m18.9,.5h0m18.8,.1h0m-30.1,.5h0m37.7,.2h0m-18.8,.2h0m-11.3,.6h0m18.9,.2h0m-11.3,.8h0m18.8,0h0m-30.1,.7h0m18.9,.3h0m-11.3,.7h0m18.9,.1h0m-11.3,.9h0m7.6,.9h0m-11.3,.8h0m7.6,1h0" stroke="#36b236" stroke-width="3.0"/>
<path d="M1709.6,296.7h0m-3.8,.8h0m-3.8,.8h0m11.3-.1h0m-15.2,.9h0m22.7-.3h0m-11.3,.3h0m-15.2,.8h0m11.4,0h0m11.3-.2h0m-26.5,1h0m34.1-.4h0m-22.7,.5h0m11.3-.2h0m-26.6,.8h0m45.5-.6h0m-34.1,.8h0m22.7-.3h0m-11.3,.2h0m-26.6,.7h0m45.5-.4h0m-34.1,.7h0m22.7-.3h0m-11.3,.2h0m-26.6,.6h0m56.8-.6h0m-45.4,.9h0m34.1-.4h0m-22.7,.4h0m11.3-.1h0m-38,.6h0m68.2-.8h0m-11.3,.5h0m-45.4,.7h0m11.4,0h0m22.7-.3h0m-49.4,.7h0m38-.4h0m30.2-.1h0m-56.8,.9h0m45.5-.4h0m-60.7,.8h0m26.7-.3h0m22.7-.2h0m30.1-.4h0m-41.5,.7h0m-26.6,.7h0m56.8-.7h0m18.8-.2h0m-90.9,1.2h0m26.7-.2h0m34.1-.3h0m-22.7,.4h0m11.4-.2h0m30.1-.2h0m-68.1,1h0m11.4,.2h0m45.5-.5h0m18.7-.1h0m-52.8,.8h0m22.7-.3h0m-11.3,.2h0m-38,.6h0m68.2-.7h0m18.7-.3h0m-75.5,1.2h0m45.5-.3h0m-34.1,.6h0m71.6-1h0m-60.2,.9h0m11.4-.1h0m30.1-.4h0m-68.1,1.3h0m56.8-.7h0m18.8-.1h0m-64.2,1h0m34.1-.3h0m-22.7,.3h0m11.4-.1h0m48.9-.5h0m-18.8,.4h0m-68.1,.9h0m11.4,.3h0m45.4-.6h0m37.6-.6h0m-71.6,1.2h0m22.7-.2h0m30.1-.5h0m-41.4,.7h0m67.6-.9h0m-37.4,1h0m18.7-.3h0m-75.5,1.2h0m45.5-.4h0m-34.1,.5h0m11.4,0h0m11.4-.1h0m48.8-.8h0m-18.7,.4h0m26.2,0h0m-37.5,.7h0m18.8-.1h0m-64.2,.9h0m34.1-.3h0m56.3-.8h0m-79,1.2h0m11.4-.1h0m30.2-.2h0m18.7-.3h0m26.1-.4h0m-101.6,1.9h0m45.5-.5h0m37.5-.5h0m-71.6,1.2h0m22.8-.3h0m30.1-.4h0m-41.5,.7h0m67.7-.8h0m-37.5,.8h0m18.8-.2h0m26.1-.3h0m-56.2,1h0m-34,.6h0m11.3,0h0m11.4-.2h0m75-1.1h0m-26.1,.5h0m-18.8,.4h0m52.4-.8h0m-63.6,1.4h0m37.5-.5h0m-18.7,.4h0m-30.1,.6h0m-22.7,.4h0m11.3-.1h0m67.7-1h0m-37.5,.9h0m18.8-.2h0m26.1-.3h0m-56.2,1.1h0m63.7-.9h0m-26.1,.6h0m-71.6,1.1h0m22.7-.3h0m-11.3,.2h0m41.4-.6h0m52.3-.8h0m-26,.8h0m-37.5,.7h0m18.8-.1h0m-30.1,.6h0m56.2-.8h0m-67.6,1.2h0m-11.3,.2h0m41.5-.4h0m18.8-.2h0m26.1-.5h0m7.5,.3h0m-63.7,1.1h0m37.6-.5h0m-48.9,.9h0m30.1-.4h0m-41.4,.8h0m67.7-.8h0m-37.5,.7h0m18.8,0h0m26.1-.4h0m-56.2,1.1h0m-11.3,.4h0m48.9-.7h0m26.1-.4h0m-86.4,1.4h0m41.5-.6h0m-11.2,.7h0m37.5-.5h0m-18.8,.5h0m-30,.6h0m-11.4,.3h0m67.7-1h0m-37.5,.9h0m18.8-.2h0m26.1-.3h0m-56.2,1.1h0m-11.3,.5h0m48.9-.7h0m-18.8,.4h0m26.3,0h0m-37.5,.7h0m18.8-.1h0m-30.1,.6h0m56.3-.7h0m-67.6,1.2h0m30.1-.2h0m18.8-.3h0m-30,1h0m37.5-.5h0m-18.7,.5h0m-30.1,.5h0m56.3-.4h0m-37.5,.8h0m18.8-.2h0m-30,.8h0m18.8,.1h0m18.7-.3h0m-30,1.1h0m37.5-.6h0m-18.7,.6h0m-30.1,.6h0m18.9,.2h0m18.8-.2h0m-30.1,1h0m37.6-.4h0m-18.8,.5h0m-11.2,.7h0m18.8-.1h0m-11.3,1h0m18.8-.3h0m-30,1.1h0m18.8,0h0m-11.2,.9h0m18.7-.2h0m-11.2,1h0m7.6,.8h0m-11.3,.9h0m7.6,.9h0" stroke="#e0a824" stroke-width="2.7"/>
</g>
<path d="M1734.5,251.0L1739.1,258.0H1737.2V285H1731.8V258.0H1729.9Z" fill="#4c9a2e"/>
<path d="M1747.2,277.4l-2.2,2.1m0,0l1,2.1m-3-3.9l-2.2,2.1m0,0l1.1,2.1m-3-4l-2.2,2.1m0,0l1,2.1m-3-3.9l-2.2,2.1m0,0l1,2.1m-3-3.9l-2.1,2.1m0,0l1,2.1m-3-4l-2.2,2.1m0,0l1,2.1m26.9-4.4l-2.2,2.3m0,0l1,2.3m-2.8-4.4l-2.2,2.3m0,0l.9,2.3m-24.6-4.3l-2.1,2.1m0,0l1,2.1m-3-4l-2.2,2.1m0,0l1,2.1m27.2-4.4l-2.3,2.3m0,0l1,2.3m-28.9-4.1l-2.2,2.1m0,0l1.1,2.1m27.2-4.4l-2.2,2.3m0,0l1,2.3m-2.8-4.4l-2.2,2.3m0,0l1,2.3m26.3-4.8l-2.3,2.5m0,0l.9,2.5m-49.9-4.5l-2.2,2.1m0,0l1,2.1m-3-4l-2.2,2.1m0,0l1,2.1m27.6-4.4l-2.2,2.3m0,0l.9,2.3m26.5-4.8l-2.3,2.5m0,0l.9,2.5m-2.5-4.8l-2.3,2.5m0,0l.9,2.5m-50.5-4.5l-2.1,2.1m0,0l1,2.1m27.7-4.4l-2.3,2.3m0,0l1,2.3m-2.8-4.4l-2.2,2.3m0,0l1,2.3m26.7-4.8l-2.3,2.5m0,0l.9,2.5m-50.7-4.5l-2.2,2.1m0,0l1,2.1m-3-4l-2.2,2.1m0,0l1.1,2.1m27.9-4.4l-2.2,2.3m0,0l.9,2.3m26.9-4.8l-2.3,2.5m0,0l.9,2.5m-2.5-4.8l-2.3,2.5m0,0l.9,2.5m25.9-5.1l-2.3,2.6m0,0l.9,2.6m-75.7-4.6l-2.2,2.1m0,0l1,2.1m28.1-4.4l-2.2,2.3m0,0l.9,2.3m-29.8-4.2l-2.2,2.1m0,0l1.1,2.1m28.2-4.4l-2.3,2.3m0,0l1,2.3m27.1-4.8l-2.3,2.5m0,0l1,2.5m26-5.1l-2.3,2.6m0,0l.8,2.6m-2.3-5l-2.3,2.6m0,0l.9,2.6m-76.5-4.6l-2.2,2.1m0,0l1,2.1m28.3-4.4l-2.2,2.3m0,0l1,2.3m27.2-4.8l-2.3,2.5m0,0l1,2.5m-2.6-4.8l-2.3,2.5m0,0l1,2.5m26.3-5.1l-2.4,2.6m0,0l.9,2.6m-76.9-4.6l-2.2,2.1m0,0l1,2.1m28.5-4.4l-2.2,2.3m0,0l.9,2.3m72.5-5l-2.4,2.8m0,0l.8,2.8m-101.1-4.8l-2.1,2.1m0,0l1,2.1m28.6-4.4l-2.3,2.3m0,0l1,2.3m27.5-4.8l-2.3,2.5m0,0l1,2.5m26.4-5.1l-2.3,2.6m0,0l.8,2.6m-2.3-5l-2.3,2.6m0,0l.9,2.6m25.4-5.4l-2.3,2.8m0,0l.8,2.8m-101.6-4.8l-2.2,2.1m0,0l1,2.1m28.7-4.4l-2.2,2.3m0,0l1,2.3m27.6-4.8l-2.2,2.5m0,0l.9,2.5m46.9-5.2l-2.4,2.8m0,0l.9,2.8m-22.6-5.3l-2.4,2.6m0,0l.9,2.6m-50.4-4.8l-2.2,2.3m0,0l1,2.3m27.7-4.8l-2.2,2.5m0,0l.9,2.5m47.2-5.2l-2.4,2.8m0,0l.8,2.8m-74.8-5l-2.2,2.3m0,0l.9,2.3m27.9-4.8l-2.2,2.5m0,0l.9,2.5m26.8-5.1l-2.3,2.6m0,0l.9,2.6m22-5.2l-2.3,2.8m0,0l.8,2.8m-75.2-5l-2.3,2.3m0,0l1,2.3m28-4.8l-2.2,2.5m0,0l.9,2.5m26.9-5.1l-2.3,2.6m0,0l.9,2.6m45.6-5.5l-2.4,3m0,0l.7,3m-46.2-5.5l-2.4,2.6m0,0l.9,2.6m26-5.4l-2.4,2.8m0,0l.9,2.8m-75.7-5l-2.2,2.3m0,0l1,2.3m28.2-4.8l-2.3,2.5m0,0l.9,2.5m48-5.2l-2.4,2.8m0,0l.8,2.8m25.1-5.8l-2.5,3m0,0l.8,3m-72.3-5.4l-2.3,2.5m0,0l.9,2.5m27.2-5.1l-2.3,2.6m0,0l.9,2.6m46.1-5.5l-2.4,3m0,0l.7,3m-21.9-5.7l-2.4,2.8m0,0l.8,2.8m-49.2-5.2l-2.3,2.5m0,0l.9,2.5m27.3-5.1l-2.3,2.6m0,0l.9,2.6m46.4-5.5l-2.5,3m0,0l.8,3m-47-5.5l-2.3,2.6m0,0l.8,2.6m26.4-5.4l-2.4,2.8m0,0l.9,2.8m-49.5-5.2l-2.3,2.5m0,0l.9,2.5m95.4-5.7l-2.5,3.2m0,0l.7,3.2m-20.9-6.1l-2.4,3m0,0l.7,3m-73.5-5.4l-2.3,2.5m0,0l.9,2.5m27.6-5.1l-2.3,2.6m0,0l.9,2.6m26.5-5.4l-2.4,2.8m0,0l.8,2.8m44.8-5.9l-2.5,3.2m0,0l.8,3.2m-45.1-5.9l-2.4,2.8m0,0l.8,2.8m25.6-5.8l-2.5,3m0,0l.8,3m-73.9-5.4l-2.3,2.5m0,0l.9,2.5m27.8-5.1l-2.4,2.6m0,0l.9,2.6m47.2-5.5l-2.4,3m0,0l.7,3m24.6-6.2l-2.4,3.2m0,0l.7,3.2m-45.4-5.9l-2.3,2.8m0,0l.8,2.8m-23.8-5.3l-2.3,2.6m0,0l.8,2.6m70.6-5.8l-2.5,3.2m0,0l.7,3.2m-21.3-6.1l-2.5,3m0,0l.8,3m-48.1-5.5l-2.3,2.6m0,0l.9,2.6m26.9-5.4l-2.4,2.8m0,0l.8,2.8m45.6-5.9l-2.5,3.2m0,0l.8,3.2m-21.5-6.1l-2.5,3m0,0l.8,3m-48.3-5.5l-2.4,2.6m0,0l.9,2.6m27.1-5.4l-2.4,2.8m0,0l.8,2.8m68-6.2l-2.5,3.4m0,0l.7,3.4m-20.4-6.5l-2.4,3.2m0,0l.7,3.2m-46.2-5.9l-2.3,2.8m0,0l.8,2.8m26.1-5.8l-2.5,3m0,0l.8,3m-48.6-5.5l-2.3,2.6m0,0l.9,2.6m94-6l-2.6,3.4m0,0l.7,3.4m-20.4-6.5l-2.5,3.2m0,0l.7,3.2m-46.4-5.9l-2.4,2.8m0,0l.9,2.8m26.2-5.8l-2.4,3m0,0l.7,3m44.2-6.3l-2.5,3.4m0,0l.7,3.4m-44.2-6.3l-2.5,3m0,0l.8,3m25.3-6.2l-2.5,3.2m0,0l.7,3.2m-46.6-5.9l-2.4,2.8m0,0l.8,2.8m69.2-6.2l-2.5,3.4m0,0l.6,3.4m-20.7-6.5l-2.4,3.2m0,0l.7,3.2m-22-6.1l-2.4,3m0,0l.7,3m66.3-6.5l-2.6,3.5m0,0l.6,3.5m-87.6-6.2l-2.3,2.8m0,0l.8,2.8m69.6-6.2l-2.6,3.4m0,0l.7,3.4m-20.8-6.5l-2.5,3.2m0,0l.7,3.2m-47.2-5.9l-2.4,2.8m0,0l.9,2.8m26.6-5.8l-2.5,3m0,0l.8,3m66.7-6.5l-2.6,3.5m0,0l.6,3.5m-19.7-6.8l-2.5,3.4m0,0l.7,3.4m-21-6.5l-2.5,3.2m0,0l.7,3.2m-47.4-5.9l-2.4,2.8m0,0l.8,2.8m26.8-5.8l-2.4,3m0,0l.7,3m67.1-6.5l-2.6,3.5m0,0l.6,3.5m-19.8-6.8l-2.5,3.4m0,0l.6,3.4m-45.2-6.3l-2.5,3m0,0l.8,3m25.8-6.2l-2.5,3.2m0,0l.8,3.2m43.4-6.6l-2.6,3.5m0,0l.6,3.5m-43-6.6l-2.5,3.2m0,0l.7,3.2m24.8-6.6l-2.5,3.4m0,0l.7,3.4m-45.5-6.3l-2.4,3m0,0l.7,3m67.9-6.5l-2.6,3.5m0,0l.6,3.5m-20.1-6.8l-2.5,3.4m0,0l.7,3.4m-21.4-6.5l-2.5,3.2m0,0l.7,3.2m64.9-6.9l-2.6,3.7m0,0l.6,3.7m-85.5-6.6l-2.5,3m0,0l.8,3m68.2-6.5l-2.5,3.5m0,0l.6,3.5m-20.2-6.8l-2.5,3.4m0,0l.6,3.4m-21.5-6.5l-2.5,3.2m0,0l.8,3.2m65.3-6.9l-2.7,3.7m0,0l.6,3.7m-86-6.6l-2.4,3m0,0l.7,3m68.6-6.5l-2.5,3.5m0,0l.6,3.5m-20.4-6.8l-2.5,3.4m0,0l.7,3.4m-21.7-6.5l-2.4,3.2m0,0l.7,3.2m65.7-6.9l-2.6,3.7m0,0l.5,3.7m-19.2-7.1l-2.5,3.5m0,0l.6,3.5m-20.5-6.8l-2.5,3.4m0,0l.7,3.4m-21.8-6.5l-2.5,3.2m0,0l.7,3.2m66.1-6.9l-2.6,3.7m0,0l.6,3.7m-19.4-7.1l-2.5,3.5m0,0l.6,3.5m40.7-7.4l-2.7,3.9m0,0l.5,3.9m-82.9-7l-2.5,3.2m0,0l.8,3.2m25.5-6.6l-2.6,3.4m0,0l.7,3.4m42.8-7.1l-2.6,3.7m0,0l.6,3.7m-19.5-7l-2.5,3.5m0,0l.6,3.5m40.9-7.4l-2.6,3.9m0,0l.5,3.9m-83.5-7l-2.4,3.2m0,0l.7,3.2m25.6-6.6l-2.5,3.4m0,0l.7,3.4m43.1-7.1l-2.7,3.7m0,0l.6,3.7m-19.6-7.1l-2.6,3.5m0,0l.7,3.5m-20.9-6.8l-2.5,3.4m0,0l.6,3.4m64-7.3l-2.7,3.9m0,0l.5,3.9m-83.9-7l-2.5,3.2m0,0l.7,3.2m67.3-6.9l-2.6,3.7m0,0l.5,3.7m-19.7-7.1l-2.6,3.5m0,0l.7,3.5m-21-6.8l-2.6,3.4m0,0l.7,3.4m64.3-7.3l-2.6,3.9m0,0l.5,3.9m-18.6-7.5l-2.6,3.7m0,0l.6,3.7m-19.9-7.1l-2.6,3.5m0,0l.7,3.5m-21.2-6.8l-2.5,3.4m0,0l.7,3.4m64.7-7.3l-2.7,3.9m0,0l.6,3.9m-18.8-7.5l-2.6,3.7m0,0l.6,3.7m-20-7.1l-2.6,3.5m0,0l.7,3.5m42-7.4l-2.7,3.9m0,0l.5,3.9m-61.1-7.2l-2.5,3.4m0,0l.6,3.4m44.2-7l-2.7,3.7m0,0l.6,3.7m-20.1-7.1l-2.6,3.5m0,0l.7,3.5m42.2-7.4l-2.7,3.9m0,0l.6,3.9m-61.6-7.2l-2.5,3.4m0,0l.7,3.4m44.4-7l-2.6,3.7m0,0l.6,3.7m-20.3-7.1l-2.6,3.5m0,0l.6,3.5m42.6-7.4l-2.7,3.9m0,0l.5,3.9m-19.1-7.5l-2.6,3.7m0,0l.6,3.7m-20.4-7.1l-2.6,3.5m0,0l.6,3.5m42.8-7.3l-2.6,3.9m0,0l.5,3.9m-19.2-7.5l-2.7,3.7m0,0l.6,3.7m-20.5-7.1l-2.6,3.5m0,0l.6,3.5m43.1-7.3l-2.7,3.9m0,0l.5,3.9m-19.3-7.5l-2.6,3.7m0,0l.5,3.7m-20.6-7.1l-2.6,3.5m0,0l.6,3.5m43.4-7.3l-2.7,3.9m0,0l.5,3.9m-19.5-7.5l-2.6,3.7m0,0l.6,3.7m-20.8-7.1l-2.6,3.5m0,0l.6,3.5m43.6-7.3l-2.7,3.9m0,0l.6,3.9m-19.7-7.5l-2.6,3.7m0,0l.6,3.7m21-7.4l-2.7,3.9m0,0l.5,3.9m-19.7-7.5l-2.7,3.7m0,0l.6,3.7m21.1-7.4l-2.6,3.9m0,0l.5,3.9m-19.9-7.5l-2.6,3.7m0,0l.5,3.7m21.3-7.4l-2.7,3.9m0,0l.5,3.9m-20-7.5l-2.6,3.7m0,0l.6,3.7m21.3-7.5l-2.6,3.9m0,0l.5,3.9m-.7-7.5l-2.7,3.9m0,0l.6,3.9m-.7-7.5l-2.7,3.9m0,0l.5,3.9m-.7-7.5l-2.7,3.9m0,0l.6,3.9m-.7-7.5l-2.7,3.9m0,0l.5,3.9" stroke="#45454f" stroke-width="1.1" fill="none"/>
<g fill="none" stroke-linecap="round">
<path d="M1746,281.6h0m-4.1,.3h0m-4.2,.2h0m-4.2,.3h0m-4.1,.3h0m-4.2,.2h0m25.7,.2h0m-4.1,.2h0m-25.7-.1h0m-4.2,.2h0m25.9,.2h0m-30,.1h0m26,.2h0m-4,.2h0m24.9,.2h0m-51.1-.3h0m-4.2,.2h0m26.3,.2h0m25.1,.2h0m-3.9,.2h0m-51.6-.3h0m26.4,.2h0m-4,.2h0m25.3,.2h0m-51.9-.3h0m-4.1,.2h0m26.6,.2h0m25.5,.2h0m-3.9,.2h0m24.5,.1h0m-76.9-.4h0m26.8,.2h0m-30.9,0h0m26.9,.2h0m25.8,.2h0m24.5,.1h0m-3.7,.2h0m-77.7-.4h0m27.1,.2h0m25.9,.2h0m-3.9,.2h0m24.8,.1h0m-78.1-.4h0m27.2,.2h0m70.9,.6h0m-102.2-.6h0m27.3,.2h0m26.2,.2h0m24.9,.1h0m-3.7,.2h0m23.9,.2h0m-102.8-.6h0m27.5,.2h0m26.3,.2h0m45.4,.4h0m-24.1-.1h0m-51.6-.2h0m26.4,.2h0m45.6,.4h0m-76.1-.4h0m26.6,.2h0m25.4,.1h0m20.5,.4h0m-76.5-.4h0m26.7,.2h0m25.5,.1h0m43.9,.5h0m-47.7-.3h0m24.5,.2h0m-76.9-.4h0m26.8,.2h0m46.4,.4h0m23.4,.2h0m-73.7-.4h0m25.8,.1h0m44.4,.5h0m-23.5-.1h0m-50.6-.2h0m25.9,.1h0m44.7,.5h0m-48.5-.3h0m24.9,.2h0m-50.9-.2h0m93.6,.7h0m-22.6-.1h0m-74.9-.4h0m26.2,.1h0m24.9,.2h0m43.1,.5h0m-46.7-.3h0m23.9,.2h0m-75.3-.4h0m26.3,.1h0m45.5,.5h0m22.9,.2h0m-46.9-.3h0m-25.3-.1h0m68.8,.6h0m-23-.1h0m-49.5-.3h0m25.3,.2h0m43.9,.5h0m-23.2-.1h0m-49.8-.3h0m25.5,.2h0m66.2,.6h0m-22.1-.1h0m-47.7-.3h0m24.4,.2h0m-50-.3h0m92.1,.8h0m-22.2-.1h0m-47.9-.3h0m24.5,.2h0m42.4,.5h0m-45.9-.3h0m23.5,.2h0m-48.2-.3h0m67.3,.6h0m-22.4-.1h0m-23.7-.1h0m64.3,.5h0m-89.1-.6h0m67.7,.6h0m-22.6-.1h0m-48.7-.3h0m24.9,.2h0m64.7,.5h0m-21.5,0h0m-22.8-.1h0m-49-.3h0m25.1,.2h0m65.1,.5h0m-21.7,0h0m-46.9-.3h0m24.1,.2h0m41.4,.4h0m-44.8-.2h0m23,.2h0m-47.2-.3h0m65.9,.5h0m-21.9,0h0m-23.2-.1h0m62.9,.5h0m-87.2-.6h0m66.3,.5h0m-22.1,0h0m-23.2-.1h0m63.2,.5h0m-87.7-.6h0m66.7,.5h0m-22.2,0h0m-23.4-.1h0m63.6,.5h0m-21.1-.1h0m-22.3,0h0m-23.6-.1h0m64.1,.5h0m-21.3-.1h0m38.5,.4h0m-84.6-.6h0m23.6,.2h0m40.8,.3h0m-21.4,0h0m38.8,.4h0m-85.2-.6h0m23.8,.2h0m41,.3h0m-21.5-.1h0m-22.8,0h0m61.8,.5h0m-85.7-.6h0m65.2,.5h0m-21.6-.1h0m-22.9,0h0m62.2,.5h0m-20.6-.1h0m-21.8-.1h0m-23,0h0m62.6,.5h0m-20.8-.1h0m-21.9-.1h0m39.8,.4h0m-63-.4h0m42.1,.4h0m-22-.1h0m40.1,.4h0m-63.4-.4h0m42.4,.4h0m-22.3-.1h0m40.4,.4h0m-21.1-.1h0m-22.4-.1h0m40.7,.5h0m-21.3-.1h0m-22.5-.1h0m40.9,.5h0m-21.4-.1h0m-22.6-.1h0m41.2,.5h0m-21.5-.1h0m-22.8-.1h0m41.5,.5h0m-21.7-.1h0m18.8,.4h0m-21.8-.1h0m19,.4h0m-22-.1h0m19.1,.4h0m-22-.1h0m19.2,.3h0m-2.8,.3h0m-2.9,.3h0m-2.8,.3h0m-2.9,.3h0" stroke="#e0a824" stroke-width="3.2"/>
<path d="M1745,279.5h0m-4.2,.3h0m-4.1,.2h0m-4.2,.3h0m-4.1,.3h0m-4.2,.2h0m25.7,0h0m-4,.2h0m-25.8,.1h0m-4.2,.2h0m25.9,0h0m-30.1,.3h0m26.1,0h0m-4,.2h0m25,0h0m-51.2,.1h0m-4.2,.2h0m26.4,0h0m25.1,0h0m-3.9,.2h0m-51.7,.1h0m26.4,0h0m-4,.2h0m25.4,0h0m-52,.1h0m-4.2,.2h0m26.8,0h0m25.5,0h0m-3.9,.2h0m24.5,0h0m-77,.1h0m26.9,0h0m-31.1,.2h0m27,0h0m25.8,0h0m24.7,0h0m-3.8,.2h0m-77.8,.1h0m27.1,0h0m25.9,0h0m-3.9,.2h0m24.9,0h0m-78.2,.1h0m27.3,0h0m71,.1h0m-102.4,.1h0m27.3,0h0m26.2,0h0m25.1,0h0m-3.8,.2h0m24,0h0m-103,.1h0m27.5,0h0m26.4,0h0m45.4,.1h0m-24.1,.1h0m-51.7,.1h0m26.5,0h0m45.7,.1h0m-76.2,.1h0m26.6,0h0m25.4,0h0m20.6,.2h0m-76.7,.1h0m26.8,0h0m25.5,0h0m44.1,.1h0m-47.9,.1h0m24.5,0h0m-77,.1h0m26.9,0h0m46.5,.1h0m23.4,0h0m-73.8,.1h0m25.8,0h0m44.6,.1h0m-23.6,.1h0m-50.7,.1h0m25.9,0h0m44.8,.1h0m-48.5,.1h0m24.8,0h0m-50.9,.1h0m93.8,0h0m-22.6,.1h0m-75.1,.1h0m26.2,0h0m25,0h0m43.1,.1h0m-46.7,.1h0m23.9,0h0m-75.4,.1h0m26.3,0h0m45.7,.1h0m22.9,0h0m-47,.1h0m-25.3,.1h0m68.9,0h0m-23.1,.1h0m-49.6,.1h0m25.4,0h0m43.9,.1h0m-23.2,.1h0m-49.9,.1h0m25.6,0h0m66.3,0h0m-22.1,.1h0m-47.8,.1h0m24.4,0h0m-50.1,.1h0m92.3,0h0m-22.2,.1h0m-48.1,.1h0m24.7,0h0m42.4,.1h0m-46,.1h0m23.6,0h0m-48.3,.1h0m67.5,0h0m-22.5,.1h0m-23.7,.1h0m64.4,0h0m-89.3,.1h0m67.8,0h0m-22.6,.1h0m-48.9,.1h0m25,0h0m64.9,0h0m-21.6,.1h0m-22.8,.1h0m-49.1,.1h0m25.2,0h0m65.2,0h0m-21.7,.1h0m-47.1,.1h0m24.1,0h0m41.6,.1h0m-44.9,.1h0m23,0h0m-47.2,.1h0m66,0h0m-22,.1h0m-23.2,.1h0m63,0h0m-87.4,.1h0m66.5,0h0m-22.1,.1h0m-23.4,.1h0m63.4,0h0m-87.8,.1h0m66.8,0h0m-22.3,.1h0m-23.4,.1h0m63.8,0h0m-21.2,.1h0m-22.4,.1h0m-23.6,.1h0m64.2,0h0m-21.3,.1h0m38.6,0h0m-84.9,.1h0m23.7,0h0m40.9,0h0m-21.4,.2h0m38.9,0h0m-85.4,.1h0m23.8,0h0m41.1,0h0m-21.6,.1h0m-22.7,.1h0m61.9,0h0m-85.9,.1h0m65.4,0h0m-21.8,.1h0m-22.9,.1h0m62.4,0h0m-20.7,.1h0m-21.9,.1h0m-23,.1h0m62.7,0h0m-20.8,.1h0m-22,.1h0m40,0h0m-63.1,.1h0m42.1,.1h0m-22.1,.1h0m40.2,0h0m-63.5,.1h0m42.5,.1h0m-22.3,.1h0m40.5,0h0m-21.2,.1h0m-22.4,.1h0m40.8,.1h0m-21.4,.1h0m-22.5,.1h0m41,.1h0m-21.4,.1h0m-22.7,.1h0m41.3,.1h0m-21.6,.1h0m-22.8,.1h0m41.5,.1h0m-21.7,.1h0m18.9,.2h0m-21.9,.1h0m19.1,.2h0m-22,.1h0m19.1,.2h0m-22.1,.1h0m19.3,.1h0m-2.9,.3h0m-2.8,.3h0m-2.9,.3h0m-2.8,.3h0" stroke="#36b236" stroke-width="2.8"/>
<path d="M1747.2,277.4h0m-4.2,.3h0m-4.1,.2h0m-4.2,.3h0m-4.2,.3h0m-4.1,.2h0m25.7-.2h0m-4,.2h0m-25.9,.3h0m-4.1,.2h0m26-.2h0m-30.2,.5h0m26.1-.2h0m-4,.2h0m25.1-.2h0m-51.3,.5h0m-4.2,.2h0m26.4-.2h0m25.2-.2h0m-3.9,.2h0m-51.9,.5h0m26.6-.2h0m-4.1,.2h0m25.5-.2h0m-52.1,.5h0m-4.2,.2h0m26.8-.2h0m25.6-.2h0m-3.9,.2h0m24.5-.1h0m-77.1,.6h0m26.9-.2h0m-31.1,.4h0m27.1-.2h0m25.8-.2h0m24.7-.1h0m-3.8,.2h0m-77.9,.6h0m27.1-.2h0m26-.2h0m-3.9,.2h0m25-.1h0m-78.4,.6h0m27.3-.2h0m71.2-.4h0m-102.7,.8h0m27.5-.2h0m26.2-.2h0m25.1-.1h0m-3.8,.2h0m24-.2h0m-103.1,.8h0m27.5-.2h0m26.4-.2h0m45.6-.2h0m-24.1,.3h0m-51.9,.4h0m26.5-.2h0m45.9-.2h0m-76.4,.6h0m26.6-.2h0m25.5-.1h0m20.6,0h0m-76.7,.6h0m26.7-.2h0m25.6-.1h0m44.2-.3h0m-47.9,.5h0m24.5-.2h0m-77.2,.6h0m27-.2h0m46.6-.2h0m23.5-.2h0m-74,.6h0m25.8-.1h0m44.7-.3h0m-23.6,.3h0m-50.8,.4h0m25.9-.1h0m45-.3h0m-48.7,.5h0m24.9-.2h0m-51,.4h0m94-.7h0m-22.7,.3h0m-75.2,.6h0m26.2-.1h0m25.1-.2h0m43.2-.3h0m-46.8,.5h0m24-.2h0m-75.6,.6h0m26.4-.1h0m45.7-.3h0m22.9-.2h0m-47.1,.5h0m-25.3,.3h0m69.1-.6h0m-23.1,.3h0m-49.8,.5h0m25.5-.2h0m44-.3h0m-23.2,.3h0m-50,.5h0m25.6-.2h0m66.4-.6h0m-22.2,.3h0m-47.9,.5h0m24.6-.2h0m-50.3,.5h0m92.6-.8h0m-22.3,.3h0m-48.2,.5h0m24.7-.2h0m42.5-.3h0m-46,.5h0m23.6-.2h0m-48.4,.5h0m67.6-.6h0m-22.6,.3h0m-23.7,.3h0m64.6-.5h0m-89.6,.8h0m68.1-.6h0m-22.7,.3h0m-49,.5h0m25.1-.2h0m65-.5h0m-21.7,.2h0m-22.8,.3h0m-49.2,.5h0m25.2-.2h0m65.4-.5h0m-21.8,.2h0m-47.1,.5h0m24.1-.2h0m41.7-.2h0m-45,.4h0m23-.2h0m-47.3,.5h0m66.2-.5h0m-22.1,.2h0m-23.2,.3h0m63.1-.5h0m-87.5,.8h0m66.5-.5h0m-22.1,.2h0m-23.4,.3h0m63.6-.5h0m-88.1,.8h0m66.9-.5h0m-22.3,.2h0m-23.5,.3h0m64-.5h0m-21.3,.3h0m-22.4,.2h0m-23.6,.3h0m64.3-.5h0m-21.4,.3h0m38.8-.4h0m-85.1,.8h0m23.8-.2h0m40.9-.3h0m-21.5,.4h0m39-.4h0m-85.6,.8h0m23.9-.2h0m41.3-.3h0m-21.7,.3h0m-22.8,.2h0m62.1-.5h0m-86.1,.8h0m65.5-.5h0m-21.8,.3h0m-22.9,.2h0m62.4-.5h0m-20.7,.3h0m-21.9,.3h0m-23.1,.2h0m62.9-.5h0m-20.9,.3h0m-22,.3h0m40.1-.4h0m-63.3,.6h0m42.3-.2h0m-22.2,.3h0m40.3-.4h0m-63.7,.6h0m42.6-.2h0m-22.3,.3h0m40.6-.4h0m-21.3,.3h0m-22.4,.3h0m40.8-.3h0m-21.3,.3h0m-22.6,.3h0m41.1-.3h0m-21.5,.3h0m-22.7,.3h0m41.4-.3h0m-21.7,.3h0m-22.8,.3h0m41.6-.3h0m-21.8,.3h0m19,0h0m-21.9,.3h0m19,0h0m-22,.3h0m19.2,0h0m-22.2,.3h0m19.3-.1h0m-2.8,.3h0m-2.8,.3h0m-2.9,.3h0m-2.8,.3h0" stroke="#e0a824" stroke-width="3.2"/>
</g>
<text x="1614.6" y="289.1" font-family="Liberation Sans, Arial, sans-serif" font-size="12" fill="#222">MoS<tspan font-size="8" dy="2.5">2</tspan></text>
<text x="1614.6" y="313.7" font-family="Liberation Sans, Arial, sans-serif" font-size="12" fill="#222">MoS<tspan font-size="8" dy="2.5">2</tspan></text>
<path d="M1734.5,442.7L1739.1,435.7H1737.2V423H1731.8V435.7H1729.9Z" fill="#262626"/>
<path d="M1709.6,396.7l2.4,2.8m0,0l-.8,2.8m-5.4-4.8l2.4,2.8m0,0l-.9,2.8m-5.3-4.8l2.3,2.8m0,0l-.8,2.8m9.8-5.7l2.4,2.9m0,0l-.8,2.9m-16.8-4.9l2.4,2.8m0,0l-.8,2.8m21.1-5.9l2.5,3.1m0,0l-.8,3.1m-13-5.9l2.4,2.9m0,0l-.8,2.9m-16.8-5l2.4,2.8m0,0l-.9,2.8m9.9-5.6l2.4,2.9m0,0l-.8,2.9m9.7-6l2.5,3.1m0,0l-.8,3.1m-28.2-5.2l2.3,2.8m0,0l-.8,2.8m32.6-6l2.4,3.2m0,0l-.7,3.2m-24.4-5.9l2.4,2.9m0,0l-.8,2.9m9.7-6l2.5,3.1m0,0l-.8,3.1m-28.3-5.4l2.4,2.8m0,0l-.8,2.8m43.9-6.2l2.5,3.4m0,0l-.7,3.4m-35.9-6l2.4,2.9m0,0l-.7,2.9m21-6.1l2.5,3.2m0,0l-.7,3.2m-13.1-6.2l2.5,3.1m0,0l-.8,3.1m-28.3-5.5l2.4,2.8m0,0l-.9,2.8m44-6l2.5,3.4m0,0l-.7,3.4m-35.9-6.1l2.4,2.9m0,0l-.8,2.9m21.1-6.1l2.5,3.2m0,0l-.7,3.2m-13.1-6.2l2.4,3.1m0,0l-.7,3.1m-28.3-5.6l2.3,2.8m0,0l-.8,2.8m55.3-6.2l2.5,3.5m0,0l-.6,3.5m-47.3-6.1l2.4,2.9m0,0l-.8,2.9m32.5-6.2l2.5,3.4m0,0l-.7,3.4m-24.5-6.4l2.4,3.1m0,0l-.7,3.1m9.6-6.3l2.5,3.2m0,0l-.7,3.2m-39.8-5.8l2.4,2.8m0,0l-.8,2.8m66.6-6.4l2.6,3.6m0,0l-.6,3.6m-13.3-6.7l2.6,3.5m0,0l-.7,3.5m-47.3-6.3l2.4,2.9m0,0l-.8,2.9m9.8-5.8l2.4,3.1m0,0l-.7,3.1m21-6.5l2.5,3.4m0,0l-.7,3.4m-51.2-6.1l2.4,2.8m0,0l-.9,2.8m36.5-6l2.5,3.2m0,0l-.7,3.2m28.4-6.5l2.6,3.6m0,0l-.6,3.6m-58.8-6.3l2.4,2.9m0,0l-.7,2.9m43.8-6.2l2.6,3.5m0,0l-.7,3.5m-62.6-6.2l2.3,2.8m0,0l-.8,2.8m25.2-5.9l2.4,3.1m0,0l-.8,3.1m21.1-6.4l2.5,3.4m0,0l-.7,3.4m28.3-7.2l2.6,3.8m0,0l-.5,3.8m-43.6-6.9l2.5,3.2m0,0l-.7,3.2m-28.4-5.7l2.4,2.9m0,0l-.8,2.9m55.2-6.5l2.6,3.6m0,0l-.6,3.6m16.8-7.4l2.7,3.9m0,0l-.5,3.9m-93.1-6.6l2.4,2.8m0,0l-.8,2.8m25.1-5.8l2.5,3.1m0,0l-.8,3.1m32.4-6.5l2.6,3.5m0,0l-.6,3.5m-24.7-6.6l2.5,3.2m0,0l-.7,3.2m9.6-6.6l2.5,3.4m0,0l-.7,3.4m28.3-7l2.7,3.8m0,0l-.6,3.8m-70.2-6.6l2.4,2.9m0,0l-.8,2.9m9.8-5.6l2.5,3.1m0,0l-.8,3.1m43.8-6.7l2.6,3.6m0,0l-.6,3.6m16.7-7.3l2.7,3.9m0,0l-.5,3.9m-55-7l2.5,3.2m0,0l-.7,3.2m20.9-6.7l2.6,3.5m0,0l-.6,3.5m-13.3-6.8l2.5,3.4m0,0l-.7,3.4m-39.8-6.2l2.4,2.9m0,0l-.8,2.9m66.6-6.5l2.6,3.8m0,0l-.5,3.8m16.6-7.9l2.8,4.1m0,0l-.5,4.1m-77.8-7l2.5,3.1m0,0l-.8,3.1m43.8-6.5l2.6,3.6m0,0l-.6,3.6m-36.1-6.6l2.5,3.2m0,0l-.7,3.2m69.8-7.4l2.8,4.2m0,0l-.5,4.2m-62.5-7.5l2.5,3.4m0,0l-.6,3.4m9.5-6.9l2.5,3.5m0,0l-.6,3.5m28.2-7.4l2.7,3.9m0,0l-.6,3.9m-70.2-6.5l2.4,3.1m0,0l-.7,3.1m55.1-6.9l2.7,3.8m0,0l-.6,3.8m16.7-7.7l2.7,4.1m0,0l-.5,4.1m-66.4-7.2l2.5,3.2m0,0l-.7,3.2m32.3-6.7l2.6,3.6m0,0l-.6,3.6m-24.7-6.9l2.5,3.4m0,0l-.6,3.4m9.5-6.9l2.5,3.5m0,0l-.6,3.5m47-7.5l2.7,4.2m0,0l-.4,4.2m-21.1-8l2.7,3.9m0,0l-.5,3.9m-70.3-6.9l2.4,3.1m0,0l-.7,3.1m9.7-5.9l2.5,3.2m0,0l-.7,3.2m43.6-7l2.7,3.8m0,0l-.6,3.8m35.5-8.2l2.8,4.4m0,0l-.4,4.4m-74-7.6l2.5,3.4m0,0l-.6,3.4m20.8-7l2.6,3.6m0,0l-.6,3.6m28.1-7.7l2.8,4.1m0,0l-.5,4.1m-43.7-7.5l2.6,3.5m0,0l-.7,3.5m65.7-7.9l2.9,4.5m0,0l-.4,4.5m-39.9-8l2.7,3.9m0,0l-.6,3.9m16.6-8.1l2.8,4.2m0,0l-.4,4.2m-77.9-7.2l2.5,3.2m0,0l-.7,3.2m43.7-6.8l2.6,3.8m0,0l-.5,3.8m-36.2-7.1l2.5,3.4m0,0l-.6,3.4m9.5-6.8l2.6,3.5m0,0l-.7,3.5m9.5-7.1l2.6,3.6m0,0l-.6,3.6m46.8-8l2.8,4.4m0,0l-.4,4.4m-21.1-8.4l2.7,4.1m0,0l-.5,4.1m24-8.2l2.8,4.5m0,0l-.3,4.5m-40-8.3l2.7,3.9m0,0l-.5,3.9m16.6-7.9l2.8,4.2m0,0l-.5,4.2m-66.5-7.5l2.6,3.4m0,0l-.7,3.4m32.2-7.1l2.7,3.8m0,0l-.6,3.8m54.2-8.4l2.9,4.6m0,0l-.4,4.6m-81.5-8l2.6,3.5m0,0l-.7,3.5m9.5-7.1l2.6,3.6m0,0l-.6,3.6m28.2-7.4l2.7,4.1m0,0l-.5,4.1m16.5-8.5l2.8,4.4m0,0l-.4,4.4m23.7-9.2l3,4.8m0,0l-.3,4.8m-104.3-7.7l2.6,3.4m0,0l-.7,3.4m43.6-7.3l2.6,3.9m0,0l-.5,3.9m35.4-8.3l2.8,4.5m0,0l-.3,4.5m-74.1-7.8l2.6,3.5m0,0l-.6,3.5m20.8-7.3l2.6,3.8m0,0l-.6,3.8m28.1-8l2.7,4.2m0,0l-.4,4.2m-43.8-7.7l2.6,3.6m0,0l-.6,3.6m65.7-8l2.9,4.6m0,0l-.4,4.6m-40-8.4l2.7,4.1m0,0l-.5,4.1m16.6-8.4l2.8,4.4m0,0l-.4,4.4m23.7-9.1l3,4.8m0,0l-.3,4.8m-58.9-8.6l2.7,3.9m0,0l-.5,3.9m-36.2-7.2l2.5,3.5m0,0l-.6,3.5m9.4-7l2.6,3.6m0,0l-.6,3.6m9.4-7.4l2.6,3.8m0,0l-.5,3.8m72.9-8.7l3,4.9m0,0l-.3,4.9m-28.8-9.3l2.8,4.5m0,0l-.3,4.5m-21.3-8.6l2.8,4.2m0,0l-.4,4.2m50-9.2l3,5.1m0,0l-.3,5.1m-66.3-8.8l2.7,4.1m0,0l-.5,4.1m35.3-8.7l2.8,4.6m0,0l-.3,4.6m-21.2-8.8l2.8,4.4m0,0l-.4,4.4m-32.5-8.2l2.6,3.9m0,0l-.5,3.9m-24.8-7.4l2.6,3.6m0,0l-.6,3.6m9.3-7.3l2.7,3.8m0,0l-.6,3.8m65.6-8.6l2.9,4.8m0,0l-.3,4.8m-40.1-8.7l2.8,4.2m0,0l-.5,4.2m16.5-8.6l2.8,4.5m0,0l-.4,4.5m23.7-9.3l3,4.9m0,0l-.3,4.9m-58.9-8.7l2.7,4.1m0,0l-.4,4.1m61.4-9.1l3,5.1m0,0l-.2,5.1m-28.9-9.6l2.8,4.6m0,0l-.3,4.6m-74.1-8.1l2.6,3.6m0,0l-.6,3.6m20.7-7.5l2.7,3.9m0,0l-.5,3.9m-13.5-7.6l2.6,3.8m0,0l-.6,3.8m39.4-8.2l2.8,4.4m0,0l-.4,4.4m49.9-9.6l3.1,5.2m0,0l-.2,5.2m-28.9-9.6l2.9,4.8m0,0l-.3,4.8m-40.1-8.9l2.7,4.2m0,0l-.4,4.2m16.5-8.5l2.8,4.5m0,0l-.4,4.5m-32.5-8.4l2.7,4.1m0,0l-.5,4.1m54-9l3,4.9m0,0l-.3,4.9m-70.3-8.6l2.7,3.9m0,0l-.5,3.9m-13.5-7.6l2.6,3.8m0,0l-.5,3.8m39.4-8l2.8,4.4m0,0l-.4,4.4m16.4-9l2.8,4.6m0,0l-.3,4.6m23.6-9.7l3,5.1m0,0l-.2,5.1m4.7-9.9l3,5.2m0,0l-.2,5.2m-66.5-9.3l2.8,4.2m0,0l-.5,4.2m35.3-8.9l2.9,4.8m0,0l-.3,4.8m-51.5-8.7l2.7,4.1m0,0l-.4,4.1m27.8-8.6l2.9,4.5m0,0l-.4,4.5m-43.9-8.2l2.7,3.9m0,0l-.5,3.9m65.5-8.6l2.9,4.9m0,0l-.2,4.9m-40.2-9.1l2.8,4.4m0,0l-.4,4.4m16.4-8.8l2.8,4.6m0,0l-.3,4.6m23.6-9.6l3,5.1m0,0l-.2,5.1m-59-9.1l2.8,4.2m0,0l-.5,4.2m-13.6-8l2.7,4.1m0,0l-.5,4.1m46.7-8.9l2.9,4.8m0,0l-.3,4.8m23.5-10l3,5.2m0,0l-.1,5.2m-89.3-9l2.7,3.9m0,0l-.5,3.9m39.3-8.4l2.9,4.5m0,0l-.4,4.5m-13.7-8.3l2.8,4.4m0,0l-.5,4.4m35.2-9.3l2.9,4.9m0,0l-.2,4.9m-21.5-9.3l2.9,4.6m0,0l-.3,4.6m-32.6-8.6l2.7,4.2m0,0l-.4,4.2m-13.7-8.1l2.8,4.1m0,0l-.5,4.1m65.4-9.2l2.9,5.1m0,0l-.2,5.1m-40.2-9.3l2.8,4.5m0,0l-.3,4.5m16.3-9.2l2.9,4.8m0,0l-.3,4.8m23.5-9.9l3.1,5.2m0,0l-.2,5.2m-59.1-9.3l2.8,4.4m0,0l-.4,4.4m-13.7-8.3l2.8,4.2m0,0l-.5,4.2m46.6-9.1l2.9,4.9m0,0l-.2,4.9m-21.5-9.4l2.9,4.6m0,0l-.3,4.6m23.7-9.2l3,5.1m0,0l-.2,5.1m-40.3-9.5l2.8,4.5m0,0l-.3,4.5m16.3-9.1l2.9,4.8m0,0l-.3,4.8m-32.7-9l2.8,4.4m0,0l-.4,4.4m53.9-9.5l3,5.2m0,0l-.2,5.2m-70.4-9.2l2.7,4.2m0,0l-.4,4.2m27.8-8.6l2.9,4.6m0,0l-.3,4.6m16.2-9.5l2.9,4.9m0,0l-.2,4.9m-32.7-8.8l2.8,4.5m0,0l-.4,4.5m35.1-9.5l3,5.1m0,0l-.2,5.1m-21.5-9.7l2.9,4.8m0,0l-.3,4.8m-32.7-9.1l2.8,4.4m0,0l-.4,4.4m53.9-9.2l3,5.2m0,0l-.1,5.2m-40.4-9.6l2.9,4.6m0,0l-.3,4.6m16.2-9.4l3,4.9m0,0l-.3,4.9m-32.7-9l2.8,4.5m0,0l-.4,4.5m16.4-8.9l2.9,4.8m0,0l-.3,4.8m16.1-9.9l3,5.1m0,0l-.2,5.1m-32.8-9.1l2.9,4.6m0,0l-.3,4.6m34.9-9.8l3.1,5.2m0,0l-.2,5.2m-21.6-9.8l3,4.9m0,0l-.3,4.9m-32.8-9.2l2.9,4.5m0,0l-.4,4.5m16.4-8.8l2.9,4.8m0,0l-.3,4.8m16.2-9.8l2.9,5.1m0,0l-.2,5.1m-32.8-9.2l2.9,4.6m0,0l-.3,4.6m35-9.6l3,5.2m0,0l-.2,5.2m-21.6-9.9l3,4.9m0,0l-.3,4.9m-13.9-9.1l2.9,4.8m0,0l-.3,4.8m16.2-9.7l3,5.1m0,0l-.2,5.1m-14.1-9.2l3,4.9m0,0l-.2,4.9m16-10.1l3,5.2m0,0l-.1,5.2m-32.9-9.3l2.9,4.8m0,0l-.3,4.8m16.2-9.6l3,5.1m0,0l-.2,5.1m-14-9.3l2.9,4.9m0,0l-.2,4.9m16-10l3.1,5.2m0,0l-.2,5.2m-14.1-9.4l3,5.1m0,0l-.2,5.1m4.8-9.4l3,5.2m0,0l-.2,5.2m-14.1-9.5l3,5.1m0,0l-.2,5.1m4.8-9.3l3,5.2m0,0l-.1,5.2" stroke="#45454f" stroke-width="1.1" fill="none"/>
<g fill="none" stroke-linecap="round">
<path d="M1711.2,402.3h0m-3.9,.8h0m-3.8,.8h0m11.4,.1h0m-15.2,.7h0m22.8,.3h0m-11.4-.1h0m-15.3,.6h0m11.5,.2h0m11.4,.2h0m-26.7,.4h0m34.3,.4h0m-22.8-.1h0m11.4,.2h0m-26.7,.2h0m45.7,.6h0m-34.2-.2h0m22.8,.3h0m-11.4,0h0m-26.8,.1h0m45.8,.8h0m-34.3-.3h0m22.9,.3h0m-11.4,0h0m-26.8,0h0m57.2,.8h0m-45.7-.3h0m34.3,.6h0m-22.8-.2h0m11.4,.1h0m-38.2-.2h0m68.6,.8h0m-11.4,.3h0m-45.7-.5h0m11.5,.4h0m22.8,.3h0m-49.7-.5h0m38.3,.4h0m30.4,.7h0m-57.1-.5h0m45.7,.8h0m-61.1-.6h0m26.8,.3h0m22.9,.4h0m30.4,.4h0m-41.8-.5h0m-26.8,.1h0m57.2,.7h0m19,.4h0m-91.5-1h0m26.8,.4h0m34.4,.5h0m-22.9-.2h0m11.4,.2h0m30.4,.6h0m-68.6-.8h0m11.5,.6h0m45.8,.5h0m18.9,.5h0m-53.2-.6h0m22.9,.3h0m-11.5,0h0m-38.2-.4h0m68.7,1.1h0m18.9,.3h0m-76.1-.8h0m45.8,.7h0m-34.3-.2h0m72.1,1h0m-60.6-.7h0m11.4,.1h0m30.3,.4h0m-68.5-.3h0m57.2,.7h0m18.9,.5h0m-64.6-.8h0m34.3,.5h0m-22.8-.1h0m11.4,.1h0m49.3,.9h0m-18.9-.2h0m-68.6-.7h0m11.5,.5h0m45.7,.6h0m37.9,.6h0m-72.1-.8h0m22.8,.2h0m30.4,.5h0m-41.8-.5h0m68.2,1.1h0m-37.8-.2h0m19,.3h0m-76.1-.8h0m45.8,.8h0m-34.3-.3h0m11.4,.2h0m11.5,.1h0m49.2,.8h0m-18.9-.2h0m26.5,.8h0m-37.8-.5h0m18.9,.5h0m-64.6-.7h0m34.3,.5h0m56.7,.8h0m-79.6-1h0m11.5,.1h0m30.4,.8h0m18.9,.3h0m26.4,.4h0m-102.4-.9h0m45.7,.5h0m37.9,.7h0m-72.1-.8h0m22.8,.3h0m30.4,.4h0m-41.8-.5h0m68.2,1.2h0m-37.8-.2h0m19,.4h0m26.4,.5h0m-56.7-.8h0m-34.3-.2h0m11.4,.2h0m11.5,.2h0m75.6,1.1h0m-26.3-.3h0m-18.9-.2h0m52.7,1h0m-64.1-.6h0m37.8,.5h0m-18.8,0h0m-30.4-.4h0m-22.8-.2h0m11.4,.3h0m68.2,1h0m-37.8-.3h0m18.9,.4h0m26.4,.5h0m-56.6-.5h0m64.2,1.1h0m-26.4-.4h0m-72.1-.9h0m22.9,.3h0m-11.5,0h0m41.8,.6h0m52.8,.8h0m-26.3,0h0m-37.8-.5h0m18.9,.5h0m-30.3-.2h0m56.7,.8h0m-68.1-.8h0m-11.4,0h0m41.8,.8h0m18.9,.2h0m26.4,.5h0m7.5,.5h0m-64.2-.9h0m37.9,.7h0m-49.2-.5h0m30.3,.4h0m-41.7-.4h0m68.2,1.2h0m-37.8-.3h0m18.9,.4h0m26.4,.6h0m-56.7-.7h0m-11.4,.2h0m49.3,.7h0m26.4,.4h0m-87.1-1.2h0m41.8,.6h0m-11.4,.5h0m37.9,.5h0m-18.9-.1h0m-30.3-.2h0m-11.4,.1h0m68.1,1h0m-37.7-.3h0m18.9,.4h0m26.4,.5h0m-56.7-.5h0m-11.4,.1h0m49.3,.7h0m-18.9-.2h0m26.5,1h0m-37.8-.5h0m18.9,.5h0m-30.3-.2h0m56.7,.9h0m-68.1-.8h0m30.4,.6h0m18.9,.3h0m-30.3,.2h0m37.9,.7h0m-18.9-.1h0m-30.3-.3h0m56.8,1.2h0m-37.8-.4h0m18.9,.4h0m-30.3,0h0m19,.7h0m18.9,.3h0m-30.2,.1h0m37.8,.6h0m-18.9,0h0m-30.3-.2h0m19,.8h0m18.9,.4h0m-30.2,0h0m37.8,.8h0m-18.9-.1h0m-11.3,.5h0m19,.5h0m-11.3,.6h0m18.9,.3h0m-30.3,.3h0m19,.6h0m-11.3,.5h0m18.9,.4h0m-11.3,.8h0m7.6,1h0m-11.3,.7h0m7.7,1.1h0" stroke="#bf7fd8" stroke-width="2.7"/>
<path d="M1712,399.5h0m-3.8,.8h0m-3.9,.8h0m11.4,0h0m-15.2,.8h0m22.8,0h0m-11.4,.1h0m-15.2,.7h0m11.4,.1h0m11.4,0h0m-26.7,.7h0m34.2,0h0m-22.7,.2h0m11.4,0h0m-26.7,.5h0m45.6,0h0m-34.2,.3h0m22.8,0h0m-11.3,.1h0m-26.7,.4h0m45.6,.2h0m-34.2,.2h0m22.8,0h0m-11.4,.1h0m-26.7,.3h0m57,.1h0m-45.5,.3h0m34.2,.1h0m-22.8,.1h0m11.4,0h0m-38.1,.2h0m68.4,0h0m-11.3,.4h0m-45.6,.1h0m11.4,.2h0m22.8,0h0m-49.5,.1h0m38.1,0h0m30.3,.3h0m-57,.2h0m45.7,.2h0m-61,.1h0m26.8,0h0m22.8,.1h0m30.2,0h0m-41.6,.1h0m-26.7,.4h0m57,0h0m18.9,.1h0m-91.2,.1h0m26.8,.1h0m34.2,.1h0m-22.8,.1h0m11.4,0h0m30.3,.2h0m-68.4,.1h0m11.5,.4h0m45.6,0h0m18.8,.2h0m-53,.1h0m22.8,0h0m-11.4,.1h0m-38.1,.1h0m68.4,.2h0m18.9,0h0m-75.8,.2h0m45.6,.2h0m-34.2,.2h0m71.9,0h0m-60.5,.1h0m11.4,0h0m30.3,0h0m-68.4,.5h0m57.1,0h0m18.8,.2h0m-64.4,.1h0m34.2,.1h0m-22.8,.1h0m11.4,0h0m49.1,.2h0m-18.8,.1h0m-68.4,.1h0m11.5,.4h0m45.6,0h0m37.7,0h0m-71.9,.2h0m22.8,0h0m30.3,0h0m-41.6,.1h0m67.9,.1h0m-37.6,.4h0m18.8,0h0m-75.8,.2h0m45.6,.2h0m-34.2,.1h0m11.5,.1h0m11.4,0h0m49,0h0m-18.8,.1h0m26.3,.4h0m-37.6,.1h0m18.9,.2h0m-64.4,.1h0m34.2,.1h0m56.5,0h0m-79.3,.1h0m11.4,0h0m30.3,.3h0m18.8,0h0m26.3,0h0m-102,.5h0m45.5,0h0m37.7,.1h0m-71.8,.2h0m22.8,0h0m30.2,0h0m-41.6,.1h0m68,.2h0m-37.7,.3h0m18.9,.1h0m26.3,.1h0m-56.5,.1h0m-34.2,.2h0m11.4,.1h0m11.4,0h0m75.4,0h0m-26.3,.1h0m-18.8,.1h0m52.6,.1h0m-63.9,.4h0m37.6,0h0m-18.7,.2h0m-30.3,.1h0m-22.7,.1h0m11.4,.1h0m67.9,0h0m-37.6,.3h0m18.8,.1h0m26.3,.1h0m-56.5,.3h0m64,.1h0m-26.3,.1h0m-71.8,.1h0m22.8,0h0m-11.4,.1h0m41.6,0h0m52.6,0h0m-26.2,.4h0m-37.7,.1h0m18.9,.2h0m-30.2,.2h0m56.5,0h0m-67.9,.2h0m-11.4,.1h0m41.7,.2h0m18.8,0h0m26.3,0h0m7.5,.4h0m-63.9,.1h0m37.7,.1h0m-49.1,.2h0m30.3,0h0m-41.6,.2h0m67.9,.2h0m-37.6,.2h0m18.8,.2h0m26.3,.1h0m-56.4,.2h0m-11.4,.3h0m49.1,0h0m26.2,0h0m-86.7,.1h0m41.7,0h0m-11.3,.6h0m37.6,0h0m-18.8,.2h0m-30.2,.2h0m-11.3,.2h0m67.8,0h0m-37.6,.3h0m18.9,.1h0m26.3,.1h0m-56.5,.3h0m-11.3,.3h0m49,0h0m-18.8,.1h0m26.4,.5h0m-37.7,.1h0m18.9,.2h0m-30.2,.2h0m56.5,.1h0m-67.9,.2h0m30.3,.2h0m18.8,0h0m-30.1,.6h0m37.7,.1h0m-18.8,.2h0m-30.2,.1h0m56.5,.4h0m-37.6,.2h0m18.9,.1h0m-30.2,.4h0m18.9,.4h0m18.8,0h0m-30.1,.6h0m37.7,0h0m-18.8,.3h0m-30.2,.2h0m18.9,.5h0m18.8,.1h0m-30.1,.5h0m37.7,.2h0m-18.8,.2h0m-11.3,.6h0m18.9,.2h0m-11.3,.8h0m18.8,0h0m-30.1,.7h0m18.9,.3h0m-11.3,.7h0m18.9,.1h0m-11.3,.9h0m7.6,.9h0m-11.3,.8h0m7.6,1h0" stroke="#36b236" stroke-width="3.0"/>
<path d="M1709.6,396.7h0m-3.8,.8h0m-3.8,.8h0m11.3-.1h0m-15.2,.9h0m22.7-.3h0m-11.3,.3h0m-15.2,.8h0m11.4,0h0m11.3-.2h0m-26.5,1h0m34.1-.4h0m-22.7,.5h0m11.3-.2h0m-26.6,.8h0m45.5-.6h0m-34.1,.8h0m22.7-.3h0m-11.3,.2h0m-26.6,.7h0m45.5-.4h0m-34.1,.7h0m22.7-.3h0m-11.3,.2h0m-26.6,.6h0m56.8-.6h0m-45.4,.9h0m34.1-.4h0m-22.7,.4h0m11.3-.1h0m-38,.6h0m68.2-.8h0m-11.3,.5h0m-45.4,.7h0m11.4,0h0m22.7-.3h0m-49.4,.7h0m38-.4h0m30.2-.1h0m-56.8,.9h0m45.5-.4h0m-60.7,.8h0m26.7-.3h0m22.7-.2h0m30.1-.4h0m-41.5,.7h0m-26.6,.7h0m56.8-.7h0m18.8-.2h0m-90.9,1.2h0m26.7-.2h0m34.1-.3h0m-22.7,.4h0m11.4-.2h0m30.1-.2h0m-68.1,1h0m11.4,.2h0m45.5-.5h0m18.7-.1h0m-52.8,.8h0m22.7-.3h0m-11.3,.2h0m-38,.6h0m68.2-.7h0m18.7-.3h0m-75.5,1.2h0m45.5-.3h0m-34.1,.6h0m71.6-1h0m-60.2,.9h0m11.4-.1h0m30.1-.4h0m-68.1,1.3h0m56.8-.7h0m18.8-.1h0m-64.2,1h0m34.1-.3h0m-22.7,.3h0m11.4-.1h0m48.9-.5h0m-18.8,.4h0m-68.1,.9h0m11.4,.3h0m45.4-.6h0m37.6-.6h0m-71.6,1.2h0m22.7-.2h0m30.1-.5h0m-41.4,.7h0m67.6-.9h0m-37.4,1h0m18.7-.3h0m-75.5,1.2h0m45.5-.4h0m-34.1,.5h0m11.4,0h0m11.4-.1h0m48.8-.8h0m-18.7,.4h0m26.2,0h0m-37.5,.7h0m18.8-.1h0m-64.2,.9h0m34.1-.3h0m56.3-.8h0m-79,1.2h0m11.4-.1h0m30.2-.2h0m18.7-.3h0m26.1-.4h0m-101.6,1.9h0m45.5-.5h0m37.5-.5h0m-71.6,1.2h0m22.8-.3h0m30.1-.4h0m-41.5,.7h0m67.7-.8h0m-37.5,.8h0m18.8-.2h0m26.1-.3h0m-56.2,1h0m-34,.6h0m11.3,0h0m11.4-.2h0m75-1.1h0m-26.1,.5h0m-18.8,.4h0m52.4-.8h0m-63.6,1.4h0m37.5-.5h0m-18.7,.4h0m-30.1,.6h0m-22.7,.4h0m11.3-.1h0m67.7-1h0m-37.5,.9h0m18.8-.2h0m26.1-.3h0m-56.2,1.1h0m63.7-.9h0m-26.1,.6h0m-71.6,1.1h0m22.7-.3h0m-11.3,.2h0m41.4-.6h0m52.3-.8h0m-26,.8h0m-37.5,.7h0m18.8-.1h0m-30.1,.6h0m56.2-.8h0m-67.6,1.2h0m-11.3,.2h0m41.5-.4h0m18.8-.2h0m26.1-.5h0m7.5,.3h0m-63.7,1.1h0m37.6-.5h0m-48.9,.9h0m30.1-.4h0m-41.4,.8h0m67.7-.8h0m-37.5,.7h0m18.8,0h0m26.1-.4h0m-56.2,1.1h0m-11.3,.4h0m48.9-.7h0m26.1-.4h0m-86.4,1.4h0m41.5-.6h0m-11.2,.7h0m37.5-.5h0m-18.8,.5h0m-30,.6h0m-11.4,.3h0m67.7-1h0m-37.5,.9h0m18.8-.2h0m26.1-.3h0m-56.2,1.1h0m-11.3,.5h0m48.9-.7h0m-18.8,.4h0m26.3,0h0m-37.5,.7h0m18.8-.1h0m-30.1,.6h0m56.3-.7h0m-67.6,1.2h0m30.1-.2h0m18.8-.3h0m-30,1h0m37.5-.5h0m-18.7,.5h0m-30.1,.5h0m56.3-.4h0m-37.5,.8h0m18.8-.2h0m-30,.8h0m18.8,.1h0m18.7-.3h0m-30,1.1h0m37.5-.6h0m-18.7,.6h0m-30.1,.6h0m18.9,.2h0m18.8-.2h0m-30.1,1h0m37.6-.4h0m-18.8,.5h0m-11.2,.7h0m18.8-.1h0m-11.3,1h0m18.8-.3h0m-30,1.1h0m18.8,0h0m-11.2,.9h0m18.7-.2h0m-11.2,1h0m7.6,.8h0m-11.3,.9h0m7.6,.9h0" stroke="#bf7fd8" stroke-width="2.7"/>
</g>
<path d="M1734.5,352.2L1739.1,359.2H1737.2V385H1731.8V359.2H1729.9Z" fill="#262626"/>
<path d="M1747.2,377.4l-2.2,2.1m0,0l1,2.1m-3-3.9l-2.2,2.1m0,0l1.1,2.1m-3-4l-2.2,2.1m0,0l1,2.1m-3-3.9l-2.2,2.1m0,0l1,2.1m-3-3.9l-2.1,2.1m0,0l1,2.1m-3-4l-2.2,2.1m0,0l1,2.1m26.9-4.4l-2.2,2.3m0,0l1,2.3m-2.8-4.4l-2.2,2.3m0,0l.9,2.3m-24.6-4.3l-2.1,2.1m0,0l1,2.1m-3-4l-2.2,2.1m0,0l1,2.1m27.2-4.4l-2.3,2.3m0,0l1,2.3m-28.9-4.1l-2.2,2.1m0,0l1.1,2.1m27.2-4.4l-2.2,2.3m0,0l1,2.3m-2.8-4.4l-2.2,2.3m0,0l1,2.3m26.3-4.8l-2.3,2.5m0,0l.9,2.5m-49.9-4.5l-2.2,2.1m0,0l1,2.1m-3-4l-2.2,2.1m0,0l1,2.1m27.6-4.4l-2.2,2.3m0,0l.9,2.3m26.5-4.8l-2.3,2.5m0,0l.9,2.5m-2.5-4.8l-2.3,2.5m0,0l.9,2.5m-50.5-4.5l-2.1,2.1m0,0l1,2.1m27.7-4.4l-2.3,2.3m0,0l1,2.3m-2.8-4.4l-2.2,2.3m0,0l1,2.3m26.7-4.8l-2.3,2.5m0,0l.9,2.5m-50.7-4.5l-2.2,2.1m0,0l1,2.1m-3-4l-2.2,2.1m0,0l1.1,2.1m27.9-4.4l-2.2,2.3m0,0l.9,2.3m26.9-4.8l-2.3,2.5m0,0l.9,2.5m-2.5-4.8l-2.3,2.5m0,0l.9,2.5m25.9-5.1l-2.3,2.6m0,0l.9,2.6m-75.7-4.6l-2.2,2.1m0,0l1,2.1m28.1-4.4l-2.2,2.3m0,0l.9,2.3m-29.8-4.2l-2.2,2.1m0,0l1.1,2.1m28.2-4.4l-2.3,2.3m0,0l1,2.3m27.1-4.8l-2.3,2.5m0,0l1,2.5m26-5.1l-2.3,2.6m0,0l.8,2.6m-2.3-5l-2.3,2.6m0,0l.9,2.6m-76.5-4.6l-2.2,2.1m0,0l1,2.1m28.3-4.4l-2.2,2.3m0,0l1,2.3m27.2-4.8l-2.3,2.5m0,0l1,2.5m-2.6-4.8l-2.3,2.5m0,0l1,2.5m26.3-5.1l-2.4,2.6m0,0l.9,2.6m-76.9-4.6l-2.2,2.1m0,0l1,2.1m28.5-4.4l-2.2,2.3m0,0l.9,2.3m72.5-5l-2.4,2.8m0,0l.8,2.8m-101.1-4.8l-2.1,2.1m0,0l1,2.1m28.6-4.4l-2.3,2.3m0,0l1,2.3m27.5-4.8l-2.3,2.5m0,0l1,2.5m26.4-5.1l-2.3,2.6m0,0l.8,2.6m-2.3-5l-2.3,2.6m0,0l.9,2.6m25.4-5.4l-2.3,2.8m0,0l.8,2.8m-101.6-4.8l-2.2,2.1m0,0l1,2.1m28.7-4.4l-2.2,2.3m0,0l1,2.3m27.6-4.8l-2.2,2.5m0,0l.9,2.5m46.9-5.2l-2.4,2.8m0,0l.9,2.8m-22.6-5.3l-2.4,2.6m0,0l.9,2.6m-50.4-4.8l-2.2,2.3m0,0l1,2.3m27.7-4.8l-2.2,2.5m0,0l.9,2.5m47.2-5.2l-2.4,2.8m0,0l.8,2.8m-74.8-5l-2.2,2.3m0,0l.9,2.3m27.9-4.8l-2.2,2.5m0,0l.9,2.5m26.8-5.1l-2.3,2.6m0,0l.9,2.6m22-5.2l-2.3,2.8m0,0l.8,2.8m-75.2-5l-2.3,2.3m0,0l1,2.3m28-4.8l-2.2,2.5m0,0l.9,2.5m26.9-5.1l-2.3,2.6m0,0l.9,2.6m45.6-5.5l-2.4,3m0,0l.7,3m-46.2-5.5l-2.4,2.6m0,0l.9,2.6m26-5.4l-2.4,2.8m0,0l.9,2.8m-75.7-5l-2.2,2.3m0,0l1,2.3m28.2-4.8l-2.3,2.5m0,0l.9,2.5m48-5.2l-2.4,2.8m0,0l.8,2.8m25.1-5.8l-2.5,3m0,0l.8,3m-72.3-5.4l-2.3,2.5m0,0l.9,2.5m27.2-5.1l-2.3,2.6m0,0l.9,2.6m46.1-5.5l-2.4,3m0,0l.7,3m-21.9-5.7l-2.4,2.8m0,0l.8,2.8m-49.2-5.2l-2.3,2.5m0,0l.9,2.5m27.3-5.1l-2.3,2.6m0,0l.9,2.6m46.4-5.5l-2.5,3m0,0l.8,3m-47-5.5l-2.3,2.6m0,0l.8,2.6m26.4-5.4l-2.4,2.8m0,0l.9,2.8m-49.5-5.2l-2.3,2.5m0,0l.9,2.5m95.4-5.7l-2.5,3.2m0,0l.7,3.2m-20.9-6.1l-2.4,3m0,0l.7,3m-73.5-5.4l-2.3,2.5m0,0l.9,2.5m27.6-5.1l-2.3,2.6m0,0l.9,2.6m26.5-5.4l-2.4,2.8m0,0l.8,2.8m44.8-5.9l-2.5,3.2m0,0l.8,3.2m-45.1-5.9l-2.4,2.8m0,0l.8,2.8m25.6-5.8l-2.5,3m0,0l.8,3m-73.9-5.4l-2.3,2.5m0,0l.9,2.5m27.8-5.1l-2.4,2.6m0,0l.9,2.6m47.2-5.5l-2.4,3m0,0l.7,3m24.6-6.2l-2.4,3.2m0,0l.7,3.2m-45.4-5.9l-2.3,2.8m0,0l.8,2.8m-23.8-5.3l-2.3,2.6m0,0l.8,2.6m70.6-5.8l-2.5,3.2m0,0l.7,3.2m-21.3-6.1l-2.5,3m0,0l.8,3m-48.1-5.5l-2.3,2.6m0,0l.9,2.6m26.9-5.4l-2.4,2.8m0,0l.8,2.8m45.6-5.9l-2.5,3.2m0,0l.8,3.2m-21.5-6.1l-2.5,3m0,0l.8,3m-48.3-5.5l-2.4,2.6m0,0l.9,2.6m27.1-5.4l-2.4,2.8m0,0l.8,2.8m68-6.2l-2.5,3.4m0,0l.7,3.4m-20.4-6.5l-2.4,3.2m0,0l.7,3.2m-46.2-5.9l-2.3,2.8m0,0l.8,2.8m26.1-5.8l-2.5,3m0,0l.8,3m-48.6-5.5l-2.3,2.6m0,0l.9,2.6m94-6l-2.6,3.4m0,0l.7,3.4m-20.4-6.5l-2.5,3.2m0,0l.7,3.2m-46.4-5.9l-2.4,2.8m0,0l.9,2.8m26.2-5.8l-2.4,3m0,0l.7,3m44.2-6.3l-2.5,3.4m0,0l.7,3.4m-44.2-6.3l-2.5,3m0,0l.8,3m25.3-6.2l-2.5,3.2m0,0l.7,3.2m-46.6-5.9l-2.4,2.8m0,0l.8,2.8m69.2-6.2l-2.5,3.4m0,0l.6,3.4m-20.7-6.5l-2.4,3.2m0,0l.7,3.2m-22-6.1l-2.4,3m0,0l.7,3m66.3-6.5l-2.6,3.5m0,0l.6,3.5m-87.6-6.2l-2.3,2.8m0,0l.8,2.8m69.6-6.2l-2.6,3.4m0,0l.7,3.4m-20.8-6.5l-2.5,3.2m0,0l.7,3.2m-47.2-5.9l-2.4,2.8m0,0l.9,2.8m26.6-5.8l-2.5,3m0,0l.8,3m66.7-6.5l-2.6,3.5m0,0l.6,3.5m-19.7-6.8l-2.5,3.4m0,0l.7,3.4m-21-6.5l-2.5,3.2m0,0l.7,3.2m-47.4-5.9l-2.4,2.8m0,0l.8,2.8m26.8-5.8l-2.4,3m0,0l.7,3m67.1-6.5l-2.6,3.5m0,0l.6,3.5m-19.8-6.8l-2.5,3.4m0,0l.6,3.4m-45.2-6.3l-2.5,3m0,0l.8,3m25.8-6.2l-2.5,3.2m0,0l.8,3.2m43.4-6.6l-2.6,3.5m0,0l.6,3.5m-43-6.6l-2.5,3.2m0,0l.7,3.2m24.8-6.6l-2.5,3.4m0,0l.7,3.4m-45.5-6.3l-2.4,3m0,0l.7,3m67.9-6.5l-2.6,3.5m0,0l.6,3.5m-20.1-6.8l-2.5,3.4m0,0l.7,3.4m-21.4-6.5l-2.5,3.2m0,0l.7,3.2m64.9-6.9l-2.6,3.7m0,0l.6,3.7m-85.5-6.6l-2.5,3m0,0l.8,3m68.2-6.5l-2.5,3.5m0,0l.6,3.5m-20.2-6.8l-2.5,3.4m0,0l.6,3.4m-21.5-6.5l-2.5,3.2m0,0l.8,3.2m65.3-6.9l-2.7,3.7m0,0l.6,3.7m-86-6.6l-2.4,3m0,0l.7,3m68.6-6.5l-2.5,3.5m0,0l.6,3.5m-20.4-6.8l-2.5,3.4m0,0l.7,3.4m-21.7-6.5l-2.4,3.2m0,0l.7,3.2m65.7-6.9l-2.6,3.7m0,0l.5,3.7m-19.2-7.1l-2.5,3.5m0,0l.6,3.5m-20.5-6.8l-2.5,3.4m0,0l.7,3.4m-21.8-6.5l-2.5,3.2m0,0l.7,3.2m66.1-6.9l-2.6,3.7m0,0l.6,3.7m-19.4-7.1l-2.5,3.5m0,0l.6,3.5m40.7-7.4l-2.7,3.9m0,0l.5,3.9m-82.9-7l-2.5,3.2m0,0l.8,3.2m25.5-6.6l-2.6,3.4m0,0l.7,3.4m42.8-7.1l-2.6,3.7m0,0l.6,3.7m-19.5-7l-2.5,3.5m0,0l.6,3.5m40.9-7.4l-2.6,3.9m0,0l.5,3.9m-83.5-7l-2.4,3.2m0,0l.7,3.2m25.6-6.6l-2.5,3.4m0,0l.7,3.4m43.1-7.1l-2.7,3.7m0,0l.6,3.7m-19.6-7.1l-2.6,3.5m0,0l.7,3.5m-20.9-6.8l-2.5,3.4m0,0l.6,3.4m64-7.3l-2.7,3.9m0,0l.5,3.9m-83.9-7l-2.5,3.2m0,0l.7,3.2m67.3-6.9l-2.6,3.7m0,0l.5,3.7m-19.7-7.1l-2.6,3.5m0,0l.7,3.5m-21-6.8l-2.6,3.4m0,0l.7,3.4m64.3-7.3l-2.6,3.9m0,0l.5,3.9m-18.6-7.5l-2.6,3.7m0,0l.6,3.7m-19.9-7.1l-2.6,3.5m0,0l.7,3.5m-21.2-6.8l-2.5,3.4m0,0l.7,3.4m64.7-7.3l-2.7,3.9m0,0l.6,3.9m-18.8-7.5l-2.6,3.7m0,0l.6,3.7m-20-7.1l-2.6,3.5m0,0l.7,3.5m42-7.4l-2.7,3.9m0,0l.5,3.9m-61.1-7.2l-2.5,3.4m0,0l.6,3.4m44.2-7l-2.7,3.7m0,0l.6,3.7m-20.1-7.1l-2.6,3.5m0,0l.7,3.5m42.2-7.4l-2.7,3.9m0,0l.6,3.9m-61.6-7.2l-2.5,3.4m0,0l.7,3.4m44.4-7l-2.6,3.7m0,0l.6,3.7m-20.3-7.1l-2.6,3.5m0,0l.6,3.5m42.6-7.4l-2.7,3.9m0,0l.5,3.9m-19.1-7.5l-2.6,3.7m0,0l.6,3.7m-20.4-7.1l-2.6,3.5m0,0l.6,3.5m42.8-7.3l-2.6,3.9m0,0l.5,3.9m-19.2-7.5l-2.7,3.7m0,0l.6,3.7m-20.5-7.1l-2.6,3.5m0,0l.6,3.5m43.1-7.3l-2.7,3.9m0,0l.5,3.9m-19.3-7.5l-2.6,3.7m0,0l.5,3.7m-20.6-7.1l-2.6,3.5m0,0l.6,3.5m43.4-7.3l-2.7,3.9m0,0l.5,3.9m-19.5-7.5l-2.6,3.7m0,0l.6,3.7m-20.8-7.1l-2.6,3.5m0,0l.6,3.5m43.6-7.3l-2.7,3.9m0,0l.6,3.9m-19.7-7.5l-2.6,3.7m0,0l.6,3.7m21-7.4l-2.7,3.9m0,0l.5,3.9m-19.7-7.5l-2.7,3.7m0,0l.6,3.7m21.1-7.4l-2.6,3.9m0,0l.5,3.9m-19.9-7.5l-2.6,3.7m0,0l.5,3.7m21.3-7.4l-2.7,3.9m0,0l.5,3.9m-20-7.5l-2.6,3.7m0,0l.6,3.7m21.3-7.5l-2.6,3.9m0,0l.5,3.9m-.7-7.5l-2.7,3.9m0,0l.6,3.9m-.7-7.5l-2.7,3.9m0,0l.5,3.9m-.7-7.5l-2.7,3.9m0,0l.6,3.9m-.7-7.5l-2.7,3.9m0,0l.5,3.9" stroke="#45454f" stroke-width="1.1" fill="none"/>
<g fill="none" stroke-linecap="round">
<path d="M1746,381.6h0m-4.1,.3h0m-4.2,.2h0m-4.2,.3h0m-4.1,.3h0m-4.2,.2h0m25.7,.2h0m-4.1,.2h0m-25.7-.1h0m-4.2,.2h0m25.9,.2h0m-30,.1h0m26,.2h0m-4,.2h0m24.9,.2h0m-51.1-.3h0m-4.2,.2h0m26.3,.2h0m25.1,.2h0m-3.9,.2h0m-51.6-.3h0m26.4,.2h0m-4,.2h0m25.3,.2h0m-51.9-.3h0m-4.1,.2h0m26.6,.2h0m25.5,.2h0m-3.9,.2h0m24.5,.1h0m-76.9-.4h0m26.8,.2h0m-30.9,0h0m26.9,.2h0m25.8,.2h0m24.5,.1h0m-3.7,.2h0m-77.7-.4h0m27.1,.2h0m25.9,.2h0m-3.9,.2h0m24.8,.1h0m-78.1-.4h0m27.2,.2h0m70.9,.6h0m-102.2-.6h0m27.3,.2h0m26.2,.2h0m24.9,.1h0m-3.7,.2h0m23.9,.2h0m-102.8-.6h0m27.5,.2h0m26.3,.2h0m45.4,.4h0m-24.1-.1h0m-51.6-.2h0m26.4,.2h0m45.6,.4h0m-76.1-.4h0m26.6,.2h0m25.4,.1h0m20.5,.4h0m-76.5-.4h0m26.7,.2h0m25.5,.1h0m43.9,.5h0m-47.7-.3h0m24.5,.2h0m-76.9-.4h0m26.8,.2h0m46.4,.4h0m23.4,.2h0m-73.7-.4h0m25.8,.1h0m44.4,.5h0m-23.5-.1h0m-50.6-.2h0m25.9,.1h0m44.7,.5h0m-48.5-.3h0m24.9,.2h0m-50.9-.2h0m93.6,.7h0m-22.6-.1h0m-74.9-.4h0m26.2,.1h0m24.9,.2h0m43.1,.5h0m-46.7-.3h0m23.9,.2h0m-75.3-.4h0m26.3,.1h0m45.5,.5h0m22.9,.2h0m-46.9-.3h0m-25.3-.1h0m68.8,.6h0m-23-.1h0m-49.5-.3h0m25.3,.2h0m43.9,.5h0m-23.2-.1h0m-49.8-.3h0m25.5,.2h0m66.2,.6h0m-22.1-.1h0m-47.7-.3h0m24.4,.2h0m-50-.3h0m92.1,.8h0m-22.2-.1h0m-47.9-.3h0m24.5,.2h0m42.4,.5h0m-45.9-.3h0m23.5,.2h0m-48.2-.3h0m67.3,.6h0m-22.4-.1h0m-23.7-.1h0m64.3,.5h0m-89.1-.6h0m67.7,.6h0m-22.6-.1h0m-48.7-.3h0m24.9,.2h0m64.7,.5h0m-21.5,0h0m-22.8-.1h0m-49-.3h0m25.1,.2h0m65.1,.5h0m-21.7,0h0m-46.9-.3h0m24.1,.2h0m41.4,.4h0m-44.8-.2h0m23,.2h0m-47.2-.3h0m65.9,.5h0m-21.9,0h0m-23.2-.1h0m62.9,.5h0m-87.2-.6h0m66.3,.5h0m-22.1,0h0m-23.2-.1h0m63.2,.5h0m-87.7-.6h0m66.7,.5h0m-22.2,0h0m-23.4-.1h0m63.6,.5h0m-21.1-.1h0m-22.3,0h0m-23.6-.1h0m64.1,.5h0m-21.3-.1h0m38.5,.4h0m-84.6-.6h0m23.6,.2h0m40.8,.3h0m-21.4,0h0m38.8,.4h0m-85.2-.6h0m23.8,.2h0m41,.3h0m-21.5-.1h0m-22.8,0h0m61.8,.5h0m-85.7-.6h0m65.2,.5h0m-21.6-.1h0m-22.9,0h0m62.2,.5h0m-20.6-.1h0m-21.8-.1h0m-23,0h0m62.6,.5h0m-20.8-.1h0m-21.9-.1h0m39.8,.4h0m-63-.4h0m42.1,.4h0m-22-.1h0m40.1,.4h0m-63.4-.4h0m42.4,.4h0m-22.3-.1h0m40.4,.4h0m-21.1-.1h0m-22.4-.1h0m40.7,.5h0m-21.3-.1h0m-22.5-.1h0m40.9,.5h0m-21.4-.1h0m-22.6-.1h0m41.2,.5h0m-21.5-.1h0m-22.8-.1h0m41.5,.5h0m-21.7-.1h0m18.8,.4h0m-21.8-.1h0m19,.4h0m-22-.1h0m19.1,.4h0m-22-.1h0m19.2,.3h0m-2.8,.3h0m-2.9,.3h0m-2.8,.3h0m-2.9,.3h0" stroke="#bf7fd8" stroke-width="3.2"/>
<path d="M1745,379.5h0m-4.2,.3h0m-4.1,.2h0m-4.2,.3h0m-4.1,.3h0m-4.2,.2h0m25.7,0h0m-4,.2h0m-25.8,.1h0m-4.2,.2h0m25.9,0h0m-30.1,.3h0m26.1,0h0m-4,.2h0m25,0h0m-51.2,.1h0m-4.2,.2h0m26.4,0h0m25.1,0h0m-3.9,.2h0m-51.7,.1h0m26.4,0h0m-4,.2h0m25.4,0h0m-52,.1h0m-4.2,.2h0m26.8,0h0m25.5,0h0m-3.9,.2h0m24.5,0h0m-77,.1h0m26.9,0h0m-31.1,.2h0m27,0h0m25.8,0h0m24.7,0h0m-3.8,.2h0m-77.8,.1h0m27.1,0h0m25.9,0h0m-3.9,.2h0m24.9,0h0m-78.2,.1h0m27.3,0h0m71,.1h0m-102.4,.1h0m27.3,0h0m26.2,0h0m25.1,0h0m-3.8,.2h0m24,0h0m-103,.1h0m27.5,0h0m26.4,0h0m45.4,.1h0m-24.1,.1h0m-51.7,.1h0m26.5,0h0m45.7,.1h0m-76.2,.1h0m26.6,0h0m25.4,0h0m20.6,.2h0m-76.7,.1h0m26.8,0h0m25.5,0h0m44.1,.1h0m-47.9,.1h0m24.5,0h0m-77,.1h0m26.9,0h0m46.5,.1h0m23.4,0h0m-73.8,.1h0m25.8,0h0m44.6,.1h0m-23.6,.1h0m-50.7,.1h0m25.9,0h0m44.8,.1h0m-48.5,.1h0m24.8,0h0m-50.9,.1h0m93.8,0h0m-22.6,.1h0m-75.1,.1h0m26.2,0h0m25,0h0m43.1,.1h0m-46.7,.1h0m23.9,0h0m-75.4,.1h0m26.3,0h0m45.7,.1h0m22.9,0h0m-47,.1h0m-25.3,.1h0m68.9,0h0m-23.1,.1h0m-49.6,.1h0m25.4,0h0m43.9,.1h0m-23.2,.1h0m-49.9,.1h0m25.6,0h0m66.3,0h0m-22.1,.1h0m-47.8,.1h0m24.4,0h0m-50.1,.1h0m92.3,0h0m-22.2,.1h0m-48.1,.1h0m24.7,0h0m42.4,.1h0m-46,.1h0m23.6,0h0m-48.3,.1h0m67.5,0h0m-22.5,.1h0m-23.7,.1h0m64.4,0h0m-89.3,.1h0m67.8,0h0m-22.6,.1h0m-48.9,.1h0m25,0h0m64.9,0h0m-21.6,.1h0m-22.8,.1h0m-49.1,.1h0m25.2,0h0m65.2,0h0m-21.7,.1h0m-47.1,.1h0m24.1,0h0m41.6,.1h0m-44.9,.1h0m23,0h0m-47.2,.1h0m66,0h0m-22,.1h0m-23.2,.1h0m63,0h0m-87.4,.1h0m66.5,0h0m-22.1,.1h0m-23.4,.1h0m63.4,0h0m-87.8,.1h0m66.8,0h0m-22.3,.1h0m-23.4,.1h0m63.8,0h0m-21.2,.1h0m-22.4,.1h0m-23.6,.1h0m64.2,0h0m-21.3,.1h0m38.6,0h0m-84.9,.1h0m23.7,0h0m40.9,0h0m-21.4,.2h0m38.9,0h0m-85.4,.1h0m23.8,0h0m41.1,0h0m-21.6,.1h0m-22.7,.1h0m61.9,0h0m-85.9,.1h0m65.4,0h0m-21.8,.1h0m-22.9,.1h0m62.4,0h0m-20.7,.1h0m-21.9,.1h0m-23,.1h0m62.7,0h0m-20.8,.1h0m-22,.1h0m40,0h0m-63.1,.1h0m42.1,.1h0m-22.1,.1h0m40.2,0h0m-63.5,.1h0m42.5,.1h0m-22.3,.1h0m40.5,0h0m-21.2,.1h0m-22.4,.1h0m40.8,.1h0m-21.4,.1h0m-22.5,.1h0m41,.1h0m-21.4,.1h0m-22.7,.1h0m41.3,.1h0m-21.6,.1h0m-22.8,.1h0m41.5,.1h0m-21.7,.1h0m18.9,.2h0m-21.9,.1h0m19.1,.2h0m-22,.1h0m19.1,.2h0m-22.1,.1h0m19.3,.1h0m-2.9,.3h0m-2.8,.3h0m-2.9,.3h0m-2.8,.3h0" stroke="#36b236" stroke-width="2.8"/>
<path d="M1747.2,377.4h0m-4.2,.3h0m-4.1,.2h0m-4.2,.3h0m-4.2,.3h0m-4.1,.2h0m25.7-.2h0m-4,.2h0m-25.9,.3h0m-4.1,.2h0m26-.2h0m-30.2,.5h0m26.1-.2h0m-4,.2h0m25.1-.2h0m-51.3,.5h0m-4.2,.2h0m26.4-.2h0m25.2-.2h0m-3.9,.2h0m-51.9,.5h0m26.6-.2h0m-4.1,.2h0m25.5-.2h0m-52.1,.5h0m-4.2,.2h0m26.8-.2h0m25.6-.2h0m-3.9,.2h0m24.5-.1h0m-77.1,.6h0m26.9-.2h0m-31.1,.4h0m27.1-.2h0m25.8-.2h0m24.7-.1h0m-3.8,.2h0m-77.9,.6h0m27.1-.2h0m26-.2h0m-3.9,.2h0m25-.1h0m-78.4,.6h0m27.3-.2h0m71.2-.4h0m-102.7,.8h0m27.5-.2h0m26.2-.2h0m25.1-.1h0m-3.8,.2h0m24-.2h0m-103.1,.8h0m27.5-.2h0m26.4-.2h0m45.6-.2h0m-24.1,.3h0m-51.9,.4h0m26.5-.2h0m45.9-.2h0m-76.4,.6h0m26.6-.2h0m25.5-.1h0m20.6,0h0m-76.7,.6h0m26.7-.2h0m25.6-.1h0m44.2-.3h0m-47.9,.5h0m24.5-.2h0m-77.2,.6h0m27-.2h0m46.6-.2h0m23.5-.2h0m-74,.6h0m25.8-.1h0m44.7-.3h0m-23.6,.3h0m-50.8,.4h0m25.9-.1h0m45-.3h0m-48.7,.5h0m24.9-.2h0m-51,.4h0m94-.7h0m-22.7,.3h0m-75.2,.6h0m26.2-.1h0m25.1-.2h0m43.2-.3h0m-46.8,.5h0m24-.2h0m-75.6,.6h0m26.4-.1h0m45.7-.3h0m22.9-.2h0m-47.1,.5h0m-25.3,.3h0m69.1-.6h0m-23.1,.3h0m-49.8,.5h0m25.5-.2h0m44-.3h0m-23.2,.3h0m-50,.5h0m25.6-.2h0m66.4-.6h0m-22.2,.3h0m-47.9,.5h0m24.6-.2h0m-50.3,.5h0m92.6-.8h0m-22.3,.3h0m-48.2,.5h0m24.7-.2h0m42.5-.3h0m-46,.5h0m23.6-.2h0m-48.4,.5h0m67.6-.6h0m-22.6,.3h0m-23.7,.3h0m64.6-.5h0m-89.6,.8h0m68.1-.6h0m-22.7,.3h0m-49,.5h0m25.1-.2h0m65-.5h0m-21.7,.2h0m-22.8,.3h0m-49.2,.5h0m25.2-.2h0m65.4-.5h0m-21.8,.2h0m-47.1,.5h0m24.1-.2h0m41.7-.2h0m-45,.4h0m23-.2h0m-47.3,.5h0m66.2-.5h0m-22.1,.2h0m-23.2,.3h0m63.1-.5h0m-87.5,.8h0m66.5-.5h0m-22.1,.2h0m-23.4,.3h0m63.6-.5h0m-88.1,.8h0m66.9-.5h0m-22.3,.2h0m-23.5,.3h0m64-.5h0m-21.3,.3h0m-22.4,.2h0m-23.6,.3h0m64.3-.5h0m-21.4,.3h0m38.8-.4h0m-85.1,.8h0m23.8-.2h0m40.9-.3h0m-21.5,.4h0m39-.4h0m-85.6,.8h0m23.9-.2h0m41.3-.3h0m-21.7,.3h0m-22.8,.2h0m62.1-.5h0m-86.1,.8h0m65.5-.5h0m-21.8,.3h0m-22.9,.2h0m62.4-.5h0m-20.7,.3h0m-21.9,.3h0m-23.1,.2h0m62.9-.5h0m-20.9,.3h0m-22,.3h0m40.1-.4h0m-63.3,.6h0m42.3-.2h0m-22.2,.3h0m40.3-.4h0m-63.7,.6h0m42.6-.2h0m-22.3,.3h0m40.6-.4h0m-21.3,.3h0m-22.4,.3h0m40.8-.3h0m-21.3,.3h0m-22.6,.3h0m41.1-.3h0m-21.5,.3h0m-22.7,.3h0m41.4-.3h0m-21.7,.3h0m-22.8,.3h0m41.6-.3h0m-21.8,.3h0m19,0h0m-21.9,.3h0m19,0h0m-22,.3h0m19.2,0h0m-22.2,.3h0m19.3-.1h0m-2.8,.3h0m-2.8,.3h0m-2.9,.3h0m-2.8,.3h0" stroke="#bf7fd8" stroke-width="3.2"/>
</g>
<text x="1614.6" y="389.1" font-family="Liberation Sans, Arial, sans-serif" font-size="12" fill="#222">MoSe<tspan font-size="8" dy="2.5">2</tspan></text>
<text x="1614.6" y="413.7" font-family="Liberation Sans, Arial, sans-serif" font-size="12" fill="#222">MoSe<tspan font-size="8" dy="2.5">2</tspan></text>
<path d="M1734.5,545.6L1739.1,538.6H1737.2V527H1731.8V538.6H1729.9Z" fill="#e04ccc"/>
<path d="M1709.6,500.7l2.4,2.8m0,0l-.8,2.8m-5.4-4.8l2.4,2.8m0,0l-.9,2.8m-5.3-4.8l2.3,2.8m0,0l-.8,2.8m9.8-5.7l2.4,2.9m0,0l-.8,2.9m-16.8-4.9l2.4,2.8m0,0l-.8,2.8m21.1-5.9l2.5,3.1m0,0l-.8,3.1m-13-5.9l2.4,2.9m0,0l-.8,2.9m-16.8-5l2.4,2.8m0,0l-.9,2.8m9.9-5.6l2.4,2.9m0,0l-.8,2.9m9.7-6l2.5,3.1m0,0l-.8,3.1m-28.2-5.2l2.3,2.8m0,0l-.8,2.8m32.6-6l2.4,3.2m0,0l-.7,3.2m-24.4-5.9l2.4,2.9m0,0l-.8,2.9m9.7-6l2.5,3.1m0,0l-.8,3.1m-28.3-5.4l2.4,2.8m0,0l-.8,2.8m43.9-6.2l2.5,3.4m0,0l-.7,3.4m-35.9-6l2.4,2.9m0,0l-.7,2.9m21-6.1l2.5,3.2m0,0l-.7,3.2m-13.1-6.2l2.5,3.1m0,0l-.8,3.1m-28.3-5.5l2.4,2.8m0,0l-.9,2.8m44-6l2.5,3.4m0,0l-.7,3.4m-35.9-6.1l2.4,2.9m0,0l-.8,2.9m21.1-6.1l2.5,3.2m0,0l-.7,3.2m-13.1-6.2l2.4,3.1m0,0l-.7,3.1m-28.3-5.6l2.3,2.8m0,0l-.8,2.8m55.3-6.2l2.5,3.5m0,0l-.6,3.5m-47.3-6.1l2.4,2.9m0,0l-.8,2.9m32.5-6.2l2.5,3.4m0,0l-.7,3.4m-24.5-6.4l2.4,3.1m0,0l-.7,3.1m9.6-6.3l2.5,3.2m0,0l-.7,3.2m-39.8-5.8l2.4,2.8m0,0l-.8,2.8m66.6-6.4l2.6,3.6m0,0l-.6,3.6m-13.3-6.7l2.6,3.5m0,0l-.7,3.5m-47.3-6.3l2.4,2.9m0,0l-.8,2.9m9.8-5.8l2.4,3.1m0,0l-.7,3.1m21-6.5l2.5,3.4m0,0l-.7,3.4m-51.2-6.1l2.4,2.8m0,0l-.9,2.8m36.5-6l2.5,3.2m0,0l-.7,3.2m28.4-6.5l2.6,3.6m0,0l-.6,3.6m-58.8-6.3l2.4,2.9m0,0l-.7,2.9m43.8-6.2l2.6,3.5m0,0l-.7,3.5m-62.6-6.2l2.3,2.8m0,0l-.8,2.8m25.2-5.9l2.4,3.1m0,0l-.8,3.1m21.1-6.4l2.5,3.4m0,0l-.7,3.4m28.3-7.2l2.6,3.8m0,0l-.5,3.8m-43.6-6.9l2.5,3.2m0,0l-.7,3.2m-28.4-5.7l2.4,2.9m0,0l-.8,2.9m55.2-6.5l2.6,3.6m0,0l-.6,3.6m16.8-7.4l2.7,3.9m0,0l-.5,3.9m-93.1-6.6l2.4,2.8m0,0l-.8,2.8m25.1-5.8l2.5,3.1m0,0l-.8,3.1m32.4-6.5l2.6,3.5m0,0l-.6,3.5m-24.7-6.6l2.5,3.2m0,0l-.7,3.2m9.6-6.6l2.5,3.4m0,0l-.7,3.4m28.3-7l2.7,3.8m0,0l-.6,3.8m-70.2-6.6l2.4,2.9m0,0l-.8,2.9m9.8-5.6l2.5,3.1m0,0l-.8,3.1m43.8-6.7l2.6,3.6m0,0l-.6,3.6m16.7-7.3l2.7,3.9m0,0l-.5,3.9m-55-7l2.5,3.2m0,0l-.7,3.2m20.9-6.7l2.6,3.5m0,0l-.6,3.5m-13.3-6.8l2.5,3.4m0,0l-.7,3.4m-39.8-6.2l2.4,2.9m0,0l-.8,2.9m66.6-6.5l2.6,3.8m0,0l-.5,3.8m16.6-7.9l2.8,4.1m0,0l-.5,4.1m-77.8-7l2.5,3.1m0,0l-.8,3.1m43.8-6.5l2.6,3.6m0,0l-.6,3.6m-36.1-6.6l2.5,3.2m0,0l-.7,3.2m69.8-7.4l2.8,4.2m0,0l-.5,4.2m-62.5-7.5l2.5,3.4m0,0l-.6,3.4m9.5-6.9l2.5,3.5m0,0l-.6,3.5m28.2-7.4l2.7,3.9m0,0l-.6,3.9m-70.2-6.5l2.4,3.1m0,0l-.7,3.1m55.1-6.9l2.7,3.8m0,0l-.6,3.8m16.7-7.7l2.7,4.1m0,0l-.5,4.1m-66.4-7.2l2.5,3.2m0,0l-.7,3.2m32.3-6.7l2.6,3.6m0,0l-.6,3.6m-24.7-6.9l2.5,3.4m0,0l-.6,3.4m9.5-6.9l2.5,3.5m0,0l-.6,3.5m47-7.5l2.7,4.2m0,0l-.4,4.2m-21.1-8l2.7,3.9m0,0l-.5,3.9m-70.3-6.9l2.4,3.1m0,0l-.7,3.1m9.7-5.9l2.5,3.2m0,0l-.7,3.2m43.6-7l2.7,3.8m0,0l-.6,3.8m35.5-8.2l2.8,4.4m0,0l-.4,4.4m-74-7.6l2.5,3.4m0,0l-.6,3.4m20.8-7l2.6,3.6m0,0l-.6,3.6m28.1-7.7l2.8,4.1m0,0l-.5,4.1m-43.7-7.5l2.6,3.5m0,0l-.7,3.5m65.7-7.9l2.9,4.5m0,0l-.4,4.5m-39.9-8l2.7,3.9m0,0l-.6,3.9m16.6-8.1l2.8,4.2m0,0l-.4,4.2m-77.9-7.2l2.5,3.2m0,0l-.7,3.2m43.7-6.8l2.6,3.8m0,0l-.5,3.8m-36.2-7.1l2.5,3.4m0,0l-.6,3.4m9.5-6.8l2.6,3.5m0,0l-.7,3.5m9.5-7.1l2.6,3.6m0,0l-.6,3.6m46.8-8l2.8,4.4m0,0l-.4,4.4m-21.1-8.4l2.7,4.1m0,0l-.5,4.1m24-8.2l2.8,4.5m0,0l-.3,4.5m-40-8.3l2.7,3.9m0,0l-.5,3.9m16.6-7.9l2.8,4.2m0,0l-.5,4.2m-66.5-7.5l2.6,3.4m0,0l-.7,3.4m32.2-7.1l2.7,3.8m0,0l-.6,3.8m54.2-8.4l2.9,4.6m0,0l-.4,4.6m-81.5-8l2.6,3.5m0,0l-.7,3.5m9.5-7.1l2.6,3.6m0,0l-.6,3.6m28.2-7.4l2.7,4.1m0,0l-.5,4.1m16.5-8.5l2.8,4.4m0,0l-.4,4.4m23.7-9.2l3,4.8m0,0l-.3,4.8m-104.3-7.7l2.6,3.4m0,0l-.7,3.4m43.6-7.3l2.6,3.9m0,0l-.5,3.9m35.4-8.3l2.8,4.5m0,0l-.3,4.5m-74.1-7.8l2.6,3.5m0,0l-.6,3.5m20.8-7.3l2.6,3.8m0,0l-.6,3.8m28.1-8l2.7,4.2m0,0l-.4,4.2m-43.8-7.7l2.6,3.6m0,0l-.6,3.6m65.7-8l2.9,4.6m0,0l-.4,4.6m-40-8.4l2.7,4.1m0,0l-.5,4.1m16.6-8.4l2.8,4.4m0,0l-.4,4.4m23.7-9.1l3,4.8m0,0l-.3,4.8m-58.9-8.6l2.7,3.9m0,0l-.5,3.9m-36.2-7.2l2.5,3.5m0,0l-.6,3.5m9.4-7l2.6,3.6m0,0l-.6,3.6m9.4-7.4l2.6,3.8m0,0l-.5,3.8m72.9-8.7l3,4.9m0,0l-.3,4.9m-28.8-9.3l2.8,4.5m0,0l-.3,4.5m-21.3-8.6l2.8,4.2m0,0l-.4,4.2m50-9.2l3,5.1m0,0l-.3,5.1m-66.3-8.8l2.7,4.1m0,0l-.5,4.1m35.3-8.7l2.8,4.6m0,0l-.3,4.6m-21.2-8.8l2.8,4.4m0,0l-.4,4.4m-32.5-8.2l2.6,3.9m0,0l-.5,3.9m-24.8-7.4l2.6,3.6m0,0l-.6,3.6m9.3-7.3l2.7,3.8m0,0l-.6,3.8m65.6-8.6l2.9,4.8m0,0l-.3,4.8m-40.1-8.7l2.8,4.2m0,0l-.5,4.2m16.5-8.6l2.8,4.5m0,0l-.4,4.5m23.7-9.3l3,4.9m0,0l-.3,4.9m-58.9-8.7l2.7,4.1m0,0l-.4,4.1m61.4-9.1l3,5.1m0,0l-.2,5.1m-28.9-9.6l2.8,4.6m0,0l-.3,4.6m-74.1-8.1l2.6,3.6m0,0l-.6,3.6m20.7-7.5l2.7,3.9m0,0l-.5,3.9m-13.5-7.6l2.6,3.8m0,0l-.6,3.8m39.4-8.2l2.8,4.4m0,0l-.4,4.4m49.9-9.6l3.1,5.2m0,0l-.2,5.2m-28.9-9.6l2.9,4.8m0,0l-.3,4.8m-40.1-8.9l2.7,4.2m0,0l-.4,4.2m16.5-8.5l2.8,4.5m0,0l-.4,4.5m-32.5-8.4l2.7,4.1m0,0l-.5,4.1m54-9l3,4.9m0,0l-.3,4.9m-70.3-8.6l2.7,3.9m0,0l-.5,3.9m-13.5-7.6l2.6,3.8m0,0l-.5,3.8m39.4-8l2.8,4.4m0,0l-.4,4.4m16.4-9l2.8,4.6m0,0l-.3,4.6m23.6-9.7l3,5.1m0,0l-.2,5.1m4.7-9.9l3,5.2m0,0l-.2,5.2m-66.5-9.3l2.8,4.2m0,0l-.5,4.2m35.3-8.9l2.9,4.8m0,0l-.3,4.8m-51.5-8.7l2.7,4.1m0,0l-.4,4.1m27.8-8.6l2.9,4.5m0,0l-.4,4.5m-43.9-8.2l2.7,3.9m0,0l-.5,3.9m65.5-8.6l2.9,4.9m0,0l-.2,4.9m-40.2-9.1l2.8,4.4m0,0l-.4,4.4m16.4-8.8l2.8,4.6m0,0l-.3,4.6m23.6-9.6l3,5.1m0,0l-.2,5.1m-59-9.1l2.8,4.2m0,0l-.5,4.2m-13.6-8l2.7,4.1m0,0l-.5,4.1m46.7-8.9l2.9,4.8m0,0l-.3,4.8m23.5-10l3,5.2m0,0l-.1,5.2m-89.3-9l2.7,3.9m0,0l-.5,3.9m39.3-8.4l2.9,4.5m0,0l-.4,4.5m-13.7-8.3l2.8,4.4m0,0l-.5,4.4m35.2-9.3l2.9,4.9m0,0l-.2,4.9m-21.5-9.3l2.9,4.6m0,0l-.3,4.6m-32.6-8.6l2.7,4.2m0,0l-.4,4.2m-13.7-8.1l2.8,4.1m0,0l-.5,4.1m65.4-9.2l2.9,5.1m0,0l-.2,5.1m-40.2-9.3l2.8,4.5m0,0l-.3,4.5m16.3-9.2l2.9,4.8m0,0l-.3,4.8m23.5-9.9l3.1,5.2m0,0l-.2,5.2m-59.1-9.3l2.8,4.4m0,0l-.4,4.4m-13.7-8.3l2.8,4.2m0,0l-.5,4.2m46.6-9.1l2.9,4.9m0,0l-.2,4.9m-21.5-9.4l2.9,4.6m0,0l-.3,4.6m23.7-9.2l3,5.1m0,0l-.2,5.1m-40.3-9.5l2.8,4.5m0,0l-.3,4.5m16.3-9.1l2.9,4.8m0,0l-.3,4.8m-32.7-9l2.8,4.4m0,0l-.4,4.4m53.9-9.5l3,5.2m0,0l-.2,5.2m-70.4-9.2l2.7,4.2m0,0l-.4,4.2m27.8-8.6l2.9,4.6m0,0l-.3,4.6m16.2-9.5l2.9,4.9m0,0l-.2,4.9m-32.7-8.8l2.8,4.5m0,0l-.4,4.5m35.1-9.5l3,5.1m0,0l-.2,5.1m-21.5-9.7l2.9,4.8m0,0l-.3,4.8m-32.7-9.1l2.8,4.4m0,0l-.4,4.4m53.9-9.2l3,5.2m0,0l-.1,5.2m-40.4-9.6l2.9,4.6m0,0l-.3,4.6m16.2-9.4l3,4.9m0,0l-.3,4.9m-32.7-9l2.8,4.5m0,0l-.4,4.5m16.4-8.9l2.9,4.8m0,0l-.3,4.8m16.1-9.9l3,5.1m0,0l-.2,5.1m-32.8-9.1l2.9,4.6m0,0l-.3,4.6m34.9-9.8l3.1,5.2m0,0l-.2,5.2m-21.6-9.8l3,4.9m0,0l-.3,4.9m-32.8-9.2l2.9,4.5m0,0l-.4,4.5m16.4-8.8l2.9,4.8m0,0l-.3,4.8m16.2-9.8l2.9,5.1m0,0l-.2,5.1m-32.8-9.2l2.9,4.6m0,0l-.3,4.6m35-9.6l3,5.2m0,0l-.2,5.2m-21.6-9.9l3,4.9m0,0l-.3,4.9m-13.9-9.1l2.9,4.8m0,0l-.3,4.8m16.2-9.7l3,5.1m0,0l-.2,5.1m-14.1-9.2l3,4.9m0,0l-.2,4.9m16-10.1l3,5.2m0,0l-.1,5.2m-32.9-9.3l2.9,4.8m0,0l-.3,4.8m16.2-9.6l3,5.1m0,0l-.2,5.1m-14-9.3l2.9,4.9m0,0l-.2,4.9m16-10l3.1,5.2m0,0l-.2,5.2m-14.1-9.4l3,5.1m0,0l-.2,5.1m4.8-9.4l3,5.2m0,0l-.2,5.2m-14.1-9.5l3,5.1m0,0l-.2,5.1m4.8-9.3l3,5.2m0,0l-.1,5.2" stroke="#45454f" stroke-width="1.1" fill="none"/>
<g fill="none" stroke-linecap="round">
<path d="M1711.2,506.3h0m-3.9,.8h0m-3.8,.8h0m11.4,.1h0m-15.2,.7h0m22.8,.3h0m-11.4-.1h0m-15.3,.6h0m11.5,.2h0m11.4,.2h0m-26.7,.4h0m34.3,.4h0m-22.8-.1h0m11.4,.2h0m-26.7,.2h0m45.7,.6h0m-34.2-.2h0m22.8,.3h0m-11.4,0h0m-26.8,.1h0m45.8,.8h0m-34.3-.3h0m22.9,.3h0m-11.4,0h0m-26.8,0h0m57.2,.8h0m-45.7-.3h0m34.3,.6h0m-22.8-.2h0m11.4,.1h0m-38.2-.2h0m68.6,.8h0m-11.4,.3h0m-45.7-.5h0m11.5,.4h0m22.8,.3h0m-49.7-.5h0m38.3,.4h0m30.4,.7h0m-57.1-.5h0m45.7,.8h0m-61.1-.6h0m26.8,.3h0m22.9,.4h0m30.4,.4h0m-41.8-.5h0m-26.8,.1h0m57.2,.7h0m19,.4h0m-91.5-1h0m26.8,.4h0m34.4,.5h0m-22.9-.2h0m11.4,.2h0m30.4,.6h0m-68.6-.8h0m11.5,.6h0m45.8,.5h0m18.9,.5h0m-53.2-.6h0m22.9,.3h0m-11.5,0h0m-38.2-.4h0m68.7,1.1h0m18.9,.3h0m-76.1-.8h0m45.8,.7h0m-34.3-.2h0m72.1,1h0m-60.6-.7h0m11.4,.1h0m30.3,.4h0m-68.5-.3h0m57.2,.7h0m18.9,.5h0m-64.6-.8h0m34.3,.5h0m-22.8-.1h0m11.4,.1h0m49.3,.9h0m-18.9-.2h0m-68.6-.7h0m11.5,.5h0m45.7,.6h0m37.9,.6h0m-72.1-.8h0m22.8,.2h0m30.4,.5h0m-41.8-.5h0m68.2,1.1h0m-37.8-.2h0m19,.3h0m-76.1-.8h0m45.8,.8h0m-34.3-.3h0m11.4,.2h0m11.5,.1h0m49.2,.8h0m-18.9-.2h0m26.5,.8h0m-37.8-.5h0m18.9,.5h0m-64.6-.7h0m34.3,.5h0m56.7,.8h0m-79.6-1h0m11.5,.1h0m30.4,.8h0m18.9,.3h0m26.4,.4h0m-102.4-.9h0m45.7,.5h0m37.9,.7h0m-72.1-.8h0m22.8,.3h0m30.4,.4h0m-41.8-.5h0m68.2,1.2h0m-37.8-.2h0m19,.4h0m26.4,.5h0m-56.7-.8h0m-34.3-.2h0m11.4,.2h0m11.5,.2h0m75.6,1.1h0m-26.3-.3h0m-18.9-.2h0m52.7,1h0m-64.1-.6h0m37.8,.5h0m-18.8,0h0m-30.4-.4h0m-22.8-.2h0m11.4,.3h0m68.2,1h0m-37.8-.3h0m18.9,.4h0m26.4,.5h0m-56.6-.5h0m64.2,1.1h0m-26.4-.4h0m-72.1-.9h0m22.9,.3h0m-11.5,0h0m41.8,.6h0m52.8,.8h0m-26.3,0h0m-37.8-.5h0m18.9,.5h0m-30.3-.2h0m56.7,.8h0m-68.1-.8h0m-11.4,0h0m41.8,.8h0m18.9,.2h0m26.4,.5h0m7.5,.5h0m-64.2-.9h0m37.9,.7h0m-49.2-.5h0m30.3,.4h0m-41.7-.4h0m68.2,1.2h0m-37.8-.3h0m18.9,.4h0m26.4,.6h0m-56.7-.7h0m-11.4,.2h0m49.3,.7h0m26.4,.4h0m-87.1-1.2h0m41.8,.6h0m-11.4,.5h0m37.9,.5h0m-18.9-.1h0m-30.3-.2h0m-11.4,.1h0m68.1,1h0m-37.7-.3h0m18.9,.4h0m26.4,.5h0m-56.7-.5h0m-11.4,.1h0m49.3,.7h0m-18.9-.2h0m26.5,1h0m-37.8-.5h0m18.9,.5h0m-30.3-.2h0m56.7,.9h0m-68.1-.8h0m30.4,.6h0m18.9,.3h0m-30.3,.2h0m37.9,.7h0m-18.9-.1h0m-30.3-.3h0m56.8,1.2h0m-37.8-.4h0m18.9,.4h0m-30.3,0h0m19,.7h0m18.9,.3h0m-30.2,.1h0m37.8,.6h0m-18.9,0h0m-30.3-.2h0m19,.8h0m18.9,.4h0m-30.2,0h0m37.8,.8h0m-18.9-.1h0m-11.3,.5h0m19,.5h0m-11.3,.6h0m18.9,.3h0m-30.3,.3h0m19,.6h0m-11.3,.5h0m18.9,.4h0m-11.3,.8h0m7.6,1h0m-11.3,.7h0m7.7,1.1h0" stroke="#e0a824" stroke-width="2.7"/>
<path d="M1712,503.5h0m-3.8,.8h0m-3.9,.8h0m11.4,0h0m-15.2,.8h0m22.8,0h0m-11.4,.1h0m-15.2,.7h0m11.4,.1h0m11.4,0h0m-26.7,.7h0m34.2,0h0m-22.7,.2h0m11.4,0h0m-26.7,.5h0m45.6,0h0m-34.2,.3h0m22.8,0h0m-11.3,.1h0m-26.7,.4h0m45.6,.2h0m-34.2,.2h0m22.8,0h0m-11.4,.1h0m-26.7,.3h0m57,.1h0m-45.5,.3h0m34.2,.1h0m-22.8,.1h0m11.4,0h0m-38.1,.2h0m68.4,0h0m-11.3,.4h0m-45.6,.1h0m11.4,.2h0m22.8,0h0m-49.5,.1h0m38.1,0h0m30.3,.3h0m-57,.2h0m45.7,.2h0m-61,.1h0m26.8,0h0m22.8,.1h0m30.2,0h0m-41.6,.1h0m-26.7,.4h0m57,0h0m18.9,.1h0m-91.2,.1h0m26.8,.1h0m34.2,.1h0m-22.8,.1h0m11.4,0h0m30.3,.2h0m-68.4,.1h0m11.5,.4h0m45.6,0h0m18.8,.2h0m-53,.1h0m22.8,0h0m-11.4,.1h0m-38.1,.1h0m68.4,.2h0m18.9,0h0m-75.8,.2h0m45.6,.2h0m-34.2,.2h0m71.9,0h0m-60.5,.1h0m11.4,0h0m30.3,0h0m-68.4,.5h0m57.1,0h0m18.8,.2h0m-64.4,.1h0m34.2,.1h0m-22.8,.1h0m11.4,0h0m49.1,.2h0m-18.8,.1h0m-68.4,.1h0m11.5,.4h0m45.6,0h0m37.7,0h0m-71.9,.2h0m22.8,0h0m30.3,0h0m-41.6,.1h0m67.9,.1h0m-37.6,.4h0m18.8,0h0m-75.8,.2h0m45.6,.2h0m-34.2,.1h0m11.5,.1h0m11.4,0h0m49,0h0m-18.8,.1h0m26.3,.4h0m-37.6,.1h0m18.9,.2h0m-64.4,.1h0m34.2,.1h0m56.5,0h0m-79.3,.1h0m11.4,0h0m30.3,.3h0m18.8,0h0m26.3,0h0m-102,.5h0m45.5,0h0m37.7,.1h0m-71.8,.2h0m22.8,0h0m30.2,0h0m-41.6,.1h0m68,.2h0m-37.7,.3h0m18.9,.1h0m26.3,.1h0m-56.5,.1h0m-34.2,.2h0m11.4,.1h0m11.4,0h0m75.4,0h0m-26.3,.1h0m-18.8,.1h0m52.6,.1h0m-63.9,.4h0m37.6,0h0m-18.7,.2h0m-30.3,.1h0m-22.7,.1h0m11.4,.1h0m67.9,0h0m-37.6,.3h0m18.8,.1h0m26.3,.1h0m-56.5,.3h0m64,.1h0m-26.3,.1h0m-71.8,.1h0m22.8,0h0m-11.4,.1h0m41.6,0h0m52.6,0h0m-26.2,.4h0m-37.7,.1h0m18.9,.2h0m-30.2,.2h0m56.5,0h0m-67.9,.2h0m-11.4,.1h0m41.7,.2h0m18.8,0h0m26.3,0h0m7.5,.4h0m-63.9,.1h0m37.7,.1h0m-49.1,.2h0m30.3,0h0m-41.6,.2h0m67.9,.2h0m-37.6,.2h0m18.8,.2h0m26.3,.1h0m-56.4,.2h0m-11.4,.3h0m49.1,0h0m26.2,0h0m-86.7,.1h0m41.7,0h0m-11.3,.6h0m37.6,0h0m-18.8,.2h0m-30.2,.2h0m-11.3,.2h0m67.8,0h0m-37.6,.3h0m18.9,.1h0m26.3,.1h0m-56.5,.3h0m-11.3,.3h0m49,0h0m-18.8,.1h0m26.4,.5h0m-37.7,.1h0m18.9,.2h0m-30.2,.2h0m56.5,.1h0m-67.9,.2h0m30.3,.2h0m18.8,0h0m-30.1,.6h0m37.7,.1h0m-18.8,.2h0m-30.2,.1h0m56.5,.4h0m-37.6,.2h0m18.9,.1h0m-30.2,.4h0m18.9,.4h0m18.8,0h0m-30.1,.6h0m37.7,0h0m-18.8,.3h0m-30.2,.2h0m18.9,.5h0m18.8,.1h0m-30.1,.5h0m37.7,.2h0m-18.8,.2h0m-11.3,.6h0m18.9,.2h0m-11.3,.8h0m18.8,0h0m-30.1,.7h0m18.9,.3h0m-11.3,.7h0m18.9,.1h0m-11.3,.9h0m7.6,.9h0m-11.3,.8h0m7.6,1h0" stroke="#36b236" stroke-width="3.0"/>
<path d="M1709.6,500.7h0m-3.8,.8h0m-3.8,.8h0m11.3-.1h0m-15.2,.9h0m22.7-.3h0m-11.3,.3h0m-15.2,.8h0m11.4,0h0m11.3-.2h0m-26.5,1h0m34.1-.4h0m-22.7,.5h0m11.3-.2h0m-26.6,.8h0m45.5-.6h0m-34.1,.8h0m22.7-.3h0m-11.3,.2h0m-26.6,.7h0m45.5-.4h0m-34.1,.7h0m22.7-.3h0m-11.3,.2h0m-26.6,.6h0m56.8-.6h0m-45.4,.9h0m34.1-.4h0m-22.7,.4h0m11.3-.1h0m-38,.6h0m68.2-.8h0m-11.3,.5h0m-45.4,.7h0m11.4,0h0m22.7-.3h0m-49.4,.7h0m38-.4h0m30.2-.1h0m-56.8,.9h0m45.5-.4h0m-60.7,.8h0m26.7-.3h0m22.7-.2h0m30.1-.4h0m-41.5,.7h0m-26.6,.7h0m56.8-.7h0m18.8-.2h0m-90.9,1.2h0m26.7-.2h0m34.1-.3h0m-22.7,.4h0m11.4-.2h0m30.1-.2h0m-68.1,1h0m11.4,.2h0m45.5-.5h0m18.7-.1h0m-52.8,.8h0m22.7-.3h0m-11.3,.2h0m-38,.6h0m68.2-.7h0m18.7-.3h0m-75.5,1.2h0m45.5-.3h0m-34.1,.6h0m71.6-1h0m-60.2,.9h0m11.4-.1h0m30.1-.4h0m-68.1,1.3h0m56.8-.7h0m18.8-.1h0m-64.2,1h0m34.1-.3h0m-22.7,.3h0m11.4-.1h0m48.9-.5h0m-18.8,.4h0m-68.1,.9h0m11.4,.3h0m45.4-.6h0m37.6-.6h0m-71.6,1.2h0m22.7-.2h0m30.1-.5h0m-41.4,.7h0m67.6-.9h0m-37.4,1h0m18.7-.3h0m-75.5,1.2h0m45.5-.4h0m-34.1,.5h0m11.4,0h0m11.4-.1h0m48.8-.8h0m-18.7,.4h0m26.2,0h0m-37.5,.7h0m18.8-.1h0m-64.2,.9h0m34.1-.3h0m56.3-.8h0m-79,1.2h0m11.4-.1h0m30.2-.2h0m18.7-.3h0m26.1-.4h0m-101.6,1.9h0m45.5-.5h0m37.5-.5h0m-71.6,1.2h0m22.8-.3h0m30.1-.4h0m-41.5,.7h0m67.7-.8h0m-37.5,.8h0m18.8-.2h0m26.1-.3h0m-56.2,1h0m-34,.6h0m11.3,0h0m11.4-.2h0m75-1.1h0m-26.1,.5h0m-18.8,.4h0m52.4-.8h0m-63.6,1.4h0m37.5-.5h0m-18.7,.4h0m-30.1,.6h0m-22.7,.4h0m11.3-.1h0m67.7-1h0m-37.5,.9h0m18.8-.2h0m26.1-.3h0m-56.2,1.1h0m63.7-.9h0m-26.1,.6h0m-71.6,1.1h0m22.7-.3h0m-11.3,.2h0m41.4-.6h0m52.3-.8h0m-26,.8h0m-37.5,.7h0m18.8-.1h0m-30.1,.6h0m56.2-.8h0m-67.6,1.2h0m-11.3,.2h0m41.5-.4h0m18.8-.2h0m26.1-.5h0m7.5,.3h0m-63.7,1.1h0m37.6-.5h0m-48.9,.9h0m30.1-.4h0m-41.4,.8h0m67.7-.8h0m-37.5,.7h0m18.8,0h0m26.1-.4h0m-56.2,1.1h0m-11.3,.4h0m48.9-.7h0m26.1-.4h0m-86.4,1.4h0m41.5-.6h0m-11.2,.7h0m37.5-.5h0m-18.8,.5h0m-30,.6h0m-11.4,.3h0m67.7-1h0m-37.5,.9h0m18.8-.2h0m26.1-.3h0m-56.2,1.1h0m-11.3,.5h0m48.9-.7h0m-18.8,.4h0m26.3,0h0m-37.5,.7h0m18.8-.1h0m-30.1,.6h0m56.3-.7h0m-67.6,1.2h0m30.1-.2h0m18.8-.3h0m-30,1h0m37.5-.5h0m-18.7,.5h0m-30.1,.5h0m56.3-.4h0m-37.5,.8h0m18.8-.2h0m-30,.8h0m18.8,.1h0m18.7-.3h0m-30,1.1h0m37.5-.6h0m-18.7,.6h0m-30.1,.6h0m18.9,.2h0m18.8-.2h0m-30.1,1h0m37.6-.4h0m-18.8,.5h0m-11.2,.7h0m18.8-.1h0m-11.3,1h0m18.8-.3h0m-30,1.1h0m18.8,0h0m-11.2,.9h0m18.7-.2h0m-11.2,1h0m7.6,.8h0m-11.3,.9h0m7.6,.9h0" stroke="#e0a824" stroke-width="2.7"/>
</g>
<path d="M1734.5,455.2L1739.1,462.2H1737.2V489H1731.8V462.2H1729.9Z" fill="#e04ccc"/>
<path d="M1747.2,481.4l-2.2,2.1m0,0l1,2.1m-3-3.9l-2.2,2.1m0,0l1.1,2.1m-3-4l-2.2,2.1m0,0l1,2.1m-3-3.9l-2.2,2.1m0,0l1,2.1m-3-3.9l-2.1,2.1m0,0l1,2.1m-3-4l-2.2,2.1m0,0l1,2.1m26.9-4.4l-2.2,2.3m0,0l1,2.3m-2.8-4.4l-2.2,2.3m0,0l.9,2.3m-24.6-4.3l-2.1,2.1m0,0l1,2.1m-3-4l-2.2,2.1m0,0l1,2.1m27.2-4.4l-2.3,2.3m0,0l1,2.3m-28.9-4.1l-2.2,2.1m0,0l1.1,2.1m27.2-4.4l-2.2,2.3m0,0l1,2.3m-2.8-4.4l-2.2,2.3m0,0l1,2.3m26.3-4.8l-2.3,2.5m0,0l.9,2.5m-49.9-4.5l-2.2,2.1m0,0l1,2.1m-3-4l-2.2,2.1m0,0l1,2.1m27.6-4.4l-2.2,2.3m0,0l.9,2.3m26.5-4.8l-2.3,2.5m0,0l.9,2.5m-2.5-4.8l-2.3,2.5m0,0l.9,2.5m-50.5-4.5l-2.1,2.1m0,0l1,2.1m27.7-4.4l-2.3,2.3m0,0l1,2.3m-2.8-4.4l-2.2,2.3m0,0l1,2.3m26.7-4.8l-2.3,2.5m0,0l.9,2.5m-50.7-4.5l-2.2,2.1m0,0l1,2.1m-3-4l-2.2,2.1m0,0l1.1,2.1m27.9-4.4l-2.2,2.3m0,0l.9,2.3m26.9-4.8l-2.3,2.5m0,0l.9,2.5m-2.5-4.8l-2.3,2.5m0,0l.9,2.5m25.9-5.1l-2.3,2.6m0,0l.9,2.6m-75.7-4.6l-2.2,2.1m0,0l1,2.1m28.1-4.4l-2.2,2.3m0,0l.9,2.3m-29.8-4.2l-2.2,2.1m0,0l1.1,2.1m28.2-4.4l-2.3,2.3m0,0l1,2.3m27.1-4.8l-2.3,2.5m0,0l1,2.5m26-5.1l-2.3,2.6m0,0l.8,2.6m-2.3-5l-2.3,2.6m0,0l.9,2.6m-76.5-4.6l-2.2,2.1m0,0l1,2.1m28.3-4.4l-2.2,2.3m0,0l1,2.3m27.2-4.8l-2.3,2.5m0,0l1,2.5m-2.6-4.8l-2.3,2.5m0,0l1,2.5m26.3-5.1l-2.4,2.6m0,0l.9,2.6m-76.9-4.6l-2.2,2.1m0,0l1,2.1m28.5-4.4l-2.2,2.3m0,0l.9,2.3m72.5-5l-2.4,2.8m0,0l.8,2.8m-101.1-4.8l-2.1,2.1m0,0l1,2.1m28.6-4.4l-2.3,2.3m0,0l1,2.3m27.5-4.8l-2.3,2.5m0,0l1,2.5m26.4-5.1l-2.3,2.6m0,0l.8,2.6m-2.3-5l-2.3,2.6m0,0l.9,2.6m25.4-5.4l-2.3,2.8m0,0l.8,2.8m-101.6-4.8l-2.2,2.1m0,0l1,2.1m28.7-4.4l-2.2,2.3m0,0l1,2.3m27.6-4.8l-2.2,2.5m0,0l.9,2.5m46.9-5.2l-2.4,2.8m0,0l.9,2.8m-22.6-5.3l-2.4,2.6m0,0l.9,2.6m-50.4-4.8l-2.2,2.3m0,0l1,2.3m27.7-4.8l-2.2,2.5m0,0l.9,2.5m47.2-5.2l-2.4,2.8m0,0l.8,2.8m-74.8-5l-2.2,2.3m0,0l.9,2.3m27.9-4.8l-2.2,2.5m0,0l.9,2.5m26.8-5.1l-2.3,2.6m0,0l.9,2.6m22-5.2l-2.3,2.8m0,0l.8,2.8m-75.2-5l-2.3,2.3m0,0l1,2.3m28-4.8l-2.2,2.5m0,0l.9,2.5m26.9-5.1l-2.3,2.6m0,0l.9,2.6m45.6-5.5l-2.4,3m0,0l.7,3m-46.2-5.5l-2.4,2.6m0,0l.9,2.6m26-5.4l-2.4,2.8m0,0l.9,2.8m-75.7-5l-2.2,2.3m0,0l1,2.3m28.2-4.8l-2.3,2.5m0,0l.9,2.5m48-5.2l-2.4,2.8m0,0l.8,2.8m25.1-5.8l-2.5,3m0,0l.8,3m-72.3-5.4l-2.3,2.5m0,0l.9,2.5m27.2-5.1l-2.3,2.6m0,0l.9,2.6m46.1-5.5l-2.4,3m0,0l.7,3m-21.9-5.7l-2.4,2.8m0,0l.8,2.8m-49.2-5.2l-2.3,2.5m0,0l.9,2.5m27.3-5.1l-2.3,2.6m0,0l.9,2.6m46.4-5.5l-2.5,3m0,0l.8,3m-47-5.5l-2.3,2.6m0,0l.8,2.6m26.4-5.4l-2.4,2.8m0,0l.9,2.8m-49.5-5.2l-2.3,2.5m0,0l.9,2.5m95.4-5.7l-2.5,3.2m0,0l.7,3.2m-20.9-6.1l-2.4,3m0,0l.7,3m-73.5-5.4l-2.3,2.5m0,0l.9,2.5m27.6-5.1l-2.3,2.6m0,0l.9,2.6m26.5-5.4l-2.4,2.8m0,0l.8,2.8m44.8-5.9l-2.5,3.2m0,0l.8,3.2m-45.1-5.9l-2.4,2.8m0,0l.8,2.8m25.6-5.8l-2.5,3m0,0l.8,3m-73.9-5.4l-2.3,2.5m0,0l.9,2.5m27.8-5.1l-2.4,2.6m0,0l.9,2.6m47.2-5.5l-2.4,3m0,0l.7,3m24.6-6.2l-2.4,3.2m0,0l.7,3.2m-45.4-5.9l-2.3,2.8m0,0l.8,2.8m-23.8-5.3l-2.3,2.6m0,0l.8,2.6m70.6-5.8l-2.5,3.2m0,0l.7,3.2m-21.3-6.1l-2.5,3m0,0l.8,3m-48.1-5.5l-2.3,2.6m0,0l.9,2.6m26.9-5.4l-2.4,2.8m0,0l.8,2.8m45.6-5.9l-2.5,3.2m0,0l.8,3.2m-21.5-6.1l-2.5,3m0,0l.8,3m-48.3-5.5l-2.4,2.6m0,0l.9,2.6m27.1-5.4l-2.4,2.8m0,0l.8,2.8m68-6.2l-2.5,3.4m0,0l.7,3.4m-20.4-6.5l-2.4,3.2m0,0l.7,3.2m-46.2-5.9l-2.3,2.8m0,0l.8,2.8m26.1-5.8l-2.5,3m0,0l.8,3m-48.6-5.5l-2.3,2.6m0,0l.9,2.6m94-6l-2.6,3.4m0,0l.7,3.4m-20.4-6.5l-2.5,3.2m0,0l.7,3.2m-46.4-5.9l-2.4,2.8m0,0l.9,2.8m26.2-5.8l-2.4,3m0,0l.7,3m44.2-6.3l-2.5,3.4m0,0l.7,3.4m-44.2-6.3l-2.5,3m0,0l.8,3m25.3-6.2l-2.5,3.2m0,0l.7,3.2m-46.6-5.9l-2.4,2.8m0,0l.8,2.8m69.2-6.2l-2.5,3.4m0,0l.6,3.4m-20.7-6.5l-2.4,3.2m0,0l.7,3.2m-22-6.1l-2.4,3m0,0l.7,3m66.3-6.5l-2.6,3.5m0,0l.6,3.5m-87.6-6.2l-2.3,2.8m0,0l.8,2.8m69.6-6.2l-2.6,3.4m0,0l.7,3.4m-20.8-6.5l-2.5,3.2m0,0l.7,3.2m-47.2-5.9l-2.4,2.8m0,0l.9,2.8m26.6-5.8l-2.5,3m0,0l.8,3m66.7-6.5l-2.6,3.5m0,0l.6,3.5m-19.7-6.8l-2.5,3.4m0,0l.7,3.4m-21-6.5l-2.5,3.2m0,0l.7,3.2m-47.4-5.9l-2.4,2.8m0,0l.8,2.8m26.8-5.8l-2.4,3m0,0l.7,3m67.1-6.5l-2.6,3.5m0,0l.6,3.5m-19.8-6.8l-2.5,3.4m0,0l.6,3.4m-45.2-6.3l-2.5,3m0,0l.8,3m25.8-6.2l-2.5,3.2m0,0l.8,3.2m43.4-6.6l-2.6,3.5m0,0l.6,3.5m-43-6.6l-2.5,3.2m0,0l.7,3.2m24.8-6.6l-2.5,3.4m0,0l.7,3.4m-45.5-6.3l-2.4,3m0,0l.7,3m67.9-6.5l-2.6,3.5m0,0l.6,3.5m-20.1-6.8l-2.5,3.4m0,0l.7,3.4m-21.4-6.5l-2.5,3.2m0,0l.7,3.2m64.9-6.9l-2.6,3.7m0,0l.6,3.7m-85.5-6.6l-2.5,3m0,0l.8,3m68.2-6.5l-2.5,3.5m0,0l.6,3.5m-20.2-6.8l-2.5,3.4m0,0l.6,3.4m-21.5-6.5l-2.5,3.2m0,0l.8,3.2m65.3-6.9l-2.7,3.7m0,0l.6,3.7m-86-6.6l-2.4,3m0,0l.7,3m68.6-6.5l-2.5,3.5m0,0l.6,3.5m-20.4-6.8l-2.5,3.4m0,0l.7,3.4m-21.7-6.5l-2.4,3.2m0,0l.7,3.2m65.7-6.9l-2.6,3.7m0,0l.5,3.7m-19.2-7.1l-2.5,3.5m0,0l.6,3.5m-20.5-6.8l-2.5,3.4m0,0l.7,3.4m-21.8-6.5l-2.5,3.2m0,0l.7,3.2m66.1-6.9l-2.6,3.7m0,0l.6,3.7m-19.4-7.1l-2.5,3.5m0,0l.6,3.5m40.7-7.4l-2.7,3.9m0,0l.5,3.9m-82.9-7l-2.5,3.2m0,0l.8,3.2m25.5-6.6l-2.6,3.4m0,0l.7,3.4m42.8-7.1l-2.6,3.7m0,0l.6,3.7m-19.5-7l-2.5,3.5m0,0l.6,3.5m40.9-7.4l-2.6,3.9m0,0l.5,3.9m-83.5-7l-2.4,3.2m0,0l.7,3.2m25.6-6.6l-2.5,3.4m0,0l.7,3.4m43.1-7.1l-2.7,3.7m0,0l.6,3.7m-19.6-7.1l-2.6,3.5m0,0l.7,3.5m-20.9-6.8l-2.5,3.4m0,0l.6,3.4m64-7.3l-2.7,3.9m0,0l.5,3.9m-83.9-7l-2.5,3.2m0,0l.7,3.2m67.3-6.9l-2.6,3.7m0,0l.5,3.7m-19.7-7.1l-2.6,3.5m0,0l.7,3.5m-21-6.8l-2.6,3.4m0,0l.7,3.4m64.3-7.3l-2.6,3.9m0,0l.5,3.9m-18.6-7.5l-2.6,3.7m0,0l.6,3.7m-19.9-7.1l-2.6,3.5m0,0l.7,3.5m-21.2-6.8l-2.5,3.4m0,0l.7,3.4m64.7-7.3l-2.7,3.9m0,0l.6,3.9m-18.8-7.5l-2.6,3.7m0,0l.6,3.7m-20-7.1l-2.6,3.5m0,0l.7,3.5m42-7.4l-2.7,3.9m0,0l.5,3.9m-61.1-7.2l-2.5,3.4m0,0l.6,3.4m44.2-7l-2.7,3.7m0,0l.6,3.7m-20.1-7.1l-2.6,3.5m0,0l.7,3.5m42.2-7.4l-2.7,3.9m0,0l.6,3.9m-61.6-7.2l-2.5,3.4m0,0l.7,3.4m44.4-7l-2.6,3.7m0,0l.6,3.7m-20.3-7.1l-2.6,3.5m0,0l.6,3.5m42.6-7.4l-2.7,3.9m0,0l.5,3.9m-19.1-7.5l-2.6,3.7m0,0l.6,3.7m-20.4-7.1l-2.6,3.5m0,0l.6,3.5m42.8-7.3l-2.6,3.9m0,0l.5,3.9m-19.2-7.5l-2.7,3.7m0,0l.6,3.7m-20.5-7.1l-2.6,3.5m0,0l.6,3.5m43.1-7.3l-2.7,3.9m0,0l.5,3.9m-19.3-7.5l-2.6,3.7m0,0l.5,3.7m-20.6-7.1l-2.6,3.5m0,0l.6,3.5m43.4-7.3l-2.7,3.9m0,0l.5,3.9m-19.5-7.5l-2.6,3.7m0,0l.6,3.7m-20.8-7.1l-2.6,3.5m0,0l.6,3.5m43.6-7.3l-2.7,3.9m0,0l.6,3.9m-19.7-7.5l-2.6,3.7m0,0l.6,3.7m21-7.4l-2.7,3.9m0,0l.5,3.9m-19.7-7.5l-2.7,3.7m0,0l.6,3.7m21.1-7.4l-2.6,3.9m0,0l.5,3.9m-19.9-7.5l-2.6,3.7m0,0l.5,3.7m21.3-7.4l-2.7,3.9m0,0l.5,3.9m-20-7.5l-2.6,3.7m0,0l.6,3.7m21.3-7.5l-2.6,3.9m0,0l.5,3.9m-.7-7.5l-2.7,3.9m0,0l.6,3.9m-.7-7.5l-2.7,3.9m0,0l.5,3.9m-.7-7.5l-2.7,3.9m0,0l.6,3.9m-.7-7.5l-2.7,3.9m0,0l.5,3.9" stroke="#45454f" stroke-width="1.1" fill="none"/>
<g fill="none" stroke-linecap="round">
<path d="M1746,485.6h0m-4.1,.3h0m-4.2,.2h0m-4.2,.3h0m-4.1,.3h0m-4.2,.2h0m25.7,.2h0m-4.1,.2h0m-25.7-.1h0m-4.2,.2h0m25.9,.2h0m-30,.1h0m26,.2h0m-4,.2h0m24.9,.2h0m-51.1-.3h0m-4.2,.2h0m26.3,.2h0m25.1,.2h0m-3.9,.2h0m-51.6-.3h0m26.4,.2h0m-4,.2h0m25.3,.2h0m-51.9-.3h0m-4.1,.2h0m26.6,.2h0m25.5,.2h0m-3.9,.2h0m24.5,.1h0m-76.9-.4h0m26.8,.2h0m-30.9,0h0m26.9,.2h0m25.8,.2h0m24.5,.1h0m-3.7,.2h0m-77.7-.4h0m27.1,.2h0m25.9,.2h0m-3.9,.2h0m24.8,.1h0m-78.1-.4h0m27.2,.2h0m70.9,.6h0m-102.2-.6h0m27.3,.2h0m26.2,.2h0m24.9,.1h0m-3.7,.2h0m23.9,.2h0m-102.8-.6h0m27.5,.2h0m26.3,.2h0m45.4,.4h0m-24.1-.1h0m-51.6-.2h0m26.4,.2h0m45.6,.4h0m-76.1-.4h0m26.6,.2h0m25.4,.1h0m20.5,.4h0m-76.5-.4h0m26.7,.2h0m25.5,.1h0m43.9,.5h0m-47.7-.3h0m24.5,.2h0m-76.9-.4h0m26.8,.2h0m46.4,.4h0m23.4,.2h0m-73.7-.4h0m25.8,.1h0m44.4,.5h0m-23.5-.1h0m-50.6-.2h0m25.9,.1h0m44.7,.5h0m-48.5-.3h0m24.9,.2h0m-50.9-.2h0m93.6,.7h0m-22.6-.1h0m-74.9-.4h0m26.2,.1h0m24.9,.2h0m43.1,.5h0m-46.7-.3h0m23.9,.2h0m-75.3-.4h0m26.3,.1h0m45.5,.5h0m22.9,.2h0m-46.9-.3h0m-25.3-.1h0m68.8,.6h0m-23-.1h0m-49.5-.3h0m25.3,.2h0m43.9,.5h0m-23.2-.1h0m-49.8-.3h0m25.5,.2h0m66.2,.6h0m-22.1-.1h0m-47.7-.3h0m24.4,.2h0m-50-.3h0m92.1,.8h0m-22.2-.1h0m-47.9-.3h0m24.5,.2h0m42.4,.5h0m-45.9-.3h0m23.5,.2h0m-48.2-.3h0m67.3,.6h0m-22.4-.1h0m-23.7-.1h0m64.3,.5h0m-89.1-.6h0m67.7,.6h0m-22.6-.1h0m-48.7-.3h0m24.9,.2h0m64.7,.5h0m-21.5,0h0m-22.8-.1h0m-49-.3h0m25.1,.2h0m65.1,.5h0m-21.7,0h0m-46.9-.3h0m24.1,.2h0m41.4,.4h0m-44.8-.2h0m23,.2h0m-47.2-.3h0m65.9,.5h0m-21.9,0h0m-23.2-.1h0m62.9,.5h0m-87.2-.6h0m66.3,.5h0m-22.1,0h0m-23.2-.1h0m63.2,.5h0m-87.7-.6h0m66.7,.5h0m-22.2,0h0m-23.4-.1h0m63.6,.5h0m-21.1-.1h0m-22.3,0h0m-23.6-.1h0m64.1,.5h0m-21.3-.1h0m38.5,.4h0m-84.6-.6h0m23.6,.2h0m40.8,.3h0m-21.4,0h0m38.8,.4h0m-85.2-.6h0m23.8,.2h0m41,.3h0m-21.5-.1h0m-22.8,0h0m61.8,.5h0m-85.7-.6h0m65.2,.5h0m-21.6-.1h0m-22.9,0h0m62.2,.5h0m-20.6-.1h0m-21.8-.1h0m-23,0h0m62.6,.5h0m-20.8-.1h0m-21.9-.1h0m39.8,.4h0m-63-.4h0m42.1,.4h0m-22-.1h0m40.1,.4h0m-63.4-.4h0m42.4,.4h0m-22.3-.1h0m40.4,.4h0m-21.1-.1h0m-22.4-.1h0m40.7,.5h0m-21.3-.1h0m-22.5-.1h0m40.9,.5h0m-21.4-.1h0m-22.6-.1h0m41.2,.5h0m-21.5-.1h0m-22.8-.1h0m41.5,.5h0m-21.7-.1h0m18.8,.4h0m-21.8-.1h0m19,.4h0m-22-.1h0m19.1,.4h0m-22-.1h0m19.2,.3h0m-2.8,.3h0m-2.9,.3h0m-2.8,.3h0m-2.9,.3h0" stroke="#bf7fd8" stroke-width="3.2"/>
<path d="M1745,483.5h0m-4.2,.3h0m-4.1,.2h0m-4.2,.3h0m-4.1,.3h0m-4.2,.2h0m25.7,0h0m-4,.2h0m-25.8,.1h0m-4.2,.2h0m25.9,0h0m-30.1,.3h0m26.1,0h0m-4,.2h0m25,0h0m-51.2,.1h0m-4.2,.2h0m26.4,0h0m25.1,0h0m-3.9,.2h0m-51.7,.1h0m26.4,0h0m-4,.2h0m25.4,0h0m-52,.1h0m-4.2,.2h0m26.8,0h0m25.5,0h0m-3.9,.2h0m24.5,0h0m-77,.1h0m26.9,0h0m-31.1,.2h0m27,0h0m25.8,0h0m24.7,0h0m-3.8,.2h0m-77.8,.1h0m27.1,0h0m25.9,0h0m-3.9,.2h0m24.9,0h0m-78.2,.1h0m27.3,0h0m71,.1h0m-102.4,.1h0m27.3,0h0m26.2,0h0m25.1,0h0m-3.8,.2h0m24,0h0m-103,.1h0m27.5,0h0m26.4,0h0m45.4,.1h0m-24.1,.1h0m-51.7,.1h0m26.5,0h0m45.7,.1h0m-76.2,.1h0m26.6,0h0m25.4,0h0m20.6,.2h0m-76.7,.1h0m26.8,0h0m25.5,0h0m44.1,.1h0m-47.9,.1h0m24.5,0h0m-77,.1h0m26.9,0h0m46.5,.1h0m23.4,0h0m-73.8,.1h0m25.8,0h0m44.6,.1h0m-23.6,.1h0m-50.7,.1h0m25.9,0h0m44.8,.1h0m-48.5,.1h0m24.8,0h0m-50.9,.1h0m93.8,0h0m-22.6,.1h0m-75.1,.1h0m26.2,0h0m25,0h0m43.1,.1h0m-46.7,.1h0m23.9,0h0m-75.4,.1h0m26.3,0h0m45.7,.1h0m22.9,0h0m-47,.1h0m-25.3,.1h0m68.9,0h0m-23.1,.1h0m-49.6,.1h0m25.4,0h0m43.9,.1h0m-23.2,.1h0m-49.9,.1h0m25.6,0h0m66.3,0h0m-22.1,.1h0m-47.8,.1h0m24.4,0h0m-50.1,.1h0m92.3,0h0m-22.2,.1h0m-48.1,.1h0m24.7,0h0m42.4,.1h0m-46,.1h0m23.6,0h0m-48.3,.1h0m67.5,0h0m-22.5,.1h0m-23.7,.1h0m64.4,0h0m-89.3,.1h0m67.8,0h0m-22.6,.1h0m-48.9,.1h0m25,0h0m64.9,0h0m-21.6,.1h0m-22.8,.1h0m-49.1,.1h0m25.2,0h0m65.2,0h0m-21.7,.1h0m-47.1,.1h0m24.1,0h0m41.6,.1h0m-44.9,.1h0m23,0h0m-47.2,.1h0m66,0h0m-22,.1h0m-23.2,.1h0m63,0h0m-87.4,.1h0m66.5,0h0m-22.1,.1h0m-23.4,.1h0m63.4,0h0m-87.8,.1h0m66.8,0h0m-22.3,.1h0m-23.4,.1h0m63.8,0h0m-21.2,.1h0m-22.4,.1h0m-23.6,.1h0m64.2,0h0m-21.3,.1h0m38.6,0h0m-84.9,.1h0m23.7,0h0m40.9,0h0m-21.4,.2h0m38.9,0h0m-85.4,.1h0m23.8,0h0m41.1,0h0m-21.6,.1h0m-22.7,.1h0m61.9,0h0m-85.9,.1h0m65.4,0h0m-21.8,.1h0m-22.9,.1h0m62.4,0h0m-20.7,.1h0m-21.9,.1h0m-23,.1h0m62.7,0h0m-20.8,.1h0m-22,.1h0m40,0h0m-63.1,.1h0m42.1,.1h0m-22.1,.1h0m40.2,0h0m-63.5,.1h0m42.5,.1h0m-22.3,.1h0m40.5,0h0m-21.2,.1h0m-22.4,.1h0m40.8,.1h0m-21.4,.1h0m-22.5,.1h0m41,.1h0m-21.4,.1h0m-22.7,.1h0m41.3,.1h0m-21.6,.1h0m-22.8,.1h0m41.5,.1h0m-21.7,.1h0m18.9,.2h0m-21.9,.1h0m19.1,.2h0m-22,.1h0m19.1,.2h0m-22.1,.1h0m19.3,.1h0m-2.9,.3h0m-2.8,.3h0m-2.9,.3h0m-2.8,.3h0" stroke="#36b236" stroke-width="2.8"/>
<path d="M1747.2,481.4h0m-4.2,.3h0m-4.1,.2h0m-4.2,.3h0m-4.2,.3h0m-4.1,.2h0m25.7-.2h0m-4,.2h0m-25.9,.3h0m-4.1,.2h0m26-.2h0m-30.2,.5h0m26.1-.2h0m-4,.2h0m25.1-.2h0m-51.3,.5h0m-4.2,.2h0m26.4-.2h0m25.2-.2h0m-3.9,.2h0m-51.9,.5h0m26.6-.2h0m-4.1,.2h0m25.5-.2h0m-52.1,.5h0m-4.2,.2h0m26.8-.2h0m25.6-.2h0m-3.9,.2h0m24.5-.1h0m-77.1,.6h0m26.9-.2h0m-31.1,.4h0m27.1-.2h0m25.8-.2h0m24.7-.1h0m-3.8,.2h0m-77.9,.6h0m27.1-.2h0m26-.2h0m-3.9,.2h0m25-.1h0m-78.4,.6h0m27.3-.2h0m71.2-.4h0m-102.7,.8h0m27.5-.2h0m26.2-.2h0m25.1-.1h0m-3.8,.2h0m24-.2h0m-103.1,.8h0m27.5-.2h0m26.4-.2h0m45.6-.2h0m-24.1,.3h0m-51.9,.4h0m26.5-.2h0m45.9-.2h0m-76.4,.6h0m26.6-.2h0m25.5-.1h0m20.6,0h0m-76.7,.6h0m26.7-.2h0m25.6-.1h0m44.2-.3h0m-47.9,.5h0m24.5-.2h0m-77.2,.6h0m27-.2h0m46.6-.2h0m23.5-.2h0m-74,.6h0m25.8-.1h0m44.7-.3h0m-23.6,.3h0m-50.8,.4h0m25.9-.1h0m45-.3h0m-48.7,.5h0m24.9-.2h0m-51,.4h0m94-.7h0m-22.7,.3h0m-75.2,.6h0m26.2-.1h0m25.1-.2h0m43.2-.3h0m-46.8,.5h0m24-.2h0m-75.6,.6h0m26.4-.1h0m45.7-.3h0m22.9-.2h0m-47.1,.5h0m-25.3,.3h0m69.1-.6h0m-23.1,.3h0m-49.8,.5h0m25.5-.2h0m44-.3h0m-23.2,.3h0m-50,.5h0m25.6-.2h0m66.4-.6h0m-22.2,.3h0m-47.9,.5h0m24.6-.2h0m-50.3,.5h0m92.6-.8h0m-22.3,.3h0m-48.2,.5h0m24.7-.2h0m42.5-.3h0m-46,.5h0m23.6-.2h0m-48.4,.5h0m67.6-.6h0m-22.6,.3h0m-23.7,.3h0m64.6-.5h0m-89.6,.8h0m68.1-.6h0m-22.7,.3h0m-49,.5h0m25.1-.2h0m65-.5h0m-21.7,.2h0m-22.8,.3h0m-49.2,.5h0m25.2-.2h0m65.4-.5h0m-21.8,.2h0m-47.1,.5h0m24.1-.2h0m41.7-.2h0m-45,.4h0m23-.2h0m-47.3,.5h0m66.2-.5h0m-22.1,.2h0m-23.2,.3h0m63.1-.5h0m-87.5,.8h0m66.5-.5h0m-22.1,.2h0m-23.4,.3h0m63.6-.5h0m-88.1,.8h0m66.9-.5h0m-22.3,.2h0m-23.5,.3h0m64-.5h0m-21.3,.3h0m-22.4,.2h0m-23.6,.3h0m64.3-.5h0m-21.4,.3h0m38.8-.4h0m-85.1,.8h0m23.8-.2h0m40.9-.3h0m-21.5,.4h0m39-.4h0m-85.6,.8h0m23.9-.2h0m41.3-.3h0m-21.7,.3h0m-22.8,.2h0m62.1-.5h0m-86.1,.8h0m65.5-.5h0m-21.8,.3h0m-22.9,.2h0m62.4-.5h0m-20.7,.3h0m-21.9,.3h0m-23.1,.2h0m62.9-.5h0m-20.9,.3h0m-22,.3h0m40.1-.4h0m-63.3,.6h0m42.3-.2h0m-22.2,.3h0m40.3-.4h0m-63.7,.6h0m42.6-.2h0m-22.3,.3h0m40.6-.4h0m-21.3,.3h0m-22.4,.3h0m40.8-.3h0m-21.3,.3h0m-22.6,.3h0m41.1-.3h0m-21.5,.3h0m-22.7,.3h0m41.4-.3h0m-21.7,.3h0m-22.8,.3h0m41.6-.3h0m-21.8,.3h0m19,0h0m-21.9,.3h0m19,0h0m-22,.3h0m19.2,0h0m-22.2,.3h0m19.3-.1h0m-2.8,.3h0m-2.8,.3h0m-2.9,.3h0m-2.8,.3h0" stroke="#bf7fd8" stroke-width="3.2"/>
</g>
<text x="1614.6" y="493.1" font-family="Liberation Sans, Arial, sans-serif" font-size="12" fill="#222">MoSe<tspan font-size="8" dy="2.5">2</tspan></text>
<text x="1614.6" y="517.7" font-family="Liberation Sans, Arial, sans-serif" font-size="12" fill="#222">MoS<tspan font-size="8" dy="2.5">2</tspan></text>
</svg></body></html>
